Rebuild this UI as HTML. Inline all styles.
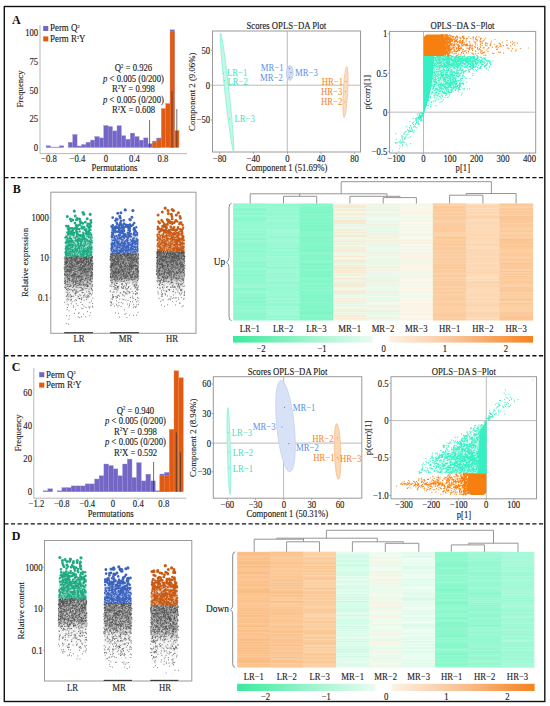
<!DOCTYPE html>
<html><head><meta charset="utf-8"><style>html,body{margin:0;padding:0;background:#fff;width:550px;height:706px;overflow:hidden}svg{display:block}text{font-family:"Liberation Serif",serif;stroke-width:0.12px}</style></head>
<body><svg width="550" height="706" viewBox="0 0 550 706" font-family="Liberation Serif, serif"><rect x="0" y="0" width="550" height="706" fill="#fff"/>
<rect x="46.1" y="145.8" width="4.4" height="1.8" fill="#7466c4" stroke="#9a90dc" stroke-width="0.35" />
<rect x="50.5" y="147" width="4.4" height="0.5" fill="#7466c4" stroke="#9a90dc" stroke-width="0.35" />
<rect x="55" y="147" width="4.4" height="0.5" fill="#7466c4" stroke="#9a90dc" stroke-width="0.35" />
<rect x="59.4" y="145.8" width="4.4" height="1.8" fill="#7466c4" stroke="#9a90dc" stroke-width="0.35" />
<rect x="68.2" y="142.3" width="4.4" height="5.2" fill="#7466c4" stroke="#9a90dc" stroke-width="0.35" />
<rect x="72.7" y="134.5" width="4.4" height="13" fill="#7466c4" stroke="#9a90dc" stroke-width="0.35" />
<rect x="77.1" y="146" width="4.4" height="1.5" fill="#7466c4" stroke="#9a90dc" stroke-width="0.35" />
<rect x="81.5" y="144.5" width="4.4" height="3" fill="#7466c4" stroke="#9a90dc" stroke-width="0.35" />
<rect x="86" y="142.3" width="4.4" height="5.2" fill="#7466c4" stroke="#9a90dc" stroke-width="0.35" />
<rect x="90.4" y="140.1" width="4.4" height="7.4" fill="#7466c4" stroke="#9a90dc" stroke-width="0.35" />
<rect x="94.8" y="136.5" width="4.4" height="11" fill="#7466c4" stroke="#9a90dc" stroke-width="0.35" />
<rect x="99.3" y="137.9" width="4.4" height="9.6" fill="#7466c4" stroke="#9a90dc" stroke-width="0.35" />
<rect x="103.7" y="125.5" width="4.4" height="22" fill="#7466c4" stroke="#9a90dc" stroke-width="0.35" />
<rect x="108.1" y="126.5" width="4.4" height="21" fill="#7466c4" stroke="#9a90dc" stroke-width="0.35" />
<rect x="112.5" y="130.9" width="4.4" height="16.6" fill="#7466c4" stroke="#9a90dc" stroke-width="0.35" />
<rect x="117" y="125.7" width="4.4" height="21.8" fill="#7466c4" stroke="#9a90dc" stroke-width="0.35" />
<rect x="121.4" y="135.7" width="4.4" height="11.8" fill="#7466c4" stroke="#9a90dc" stroke-width="0.35" />
<rect x="125.8" y="139.2" width="4.4" height="8.3" fill="#7466c4" stroke="#9a90dc" stroke-width="0.35" />
<rect x="130.3" y="133.1" width="4.4" height="14.4" fill="#7466c4" stroke="#9a90dc" stroke-width="0.35" />
<rect x="134.7" y="136.5" width="4.4" height="11" fill="#7466c4" stroke="#9a90dc" stroke-width="0.35" />
<rect x="139.1" y="140.1" width="4.4" height="7.4" fill="#7466c4" stroke="#9a90dc" stroke-width="0.35" />
<rect x="143.6" y="137.9" width="4.4" height="9.6" fill="#7466c4" stroke="#9a90dc" stroke-width="0.35" />
<rect x="148" y="143.8" width="4.4" height="3.7" fill="#7466c4" stroke="#9a90dc" stroke-width="0.35" />
<rect x="152.4" y="141.1" width="4.4" height="6.4" fill="#7466c4" stroke="#9a90dc" stroke-width="0.35" />
<rect x="156.8" y="138" width="4.4" height="9.5" fill="#7466c4" stroke="#9a90dc" stroke-width="0.35" />
<rect x="170.1" y="29.8" width="4.4" height="117.7" fill="#7466c4" stroke="#9a90dc" stroke-width="0.35" />
<rect x="152.4" y="142.8" width="4.4" height="4.7" fill="#e05a12" stroke="#f08a50" stroke-width="0.35" />
<rect x="156.8" y="139.5" width="4.4" height="8" fill="#e05a12" stroke="#f08a50" stroke-width="0.35" />
<rect x="161.3" y="108.5" width="4.4" height="39" fill="#e05a12" stroke="#f08a50" stroke-width="0.35" />
<rect x="165.7" y="103.5" width="4.4" height="44" fill="#e05a12" stroke="#f08a50" stroke-width="0.35" />
<rect x="170.1" y="31.5" width="4.4" height="116" fill="#e05a12" stroke="#f08a50" stroke-width="0.35" />
<rect x="174.6" y="130.5" width="4.4" height="17" fill="#e05a12" stroke="#f08a50" stroke-width="0.35" />
<line x1="149.6" y1="120" x2="149.6" y2="147.5" stroke="#333" stroke-width="0.7" />
<line x1="172" y1="91" x2="172" y2="147.5" stroke="#333" stroke-width="0.7" />
<line x1="176.8" y1="109" x2="176.8" y2="147.5" stroke="#333" stroke-width="0.7" />
<line x1="40" y1="25" x2="40" y2="153.6" stroke="#b0b0b0" stroke-width="0.9" />
<line x1="40" y1="153.6" x2="187" y2="153.6" stroke="#b0b0b0" stroke-width="0.9" />
<text font-size="8.7" text-anchor="end" fill="#222" stroke="#222" transform="translate(38.2,150.9) scale(1,1.1)" >0</text>
<text font-size="8.7" text-anchor="end" fill="#222" stroke="#222" transform="translate(38.2,122.4) scale(1,1.1)" >25</text>
<text font-size="8.7" text-anchor="end" fill="#222" stroke="#222" transform="translate(38.2,93.9) scale(1,1.1)" >50</text>
<text font-size="8.7" text-anchor="end" fill="#222" stroke="#222" transform="translate(38.2,65.1) scale(1,1.1)" >75</text>
<text font-size="8.7" text-anchor="end" fill="#222" stroke="#222" transform="translate(38.2,36.4) scale(1,1.1)" >100</text>
<line x1="49" y1="153.6" x2="49" y2="155.2" stroke="#aaa" stroke-width="0.8" />
<text font-size="8.7" text-anchor="middle" fill="#222" stroke="#222" transform="translate(49,162.4) scale(1,1.1)" >−0.8</text>
<line x1="77.5" y1="153.6" x2="77.5" y2="155.2" stroke="#aaa" stroke-width="0.8" />
<text font-size="8.7" text-anchor="middle" fill="#222" stroke="#222" transform="translate(77.5,162.4) scale(1,1.1)" >−0.4</text>
<line x1="106" y1="153.6" x2="106" y2="155.2" stroke="#aaa" stroke-width="0.8" />
<text font-size="8.7" text-anchor="middle" fill="#222" stroke="#222" transform="translate(106,162.4) scale(1,1.1)" >0</text>
<line x1="134.5" y1="153.6" x2="134.5" y2="155.2" stroke="#aaa" stroke-width="0.8" />
<text font-size="8.7" text-anchor="middle" fill="#222" stroke="#222" transform="translate(134.5,162.4) scale(1,1.1)" >0.4</text>
<line x1="163" y1="153.6" x2="163" y2="155.2" stroke="#aaa" stroke-width="0.8" />
<text font-size="8.7" text-anchor="middle" fill="#222" stroke="#222" transform="translate(163,162.4) scale(1,1.1)" >0.8</text>
<text font-size="8.7" text-anchor="middle" fill="#222" stroke="#222" transform="translate(114.5,170.9) scale(1,1.1)" >Permutations</text>
<text x="0" y="0" font-size="8.8" text-anchor="middle" fill="#222" stroke="#222" transform="translate(23.3,89) rotate(-90)">Frequency</text>
<rect x="43.2" y="26" width="5.1" height="5" fill="#7466c4" stroke="none" stroke-width="1" />
<rect x="43.2" y="36.4" width="5.1" height="5" fill="#e05a12" stroke="none" stroke-width="1" />
<text font-size="8.9" text-anchor="start" fill="#222" stroke="#222" transform="translate(50,31.3) scale(1,1.1)" >Perm Q<tspan font-size="4.4" dy="-3.0">2</tspan></text>
<text font-size="8.9" text-anchor="start" fill="#222" stroke="#222" transform="translate(50,42) scale(1,1.1)" >Perm R<tspan font-size="4.4" dy="-3.0">2</tspan><tspan dy="3.0">Y</tspan></text>
<text font-size="8.7" text-anchor="middle" fill="#222" stroke="#222" transform="translate(133.5,71.2) scale(1,1.1)" >Q<tspan font-size="4.6" dy="-3.0">2</tspan><tspan dy="3.0"> = 0.926</tspan></text>
<text font-size="8.7" text-anchor="middle" fill="#222" stroke="#222" transform="translate(133.5,81.8) scale(1,1.1)" ><tspan font-style="italic">p</tspan> &lt; 0.005 (0/200)</text>
<text font-size="8.7" text-anchor="middle" fill="#222" stroke="#222" transform="translate(133.5,92.3) scale(1,1.1)" >R<tspan font-size="4.6" dy="-3.0">2</tspan><tspan dy="3.0">Y = 0.998</tspan></text>
<text font-size="8.7" text-anchor="middle" fill="#222" stroke="#222" transform="translate(133.5,102.9) scale(1,1.1)" ><tspan font-style="italic">p</tspan> &lt; 0.005 (0/200)</text>
<text font-size="8.7" text-anchor="middle" fill="#222" stroke="#222" transform="translate(133.5,113.4) scale(1,1.1)" >R<tspan font-size="4.6" dy="-3.0">2</tspan><tspan dy="3.0">X = 0.608</tspan></text>
<rect x="43.2" y="490.8" width="4.7" height="1" fill="#7466c4" stroke="#9a90dc" stroke-width="0.35" />
<rect x="47.9" y="488.8" width="4.7" height="3" fill="#7466c4" stroke="#9a90dc" stroke-width="0.35" />
<rect x="57.2" y="490.8" width="4.7" height="1" fill="#7466c4" stroke="#9a90dc" stroke-width="0.35" />
<rect x="61.9" y="487.6" width="4.7" height="4.2" fill="#7466c4" stroke="#9a90dc" stroke-width="0.35" />
<rect x="66.6" y="487.6" width="4.7" height="4.2" fill="#7466c4" stroke="#9a90dc" stroke-width="0.35" />
<rect x="71.2" y="485.9" width="4.7" height="5.9" fill="#7466c4" stroke="#9a90dc" stroke-width="0.35" />
<rect x="75.9" y="485.9" width="4.7" height="5.9" fill="#7466c4" stroke="#9a90dc" stroke-width="0.35" />
<rect x="80.6" y="485.9" width="4.7" height="5.9" fill="#7466c4" stroke="#9a90dc" stroke-width="0.35" />
<rect x="85.2" y="483.9" width="4.7" height="7.9" fill="#7466c4" stroke="#9a90dc" stroke-width="0.35" />
<rect x="89.9" y="483.9" width="4.7" height="7.9" fill="#7466c4" stroke="#9a90dc" stroke-width="0.35" />
<rect x="94.6" y="479" width="4.7" height="12.8" fill="#7466c4" stroke="#9a90dc" stroke-width="0.35" />
<rect x="99.2" y="475.8" width="4.7" height="16" fill="#7466c4" stroke="#9a90dc" stroke-width="0.35" />
<rect x="103.9" y="464" width="4.7" height="27.8" fill="#7466c4" stroke="#9a90dc" stroke-width="0.35" />
<rect x="108.6" y="465.6" width="4.7" height="26.2" fill="#7466c4" stroke="#9a90dc" stroke-width="0.35" />
<rect x="113.2" y="468.9" width="4.7" height="22.9" fill="#7466c4" stroke="#9a90dc" stroke-width="0.35" />
<rect x="117.9" y="475.8" width="4.7" height="16" fill="#7466c4" stroke="#9a90dc" stroke-width="0.35" />
<rect x="122.6" y="464" width="4.7" height="27.8" fill="#7466c4" stroke="#9a90dc" stroke-width="0.35" />
<rect x="127.3" y="459.1" width="4.7" height="32.7" fill="#7466c4" stroke="#9a90dc" stroke-width="0.35" />
<rect x="131.9" y="477.5" width="4.7" height="14.3" fill="#7466c4" stroke="#9a90dc" stroke-width="0.35" />
<rect x="136.6" y="462.7" width="4.7" height="29.1" fill="#7466c4" stroke="#9a90dc" stroke-width="0.35" />
<rect x="141.3" y="480.9" width="4.7" height="10.9" fill="#7466c4" stroke="#9a90dc" stroke-width="0.35" />
<rect x="145.9" y="474.2" width="4.7" height="17.6" fill="#7466c4" stroke="#9a90dc" stroke-width="0.35" />
<rect x="150.6" y="480.9" width="4.7" height="10.9" fill="#7466c4" stroke="#9a90dc" stroke-width="0.35" />
<rect x="155.3" y="490.8" width="4.7" height="1" fill="#7466c4" stroke="#9a90dc" stroke-width="0.35" />
<rect x="159.9" y="474" width="4.7" height="17.8" fill="#7466c4" stroke="#9a90dc" stroke-width="0.35" />
<rect x="164.6" y="472.4" width="4.7" height="19.4" fill="#7466c4" stroke="#9a90dc" stroke-width="0.35" />
<rect x="159.9" y="475.5" width="4.7" height="16.3" fill="#e05a12" stroke="#f08a50" stroke-width="0.35" />
<rect x="164.6" y="475.5" width="4.7" height="16.3" fill="#e05a12" stroke="#f08a50" stroke-width="0.35" />
<rect x="169.3" y="429.3" width="4.7" height="62.5" fill="#e05a12" stroke="#f08a50" stroke-width="0.35" />
<rect x="174" y="370.8" width="4.7" height="121" fill="#e05a12" stroke="#f08a50" stroke-width="0.35" />
<rect x="178.6" y="377.8" width="4.7" height="114" fill="#e05a12" stroke="#f08a50" stroke-width="0.35" />
<line x1="153.6" y1="462" x2="153.6" y2="491.8" stroke="#333" stroke-width="0.7" />
<line x1="176.4" y1="432.4" x2="176.4" y2="491.8" stroke="#333" stroke-width="0.7" />
<line x1="180.4" y1="452" x2="180.4" y2="491.8" stroke="#333" stroke-width="0.7" />
<line x1="33.8" y1="368" x2="33.8" y2="498.2" stroke="#b0b0b0" stroke-width="0.9" />
<line x1="33.8" y1="498.2" x2="186.3" y2="498.2" stroke="#b0b0b0" stroke-width="0.9" />
<text font-size="8.7" text-anchor="end" fill="#222" stroke="#222" transform="translate(32,495.2) scale(1,1.1)" >0</text>
<text font-size="8.7" text-anchor="end" fill="#222" stroke="#222" transform="translate(32,462.1) scale(1,1.1)" >20</text>
<text font-size="8.7" text-anchor="end" fill="#222" stroke="#222" transform="translate(32,429.3) scale(1,1.1)" >40</text>
<text font-size="8.7" text-anchor="end" fill="#222" stroke="#222" transform="translate(32,395.7) scale(1,1.1)" >60</text>
<line x1="36.4" y1="498.2" x2="36.4" y2="499.8" stroke="#aaa" stroke-width="0.8" />
<text font-size="8.7" text-anchor="middle" fill="#222" stroke="#222" transform="translate(36.4,507) scale(1,1.1)" >−1.2</text>
<line x1="61.8" y1="498.2" x2="61.8" y2="499.8" stroke="#aaa" stroke-width="0.8" />
<text font-size="8.7" text-anchor="middle" fill="#222" stroke="#222" transform="translate(61.8,507) scale(1,1.1)" >−0.8</text>
<line x1="87.3" y1="498.2" x2="87.3" y2="499.8" stroke="#aaa" stroke-width="0.8" />
<text font-size="8.7" text-anchor="middle" fill="#222" stroke="#222" transform="translate(87.3,507) scale(1,1.1)" >−0.4</text>
<line x1="112.8" y1="498.2" x2="112.8" y2="499.8" stroke="#aaa" stroke-width="0.8" />
<text font-size="8.7" text-anchor="middle" fill="#222" stroke="#222" transform="translate(112.8,507) scale(1,1.1)" >0</text>
<line x1="138.3" y1="498.2" x2="138.3" y2="499.8" stroke="#aaa" stroke-width="0.8" />
<text font-size="8.7" text-anchor="middle" fill="#222" stroke="#222" transform="translate(138.3,507) scale(1,1.1)" >0.4</text>
<line x1="163.8" y1="498.2" x2="163.8" y2="499.8" stroke="#aaa" stroke-width="0.8" />
<text font-size="8.7" text-anchor="middle" fill="#222" stroke="#222" transform="translate(163.8,507) scale(1,1.1)" >0.8</text>
<text font-size="8.7" text-anchor="middle" fill="#222" stroke="#222" transform="translate(110.7,516.6) scale(1,1.1)" >Permutations</text>
<text x="0" y="0" font-size="8.8" text-anchor="middle" fill="#222" stroke="#222" transform="translate(21.1,433) rotate(-90)">Frequency</text>
<rect x="39.2" y="372.2" width="5.1" height="5" fill="#7466c4" stroke="none" stroke-width="1" />
<rect x="39.2" y="382.6" width="5.1" height="5" fill="#e05a12" stroke="none" stroke-width="1" />
<text font-size="8.9" text-anchor="start" fill="#222" stroke="#222" transform="translate(46,377.5) scale(1,1.1)" >Perm Q<tspan font-size="4.4" dy="-3.0">2</tspan></text>
<text font-size="8.9" text-anchor="start" fill="#222" stroke="#222" transform="translate(46,388.2) scale(1,1.1)" >Perm R<tspan font-size="4.4" dy="-3.0">2</tspan><tspan dy="3.0">Y</tspan></text>
<text font-size="8.7" text-anchor="middle" fill="#222" stroke="#222" transform="translate(135.5,413.6) scale(1,1.1)" >Q<tspan font-size="4.6" dy="-3.0">2</tspan><tspan dy="3.0"> = 0.940</tspan></text>
<text font-size="8.7" text-anchor="middle" fill="#222" stroke="#222" transform="translate(135.5,424.1) scale(1,1.1)" ><tspan font-style="italic">p</tspan> &lt; 0.005 (0/200)</text>
<text font-size="8.7" text-anchor="middle" fill="#222" stroke="#222" transform="translate(135.5,434.7) scale(1,1.1)" >R<tspan font-size="4.6" dy="-3.0">2</tspan><tspan dy="3.0">Y = 0.998</tspan></text>
<text font-size="8.7" text-anchor="middle" fill="#222" stroke="#222" transform="translate(135.5,445.2) scale(1,1.1)" ><tspan font-style="italic">p</tspan> &lt; 0.005 (0/200)</text>
<text font-size="8.7" text-anchor="middle" fill="#222" stroke="#222" transform="translate(135.5,455.8) scale(1,1.1)" >R<tspan font-size="4.6" dy="-3.0">2</tspan><tspan dy="3.0">X = 0.592</tspan></text>
<rect x="212.5" y="31" width="148" height="121" fill="none" stroke="#999" stroke-width="1" />
<line x1="287.3" y1="31" x2="287.3" y2="152" stroke="#aaa" stroke-width="0.8" />
<line x1="212.5" y1="85.2" x2="360.5" y2="85.2" stroke="#aaa" stroke-width="0.8" />
<line x1="210.7" y1="50.2" x2="212.5" y2="50.2" stroke="#999" stroke-width="0.8" />
<text font-size="8.7" text-anchor="end" fill="#222" stroke="#222" transform="translate(210.2,53.6) scale(1,1.1)" >50</text>
<line x1="210.7" y1="85.2" x2="212.5" y2="85.2" stroke="#999" stroke-width="0.8" />
<text font-size="8.7" text-anchor="end" fill="#222" stroke="#222" transform="translate(210.2,88.6) scale(1,1.1)" >0</text>
<line x1="210.7" y1="120" x2="212.5" y2="120" stroke="#999" stroke-width="0.8" />
<text font-size="8.7" text-anchor="end" fill="#222" stroke="#222" transform="translate(210.2,123.4) scale(1,1.1)" >−50</text>
<line x1="219.6" y1="152" x2="219.6" y2="153.8" stroke="#999" stroke-width="0.8" />
<text font-size="8.7" text-anchor="middle" fill="#222" stroke="#222" transform="translate(219.6,161.8) scale(1,1.1)" >−80</text>
<line x1="253.3" y1="152" x2="253.3" y2="153.8" stroke="#999" stroke-width="0.8" />
<text font-size="8.7" text-anchor="middle" fill="#222" stroke="#222" transform="translate(253.3,161.8) scale(1,1.1)" >−40</text>
<line x1="287.5" y1="152" x2="287.5" y2="153.8" stroke="#999" stroke-width="0.8" />
<text font-size="8.7" text-anchor="middle" fill="#222" stroke="#222" transform="translate(287.5,161.8) scale(1,1.1)" >0</text>
<line x1="321" y1="152" x2="321" y2="153.8" stroke="#999" stroke-width="0.8" />
<text font-size="8.7" text-anchor="middle" fill="#222" stroke="#222" transform="translate(321,161.8) scale(1,1.1)" >40</text>
<line x1="354.5" y1="152" x2="354.5" y2="153.8" stroke="#999" stroke-width="0.8" />
<text font-size="8.7" text-anchor="middle" fill="#222" stroke="#222" transform="translate(354.5,161.8) scale(1,1.1)" >80</text>
<text font-size="8.7" text-anchor="middle" fill="#222" stroke="#222" transform="translate(286.3,28.8) scale(1,1.1)" >Scores OPLS−DA Plot</text>
<text font-size="8.7" text-anchor="middle" fill="#222" stroke="#222" transform="translate(286.5,171) scale(1,1.1)" >Component 1 (51.69%)</text>
<text x="0" y="0" font-size="8.8" text-anchor="middle" fill="#222" stroke="#222" transform="translate(194.9,91.7) rotate(-90)">Component 2 (9.06%)</text>
<ellipse cx="0" cy="0" rx="59.4" ry="2.1" fill="#c2f8e8" fill-opacity="1.0" stroke="#80eed2" stroke-width="0.7" transform="translate(227.00,92.00) rotate(83.71)"/>
<ellipse cx="0" cy="0" rx="7.4" ry="3.4" fill="#d0dcf5" fill-opacity="1.0" stroke="#b8caee" stroke-width="0.7" transform="translate(289.80,73.00) rotate(90.00)"/>
<ellipse cx="0" cy="0" rx="25.6" ry="2.2" fill="#fcdcbe" fill-opacity="1.0" stroke="#f6bd90" stroke-width="0.7" transform="translate(345.45,92.05) rotate(93.02)"/>
<path d="M223.5 73.5h0" stroke="#3fe3b8" stroke-width="1.2" stroke-linecap="round" fill="none" opacity="1.0"/>
<path d="M224.5 80.5h0" stroke="#3fe3b8" stroke-width="1.2" stroke-linecap="round" fill="none" opacity="1.0"/>
<path d="M229.5 119.0h0" stroke="#3fe3b8" stroke-width="1.2" stroke-linecap="round" fill="none" opacity="1.0"/>
<path d="M289.5 68.5h0" stroke="#4a78d8" stroke-width="1.2" stroke-linecap="round" fill="none" opacity="1.0"/>
<path d="M289.5 77.5h0" stroke="#4a78d8" stroke-width="1.2" stroke-linecap="round" fill="none" opacity="1.0"/>
<path d="M291.0 72.5h0" stroke="#4a78d8" stroke-width="1.2" stroke-linecap="round" fill="none" opacity="1.0"/>
<path d="M346.0 81.5h0" stroke="#f5841f" stroke-width="1.2" stroke-linecap="round" fill="none" opacity="1.0"/>
<path d="M345.5 91.5h0" stroke="#f5841f" stroke-width="1.2" stroke-linecap="round" fill="none" opacity="1.0"/>
<path d="M345.0 102.0h0" stroke="#f5841f" stroke-width="1.2" stroke-linecap="round" fill="none" opacity="1.0"/>
<text font-size="8.7" text-anchor="start" fill="#3fe3b8"  transform="translate(227,76.4) scale(1,1.1)" >LR−1</text>
<text font-size="8.7" text-anchor="start" fill="#3fe3b8"  transform="translate(227.5,84.7) scale(1,1.1)" >LR−2</text>
<text font-size="8.7" text-anchor="start" fill="#3fe3b8"  transform="translate(234.4,122.2) scale(1,1.1)" >LR−3</text>
<text font-size="8.7" text-anchor="end" fill="#5b8fe8"  transform="translate(283.5,71.1) scale(1,1.1)" >MR−1</text>
<text font-size="8.7" text-anchor="end" fill="#5b8fe8"  transform="translate(282.8,81.1) scale(1,1.1)" >MR−2</text>
<text font-size="8.7" text-anchor="start" fill="#5b8fe8"  transform="translate(295,75.7) scale(1,1.1)" >MR−3</text>
<text font-size="8.7" text-anchor="end" fill="#f5841f"  transform="translate(343,84.7) scale(1,1.1)" >HR−1</text>
<text font-size="8.7" text-anchor="end" fill="#f5841f"  transform="translate(342.3,94.9) scale(1,1.1)" >HR−3</text>
<text font-size="8.7" text-anchor="end" fill="#f5841f"  transform="translate(342.3,105.2) scale(1,1.1)" >HR−2</text>
<rect x="213.3" y="376.7" width="148.5" height="121.5" fill="none" stroke="#999" stroke-width="1" />
<line x1="283.6" y1="376.7" x2="283.6" y2="498.2" stroke="#aaa" stroke-width="0.8" />
<line x1="213.3" y1="443.1" x2="361.8" y2="443.1" stroke="#aaa" stroke-width="0.8" />
<line x1="211.5" y1="384" x2="213.3" y2="384" stroke="#999" stroke-width="0.8" />
<text font-size="8.7" text-anchor="end" fill="#222" stroke="#222" transform="translate(211,387.4) scale(1,1.1)" >60</text>
<line x1="211.5" y1="413.5" x2="213.3" y2="413.5" stroke="#999" stroke-width="0.8" />
<text font-size="8.7" text-anchor="end" fill="#222" stroke="#222" transform="translate(211,416.9) scale(1,1.1)" >30</text>
<line x1="211.5" y1="443.1" x2="213.3" y2="443.1" stroke="#999" stroke-width="0.8" />
<text font-size="8.7" text-anchor="end" fill="#222" stroke="#222" transform="translate(211,446.5) scale(1,1.1)" >0</text>
<line x1="211.5" y1="471.8" x2="213.3" y2="471.8" stroke="#999" stroke-width="0.8" />
<text font-size="8.7" text-anchor="end" fill="#222" stroke="#222" transform="translate(211,475.2) scale(1,1.1)" >−30</text>
<line x1="227.3" y1="498.2" x2="227.3" y2="500" stroke="#999" stroke-width="0.8" />
<text font-size="8.7" text-anchor="middle" fill="#222" stroke="#222" transform="translate(227.3,508) scale(1,1.1)" >−60</text>
<line x1="255.5" y1="498.2" x2="255.5" y2="500" stroke="#999" stroke-width="0.8" />
<text font-size="8.7" text-anchor="middle" fill="#222" stroke="#222" transform="translate(255.5,508) scale(1,1.1)" >−30</text>
<line x1="283.8" y1="498.2" x2="283.8" y2="500" stroke="#999" stroke-width="0.8" />
<text font-size="8.7" text-anchor="middle" fill="#222" stroke="#222" transform="translate(283.8,508) scale(1,1.1)" >0</text>
<line x1="311.8" y1="498.2" x2="311.8" y2="500" stroke="#999" stroke-width="0.8" />
<text font-size="8.7" text-anchor="middle" fill="#222" stroke="#222" transform="translate(311.8,508) scale(1,1.1)" >30</text>
<line x1="340" y1="498.2" x2="340" y2="500" stroke="#999" stroke-width="0.8" />
<text font-size="8.7" text-anchor="middle" fill="#222" stroke="#222" transform="translate(340,508) scale(1,1.1)" >60</text>
<text font-size="8.7" text-anchor="middle" fill="#222" stroke="#222" transform="translate(287.5,374.9) scale(1,1.1)" >Scores OPLS−DA Plot</text>
<text font-size="8.7" text-anchor="middle" fill="#222" stroke="#222" transform="translate(287.3,516.8) scale(1,1.1)" >Component 1 (50.31%)</text>
<text x="0" y="0" font-size="8.8" text-anchor="middle" fill="#222" stroke="#222" transform="translate(195.6,437.9) rotate(-90)">Component 2 (8.94%)</text>
<ellipse cx="0" cy="0" rx="43.5" ry="1.5" fill="#c2f8e8" fill-opacity="1.0" stroke="#80eed2" stroke-width="0.7" transform="translate(228.90,451.05) rotate(88.55)"/>
<ellipse cx="0" cy="0" rx="45.9" ry="8.8" fill="#d8e2f7" fill-opacity="1.0" stroke="#c0d0f0" stroke-width="0.7" transform="translate(285.50,426.10) rotate(84.38)"/>
<ellipse cx="0" cy="0" rx="28" ry="3.2" fill="#fcd7b6" fill-opacity="1.0" stroke="#f5b888" stroke-width="0.7" transform="translate(337.60,451.55) rotate(88.16)"/>
<path d="M228.3 432.5h0" stroke="#3fe3b8" stroke-width="1.2" stroke-linecap="round" fill="none" opacity="1.0"/>
<path d="M228.8 452.0h0" stroke="#3fe3b8" stroke-width="1.2" stroke-linecap="round" fill="none" opacity="1.0"/>
<path d="M229.2 468.0h0" stroke="#3fe3b8" stroke-width="1.2" stroke-linecap="round" fill="none" opacity="1.0"/>
<path d="M284.5 407.3h0" stroke="#4a78d8" stroke-width="1.2" stroke-linecap="round" fill="none" opacity="1.0"/>
<path d="M282.0 427.0h0" stroke="#4a78d8" stroke-width="1.2" stroke-linecap="round" fill="none" opacity="1.0"/>
<path d="M288.7 443.5h0" stroke="#4a78d8" stroke-width="1.2" stroke-linecap="round" fill="none" opacity="1.0"/>
<path d="M337.5 438.0h0" stroke="#f5841f" stroke-width="1.2" stroke-linecap="round" fill="none" opacity="1.0"/>
<path d="M337.5 457.3h0" stroke="#f5841f" stroke-width="1.2" stroke-linecap="round" fill="none" opacity="1.0"/>
<path d="M338.5 459.0h0" stroke="#f5841f" stroke-width="1.2" stroke-linecap="round" fill="none" opacity="1.0"/>
<text font-size="8.7" text-anchor="start" fill="#3fe3b8"  transform="translate(231.8,436.1) scale(1,1.1)" >LR−3</text>
<text font-size="8.7" text-anchor="start" fill="#3fe3b8"  transform="translate(232.7,455.6) scale(1,1.1)" >LR−2</text>
<text font-size="8.7" text-anchor="start" fill="#3fe3b8"  transform="translate(232.7,471.6) scale(1,1.1)" >LR−1</text>
<text font-size="8.7" text-anchor="start" fill="#5b8fe8"  transform="translate(292.7,410.7) scale(1,1.1)" >MR−1</text>
<text font-size="8.7" text-anchor="end" fill="#5b8fe8"  transform="translate(275.5,430.3) scale(1,1.1)" >MR−3</text>
<text font-size="8.7" text-anchor="start" fill="#5b8fe8"  transform="translate(296,451.2) scale(1,1.1)" >MR−2</text>
<text font-size="8.7" text-anchor="end" fill="#f5841f"  transform="translate(333.6,441.6) scale(1,1.1)" >HR−2</text>
<text font-size="8.7" text-anchor="end" fill="#f5841f"  transform="translate(334.5,460.7) scale(1,1.1)" >HR−1</text>
<text font-size="8.7" text-anchor="start" fill="#f5841f"  transform="translate(340,462.4) scale(1,1.1)" >HR−3</text>
<rect x="389.6" y="31.4" width="146.1" height="121.6" fill="none" stroke="#999" stroke-width="1" />
<line x1="423.5" y1="31.4" x2="423.5" y2="153" stroke="#aaa" stroke-width="0.8" />
<line x1="389.6" y1="112.2" x2="535.7" y2="112.2" stroke="#aaa" stroke-width="0.8" />
<line x1="387.8" y1="33.8" x2="389.6" y2="33.8" stroke="#999" stroke-width="0.8" />
<text font-size="8.7" text-anchor="end" fill="#222" stroke="#222" transform="translate(387.3,37.2) scale(1,1.1)" >1</text>
<line x1="387.8" y1="73.1" x2="389.6" y2="73.1" stroke="#999" stroke-width="0.8" />
<text font-size="8.7" text-anchor="end" fill="#222" stroke="#222" transform="translate(387.3,76.5) scale(1,1.1)" >0.5</text>
<line x1="387.8" y1="112.3" x2="389.6" y2="112.3" stroke="#999" stroke-width="0.8" />
<text font-size="8.7" text-anchor="end" fill="#222" stroke="#222" transform="translate(387.3,115.7) scale(1,1.1)" >0</text>
<line x1="387.8" y1="151.4" x2="389.6" y2="151.4" stroke="#999" stroke-width="0.8" />
<text font-size="8.7" text-anchor="end" fill="#222" stroke="#222" transform="translate(387.3,154.8) scale(1,1.1)" >−0.5</text>
<line x1="396.2" y1="153" x2="396.2" y2="154.8" stroke="#999" stroke-width="0.8" />
<text font-size="8.7" text-anchor="middle" fill="#222" stroke="#222" transform="translate(396.2,162.4) scale(1,1.1)" >−100</text>
<line x1="423.3" y1="153" x2="423.3" y2="154.8" stroke="#999" stroke-width="0.8" />
<text font-size="8.7" text-anchor="middle" fill="#222" stroke="#222" transform="translate(423.3,162.4) scale(1,1.1)" >0</text>
<line x1="450" y1="153" x2="450" y2="154.8" stroke="#999" stroke-width="0.8" />
<text font-size="8.7" text-anchor="middle" fill="#222" stroke="#222" transform="translate(450,162.4) scale(1,1.1)" >100</text>
<line x1="476.5" y1="153" x2="476.5" y2="154.8" stroke="#999" stroke-width="0.8" />
<text font-size="8.7" text-anchor="middle" fill="#222" stroke="#222" transform="translate(476.5,162.4) scale(1,1.1)" >200</text>
<line x1="503" y1="153" x2="503" y2="154.8" stroke="#999" stroke-width="0.8" />
<text font-size="8.7" text-anchor="middle" fill="#222" stroke="#222" transform="translate(503,162.4) scale(1,1.1)" >300</text>
<line x1="529.5" y1="153" x2="529.5" y2="154.8" stroke="#999" stroke-width="0.8" />
<text font-size="8.7" text-anchor="middle" fill="#222" stroke="#222" transform="translate(529.5,162.4) scale(1,1.1)" >400</text>
<text font-size="8.7" text-anchor="middle" fill="#222" stroke="#222" transform="translate(462.5,28.8) scale(1,1.1)" >OPLS−DA S−Plot</text>
<text font-size="8.7" text-anchor="middle" fill="#222" stroke="#222" transform="translate(462.8,170.9) scale(1,1.1)" >p[1]</text>
<text x="0" y="0" font-size="8.8" text-anchor="middle" fill="#222" stroke="#222" transform="translate(370.2,92.2) rotate(-90)">p(corr)[1]</text>
<rect x="391" y="376.7" width="145.5" height="122.1" fill="none" stroke="#999" stroke-width="1" />
<line x1="486.3" y1="376.7" x2="486.3" y2="498.8" stroke="#aaa" stroke-width="0.8" />
<line x1="391" y1="420.6" x2="536.5" y2="420.6" stroke="#aaa" stroke-width="0.8" />
<line x1="389.2" y1="383.4" x2="391" y2="383.4" stroke="#999" stroke-width="0.8" />
<text font-size="8.7" text-anchor="end" fill="#222" stroke="#222" transform="translate(388.7,386.8) scale(1,1.1)" >0.5</text>
<line x1="389.2" y1="420.5" x2="391" y2="420.5" stroke="#999" stroke-width="0.8" />
<text font-size="8.7" text-anchor="end" fill="#222" stroke="#222" transform="translate(388.7,423.9) scale(1,1.1)" >0</text>
<line x1="389.2" y1="457.8" x2="391" y2="457.8" stroke="#999" stroke-width="0.8" />
<text font-size="8.7" text-anchor="end" fill="#222" stroke="#222" transform="translate(388.7,461.2) scale(1,1.1)" >−0.5</text>
<line x1="389.2" y1="495.5" x2="391" y2="495.5" stroke="#999" stroke-width="0.8" />
<text font-size="8.7" text-anchor="end" fill="#222" stroke="#222" transform="translate(388.7,498.9) scale(1,1.1)" >−1.0</text>
<line x1="404" y1="498.8" x2="404" y2="500.6" stroke="#999" stroke-width="0.8" />
<text font-size="8.7" text-anchor="middle" fill="#222" stroke="#222" transform="translate(404,508.2) scale(1,1.1)" >−300</text>
<line x1="431.2" y1="498.8" x2="431.2" y2="500.6" stroke="#999" stroke-width="0.8" />
<text font-size="8.7" text-anchor="middle" fill="#222" stroke="#222" transform="translate(431.2,508.2) scale(1,1.1)" >−200</text>
<line x1="458.7" y1="498.8" x2="458.7" y2="500.6" stroke="#999" stroke-width="0.8" />
<text font-size="8.7" text-anchor="middle" fill="#222" stroke="#222" transform="translate(458.7,508.2) scale(1,1.1)" >−100</text>
<line x1="486.2" y1="498.8" x2="486.2" y2="500.6" stroke="#999" stroke-width="0.8" />
<text font-size="8.7" text-anchor="middle" fill="#222" stroke="#222" transform="translate(486.2,508.2) scale(1,1.1)" >0</text>
<line x1="513.7" y1="498.8" x2="513.7" y2="500.6" stroke="#999" stroke-width="0.8" />
<text font-size="8.7" text-anchor="middle" fill="#222" stroke="#222" transform="translate(513.7,508.2) scale(1,1.1)" >100</text>
<text font-size="8.7" text-anchor="middle" fill="#222" stroke="#222" transform="translate(463.8,374.8) scale(1,1.1)" >OPLS−DA S−Plot</text>
<text font-size="8.7" text-anchor="middle" fill="#222" stroke="#222" transform="translate(464,517.7) scale(1,1.1)" >p[1]</text>
<text x="0" y="0" font-size="8.8" text-anchor="middle" fill="#222" stroke="#222" transform="translate(370.5,437.8) rotate(-90)">p(corr)[1]</text>
<path d="M433.0 55.9L470.0 55.9L478.0 62.0L462.0 68.0L455.0 76.0L458.0 88.0L447.0 92.0L434.0 100.0L430.0 80.0Z" fill="#34f0c2" fill-opacity="0.22"/>
<path d="M456.1 73.0h0M441.4 81.0h0M434.8 90.4h0M459.3 83.9h0M437.6 76.7h0M481.2 64.6h0M475.1 61.1h0M448.7 89.6h0M450.6 74.1h0M470.6 64.4h0M440.3 78.6h0M449.8 79.0h0M425.4 76.9h0M439.4 67.1h0M451.3 67.3h0M436.4 59.4h0M426.9 57.6h0M441.2 69.9h0M463.0 58.1h0M435.2 94.1h0M437.0 88.2h0M482.9 58.8h0M445.7 62.2h0M465.9 61.3h0M485.6 65.0h0M430.7 77.3h0M449.8 76.8h0M438.6 69.8h0M455.4 60.5h0M463.8 72.8h0M476.6 63.3h0M432.8 60.5h0M466.7 66.4h0M473.0 61.4h0M451.1 92.0h0M449.9 79.5h0M487.5 62.8h0M438.8 99.2h0M456.5 57.7h0M440.8 78.1h0M432.4 57.8h0M442.1 85.6h0M484.2 66.0h0M434.5 84.9h0M451.8 87.3h0M473.1 57.8h0M452.8 66.2h0M448.1 81.1h0M458.0 67.0h0M443.7 73.1h0M472.9 66.9h0M457.6 63.9h0M468.0 63.5h0M425.5 66.2h0M456.6 56.7h0M485.1 62.3h0M429.1 63.3h0M471.3 67.9h0M472.4 63.2h0M431.8 85.0h0M454.8 72.1h0M429.0 68.3h0M435.7 59.5h0M445.9 58.2h0M434.3 60.5h0M457.7 65.2h0M430.7 69.9h0M428.6 65.5h0M454.0 63.8h0M458.9 65.2h0M443.4 58.8h0M464.4 71.7h0M430.8 61.1h0M456.4 81.1h0M453.7 63.8h0M439.6 69.1h0M436.6 61.9h0M467.8 57.8h0M434.4 95.7h0M447.0 74.4h0M426.1 86.9h0M437.7 74.7h0M437.9 95.8h0M430.2 73.8h0M438.9 57.3h0M467.6 61.6h0M446.8 60.8h0M466.5 61.6h0M428.3 63.2h0M455.1 65.9h0M458.6 61.3h0M489.4 62.9h0M461.1 59.1h0M469.5 59.1h0M450.0 75.6h0M441.6 91.0h0M443.8 63.0h0M433.5 56.6h0M453.0 80.1h0M470.3 61.2h0M424.7 65.0h0M445.8 62.0h0M450.7 84.7h0M456.2 82.1h0M465.6 60.1h0M446.5 88.0h0M429.4 62.6h0M454.8 64.2h0M424.6 66.8h0M469.1 72.2h0M465.2 58.9h0M459.0 60.8h0M457.0 62.9h0M441.8 87.2h0M487.9 60.7h0M430.6 96.9h0M474.5 58.3h0M458.3 58.7h0M466.4 58.5h0M447.8 60.1h0M452.3 76.5h0M443.2 69.5h0M448.6 87.1h0M437.6 59.3h0M446.0 93.0h0M446.0 83.4h0M462.7 56.9h0M438.9 77.6h0M448.3 61.8h0M475.4 63.4h0M444.6 78.2h0M436.8 61.0h0M447.1 74.3h0M457.8 76.7h0M438.8 84.5h0M454.3 75.8h0M453.3 67.0h0M433.8 87.1h0M436.8 61.6h0M455.7 56.6h0M479.0 59.8h0M439.9 61.7h0M450.8 80.7h0M473.9 61.8h0M436.9 56.1h0M469.5 59.7h0M460.8 60.4h0M428.1 66.6h0M452.4 74.0h0M480.3 57.1h0M481.3 63.8h0M442.4 76.9h0M473.9 56.2h0M434.9 68.1h0M446.6 59.3h0M454.8 72.1h0M446.7 77.1h0M441.3 70.4h0M451.2 57.0h0M426.2 66.8h0M455.7 65.6h0M459.6 85.1h0M454.0 58.1h0M444.1 86.2h0M437.3 95.6h0M455.8 83.9h0M455.2 78.7h0M444.2 70.8h0M477.9 62.3h0M460.2 73.5h0M449.6 84.2h0M453.5 81.3h0M452.1 89.5h0M439.9 57.7h0M424.6 84.0h0M447.8 60.8h0M447.4 66.9h0M445.0 77.5h0M443.0 85.3h0M461.0 58.7h0M452.1 74.7h0M439.7 74.6h0M487.2 63.1h0M435.9 83.8h0M434.9 77.3h0M440.2 65.9h0M432.2 59.6h0M428.9 63.4h0M445.4 84.6h0M462.4 76.2h0M425.0 59.8h0M431.7 92.3h0M431.6 61.9h0M431.1 82.9h0M428.3 62.7h0M438.7 57.3h0M454.5 61.7h0M445.7 88.3h0M479.2 63.9h0M448.8 61.3h0M442.8 66.3h0M463.4 71.7h0M448.1 69.9h0M451.7 89.4h0M431.0 85.8h0M436.9 98.9h0M428.7 60.6h0M466.1 70.7h0M460.7 61.0h0M430.3 83.7h0M453.1 91.7h0M439.2 61.8h0M439.0 84.0h0M441.9 60.3h0M444.5 92.6h0M466.4 59.6h0M444.2 63.2h0M475.5 66.9h0M455.9 81.9h0M482.0 64.5h0M450.8 72.0h0M450.1 81.1h0M439.0 71.0h0M441.7 84.9h0M468.2 63.7h0M471.8 58.0h0M456.9 71.1h0M441.1 59.5h0M448.3 83.5h0M453.3 84.5h0M489.3 66.1h0M425.1 62.3h0M461.1 70.5h0M438.4 60.1h0M457.8 61.9h0M453.0 78.5h0M430.2 58.7h0M436.5 59.3h0M451.2 69.8h0M427.2 58.4h0M457.8 68.4h0M454.7 86.8h0M446.5 60.7h0M465.2 64.4h0M441.3 66.6h0M447.4 88.9h0M459.7 59.9h0M472.6 60.2h0M475.1 60.5h0M452.9 74.9h0M438.5 80.2h0M430.5 59.0h0M444.8 67.1h0M463.0 69.2h0M445.7 74.7h0M457.2 59.1h0M430.6 57.2h0M477.7 56.1h0M451.9 71.0h0M440.2 61.7h0M451.2 81.0h0M431.4 85.8h0M465.7 59.0h0M451.4 59.9h0M462.5 58.7h0M466.0 67.1h0M484.6 58.8h0M461.6 58.8h0M451.3 64.0h0M427.3 60.8h0M448.7 69.3h0M424.2 56.8h0M444.3 78.5h0M470.7 61.5h0M456.7 67.2h0M460.0 59.7h0M424.3 82.8h0M460.4 60.9h0M464.2 76.7h0M445.0 56.5h0M464.1 59.9h0M440.4 77.8h0M473.9 65.6h0M453.3 77.9h0M454.4 82.4h0M435.2 80.4h0M473.5 58.2h0M447.5 62.2h0M445.2 57.0h0M427.4 61.4h0M461.2 73.2h0M459.0 65.5h0M426.9 58.0h0M424.8 60.6h0M454.1 60.7h0M481.0 68.5h0M440.6 63.6h0M458.6 91.3h0M437.0 62.5h0M449.6 63.7h0M435.2 92.8h0M462.6 56.5h0M448.6 65.9h0M428.6 56.6h0M453.2 80.7h0M436.1 82.6h0M425.9 56.2h0M444.6 79.7h0M443.6 92.7h0M465.8 63.3h0M430.4 78.1h0M438.8 61.1h0M445.2 65.3h0M480.6 67.5h0M436.3 61.4h0M425.5 58.1h0M449.7 85.0h0M430.3 56.0h0M484.7 67.2h0M428.3 61.1h0M435.4 58.5h0M467.3 56.9h0M438.5 63.6h0M444.6 64.3h0M477.1 63.0h0M461.1 61.9h0M435.2 74.4h0M459.0 65.0h0M432.4 74.4h0M450.3 78.5h0M442.7 96.8h0M446.1 79.6h0M439.5 60.3h0M432.4 70.1h0M465.6 64.7h0M454.6 77.9h0M435.4 67.0h0M462.0 71.8h0M490.4 64.5h0M452.7 63.2h0M443.3 79.0h0M476.9 60.5h0M459.6 89.1h0M429.9 59.9h0M432.5 72.6h0M445.4 81.6h0M446.9 83.3h0M424.2 59.1h0M456.8 66.5h0M453.1 60.5h0M448.5 67.9h0M448.3 76.2h0M456.5 62.2h0M461.8 61.3h0M441.4 64.7h0M436.4 64.4h0M456.3 84.3h0M453.2 83.0h0M450.7 64.1h0M490.4 64.1h0M426.9 92.1h0M461.9 62.6h0M448.7 92.8h0M428.9 66.1h0M426.3 81.8h0M465.6 59.6h0M442.8 89.3h0M441.6 70.5h0M470.3 59.9h0M427.5 59.5h0M425.4 56.4h0M451.7 56.1h0M442.1 76.0h0M466.3 61.6h0M445.3 73.8h0M437.2 71.5h0M436.7 71.9h0M434.4 75.3h0M470.4 64.5h0M437.6 76.4h0M473.9 64.5h0M448.8 62.1h0M437.7 63.3h0M454.4 63.8h0M466.9 67.1h0M424.6 102.7h0M486.2 67.9h0M434.8 83.9h0M446.0 93.3h0M444.3 81.1h0M442.2 58.6h0M474.6 62.0h0M428.4 56.9h0M452.6 84.1h0M441.2 58.9h0M425.7 63.6h0M455.4 84.7h0M434.9 100.9h0M469.8 71.1h0M428.6 71.0h0M457.0 76.8h0M443.2 89.1h0M463.1 70.5h0M438.0 62.2h0M444.7 85.6h0M428.6 57.1h0M464.5 63.9h0M439.2 80.7h0M424.6 109.3h0M429.1 67.5h0M431.1 102.5h0M454.1 59.6h0M452.0 56.1h0M456.5 80.5h0M484.8 63.2h0M443.3 59.4h0M458.4 72.7h0M440.0 71.3h0M435.0 82.2h0M439.6 60.8h0M480.2 62.2h0M439.4 87.6h0M453.6 88.3h0M453.0 76.5h0M428.4 99.9h0M423.9 62.4h0M436.3 59.3h0M432.5 63.5h0M481.4 60.2h0M444.0 71.4h0M441.4 62.6h0M450.3 58.4h0M425.0 57.9h0M460.6 89.5h0M440.9 66.0h0M457.0 69.3h0M425.7 60.4h0M432.4 92.5h0M445.2 72.1h0M468.5 67.0h0M461.4 78.3h0M443.2 63.5h0M446.2 66.3h0M427.2 59.8h0M438.4 56.2h0M453.5 71.9h0M445.5 75.8h0M461.1 59.6h0M468.5 60.4h0M443.7 85.8h0M473.1 65.7h0M443.9 56.6h0M425.1 56.8h0M457.1 86.0h0M467.6 61.0h0M431.7 101.9h0M442.9 59.1h0M440.9 71.3h0M427.2 65.5h0M451.8 63.0h0M429.6 72.6h0M427.5 82.0h0M449.5 78.7h0M453.8 87.8h0M440.0 74.5h0M428.4 59.2h0M441.2 76.0h0M451.6 74.0h0M425.6 61.0h0M433.5 86.8h0M426.2 103.0h0M445.0 87.7h0M433.4 72.8h0M451.1 65.9h0M441.3 74.4h0M468.9 61.1h0M486.6 60.4h0M442.3 56.4h0M449.4 72.8h0M454.4 75.1h0M455.2 73.6h0M440.4 97.1h0M447.3 65.4h0M489.9 63.3h0M477.3 62.4h0M475.9 59.3h0M463.3 73.2h0M443.6 74.7h0M443.9 77.9h0M452.8 59.3h0M457.5 59.8h0M433.0 58.3h0M446.5 87.2h0M430.8 63.4h0M479.2 61.7h0M424.8 91.2h0M437.9 74.6h0M460.1 83.2h0M431.8 56.5h0M435.9 58.5h0M426.7 74.5h0M438.5 93.9h0M425.2 66.0h0M447.6 58.2h0M468.1 60.6h0M453.2 61.1h0M435.5 60.5h0M451.5 70.5h0M440.3 67.6h0M449.6 59.4h0M428.7 100.8h0M435.3 88.7h0M444.2 56.3h0M464.9 67.3h0M428.2 73.9h0M476.8 60.0h0M465.2 58.7h0M468.6 62.6h0M446.3 59.4h0M442.3 65.9h0M428.4 56.0h0M477.2 56.2h0M446.8 70.1h0M452.7 83.8h0M440.0 74.6h0M461.0 59.6h0M452.2 56.3h0M433.0 78.6h0M440.3 63.8h0M466.3 59.8h0M470.1 56.5h0M440.6 84.9h0M438.0 64.0h0M475.5 62.4h0M433.7 81.2h0M470.7 61.5h0M447.9 85.4h0M424.0 93.3h0M470.0 57.4h0M438.4 84.1h0M445.5 73.8h0M426.4 98.2h0M446.5 83.3h0M480.4 60.7h0M428.8 57.6h0M447.2 58.8h0M437.8 56.7h0M456.1 66.5h0M443.0 72.1h0M478.4 65.3h0M443.2 65.2h0M464.7 63.8h0M443.8 81.5h0M457.6 73.2h0M431.8 64.7h0M468.3 64.6h0M455.4 90.6h0M440.3 78.6h0M449.6 84.2h0M448.2 56.4h0M450.1 83.0h0M473.5 57.3h0M448.1 56.9h0M475.6 63.1h0M454.5 64.2h0M449.0 78.6h0M456.1 81.2h0M456.5 59.3h0M466.5 58.1h0M429.8 64.6h0M431.4 57.4h0M460.9 58.0h0M438.3 80.3h0M425.5 71.2h0M469.4 60.5h0M450.3 84.9h0M428.9 60.4h0M424.2 66.3h0M451.6 91.5h0M445.4 64.9h0M474.5 56.7h0M461.1 59.1h0M433.3 62.5h0M440.9 84.0h0M432.3 62.0h0M445.2 82.7h0M436.6 61.0h0M472.2 62.6h0M439.7 57.8h0M472.7 56.6h0M453.6 77.8h0M485.5 59.7h0M456.2 78.7h0M470.4 56.4h0M447.0 70.3h0M451.4 75.0h0M432.7 58.8h0M433.4 68.0h0M472.7 67.6h0M475.9 62.0h0M440.6 56.9h0M441.5 63.0h0M447.9 82.5h0M444.2 77.8h0M426.3 104.4h0M479.0 61.5h0M459.4 69.7h0M459.0 85.0h0M438.4 71.3h0M463.4 75.2h0M477.8 63.7h0M430.2 95.8h0M429.4 62.6h0M462.7 60.4h0M457.7 57.4h0M436.0 71.2h0M451.4 71.4h0M429.2 67.8h0M424.0 103.0h0M489.2 67.3h0M480.8 67.6h0M450.8 69.8h0M440.3 83.8h0M465.2 58.2h0M446.8 57.7h0M435.4 73.1h0M425.7 62.9h0M471.0 57.0h0M453.6 68.2h0M449.1 66.1h0M462.7 63.5h0M433.9 81.3h0M448.8 84.4h0M467.8 68.2h0M450.3 92.7h0M446.8 91.1h0M472.8 67.2h0M454.4 82.4h0M459.7 87.3h0M450.6 87.3h0M466.6 60.1h0M460.3 58.3h0M437.5 89.2h0M458.7 80.6h0M443.6 61.2h0M464.8 67.3h0M428.1 96.1h0M450.3 67.7h0M474.1 61.6h0M434.0 63.2h0M443.5 83.4h0M475.9 61.8h0M454.5 87.0h0M469.5 66.9h0M459.6 86.5h0M431.8 98.0h0M453.0 65.3h0M477.9 67.6h0M452.4 79.2h0M424.7 63.7h0M490.5 62.3h0M426.9 105.9h0M464.8 64.2h0M441.0 65.2h0M443.7 75.9h0M441.1 61.5h0M451.3 58.5h0M425.0 58.2h0M427.0 66.1h0M444.4 65.5h0M446.5 83.1h0M424.8 104.5h0M435.3 58.4h0M458.7 61.5h0M470.2 58.9h0M462.3 66.6h0M470.0 60.6h0M484.7 58.2h0M463.8 60.5h0M445.6 59.3h0M436.1 92.1h0M451.8 87.8h0M459.0 57.3h0M470.5 63.1h0M478.1 57.7h0M431.8 61.1h0M443.3 68.6h0M434.4 57.6h0M427.1 57.1h0M446.5 62.2h0M468.6 61.0h0M435.4 77.8h0M430.6 62.7h0M431.6 57.9h0M450.6 74.9h0M452.9 88.0h0M428.6 59.5h0M423.9 61.4h0M438.3 59.7h0M426.1 64.4h0M462.5 69.5h0M472.6 68.6h0M441.0 72.3h0M448.7 75.0h0M448.7 65.5h0M428.1 58.9h0M456.1 81.6h0M425.9 101.5h0M470.7 63.9h0M444.8 84.8h0M477.3 67.2h0M424.6 99.3h0M443.5 59.6h0M431.4 59.0h0M455.8 89.4h0M470.9 69.2h0M470.9 60.4h0M440.0 58.6h0M459.7 86.9h0M442.5 95.8h0M435.8 63.9h0M435.6 63.1h0M454.5 61.0h0M463.5 83.5h0M462.7 59.1h0M440.0 61.1h0M450.5 78.6h0M429.9 60.0h0M428.2 61.9h0M459.1 59.6h0M459.7 56.5h0M458.6 76.7h0M440.3 62.8h0M462.6 82.8h0M438.8 59.3h0M439.7 62.8h0M442.7 92.7h0M468.3 62.4h0M446.5 57.6h0M443.2 86.3h0M448.3 59.3h0M455.3 60.4h0M433.1 84.6h0M473.0 66.5h0M450.3 77.4h0M445.4 58.2h0M462.7 65.1h0M451.1 56.7h0M447.5 61.0h0M455.3 76.1h0M428.6 77.0h0M445.4 88.8h0M472.2 66.1h0M437.6 63.1h0M451.4 83.0h0M436.3 88.6h0M456.6 57.1h0M448.2 62.9h0M443.0 63.3h0M449.9 82.6h0M477.8 60.3h0M432.1 82.1h0M425.9 61.7h0M473.1 56.4h0M455.9 73.4h0M470.1 69.1h0M472.2 68.2h0M450.2 74.7h0M459.1 61.5h0M447.3 80.0h0M431.4 72.2h0M446.3 83.7h0M447.0 81.8h0M443.8 73.0h0M437.0 88.7h0M443.1 61.5h0M460.8 79.2h0M452.7 84.3h0M447.8 56.3h0M454.6 74.9h0M450.6 64.7h0M425.7 65.4h0M429.2 63.9h0M444.1 70.2h0M449.2 68.6h0M444.1 66.7h0M441.9 59.4h0M476.4 58.9h0M432.4 63.0h0M451.1 60.5h0M450.8 79.0h0M479.9 67.9h0M470.1 63.3h0M446.0 82.8h0M452.8 62.0h0M452.4 56.4h0M474.0 56.2h0M447.1 92.5h0M442.9 65.8h0M428.8 57.4h0M452.8 78.9h0M484.5 61.0h0M450.4 62.1h0M437.2 69.5h0M443.4 86.3h0M473.7 67.2h0M458.7 63.3h0M454.6 59.9h0M425.0 80.0h0M450.5 77.8h0M447.5 64.0h0M441.6 66.7h0M443.6 58.2h0M426.0 61.7h0M447.8 80.7h0M461.0 61.5h0M490.0 60.5h0M424.1 59.7h0M438.5 60.1h0M447.5 56.6h0M448.7 63.8h0M446.3 68.4h0M471.2 58.2h0M444.6 63.8h0M448.1 59.2h0M434.7 57.8h0M447.1 67.0h0M429.7 63.2h0M459.1 75.2h0M445.7 92.9h0M451.3 71.2h0M471.1 63.6h0M443.3 75.8h0M443.3 79.3h0M442.0 72.4h0M450.1 81.7h0M434.3 60.6h0M469.4 60.6h0M449.4 62.3h0M477.4 58.3h0M425.8 88.3h0M444.1 87.7h0M481.9 59.6h0M445.6 58.3h0M462.1 60.3h0M425.0 63.6h0M455.7 59.8h0M426.1 57.7h0M458.0 80.7h0M461.8 80.3h0M460.1 75.9h0M456.8 70.5h0M428.7 62.1h0M428.6 69.6h0M477.4 62.6h0M430.3 104.5h0M445.9 95.4h0M464.1 60.8h0M448.3 56.6h0M425.0 68.2h0M455.5 79.2h0M424.6 104.2h0M449.1 59.3h0M443.7 69.4h0M449.8 61.5h0M436.7 82.4h0M454.4 71.7h0M466.9 62.1h0M433.5 81.6h0M433.0 65.3h0M452.0 59.3h0M488.1 60.0h0M451.1 85.6h0M451.8 57.7h0M429.5 62.6h0M467.9 61.9h0M458.1 66.2h0M441.9 63.0h0M462.9 59.3h0M459.7 85.3h0M485.0 59.4h0M451.6 59.3h0M458.8 89.6h0M438.7 75.2h0M472.3 56.8h0M454.3 59.3h0M444.2 93.6h0M478.5 68.9h0M469.5 59.7h0M436.5 64.7h0M438.0 63.8h0M449.6 92.0h0M431.8 86.0h0M448.8 83.7h0M482.8 61.0h0M424.7 63.1h0M454.9 63.0h0M468.9 63.6h0M448.1 82.4h0M450.6 58.8h0M428.9 97.5h0M443.2 67.4h0M445.3 83.9h0M450.9 83.9h0M473.0 69.6h0M426.9 92.1h0M449.5 57.9h0M436.7 75.9h0M454.9 68.4h0M436.1 60.9h0M473.4 61.8h0M476.7 64.4h0M445.2 93.5h0M473.8 67.0h0M424.6 61.1h0M434.6 75.0h0M452.1 66.0h0M453.4 56.8h0M448.8 60.8h0M430.7 63.7h0M424.6 104.1h0M472.0 61.6h0M439.1 59.9h0M478.6 61.2h0M450.4 77.4h0M456.7 84.1h0M430.5 70.1h0M468.6 56.4h0M447.1 82.5h0M471.0 65.3h0M445.3 80.3h0M463.4 84.3h0M440.3 62.2h0M453.9 65.6h0M463.5 63.8h0M439.3 82.2h0M446.2 82.9h0M463.9 80.8h0M453.2 85.7h0M439.6 68.2h0M445.9 70.7h0M448.6 58.0h0M426.1 61.9h0M447.9 86.0h0M450.2 81.9h0M437.9 90.0h0M463.3 72.8h0M428.0 108.0h0M462.4 83.4h0M469.1 69.7h0M426.9 60.8h0M463.6 84.7h0M439.4 89.1h0M460.0 74.9h0M431.6 62.5h0M441.2 65.1h0M461.2 63.8h0M430.7 58.6h0M429.2 101.0h0M449.8 92.9h0M454.9 58.3h0M440.6 57.6h0M432.1 58.5h0M456.9 66.1h0M443.9 59.7h0M460.0 64.9h0M486.4 65.4h0M447.4 62.8h0M464.3 63.6h0M431.1 56.7h0M459.2 57.9h0M452.8 60.4h0M444.9 67.4h0M468.7 58.6h0M467.0 58.7h0M432.8 88.6h0M467.6 65.5h0M473.8 60.7h0M487.1 60.9h0M473.1 56.7h0M441.2 66.1h0M467.0 60.5h0M452.6 83.9h0M468.9 60.6h0M448.6 56.9h0M436.1 75.2h0M445.1 87.7h0M433.3 58.5h0M428.2 60.4h0M432.0 59.9h0M481.3 66.3h0M446.5 90.3h0M449.7 58.6h0M449.0 85.9h0M426.3 102.5h0M427.0 58.0h0M456.1 61.7h0M438.0 67.4h0M447.7 78.5h0M435.0 81.3h0M457.8 61.9h0M477.5 60.4h0M463.5 63.5h0M447.1 74.4h0M452.7 81.8h0M429.7 62.3h0M429.4 78.2h0M460.7 56.1h0M452.1 56.6h0M463.0 88.7h0M439.2 58.2h0M432.0 63.3h0M455.8 57.1h0M432.1 64.0h0M448.4 57.5h0M455.0 90.0h0M458.1 60.1h0M437.8 62.4h0M450.9 58.4h0M438.3 67.5h0M450.7 90.1h0M427.6 57.2h0M467.7 59.3h0M451.0 85.8h0M478.0 69.3h0M447.5 64.8h0M433.5 65.7h0M435.2 73.8h0M479.8 68.5h0M458.3 58.2h0M436.9 60.5h0M441.6 72.8h0M460.5 63.2h0M462.0 80.1h0M449.7 66.3h0M454.7 60.3h0M440.1 60.9h0M457.7 70.3h0M441.3 82.8h0M456.4 63.3h0M458.6 87.7h0M455.9 64.0h0M457.0 76.8h0M471.1 62.4h0M455.5 58.6h0M435.6 60.2h0M458.6 59.7h0M435.2 79.7h0M458.8 66.8h0M470.5 67.2h0M477.3 56.9h0M448.7 80.6h0M445.3 56.6h0M446.6 74.3h0M429.0 64.6h0M447.6 87.6h0M429.4 59.4h0M469.5 60.0h0M433.7 71.1h0M434.6 79.9h0M451.9 56.2h0M450.0 85.8h0M461.0 68.7h0M444.7 69.7h0M439.7 63.4h0M436.7 92.3h0M439.3 84.4h0M431.4 60.6h0M448.5 70.5h0M445.0 63.0h0M448.3 56.1h0M485.1 65.6h0M448.7 65.1h0M482.0 59.2h0M464.7 66.9h0M431.8 58.1h0M440.2 56.4h0M437.7 66.6h0M456.3 87.7h0M482.5 62.1h0M457.0 75.4h0M463.1 62.5h0M452.2 69.8h0M442.4 60.9h0M455.7 73.1h0M428.5 65.7h0M440.8 88.4h0M468.6 58.0h0M439.1 87.0h0M440.7 91.0h0M455.3 60.6h0M442.5 91.4h0M436.3 83.5h0M427.3 56.6h0M441.7 59.7h0M466.4 62.0h0M471.9 58.5h0M438.8 86.7h0M428.4 93.5h0M430.3 79.2h0M441.6 95.2h0M429.8 83.9h0M454.0 62.2h0M449.1 78.1h0M441.7 64.9h0M465.8 60.9h0M467.8 62.7h0M446.1 89.6h0M454.0 88.0h0M425.3 62.0h0M448.4 69.8h0M446.6 68.0h0M436.0 81.2h0M454.5 58.9h0M426.2 65.1h0M460.0 75.6h0M464.5 59.1h0M475.3 66.6h0M440.8 88.3h0M476.1 63.7h0M455.0 61.1h0M436.8 56.9h0M437.1 85.5h0M438.6 73.1h0M433.1 67.1h0M429.8 72.7h0M465.6 61.7h0M470.5 66.7h0M437.7 57.9h0M430.1 98.0h0M481.8 61.2h0M448.3 91.8h0M445.7 64.5h0M456.3 64.7h0M439.4 58.0h0M456.6 64.6h0M457.8 85.4h0M473.4 63.7h0M436.4 57.2h0M487.0 61.2h0M433.6 79.2h0M448.2 87.9h0M450.6 86.8h0M439.5 79.0h0M446.0 58.4h0M441.2 87.2h0M432.6 78.3h0M481.4 63.9h0M472.3 65.6h0M451.1 72.8h0M434.5 82.1h0M471.9 61.8h0M457.5 86.3h0M434.6 64.6h0M487.6 64.0h0M461.4 65.3h0M465.0 71.5h0M466.3 62.5h0M444.1 92.0h0M462.6 57.6h0M458.0 90.0h0M444.3 64.8h0M450.3 79.6h0M465.3 70.7h0M439.7 57.1h0M458.0 55.9h0M431.6 61.8h0M433.3 89.6h0M445.6 95.8h0M475.4 62.1h0M437.1 72.8h0M452.0 60.5h0M447.5 72.5h0M465.5 63.4h0M446.2 94.3h0M448.2 90.3h0M433.1 72.9h0M462.5 78.3h0M483.4 58.1h0M476.8 59.9h0M452.7 77.4h0M449.3 76.5h0M447.9 83.5h0M433.6 60.3h0M424.2 86.6h0M444.5 78.4h0M452.3 76.2h0M441.0 77.9h0M440.1 87.8h0M474.0 57.3h0M456.1 86.2h0M448.1 64.5h0M478.1 56.5h0M431.9 73.7h0M447.7 59.2h0M449.6 60.7h0M480.6 61.5h0M431.6 78.5h0M464.0 66.6h0M449.1 58.1h0M486.8 61.0h0M449.3 85.9h0M429.0 75.4h0M441.7 85.4h0M428.1 58.2h0M457.8 82.0h0M454.4 67.5h0M441.2 98.4h0M432.7 91.9h0M455.9 83.2h0M461.2 55.9h0M467.3 61.2h0M446.7 63.5h0M462.5 75.0h0M440.3 91.4h0M436.0 100.3h0M481.9 62.1h0M473.5 57.1h0M444.5 60.4h0M438.6 85.7h0M458.7 57.4h0M440.8 76.9h0M455.1 80.0h0M457.4 85.6h0M462.4 65.6h0M425.8 80.7h0M449.6 66.5h0M449.8 83.6h0M433.8 81.0h0M431.7 63.9h0M444.6 65.8h0M432.0 63.9h0M452.7 82.3h0M431.5 94.2h0M448.8 65.9h0M459.1 73.7h0M488.6 61.2h0M446.7 63.0h0M438.0 59.3h0M433.3 76.6h0M453.9 62.5h0M454.8 68.3h0M446.7 66.4h0M470.8 58.6h0M435.1 57.0h0M476.5 58.6h0M425.4 99.2h0M445.2 58.7h0M450.1 81.8h0M441.6 89.0h0M452.6 89.7h0M466.9 58.3h0M439.8 64.1h0M425.9 85.8h0M480.8 62.5h0M467.8 61.7h0M459.8 80.5h0M445.1 67.4h0M439.0 59.1h0M451.5 64.7h0M469.7 66.2h0M427.5 79.1h0M444.6 64.4h0M426.7 57.2h0M447.6 74.5h0M434.5 72.5h0M445.2 65.5h0M436.8 92.0h0M459.1 70.2h0M484.1 60.9h0M477.8 58.7h0M449.5 64.4h0M482.9 64.6h0M439.0 66.2h0M452.2 72.6h0M451.9 63.2h0M462.1 70.5h0M456.7 74.1h0M442.6 58.2h0M440.4 86.2h0M446.1 84.6h0M455.2 62.4h0M476.0 63.4h0M477.3 57.7h0M462.7 65.1h0M439.5 59.7h0M423.9 69.8h0M434.5 63.4h0M458.6 75.1h0M443.8 64.7h0M441.0 75.4h0M439.5 91.3h0M455.1 77.3h0M482.7 64.3h0M439.5 63.1h0M460.5 81.0h0M437.8 76.2h0M448.3 61.7h0M431.2 58.1h0M475.2 69.3h0M475.2 63.6h0M438.4 60.3h0M438.2 78.4h0M453.8 65.0h0M443.9 92.3h0M472.1 62.3h0M456.2 63.3h0M443.8 84.1h0M450.4 87.7h0M424.6 83.7h0M436.0 59.6h0M464.5 56.6h0M433.1 58.7h0M466.0 63.2h0M446.7 81.9h0M448.2 80.7h0M434.0 77.5h0M431.9 74.7h0M436.6 66.3h0M436.8 61.3h0M465.0 57.1h0M451.3 59.8h0M440.8 90.1h0M486.6 64.2h0M426.1 61.5h0M426.4 60.2h0M458.8 88.5h0M471.9 58.0h0M479.3 59.8h0M429.2 60.9h0M454.1 86.6h0M457.1 65.1h0M423.7 67.2h0M460.0 58.9h0M424.5 66.5h0M451.8 57.6h0M450.1 76.5h0M442.4 70.7h0M455.9 80.9h0M475.9 63.0h0M444.8 86.3h0M449.4 56.2h0M458.2 59.5h0M453.3 63.7h0M458.5 64.0h0M433.0 62.7h0M432.2 75.0h0M443.7 85.8h0M455.6 80.2h0M459.1 85.7h0M460.3 61.2h0M424.3 62.7h0M461.6 70.3h0M437.3 63.4h0M468.0 58.1h0M460.6 86.1h0M441.2 57.4h0M473.4 65.3h0M454.9 57.2h0M485.3 66.3h0M434.1 57.3h0M463.0 56.6h0M442.4 74.4h0M453.4 78.9h0M459.7 64.3h0M439.0 89.8h0M457.8 58.6h0M454.2 66.3h0M450.8 83.0h0M450.7 80.3h0M438.7 90.8h0M464.4 63.9h0M437.7 56.6h0M440.4 73.5h0M447.4 61.6h0M446.9 72.8h0M432.6 61.5h0M461.2 59.5h0M476.3 66.1h0M446.6 65.6h0M475.2 59.9h0M481.4 57.4h0M459.0 84.5h0M449.0 57.3h0M447.5 75.6h0M445.6 78.9h0M469.2 63.8h0M469.9 63.6h0M433.8 59.1h0M444.6 59.1h0M434.6 66.1h0M435.3 84.3h0M456.3 84.1h0M439.1 65.4h0M435.8 89.6h0M461.4 83.3h0M425.1 61.8h0M456.2 75.9h0M445.2 59.9h0M436.7 72.2h0M458.0 60.1h0M444.9 77.7h0M451.8 89.5h0M440.9 67.5h0M451.5 84.0h0M425.9 61.4h0M480.8 60.3h0M428.1 63.4h0M433.2 56.9h0M426.7 105.4h0M449.5 62.9h0M446.0 66.2h0M438.0 65.3h0M444.7 75.0h0M460.4 62.1h0M457.4 67.9h0M455.6 86.2h0M431.9 58.4h0M432.8 65.4h0M447.7 71.0h0M430.7 77.4h0M468.4 60.4h0M479.1 62.0h0M442.5 84.4h0M428.9 60.0h0M428.9 89.4h0M449.9 65.7h0M452.7 76.3h0M424.0 67.2h0M440.1 79.1h0M424.7 72.8h0M447.2 65.4h0M449.5 58.2h0M431.0 57.2h0M452.1 90.1h0M469.9 61.2h0M438.3 73.1h0M450.5 64.3h0M445.6 86.6h0M445.7 62.3h0M443.6 61.6h0M451.9 64.8h0M476.0 59.1h0M453.5 82.3h0M451.4 82.3h0M446.7 77.4h0M458.1 61.1h0M447.0 63.7h0M440.3 61.0h0M457.4 86.4h0M429.0 102.8h0M424.1 64.4h0M435.3 57.3h0M433.0 68.7h0M447.8 63.8h0M447.6 84.9h0M439.6 96.6h0M428.0 57.5h0M459.3 63.5h0M463.6 59.2h0M443.8 60.1h0M437.8 63.3h0M442.0 60.8h0M425.0 62.1h0M433.3 86.2h0M462.7 69.6h0M435.3 65.5h0M449.3 92.1h0M428.6 56.2h0M456.9 83.4h0M472.1 57.7h0M457.9 88.1h0M442.5 58.8h0M449.9 71.1h0M472.5 65.0h0M468.9 71.6h0M428.9 68.1h0M434.8 80.0h0M445.4 59.0h0M456.4 60.0h0M443.7 59.1h0M432.3 56.9h0M434.5 71.9h0M434.5 86.1h0M473.4 61.6h0M425.1 104.9h0M480.6 62.8h0M467.1 60.8h0M448.4 91.3h0M448.2 56.1h0M451.2 90.3h0M463.2 59.8h0M446.1 77.1h0M437.2 89.3h0M444.2 79.7h0M467.8 64.0h0M458.9 87.9h0M461.6 58.2h0M468.1 62.8h0M474.3 60.2h0M450.1 74.2h0M454.5 83.9h0M455.0 81.2h0M443.5 78.0h0M435.3 76.1h0M447.7 67.6h0M428.9 56.2h0M452.0 65.1h0M426.2 67.8h0M459.4 61.7h0M444.3 91.0h0M473.1 64.7h0M472.0 56.9h0M439.8 93.5h0M468.1 60.9h0M459.6 63.9h0M434.3 69.7h0M434.6 73.0h0M448.7 61.3h0M427.7 80.8h0M460.4 79.2h0M453.0 79.8h0M444.4 79.2h0M433.2 101.3h0M439.4 56.9h0M424.6 59.6h0M468.7 61.3h0M473.9 58.2h0M451.3 58.4h0M474.2 64.9h0M446.9 56.5h0M458.8 65.3h0M461.0 61.0h0M431.4 71.4h0M464.0 56.2h0M461.1 83.4h0M465.8 66.5h0M464.0 58.9h0M447.3 64.7h0M428.9 71.4h0M451.8 92.2h0M481.3 57.7h0M457.1 72.0h0M455.3 61.2h0M452.9 64.1h0M460.4 69.7h0M463.0 61.8h0M432.6 85.9h0M441.3 83.7h0M457.0 72.6h0M460.5 67.2h0M461.6 61.7h0M453.2 61.2h0M426.4 59.5h0M436.4 66.7h0M457.1 61.1h0M474.3 67.5h0M451.9 61.0h0M448.5 59.1h0M443.0 77.9h0M442.7 75.7h0M472.7 58.0h0M489.7 61.4h0M425.5 59.2h0M472.6 64.1h0M446.5 72.2h0M443.1 58.5h0M474.1 66.2h0M443.5 57.6h0M460.2 64.1h0M447.8 77.6h0M434.5 65.2h0M437.7 63.7h0M463.3 72.8h0M473.7 64.1h0M473.0 64.0h0M436.1 94.8h0M492.8 61.1h0M461.3 61.3h0M472.4 59.8h0M457.4 74.5h0M452.1 83.1h0M446.9 77.1h0M474.1 58.7h0M460.5 56.4h0M464.0 59.1h0M453.5 87.4h0M448.6 66.1h0M476.9 58.6h0M427.5 75.9h0M457.7 68.0h0M448.3 58.1h0M453.9 61.6h0M443.9 70.1h0M437.1 89.8h0M453.5 75.4h0M461.8 72.3h0M454.5 81.4h0M432.9 59.5h0M429.5 70.3h0M441.6 74.2h0M462.5 61.9h0M455.0 57.8h0M432.4 68.0h0M476.2 58.8h0M439.9 59.8h0M459.9 82.4h0M467.4 57.2h0M484.3 63.5h0M452.4 64.9h0M480.5 66.7h0M474.9 57.5h0M451.8 65.6h0M440.4 79.1h0M462.3 63.4h0M429.2 63.9h0M466.9 65.2h0M458.4 57.4h0M448.8 70.2h0M469.3 69.7h0M436.2 79.4h0M424.7 68.8h0M470.8 66.7h0M474.6 58.8h0M468.3 70.1h0M441.7 75.2h0M431.8 60.0h0M437.9 78.5h0M442.1 88.3h0M437.3 68.8h0M429.5 61.4h0M443.5 89.0h0M454.2 72.4h0M446.4 63.1h0M451.9 75.6h0M446.6 75.9h0M475.7 65.0h0M447.2 93.1h0M446.1 60.1h0M444.0 60.8h0M433.1 75.5h0M442.6 63.0h0M465.3 61.1h0M456.8 71.7h0M453.6 80.0h0M452.5 72.2h0M433.4 88.2h0M450.1 67.3h0M472.1 62.0h0M427.7 60.8h0M465.1 60.3h0M483.3 62.2h0M440.8 57.5h0M455.4 87.2h0M427.5 94.6h0M459.5 76.0h0M434.3 97.7h0M458.5 56.2h0M426.3 60.6h0M444.2 91.7h0M428.9 64.6h0M438.1 84.4h0M471.6 57.3h0M430.4 66.4h0M448.7 76.5h0M427.0 80.0h0M424.8 103.8h0M429.4 60.3h0M454.5 83.8h0M424.8 60.8h0M460.6 84.7h0M424.7 80.9h0M454.5 57.4h0M433.9 57.7h0M468.3 62.5h0M445.0 60.3h0M447.0 93.8h0M448.6 64.6h0M442.8 76.6h0M443.6 80.3h0M436.9 83.4h0M429.5 59.9h0M466.9 66.9h0M445.6 66.4h0M460.2 67.7h0M479.8 68.4h0M433.6 61.9h0M460.4 79.5h0M435.1 78.9h0M436.6 69.3h0M460.9 64.1h0M428.5 105.7h0M449.8 86.7h0M433.8 61.0h0M437.3 57.0h0M456.2 88.5h0M456.8 75.7h0M437.5 58.1h0M466.9 60.0h0M435.0 79.4h0M464.7 88.3h0M467.6 88.8h0M445.0 97.6h0M488.2 69.9h0M448.2 96.8h0M469.6 88.9h0M461.5 94.8h0M464.1 89.7h0M486.4 68.7h0M472.3 75.4h0M442.1 101.7h0M466.7 82.1h0M476.5 70.4h0M485.4 57.8h0M469.9 78.4h0M473.1 73.4h0M462.2 92.9h0M435.8 105.7h0M449.6 94.9h0M466.9 78.5h0M443.2 99.6h0M447.8 97.4h0M430.6 106.7h0M465.4 78.2h0M440.0 102.4h0M474.1 70.9h0" stroke="#34f0c2" stroke-width="1.2" stroke-linecap="round" fill="none" opacity="1.0"/>
<path d="M423.7 55.9 L433.8 55.9 L433 75 L430.2 93.6 L427 104 L424.5 112.2 L423.7 112.2 Z" fill="#34f0c2"/>
<path d="M472.9 48.6h0M447.7 49.2h0M506.6 44.8h0M446.0 43.8h0M444.0 49.4h0M491.3 41.1h0M488.0 51.4h0M462.5 40.5h0M480.5 44.4h0M453.8 51.3h0M473.4 36.9h0M470.4 47.6h0M446.9 51.1h0M479.6 48.7h0M475.3 42.8h0M443.2 52.6h0M445.5 54.8h0M446.7 47.2h0M456.8 39.2h0M459.2 48.9h0M460.1 41.8h0M449.6 45.1h0M512.5 44.2h0M447.8 43.6h0M444.1 43.8h0M475.5 38.7h0M486.3 50.1h0M475.4 47.4h0M444.6 46.3h0M445.1 37.5h0M457.6 42.7h0M497.4 49.2h0M446.4 36.8h0M471.8 48.4h0M460.8 54.6h0M447.8 42.9h0M461.1 42.0h0M452.5 36.4h0M449.9 48.6h0M450.3 49.3h0M458.2 49.5h0M453.7 54.0h0M442.2 48.4h0M445.1 42.2h0M476.0 37.6h0M468.9 48.4h0M482.7 53.2h0M466.9 48.1h0M466.4 52.5h0M455.2 51.6h0M445.5 38.8h0M462.8 51.6h0M478.3 49.8h0M456.2 49.2h0M445.6 39.6h0M465.5 51.1h0M456.5 48.5h0M473.2 37.6h0M458.7 46.9h0M445.6 43.4h0M451.9 48.9h0M506.7 45.2h0M442.5 52.6h0M446.0 45.3h0M460.9 47.3h0M510.7 42.1h0M463.6 53.6h0M490.7 44.0h0M480.0 41.5h0M501.1 46.0h0M461.8 48.5h0M483.4 52.5h0M482.8 41.2h0M480.5 39.5h0M449.1 48.4h0M507.2 45.4h0M442.3 54.8h0M480.0 49.4h0M459.8 37.2h0M457.7 50.4h0M450.9 50.9h0M469.4 42.0h0M503.7 52.9h0M485.9 45.3h0M456.4 40.5h0M449.3 37.6h0M443.7 51.9h0M448.5 54.9h0M446.0 53.0h0M443.0 36.7h0M455.8 44.1h0M451.0 45.1h0M458.8 49.9h0M485.7 55.1h0M514.9 42.7h0M446.3 35.5h0M476.9 55.5h0M472.6 45.2h0M446.9 41.1h0M443.7 45.0h0M491.2 43.0h0M451.2 40.3h0M469.1 49.7h0M445.9 41.3h0M452.3 40.3h0M454.0 47.3h0M473.8 41.1h0M458.8 45.3h0M445.4 52.4h0M448.4 47.6h0M457.4 44.7h0M453.6 44.6h0M452.6 47.9h0M460.1 48.4h0M461.5 44.1h0M448.0 35.5h0M510.7 45.9h0M446.5 50.2h0M469.7 49.5h0M463.8 38.8h0M443.3 44.3h0M460.7 48.7h0M445.4 47.7h0M443.8 47.3h0M444.0 55.7h0M454.5 42.8h0M449.0 36.0h0M500.4 52.2h0M445.5 35.9h0M453.7 39.1h0M495.8 46.9h0M482.1 45.6h0M446.4 37.4h0M450.8 44.4h0M444.4 51.1h0M458.7 46.8h0M449.9 49.0h0M457.3 39.5h0M466.1 44.3h0M481.5 38.5h0M451.2 41.3h0M503.3 45.5h0M443.5 42.3h0M456.1 37.3h0M445.9 44.2h0M447.7 41.5h0M483.8 40.5h0M445.4 42.9h0M456.8 44.1h0M455.2 41.8h0M449.1 41.1h0M492.6 53.2h0M477.6 45.0h0M451.4 35.9h0M461.5 52.4h0M477.8 48.9h0M454.4 44.4h0M457.1 55.2h0M466.6 38.1h0M469.6 48.6h0M494.9 39.6h0M453.5 36.8h0M457.6 51.1h0M490.7 44.5h0M444.3 44.1h0M450.6 55.5h0M443.4 40.4h0M482.3 43.4h0M449.8 48.7h0M448.3 46.2h0M456.3 55.8h0M457.6 37.3h0M447.6 40.1h0M449.5 52.4h0M442.7 49.1h0M515.9 51.0h0M464.6 51.0h0M445.2 35.9h0M445.3 42.7h0M499.2 52.7h0M454.4 45.0h0M443.9 45.2h0M486.4 43.0h0M480.0 40.5h0M454.8 53.3h0M463.3 49.4h0M453.4 47.0h0M507.8 47.9h0M453.0 39.6h0M446.3 50.3h0M472.3 47.2h0M444.4 42.2h0M448.9 51.8h0M485.8 55.3h0M445.3 35.0h0M476.0 43.1h0M442.0 44.5h0M481.6 51.0h0M446.9 42.5h0M457.5 37.1h0M466.4 39.9h0M442.7 37.5h0M454.8 50.6h0M456.5 51.2h0M443.5 50.7h0M443.2 42.7h0M449.3 50.1h0M456.3 51.8h0M472.1 53.2h0M462.7 42.3h0M451.5 38.6h0M484.7 52.0h0M497.1 45.6h0M474.7 46.6h0M482.2 42.8h0M442.4 50.4h0M467.0 44.3h0M480.6 52.8h0M444.2 41.6h0M445.2 51.1h0M502.3 42.1h0M455.7 37.2h0M471.8 48.9h0M485.8 38.0h0M444.4 41.1h0M492.4 47.3h0M442.7 34.8h0M442.6 34.6h0M459.6 50.6h0M444.6 42.0h0M446.2 45.4h0M454.8 50.9h0M453.4 47.9h0M450.9 39.3h0M442.8 43.1h0M467.1 45.4h0M497.0 46.0h0M485.6 42.9h0M450.3 44.7h0M448.7 41.7h0M475.6 44.9h0M487.4 43.8h0M465.5 45.7h0M450.8 50.6h0M442.7 40.6h0M449.2 46.9h0M463.3 53.1h0M487.8 48.8h0M444.0 44.8h0M470.2 43.9h0M442.1 49.4h0M442.4 43.8h0M450.4 42.4h0M451.2 49.7h0M443.1 51.9h0M480.7 41.5h0M449.0 53.7h0M445.9 40.2h0M444.7 47.7h0M476.9 36.5h0M473.6 54.3h0M462.9 37.4h0M451.2 49.5h0M458.2 46.7h0M447.7 42.9h0M468.6 51.4h0M443.3 49.6h0M508.7 48.5h0M446.8 42.0h0M457.9 37.9h0M457.1 48.3h0M457.3 42.5h0M488.6 47.8h0M442.4 55.4h0M462.3 42.9h0M475.3 42.6h0M450.2 42.3h0M449.0 53.6h0M496.9 46.2h0M454.8 40.1h0M443.6 45.1h0M449.4 41.0h0M450.8 36.1h0M453.8 36.4h0M457.8 45.3h0M444.1 45.9h0M475.5 50.8h0M447.4 52.0h0M493.8 53.6h0M496.7 47.0h0M452.1 48.8h0M447.4 41.2h0M449.6 50.4h0M445.7 41.1h0M450.4 38.3h0M444.5 48.3h0M467.4 44.5h0M442.3 46.2h0M445.7 47.1h0M463.0 40.4h0M462.3 36.3h0M498.7 52.0h0M444.6 39.4h0M454.1 45.1h0M456.1 53.4h0M444.8 52.4h0M472.1 53.8h0M503.5 45.5h0M468.1 45.5h0M451.2 44.6h0M458.6 48.4h0M454.7 41.6h0M489.0 47.8h0M448.3 45.7h0M478.2 53.4h0M475.7 51.2h0M446.6 53.7h0M464.8 44.4h0M475.7 53.9h0M442.0 36.9h0M500.9 45.8h0M449.6 48.8h0M455.6 37.4h0M484.0 55.3h0M463.1 41.1h0M450.8 41.5h0M514.9 45.2h0M447.4 48.8h0M469.4 46.8h0M445.7 48.9h0M462.5 45.7h0M473.0 37.5h0M446.0 39.8h0M448.2 45.5h0M445.4 40.7h0M467.4 38.4h0M460.7 38.6h0M477.1 41.0h0M481.0 42.9h0M469.5 47.1h0M457.9 41.6h0M466.4 45.6h0M453.1 40.0h0M458.6 45.3h0M451.2 47.8h0M475.0 41.9h0M452.2 53.1h0M469.4 41.7h0M442.9 42.9h0M511.3 50.9h0M490.3 45.2h0M494.2 44.6h0M449.3 41.7h0M443.5 35.3h0M450.4 40.8h0M460.9 38.2h0M473.2 37.0h0M480.6 50.9h0M513.4 43.1h0M464.4 43.0h0M447.3 45.8h0M452.9 37.4h0M466.9 43.0h0M469.7 42.0h0M448.1 37.6h0M463.4 38.1h0M443.1 44.0h0M483.6 47.7h0M462.4 42.6h0M458.8 44.7h0M490.2 45.7h0M454.8 39.1h0M458.2 47.7h0M520.7 48.3h0M499.3 43.7h0M446.5 52.0h0M451.8 45.1h0M464.0 42.3h0M479.1 36.9h0M450.0 35.2h0M459.1 42.0h0M466.0 50.5h0M456.8 40.6h0M449.5 40.1h0M482.1 53.3h0M449.0 43.1h0M447.5 53.9h0M516.1 49.9h0M444.3 40.7h0M446.6 36.3h0M451.9 39.5h0M451.1 49.8h0M462.6 49.9h0M450.9 52.7h0M462.7 42.1h0M470.9 38.3h0M446.6 36.8h0M469.7 45.3h0M451.2 44.0h0M445.0 42.2h0M461.5 45.0h0M473.3 38.9h0M512.4 41.3h0M462.1 43.7h0M477.4 48.0h0M484.0 52.8h0M466.2 41.5h0M450.1 39.5h0M463.1 36.0h0M443.7 47.9h0M500.0 46.4h0M463.6 39.0h0M459.4 46.4h0M445.0 39.8h0M484.3 39.1h0M517.3 43.2h0M446.6 38.8h0M455.4 38.2h0M444.3 39.7h0M449.2 55.3h0M449.7 41.7h0M467.6 48.0h0M459.9 46.1h0M447.7 52.9h0M442.8 39.5h0M454.8 40.8h0M448.7 48.6h0M457.4 36.3h0M477.7 39.8h0M448.3 50.6h0M463.3 44.1h0M443.5 53.5h0M460.4 40.5h0M460.8 43.1h0M448.5 46.1h0M450.6 50.7h0M463.0 45.8h0M447.3 39.0h0M470.7 45.4h0M445.6 46.9h0M496.7 49.4h0M450.2 44.3h0M464.7 38.3h0M460.3 38.6h0M449.9 38.4h0M480.9 41.6h0M449.8 48.8h0M444.9 43.9h0M447.6 37.3h0M455.8 40.2h0M452.8 43.4h0M459.4 40.9h0M483.1 48.0h0M447.2 41.6h0M448.7 46.0h0M451.9 44.2h0M442.4 46.6h0M454.3 45.5h0M445.6 41.9h0M461.3 47.0h0M450.7 37.1h0M480.5 47.5h0M456.0 41.2h0M448.8 41.9h0M454.5 50.5h0M456.9 35.9h0M481.7 53.2h0M485.4 44.8h0M445.0 46.6h0M442.5 51.3h0M443.4 38.6h0M447.9 48.9h0M470.8 46.0h0M445.2 41.5h0M454.4 49.0h0M480.2 49.4h0M469.0 36.9h0M442.9 46.6h0M468.3 53.0h0M456.6 41.5h0M448.4 39.4h0M477.7 47.7h0M475.9 39.2h0M487.0 45.8h0M448.9 54.0h0M463.8 45.0h0M484.2 47.8h0M445.7 55.3h0M471.9 46.1h0M445.8 35.4h0M464.8 44.6h0M466.2 53.0h0M445.1 43.6h0M476.6 39.9h0M444.2 43.0h0M485.9 43.3h0M456.7 47.6h0M444.3 36.8h0M455.1 46.7h0M452.2 46.0h0M452.2 41.3h0M445.1 54.5h0M448.9 53.9h0M444.5 52.2h0M472.0 53.0h0M447.0 41.0h0M449.7 43.7h0M442.8 54.8h0M446.0 52.7h0M444.7 43.3h0M464.4 55.1h0M482.2 50.8h0M452.4 40.4h0M456.2 36.5h0M453.0 45.6h0M451.3 49.6h0M472.5 50.4h0M459.0 48.5h0M512.5 48.6h0M498.3 47.7h0M462.3 36.8h0M448.4 38.5h0M459.1 48.9h0M461.1 47.6h0M451.8 48.9h0M499.2 43.2h0M447.5 47.8h0M452.9 39.0h0M450.6 40.3h0M445.2 50.7h0M445.8 53.2h0M473.7 54.2h0M500.5 44.2h0M444.5 41.1h0M458.7 54.2h0M447.0 46.7h0M459.7 42.9h0M454.2 41.8h0M444.6 54.6h0M443.1 52.0h0M449.3 44.9h0M464.0 36.8h0M462.9 37.0h0M469.6 47.6h0M461.6 53.1h0M459.0 48.3h0M507.0 40.6h0M464.0 51.3h0M443.1 53.8h0M480.2 46.2h0M462.1 41.7h0M490.7 44.5h0M450.8 43.5h0M454.1 49.7h0M473.5 54.1h0M452.6 51.8h0M448.2 44.8h0M442.5 43.6h0M480.4 38.3h0M458.0 51.0h0M446.9 53.7h0M441.5 49.9h0M444.4 48.2h0M449.2 51.3h0M448.3 38.0h0M448.2 55.3h0M449.4 51.6h0M448.4 46.6h0M449.4 50.4h0M441.0 42.3h0M441.1 54.2h0M440.0 45.2h0M447.1 43.4h0M449.2 41.8h0M443.8 39.6h0M448.6 47.8h0M447.4 47.3h0M444.2 34.7h0M447.6 55.0h0M442.1 48.3h0M446.3 35.5h0M445.5 48.8h0M448.2 45.9h0M440.0 45.7h0M449.5 45.9h0M446.5 34.8h0M448.3 42.3h0M440.9 53.1h0M443.1 53.4h0M443.3 38.8h0M449.7 34.9h0M444.6 48.0h0M449.4 46.4h0M444.6 40.0h0M442.9 40.4h0M444.8 36.1h0M448.2 53.8h0M443.9 48.6h0M449.7 51.5h0M444.9 36.2h0M444.0 40.0h0M440.8 36.9h0M445.1 49.9h0M440.4 40.0h0M440.8 49.5h0M446.8 38.7h0M447.1 44.6h0M448.7 53.0h0M448.5 50.0h0M450.0 47.7h0M446.8 35.8h0M445.1 50.3h0M448.4 37.3h0M449.6 40.8h0M441.8 34.9h0M443.1 52.4h0M445.1 35.2h0M444.1 44.9h0M447.7 48.3h0M442.3 49.3h0M445.8 36.1h0M446.9 48.5h0M448.6 47.8h0M447.9 41.9h0M446.9 34.9h0M447.1 34.6h0M445.7 46.0h0M441.0 43.5h0M442.3 51.2h0M444.1 45.5h0M441.1 48.4h0M442.6 52.9h0M448.3 36.1h0M442.2 36.8h0M448.9 48.9h0M440.2 47.2h0M447.5 34.9h0M442.1 39.0h0M441.4 36.7h0M446.2 37.5h0M446.9 44.1h0M441.4 44.9h0M449.0 53.7h0M449.8 46.8h0M441.4 38.0h0M447.9 46.7h0M449.2 53.4h0M446.8 52.5h0M445.1 54.2h0M444.9 47.3h0M449.9 51.7h0M445.8 37.9h0M441.4 53.5h0M440.1 47.9h0M446.6 41.9h0M442.2 47.2h0M449.7 45.4h0M446.3 43.6h0M442.4 47.9h0M447.3 46.0h0M448.7 55.7h0M441.3 40.3h0M447.0 46.5h0M440.8 42.4h0M443.5 55.0h0M441.2 53.5h0M449.4 41.8h0M445.5 46.8h0M449.4 40.2h0M445.3 44.2h0M449.0 55.0h0M441.8 47.5h0M445.7 37.5h0M444.9 37.9h0M442.7 44.0h0M441.0 40.4h0M443.5 35.2h0M449.1 55.1h0M446.8 51.0h0M441.8 45.0h0M440.5 39.5h0M440.8 51.7h0M448.8 37.9h0M441.0 37.2h0M449.3 40.2h0M444.2 53.4h0M440.1 47.1h0M445.2 38.1h0M446.2 52.9h0M441.5 37.7h0M445.7 50.1h0M448.1 55.2h0M448.5 45.5h0M445.0 46.4h0M444.0 51.9h0M441.2 50.5h0M441.4 40.3h0M444.9 54.2h0M449.5 52.0h0M445.4 48.9h0M441.7 48.0h0M448.8 48.0h0M444.9 42.1h0M444.3 43.0h0M445.7 54.5h0M443.9 45.9h0M447.4 38.9h0M446.1 46.3h0M447.9 49.7h0M440.2 40.7h0M440.2 49.6h0M446.7 47.4h0M448.4 53.7h0M443.3 52.7h0M445.2 54.4h0M440.6 37.5h0M446.7 38.0h0M446.7 37.3h0M448.6 46.0h0M440.3 41.0h0M444.9 49.8h0M442.9 49.5h0M446.7 53.4h0M444.0 37.1h0M442.2 52.0h0M444.9 46.7h0M443.2 52.2h0M440.5 55.8h0M447.5 39.3h0M447.0 39.6h0M442.8 47.1h0M445.5 51.6h0M446.6 34.5h0M441.7 34.8h0M447.2 48.2h0M449.5 46.2h0M446.2 49.3h0M442.2 43.6h0M446.9 43.5h0M445.4 34.8h0M443.8 43.2h0M447.5 50.9h0M448.5 49.6h0M444.7 48.9h0M445.0 44.0h0M443.6 53.0h0M442.5 36.2h0M440.3 40.5h0M440.5 50.5h0M441.6 40.3h0M447.0 53.1h0M447.6 48.1h0M447.2 41.4h0M449.6 43.6h0M446.7 45.3h0M444.2 39.0h0M449.7 48.4h0M447.9 46.5h0M443.4 46.2h0M446.2 42.1h0M440.4 53.1h0M443.2 54.5h0M448.7 54.2h0M440.6 47.0h0M447.7 37.2h0M446.3 53.0h0M448.0 55.8h0M448.5 37.8h0M445.6 43.5h0M446.9 50.8h0M447.3 55.9h0M445.5 52.8h0M446.4 48.7h0M441.2 50.1h0M448.0 40.7h0M446.3 47.0h0M440.8 42.3h0M447.4 37.7h0M444.7 48.5h0M446.5 39.5h0M444.1 49.7h0M446.1 51.1h0M446.3 50.6h0M443.3 49.1h0M447.6 43.7h0M441.3 51.8h0M446.5 46.6h0M442.4 48.5h0M442.1 53.1h0M441.0 53.5h0M440.1 53.1h0M442.0 36.6h0M441.9 50.9h0M447.6 36.8h0M444.0 39.5h0M447.4 47.7h0M449.2 49.3h0M445.8 54.8h0M442.2 36.5h0M443.6 48.9h0M442.4 52.6h0M442.9 37.3h0M448.8 39.2h0M441.6 49.9h0M447.7 45.8h0M443.6 55.5h0M440.4 48.1h0M442.1 43.4h0M443.7 42.1h0M442.6 50.1h0M445.8 53.3h0M447.5 44.3h0M445.7 52.1h0M441.3 34.6h0M445.1 44.4h0M445.8 46.1h0M442.2 54.1h0M449.5 39.8h0M443.8 54.3h0M445.8 47.0h0" stroke="#f77f0f" stroke-width="1.2" stroke-linecap="round" fill="none" opacity="1.0"/>
<path d="M423.7 55.9 L423.7 39 Q423.7 34.5 428 34.5 L440.5 34.5 Q444 35 444.5 38 L445 47 L443.4 55.9 Z" fill="#f77f0f"/>
<path d="M528.5 48.0h0" stroke="#f0c080" stroke-width="1.4" stroke-linecap="round" fill="none" opacity="1.0"/>
<path d="M403.4 141.9h0M409.1 137.5h0M420.9 115.3h0M416.5 120.2h0M422.9 114.6h0M417.0 119.9h0M413.7 132.7h0M418.6 118.3h0M416.3 120.2h0M416.3 127.8h0M396.3 139.1h0M408.6 131.9h0M415.6 124.5h0M422.6 120.0h0M417.2 115.0h0M419.3 116.9h0M420.5 117.3h0M399.5 148.5h0M421.3 120.9h0M412.4 123.4h0M404.2 132.6h0M420.5 115.5h0M402.5 139.3h0M411.8 129.2h0M401.8 142.0h0M402.2 153.7h0M407.8 134.1h0M409.4 131.1h0M419.3 113.7h0M404.8 137.9h0M415.8 123.6h0M421.5 119.2h0M418.8 124.5h0M410.7 136.8h0M404.7 138.5h0M423.7 114.8h0M419.2 119.6h0M421.8 116.6h0M422.7 115.7h0M405.5 131.7h0M420.6 120.7h0M411.4 127.5h0M402.6 144.9h0M402.6 141.8h0M409.6 129.0h0M417.0 119.8h0M418.7 117.4h0M404.8 142.2h0M418.1 123.5h0M412.4 130.7h0M418.4 121.7h0M404.4 133.8h0M407.6 129.7h0M413.2 118.4h0M422.7 113.4h0M399.1 141.8h0M400.1 142.1h0M397.2 142.3h0M422.3 112.9h0M402.8 137.0h0M395.3 142.3h0M403.0 139.9h0M418.8 123.4h0M418.5 117.1h0M404.8 139.2h0M415.3 118.8h0M422.1 113.9h0M406.2 144.2h0M419.6 119.6h0M415.9 120.2h0M409.5 121.8h0M412.8 131.4h0M411.3 128.2h0M420.6 115.8h0M415.1 127.0h0M417.3 122.2h0M405.1 139.2h0M421.6 115.6h0M410.7 131.3h0M416.9 122.3h0M409.9 130.3h0M410.3 125.6h0M410.8 143.7h0M421.1 116.0h0M400.0 141.9h0M419.1 117.6h0M420.2 116.6h0M419.3 119.1h0M418.7 116.8h0M408.3 130.5h0M420.7 115.2h0M414.2 126.2h0M418.9 118.9h0M408.3 130.5h0M414.2 130.3h0M418.4 121.5h0M411.3 131.6h0M401.8 138.2h0M420.4 117.3h0M419.5 124.8h0M416.6 118.7h0M410.1 131.2h0M419.7 115.9h0M414.1 121.5h0M419.0 120.0h0M417.1 117.6h0M416.1 120.5h0M406.3 126.7h0M417.9 113.9h0M422.2 113.5h0M409.3 127.4h0M395.4 143.0h0M419.6 117.4h0M419.2 115.3h0M406.6 134.8h0M420.2 118.7h0M412.1 129.3h0M419.5 114.8h0M389.8 147.4h0M404.8 139.1h0M416.9 121.5h0M403.9 134.1h0M413.5 127.0h0M402.9 145.6h0M400.3 140.1h0M401.0 143.2h0M421.1 116.7h0M395.4 157.4h0M406.2 131.5h0M415.1 126.7h0M396.1 143.2h0M421.3 120.5h0M420.9 112.7h0M417.2 117.6h0M422.2 112.7h0M410.9 125.9h0M422.6 114.0h0M398.7 151.5h0M422.6 113.6h0M405.8 136.1h0M421.5 115.9h0M421.3 113.4h0M395.7 133.6h0M392.5 150.8h0M413.1 122.6h0M407.1 145.8h0M405.9 137.5h0M402.8 135.9h0M401.3 136.1h0M415.5 118.8h0M423.2 113.6h0M401.2 142.3h0M413.5 124.4h0M400.0 146.0h0M416.4 122.7h0M417.9 118.1h0" stroke="#34f0c2" stroke-width="1.2" stroke-linecap="round" fill="none" opacity="1.0"/>
<path d="M423.9 112.2 L419 118 L421 120 L424 114 Z" fill="#34f0c2" fill-opacity="0.8"/>
<path d="M486.0 426.0L474.0 434.0L462.0 443.0L452.0 452.0L440.0 460.0L434.0 468.0L436.0 473.2L486.0 473.2Z" fill="#34f0c2" fill-opacity="0.2"/>
<path d="M481.7 462.2h0M448.6 456.4h0M470.0 452.5h0M474.3 430.0h0M457.9 465.0h0M454.1 464.9h0M476.8 461.7h0M457.8 464.5h0M480.4 472.3h0M441.1 455.8h0M458.2 450.1h0M450.4 464.4h0M473.9 452.4h0M472.9 453.1h0M466.8 436.0h0M429.8 467.9h0M461.5 460.6h0M470.5 457.1h0M457.4 444.1h0M442.5 456.7h0M475.8 441.2h0M454.0 446.1h0M482.5 464.8h0M479.5 450.7h0M474.3 445.4h0M479.9 440.1h0M466.9 445.4h0M470.1 445.7h0M460.7 470.0h0M460.4 467.0h0M477.9 428.0h0M482.5 460.1h0M484.1 469.6h0M484.9 469.1h0M440.7 472.5h0M454.9 470.2h0M452.5 458.5h0M448.4 472.7h0M464.4 438.2h0M458.2 447.9h0M428.1 471.1h0M459.5 470.3h0M475.6 469.7h0M474.5 469.5h0M484.0 435.9h0M483.5 454.1h0M463.0 465.4h0M480.6 453.0h0M452.6 468.6h0M477.0 446.0h0M484.5 460.4h0M448.6 467.6h0M460.6 468.6h0M450.5 461.6h0M486.1 435.3h0M450.3 469.0h0M467.5 455.9h0M447.7 472.7h0M483.0 449.9h0M434.8 461.5h0M473.6 471.5h0M483.9 469.4h0M462.1 469.4h0M474.5 453.0h0M481.3 457.6h0M479.8 456.2h0M448.8 453.4h0M485.4 457.4h0M484.0 451.5h0M467.2 471.0h0M454.1 455.9h0M471.3 446.6h0M480.8 450.5h0M477.4 455.9h0M483.0 457.0h0M467.1 440.9h0M452.1 452.9h0M447.0 457.6h0M475.7 469.6h0M439.9 461.7h0M479.4 472.9h0M480.7 453.5h0M477.4 452.8h0M464.3 449.2h0M458.8 449.2h0M464.6 450.5h0M471.5 459.7h0M464.0 459.7h0M480.3 468.6h0M451.7 464.6h0M471.6 471.0h0M477.0 438.8h0M460.5 443.7h0M467.7 462.3h0M448.0 470.1h0M473.0 471.5h0M436.9 470.6h0M450.4 469.2h0M460.8 453.3h0M472.2 438.9h0M465.5 464.5h0M469.1 450.9h0M485.6 446.7h0M459.1 446.3h0M471.2 438.2h0M485.9 450.5h0M479.0 451.0h0M470.2 438.8h0M478.1 455.5h0M479.8 455.5h0M463.3 449.1h0M479.8 436.4h0M473.9 446.6h0M464.2 464.6h0M472.4 470.3h0M461.9 467.8h0M485.1 470.0h0M474.3 459.1h0M481.7 463.7h0M475.2 440.4h0M466.5 456.1h0M472.5 465.5h0M456.3 458.6h0M454.6 464.0h0M471.8 456.8h0M480.5 447.9h0M482.7 438.5h0M483.9 438.3h0M462.2 448.3h0M477.1 462.6h0M479.8 430.0h0M477.2 439.1h0M463.9 468.4h0M478.2 463.4h0M485.1 460.9h0M485.7 471.1h0M466.7 468.3h0M468.0 456.6h0M471.7 447.2h0M467.0 465.1h0M462.3 453.7h0M480.6 443.0h0M468.3 458.7h0M483.5 459.4h0M447.4 454.2h0M469.1 468.7h0M468.7 451.6h0M481.6 460.8h0M467.9 433.6h0M473.0 439.9h0M481.9 432.0h0M481.0 443.2h0M475.5 459.2h0M447.2 470.1h0M451.1 456.9h0M450.9 450.8h0M454.2 459.3h0M443.5 466.3h0M465.9 473.0h0M468.5 464.3h0M477.4 446.9h0M459.2 458.6h0M482.1 460.6h0M485.3 433.8h0M476.7 468.6h0M463.0 457.8h0M483.6 471.3h0M473.6 447.3h0M467.8 449.8h0M473.6 469.1h0M481.4 441.1h0M468.0 470.2h0M460.6 444.1h0M465.3 464.8h0M481.6 444.7h0M469.8 451.2h0M482.6 459.4h0M478.5 457.5h0M457.8 469.5h0M440.4 455.6h0M434.2 464.1h0M456.2 460.9h0M486.5 430.2h0M474.1 468.7h0M456.7 456.5h0M457.4 458.0h0M481.6 440.1h0M462.2 460.3h0M483.8 428.4h0M461.9 450.1h0M472.5 445.3h0M474.5 433.3h0M453.4 450.0h0M482.7 435.9h0M471.2 431.8h0M472.0 445.4h0M457.0 462.3h0M484.2 449.8h0M471.2 459.6h0M467.3 448.5h0M482.0 463.5h0M479.3 434.3h0M471.8 469.4h0M462.8 449.1h0M444.8 453.2h0M457.6 471.0h0M454.8 453.8h0M477.1 465.3h0M471.1 463.5h0M447.3 463.4h0M471.0 445.9h0M481.7 453.3h0M447.3 460.5h0M481.9 469.2h0M486.1 450.5h0M468.5 457.7h0M480.4 464.3h0M430.3 465.3h0M465.3 449.0h0M479.4 448.1h0M485.3 450.2h0M482.5 447.8h0M486.0 461.8h0M485.8 443.0h0M449.1 466.6h0M481.2 455.9h0M467.7 459.4h0M469.7 443.3h0M464.3 438.1h0M479.2 456.2h0M461.8 441.0h0M451.2 461.1h0M467.2 464.0h0M485.8 457.4h0M480.0 454.5h0M456.6 461.6h0M479.2 450.7h0M451.7 459.0h0M467.8 458.9h0M482.1 467.5h0M471.2 450.2h0M445.1 457.5h0M484.4 425.9h0M466.9 454.6h0M462.6 461.9h0M478.7 469.3h0M461.7 461.2h0M485.2 421.4h0M468.1 467.3h0M443.8 459.8h0M473.1 444.9h0M476.8 472.8h0M441.0 467.4h0M441.2 454.4h0M476.7 462.4h0M479.8 466.9h0M478.2 457.9h0M460.0 460.1h0M466.7 436.8h0M477.9 440.3h0M431.7 468.2h0M478.3 436.8h0M480.2 435.7h0M431.4 468.7h0M467.4 466.1h0M473.8 444.5h0M452.2 454.6h0M443.3 468.3h0M475.2 434.6h0M473.3 447.1h0M457.3 470.5h0M454.3 448.2h0M476.6 465.9h0M460.2 462.0h0M452.3 467.7h0M469.0 446.7h0M452.4 462.6h0M464.5 469.3h0M465.6 438.9h0M481.5 448.1h0M483.9 460.1h0M480.8 463.9h0M471.8 443.7h0M446.4 471.1h0M483.0 447.2h0M462.0 455.7h0M473.6 450.3h0M478.5 456.5h0M469.6 459.1h0M472.2 470.5h0M481.7 452.1h0M478.2 458.0h0M451.6 472.1h0M438.9 457.3h0M450.1 467.2h0M470.7 465.8h0M473.0 462.7h0M472.9 468.5h0M479.9 457.5h0M480.7 459.8h0M465.3 458.1h0M472.5 437.1h0M473.8 471.7h0M472.6 454.7h0M463.3 464.0h0M434.9 461.3h0M462.0 467.5h0M477.9 454.1h0M458.0 464.0h0M430.6 464.4h0M470.5 432.6h0M462.7 451.6h0M472.9 458.7h0M456.3 461.7h0M480.7 438.6h0M482.9 462.5h0M483.5 447.7h0M461.0 450.9h0M485.7 439.2h0M462.9 460.8h0M456.6 451.0h0M470.5 459.5h0M469.2 462.0h0M476.5 469.9h0M482.6 438.5h0M460.5 445.0h0M444.6 452.3h0M478.2 432.8h0M480.3 431.8h0M474.0 456.8h0M471.3 471.2h0M474.1 444.0h0M445.2 454.0h0M443.4 454.5h0M468.5 447.1h0M468.1 465.7h0M469.2 464.1h0M466.4 455.6h0M461.6 464.1h0M460.3 472.9h0M481.0 441.9h0M486.3 447.8h0M460.4 455.9h0M460.6 463.4h0M485.0 445.0h0M468.6 467.8h0M459.4 470.3h0M468.3 471.6h0M462.1 454.1h0M469.8 454.7h0M441.5 454.6h0M449.6 458.2h0M446.6 471.2h0M442.0 472.9h0M457.1 458.2h0M472.9 458.9h0M472.2 468.4h0M439.2 472.1h0M474.5 457.2h0M471.4 464.9h0M475.7 446.9h0M437.9 464.8h0M480.4 465.1h0M482.1 460.7h0M485.9 460.6h0M483.4 429.4h0M484.8 428.0h0M458.7 467.9h0M478.2 431.8h0M452.3 456.6h0M456.8 465.4h0M477.8 444.1h0M451.2 460.1h0M462.1 460.7h0M486.1 421.0h0M443.4 468.7h0M481.4 464.7h0M455.3 470.3h0M464.3 450.9h0M469.7 453.0h0M483.9 456.4h0M475.1 433.8h0M455.7 463.1h0M484.0 454.1h0M442.1 463.1h0M471.9 438.0h0M477.8 448.9h0M479.5 443.3h0M438.1 463.6h0M468.7 448.6h0M474.6 464.3h0M477.4 439.1h0M473.0 461.3h0M446.0 452.1h0M473.2 432.1h0M438.9 465.9h0M483.5 450.7h0M457.9 466.4h0M454.4 457.0h0M486.3 435.2h0M477.2 468.5h0M462.3 460.5h0M428.2 471.3h0M440.9 471.1h0M453.5 452.3h0M448.9 456.7h0M483.4 461.8h0M455.6 464.8h0M483.0 464.3h0M467.7 464.8h0M467.3 441.9h0M479.5 435.3h0M457.8 459.1h0M475.8 471.4h0M485.7 441.2h0M485.0 450.9h0M455.9 459.6h0M450.4 468.1h0M470.0 466.5h0M476.6 456.8h0M471.8 462.1h0M463.1 471.2h0M471.4 452.6h0M453.0 459.2h0M456.7 472.1h0M486.0 428.1h0M468.8 465.7h0M482.7 455.8h0M479.8 447.4h0M478.5 456.2h0M480.4 430.7h0M465.8 457.7h0M471.7 468.8h0M460.1 464.7h0M467.4 458.4h0M481.9 453.8h0M465.4 444.3h0M477.7 449.4h0M461.1 456.9h0M458.3 458.6h0M472.9 444.2h0M457.0 462.5h0M465.5 461.1h0M457.1 463.6h0M433.0 463.1h0M476.2 442.7h0M473.1 441.5h0M477.4 439.5h0M454.0 453.7h0M479.2 458.0h0M465.2 467.6h0M485.3 451.8h0M462.4 468.8h0M483.0 451.0h0M474.8 462.1h0M458.0 442.2h0M466.0 445.5h0M462.0 468.8h0M478.2 457.2h0M439.3 460.5h0M470.3 457.8h0M443.2 466.8h0M469.3 449.4h0M454.1 467.9h0M476.9 452.6h0M480.6 437.1h0M469.0 470.6h0M475.2 431.4h0M474.1 461.4h0M467.9 447.8h0M483.4 444.9h0M427.8 470.5h0M481.7 425.5h0M475.0 434.7h0M476.5 438.7h0M460.0 449.6h0M484.6 466.7h0M465.2 454.5h0M462.6 450.0h0M447.5 456.5h0M483.8 454.2h0M471.7 460.7h0M469.8 472.0h0M443.2 464.7h0M456.0 469.0h0M458.3 460.9h0M478.1 428.3h0M462.2 451.6h0M465.2 459.5h0M445.5 455.2h0M459.8 461.4h0M467.1 444.7h0M450.0 465.7h0M440.9 459.3h0M474.9 441.1h0M457.2 449.4h0M482.1 453.1h0M431.0 465.2h0M455.2 457.2h0M485.7 445.4h0M461.6 440.1h0M475.2 460.3h0M438.0 457.5h0M481.6 438.9h0M458.9 456.0h0M473.3 452.0h0M465.1 436.8h0M474.4 471.0h0M469.6 467.3h0M463.2 470.8h0M470.0 433.4h0M442.6 463.6h0M467.6 451.3h0M448.7 467.3h0M468.4 462.4h0M432.7 468.9h0M480.8 468.3h0M467.6 457.0h0M477.2 430.7h0M467.0 463.4h0M477.2 457.5h0M446.0 472.1h0M471.4 437.4h0M477.1 434.2h0M486.4 423.7h0M486.4 466.4h0M479.4 473.0h0M474.7 448.8h0M470.3 466.4h0M470.4 460.5h0M477.1 465.1h0M458.9 454.4h0M449.7 467.3h0M480.0 458.1h0M486.4 466.2h0M479.8 455.6h0M484.7 463.5h0M472.2 460.7h0M477.6 466.2h0M461.7 448.2h0M466.2 447.0h0M465.3 466.5h0M485.5 465.8h0M464.3 444.4h0M435.6 468.5h0M478.8 465.3h0M460.0 447.7h0M456.7 466.6h0M456.3 465.6h0M445.3 454.5h0M475.2 455.1h0M453.3 467.9h0M462.2 444.2h0M483.9 439.3h0M467.9 444.2h0M484.6 432.7h0M442.3 466.7h0M461.3 446.2h0M482.3 431.0h0M461.8 453.9h0M429.4 472.1h0M454.6 455.2h0M456.1 462.9h0M472.7 457.4h0M473.1 456.9h0M482.2 469.8h0M482.4 451.7h0M469.7 443.3h0M485.0 447.8h0M465.1 454.2h0M469.4 458.8h0M478.4 434.1h0M455.2 454.3h0M470.7 453.7h0M475.1 430.6h0M477.5 456.8h0M461.5 460.6h0M459.1 472.8h0M476.1 469.6h0M484.8 462.5h0M459.7 456.3h0M484.9 457.7h0M443.4 454.8h0M478.8 452.8h0M484.8 446.4h0M480.7 434.2h0M471.0 458.0h0M456.0 445.7h0M453.4 452.8h0M447.6 466.9h0M468.1 435.3h0M473.8 442.5h0M467.3 469.3h0M463.9 442.7h0M467.9 434.5h0M447.8 463.0h0M477.7 456.1h0M483.4 467.3h0M469.9 437.3h0M464.2 446.4h0M473.1 430.3h0M453.5 449.8h0M466.5 435.7h0M461.5 443.4h0M478.4 472.1h0M457.6 457.9h0M457.4 463.3h0M456.4 457.6h0M455.6 470.1h0M462.7 465.7h0M440.5 471.7h0M452.7 458.8h0M461.8 458.1h0M475.6 458.1h0M478.4 427.0h0M434.3 466.6h0M468.9 466.2h0M480.2 457.8h0M446.2 452.7h0M459.9 468.9h0M478.7 429.8h0M440.3 464.9h0M472.4 472.9h0M470.6 458.3h0M481.0 460.2h0M475.2 442.2h0M478.1 453.1h0M482.5 444.9h0M468.7 453.0h0M485.6 440.8h0M478.3 469.6h0M476.3 463.2h0M465.4 470.2h0M454.2 455.4h0M473.2 466.8h0M462.5 469.7h0M483.1 444.5h0M473.7 468.0h0M478.6 471.0h0M467.7 446.8h0M473.6 467.8h0M469.4 452.9h0M434.3 471.5h0M482.9 451.3h0M468.2 457.0h0M475.9 464.6h0M450.9 471.9h0M453.0 451.1h0M479.9 446.7h0M485.4 431.3h0M461.3 469.6h0M462.9 437.8h0M476.5 451.0h0M459.9 472.6h0M472.4 464.3h0M478.4 463.0h0M463.0 458.8h0M436.0 460.5h0M486.2 455.1h0M467.2 470.8h0M482.0 450.6h0M444.4 459.0h0M464.0 456.7h0M461.2 468.7h0M478.7 472.1h0M484.6 454.6h0M477.2 466.8h0M466.8 440.7h0M462.1 456.4h0M475.7 435.3h0M467.5 457.9h0M467.5 439.9h0M479.6 469.0h0M462.3 470.5h0M482.8 472.1h0M474.1 455.3h0M450.7 462.5h0M460.1 440.9h0M460.8 457.4h0M470.1 469.2h0M475.5 464.6h0M464.9 438.3h0M469.1 448.7h0M479.9 440.3h0M436.5 466.7h0M462.5 440.5h0M464.9 468.3h0M480.3 433.4h0M453.7 446.3h0M463.6 455.8h0M437.7 471.8h0M476.9 441.2h0M459.5 455.4h0M477.4 462.9h0M485.4 428.0h0M447.5 456.5h0M448.6 459.5h0M476.7 466.1h0M472.0 459.0h0M442.2 455.9h0M470.7 449.5h0M481.8 438.0h0M463.3 465.5h0M472.5 442.0h0M462.1 455.5h0M440.1 457.3h0M453.6 456.6h0M482.2 446.5h0M472.4 438.2h0M473.1 455.7h0M470.1 445.4h0M473.4 445.3h0M471.0 449.7h0M436.6 460.6h0M462.1 438.5h0M453.4 448.1h0M479.1 446.6h0M447.2 469.4h0M454.4 457.2h0M483.0 439.3h0M477.9 429.8h0M483.9 454.7h0M452.3 464.4h0M474.7 457.0h0M469.9 446.3h0M469.7 456.4h0M465.7 452.7h0M469.8 452.3h0M464.2 457.5h0M477.0 468.7h0M459.2 443.1h0M464.5 470.2h0M447.7 450.9h0M468.0 450.8h0M465.9 460.0h0M485.3 461.1h0M473.3 458.3h0M447.5 453.6h0M473.6 470.9h0M482.9 440.5h0M471.8 460.0h0M466.1 463.0h0M472.8 440.0h0M471.9 454.0h0M483.6 443.0h0M479.8 471.3h0M456.2 458.2h0M484.2 459.3h0M486.2 456.3h0M462.2 455.8h0M480.2 429.6h0M456.4 448.9h0M425.9 470.9h0M484.7 426.1h0M473.3 464.2h0M458.3 458.0h0M448.5 454.3h0M452.0 449.1h0M479.9 463.2h0M454.0 452.3h0M464.4 460.0h0M470.2 471.4h0M459.6 459.3h0M460.5 464.2h0M479.5 431.3h0M427.7 468.3h0M457.3 461.6h0M485.2 444.5h0M480.7 432.1h0M480.5 429.4h0M483.5 468.2h0M471.7 453.0h0M483.9 458.8h0M462.0 458.6h0M483.5 456.7h0M450.1 471.3h0M460.5 460.1h0M467.5 454.4h0M470.0 435.8h0M463.4 457.7h0M479.5 442.2h0M467.6 473.0h0M459.3 461.3h0M454.2 464.7h0M455.9 449.9h0M461.7 466.0h0M452.3 457.5h0M448.9 470.3h0M470.7 446.9h0M471.5 473.0h0M479.9 449.6h0M461.0 472.2h0M474.9 460.4h0M459.9 466.1h0M464.9 459.6h0M473.5 460.7h0M464.7 457.0h0M485.2 427.9h0M481.1 465.7h0M486.1 431.6h0M455.5 461.3h0M474.3 438.9h0M439.1 458.4h0M446.9 457.1h0M461.7 461.8h0M452.2 453.0h0M444.6 456.6h0M474.1 466.2h0M473.0 459.7h0M469.1 444.3h0M447.9 457.7h0M485.9 447.0h0M442.6 454.9h0M480.2 444.0h0M460.3 447.2h0M474.2 435.6h0M458.9 467.1h0M464.5 456.2h0M478.4 455.6h0M442.7 456.3h0M453.5 464.7h0M464.4 444.2h0M483.7 427.9h0M442.9 469.5h0M460.4 456.6h0M447.1 468.9h0M471.8 464.3h0M483.2 437.7h0M472.4 452.5h0M456.1 449.6h0M479.2 443.8h0M454.6 466.7h0M467.2 454.4h0M481.6 443.4h0M452.5 458.6h0M481.6 455.4h0M474.7 458.3h0M475.7 466.3h0M486.3 459.4h0M480.2 425.9h0M478.5 430.1h0M484.3 429.5h0M448.3 465.8h0M453.0 470.3h0M461.0 466.8h0M471.9 451.5h0M482.6 466.5h0M480.7 449.3h0M465.3 439.0h0M470.4 444.4h0M485.0 434.6h0M464.8 437.3h0M486.0 439.9h0M477.5 464.4h0M484.1 426.4h0M485.5 433.4h0M463.9 463.4h0M483.3 469.8h0M466.4 463.9h0M478.7 472.7h0M460.0 467.6h0M452.3 472.5h0M439.0 465.0h0M476.9 434.8h0M477.9 439.3h0M484.9 436.5h0M478.0 468.3h0M475.2 464.2h0M480.0 441.7h0M483.7 434.1h0M472.5 458.8h0M446.6 471.8h0M485.9 461.2h0M457.7 469.7h0M446.4 468.6h0M469.5 444.5h0M474.7 445.7h0M471.4 439.7h0M446.1 471.4h0M457.3 457.4h0M481.2 431.7h0M480.6 454.1h0M469.8 464.5h0M463.9 463.4h0M485.5 470.2h0M443.2 465.1h0M436.6 463.2h0M481.9 470.2h0M451.2 453.2h0M459.4 451.9h0M441.9 471.2h0M468.0 448.1h0M465.6 455.4h0M486.1 425.6h0M481.4 442.6h0M438.8 471.9h0M485.4 451.8h0M455.8 450.7h0M461.7 460.8h0M467.0 456.9h0M464.4 441.1h0M470.9 457.7h0M468.4 446.7h0M467.9 466.3h0M454.0 467.1h0M450.0 465.3h0M470.4 470.1h0M473.6 443.9h0M435.6 459.3h0M477.4 454.2h0M463.9 449.7h0M481.9 451.2h0M463.1 459.6h0M478.1 440.9h0M471.7 450.9h0M479.8 444.0h0M469.0 460.9h0M481.9 456.2h0M478.7 450.2h0M454.8 472.5h0M485.7 428.0h0M479.9 463.4h0M479.8 448.3h0M483.5 464.5h0M476.5 458.6h0M449.8 465.6h0M478.2 460.4h0M468.4 470.7h0M470.2 457.3h0M457.8 459.3h0M472.2 453.2h0M479.7 463.7h0M443.9 465.1h0M484.3 434.8h0M446.8 457.0h0M461.6 454.7h0M484.4 452.2h0M460.7 442.8h0M460.5 468.8h0M485.3 463.5h0M467.5 444.9h0M484.3 455.8h0M474.9 471.2h0M475.0 446.1h0M460.4 467.6h0M482.3 472.0h0M439.5 455.5h0M476.2 469.3h0M459.2 446.7h0M450.2 472.4h0M482.1 467.1h0M467.0 471.0h0M462.7 461.9h0M454.8 469.9h0M470.4 456.5h0M479.0 453.9h0M474.7 460.8h0M477.3 428.4h0M474.5 459.0h0M461.2 467.7h0M471.5 442.7h0M462.3 439.0h0M454.2 471.4h0M461.0 470.7h0M451.9 449.5h0M485.7 428.5h0M449.7 467.4h0M441.3 469.7h0M473.9 452.7h0M467.6 457.2h0M465.1 457.9h0M486.1 470.8h0M478.2 437.8h0M462.0 450.4h0M473.9 463.4h0M471.9 467.3h0M477.6 470.7h0M466.3 455.2h0M483.2 425.8h0M460.1 441.4h0M467.0 451.3h0M485.3 433.1h0M486.4 453.8h0M445.2 458.2h0M484.5 459.4h0M461.6 460.3h0M470.0 446.8h0M485.0 457.7h0M455.9 461.8h0M451.0 458.1h0M484.0 441.1h0M469.0 458.4h0M458.7 464.2h0M443.9 466.4h0M462.8 469.6h0M464.4 449.6h0M465.0 466.4h0M478.7 470.6h0M441.0 468.0h0M443.9 465.2h0M446.5 471.1h0M469.1 458.1h0M444.2 461.7h0M467.8 446.6h0M483.4 464.5h0M471.8 442.0h0M463.8 464.2h0M469.9 462.3h0M476.3 461.1h0M484.4 452.3h0M476.1 434.2h0M480.5 468.3h0M472.2 465.3h0M486.3 470.7h0M480.3 454.7h0M468.7 452.4h0M457.2 456.9h0M468.5 449.7h0M469.0 453.8h0M476.9 460.8h0M461.3 472.1h0M485.5 456.0h0M471.0 456.9h0M467.7 462.9h0M479.6 432.5h0M454.5 445.7h0M453.1 452.1h0M474.2 460.7h0M448.3 469.6h0M481.3 447.3h0M480.1 438.1h0M485.5 430.9h0M440.6 467.8h0M446.9 463.2h0M482.0 464.8h0M462.7 459.3h0M484.4 423.0h0M473.9 469.2h0M475.8 441.0h0M467.1 472.5h0M451.4 467.2h0M463.0 467.4h0M461.3 445.5h0M456.9 467.9h0M476.5 453.3h0M470.4 464.5h0M483.6 441.5h0M479.6 449.5h0M460.2 460.3h0M438.8 471.8h0M463.1 446.5h0M463.2 464.5h0M465.8 438.9h0M430.6 465.7h0M470.1 464.4h0M455.1 464.8h0M472.6 454.3h0M480.3 473.1h0M436.4 465.8h0M485.9 450.2h0M467.5 466.1h0M453.2 472.9h0M476.2 468.9h0M474.4 461.2h0M462.8 441.3h0M466.0 456.8h0M467.8 452.7h0M447.3 458.8h0M461.0 462.2h0M460.3 452.5h0M484.5 430.3h0M466.7 438.4h0M474.8 450.2h0M476.8 463.3h0M480.9 458.8h0M448.2 453.6h0M486.1 436.6h0M444.8 465.4h0M483.6 462.8h0M457.1 467.2h0M469.8 466.0h0M476.2 431.8h0M485.5 429.6h0M477.9 438.4h0M471.8 448.1h0M434.8 463.8h0M447.8 456.0h0M465.6 448.7h0M458.0 462.0h0M437.6 458.7h0M484.7 460.0h0M445.3 463.9h0M456.8 472.7h0M466.2 467.3h0M442.6 457.3h0M451.2 454.5h0M464.1 441.4h0M459.6 457.9h0M453.3 457.2h0M480.9 427.8h0M464.4 460.7h0M455.9 448.2h0M447.2 467.2h0M469.2 463.2h0M464.4 449.2h0M462.1 458.0h0M480.9 461.8h0M476.9 428.5h0M452.8 458.5h0M483.8 470.0h0M459.2 448.3h0M486.3 427.5h0M475.4 442.7h0M444.7 452.9h0M480.2 459.9h0M477.5 457.0h0M480.3 449.7h0M480.9 445.0h0M480.0 463.3h0M431.9 468.1h0M485.5 426.5h0M485.0 458.5h0M482.8 437.4h0M465.0 464.5h0M446.7 454.8h0M467.9 455.8h0M471.2 466.5h0M485.9 441.9h0M444.0 459.7h0M466.6 462.5h0M485.2 468.6h0M469.4 436.4h0M471.1 456.1h0M454.2 447.4h0M484.9 439.7h0M464.0 466.5h0M445.5 457.1h0M481.3 472.4h0M482.9 471.0h0M474.6 452.9h0M441.5 455.0h0M480.3 471.5h0M461.0 458.0h0M481.1 465.5h0M483.8 428.5h0M468.7 452.2h0M445.5 465.4h0M450.2 462.9h0M486.1 442.4h0M464.6 441.2h0M464.4 458.7h0M485.1 465.0h0M482.2 459.0h0M456.4 466.3h0M486.2 466.2h0M464.0 454.1h0M485.1 430.3h0M466.1 461.0h0M484.1 441.7h0M451.4 459.1h0M458.2 466.6h0M465.2 459.6h0M479.4 442.7h0M484.0 472.1h0M466.5 466.3h0M451.3 456.9h0M460.4 463.5h0M445.6 463.7h0M429.9 465.6h0M437.5 463.9h0M475.2 431.5h0M465.0 435.9h0M462.7 460.1h0M447.9 470.1h0M486.1 434.6h0M471.3 472.9h0M455.6 465.7h0M466.1 457.0h0M477.8 460.3h0M485.2 443.5h0M460.9 472.4h0M449.7 455.8h0M454.3 458.6h0M452.8 458.1h0M461.9 446.9h0M469.1 460.1h0M482.7 453.0h0M479.6 436.4h0M481.8 440.8h0M463.2 459.2h0M470.9 453.6h0M465.7 452.8h0M459.7 465.9h0M472.8 456.3h0M453.7 451.0h0M481.6 429.9h0M465.9 466.0h0M465.8 454.8h0M458.3 455.9h0M464.0 445.0h0M464.7 440.1h0M471.5 441.5h0M459.3 458.1h0M465.3 454.3h0M476.8 452.0h0M477.9 467.2h0M449.6 472.6h0M442.7 463.9h0M456.5 461.5h0M466.1 462.5h0M475.2 463.7h0M461.5 451.8h0M458.2 456.5h0M463.2 456.2h0M442.1 465.6h0M476.3 467.8h0M481.4 443.8h0M476.0 447.9h0M466.4 447.8h0M471.4 465.3h0M466.1 464.7h0M460.9 458.5h0M476.1 460.4h0M459.6 448.3h0M481.6 431.4h0M474.7 442.0h0M443.8 459.6h0M453.9 471.7h0M485.8 457.9h0M464.5 445.4h0M461.7 450.1h0M459.3 444.2h0M461.6 464.6h0M469.3 459.7h0M465.7 435.6h0M472.4 463.7h0M450.8 465.0h0M480.6 450.8h0M483.8 466.6h0M463.2 463.6h0M481.2 425.1h0M483.6 469.1h0M477.7 437.4h0M456.5 458.8h0M440.9 468.3h0M467.2 457.0h0M459.3 447.6h0M458.5 464.9h0M453.6 456.3h0M477.9 463.2h0M481.0 446.7h0M453.1 464.9h0M457.6 446.9h0M480.9 439.4h0M476.6 437.3h0M461.1 468.1h0M469.7 453.9h0M467.7 447.6h0M465.8 456.7h0M483.7 432.3h0M482.7 434.3h0M467.2 446.3h0M466.5 460.4h0M472.3 459.6h0M477.9 428.4h0M474.4 439.9h0M479.5 456.2h0M460.3 447.4h0M475.2 457.9h0M455.9 453.6h0M469.8 439.0h0M459.7 465.6h0M442.6 463.3h0M455.9 447.5h0M467.2 455.7h0M484.0 451.0h0M454.0 463.4h0M455.9 470.9h0M469.4 460.4h0M461.6 449.9h0M479.3 446.1h0M455.5 454.7h0M478.2 461.5h0M456.1 458.6h0M472.9 440.6h0M474.7 435.8h0M438.7 467.4h0M484.8 424.5h0M449.7 461.9h0M486.0 461.1h0M436.0 459.5h0M476.8 472.6h0M474.9 457.8h0M470.0 451.1h0M485.5 468.8h0M443.7 454.4h0M455.2 463.6h0M456.4 466.3h0M471.5 455.4h0M446.4 457.8h0M482.8 426.8h0M456.7 470.3h0M453.4 470.9h0M483.7 458.3h0M483.7 452.0h0M471.1 434.8h0M468.9 469.6h0M446.0 467.7h0M453.1 469.7h0M465.7 465.1h0M477.8 453.0h0M480.1 426.3h0M475.5 462.0h0M452.4 462.6h0M463.8 443.9h0M465.9 450.8h0M465.6 453.6h0M465.2 465.1h0M462.0 445.1h0M460.4 447.2h0M463.0 468.6h0M473.7 434.6h0M447.0 456.7h0M455.1 455.2h0M486.1 456.3h0M453.3 464.6h0M483.2 472.3h0M454.8 462.0h0M457.1 454.9h0M466.0 451.7h0M464.4 469.6h0M481.5 427.2h0M451.2 465.5h0M480.7 445.8h0M484.0 459.5h0M459.8 459.2h0M465.5 464.9h0M460.7 459.0h0M478.2 428.9h0M473.4 458.7h0M454.4 459.1h0M482.3 427.5h0M470.1 461.6h0M484.1 459.7h0M438.3 466.7h0M464.3 468.1h0M483.5 430.4h0M445.3 473.0h0M434.1 462.5h0M462.0 438.3h0M475.1 455.1h0M485.4 440.2h0M485.0 444.2h0M482.0 429.2h0M456.8 472.9h0M475.7 445.3h0M440.0 457.6h0M484.4 465.8h0M478.3 453.8h0M441.2 460.6h0M446.8 463.8h0M478.5 451.1h0M483.2 445.2h0M461.2 442.1h0M471.0 451.7h0M486.0 460.4h0M460.7 453.9h0M470.2 445.8h0M476.2 430.5h0M467.5 437.1h0M472.8 453.2h0M445.0 456.9h0M428.3 472.7h0M462.9 461.0h0M459.8 467.6h0M477.5 460.5h0M482.7 429.0h0M437.7 460.7h0M449.1 456.2h0M472.5 455.5h0M465.2 450.0h0M469.7 465.9h0M485.0 445.8h0M478.9 433.7h0M472.2 442.3h0M470.1 469.1h0M474.0 445.0h0M472.2 462.2h0M469.6 449.5h0M468.4 457.2h0M474.9 459.7h0M470.1 470.9h0M460.4 442.7h0M456.2 461.1h0M463.0 460.9h0M482.7 460.9h0M457.6 464.4h0M461.1 461.1h0M467.4 450.7h0M467.5 435.1h0M486.4 438.2h0M466.7 441.5h0M458.3 455.4h0M463.5 449.0h0M484.7 462.0h0M456.4 465.6h0M478.5 433.3h0M436.7 458.4h0M479.1 445.1h0M466.0 460.3h0M465.3 461.8h0M464.4 461.4h0M457.4 454.6h0M467.9 462.3h0M486.2 422.2h0M484.6 447.2h0M475.5 458.2h0M476.7 461.6h0M455.0 451.9h0M485.0 464.8h0M473.7 444.6h0M475.2 434.6h0M484.7 440.0h0M481.8 438.9h0M426.4 472.0h0M468.2 461.7h0M471.9 456.1h0M485.9 466.7h0M449.2 451.4h0M464.8 445.0h0M456.1 466.6h0M481.3 461.6h0M443.4 461.4h0M474.1 473.2h0M472.7 455.4h0M477.9 471.6h0M464.9 464.8h0M449.9 453.6h0M472.3 437.7h0M458.7 442.7h0M465.5 459.3h0M454.1 459.1h0M461.9 449.1h0M478.2 460.0h0M471.1 465.7h0M473.6 466.1h0M464.3 469.7h0M479.5 435.1h0M484.1 431.5h0M463.2 448.1h0M467.8 467.0h0M447.9 460.3h0M472.7 472.9h0M486.3 450.6h0M477.0 460.0h0M468.3 466.8h0M451.7 449.6h0M484.7 436.4h0M485.9 442.0h0M486.4 470.1h0M469.0 452.2h0M481.3 435.2h0M469.7 446.6h0M452.9 458.1h0M463.3 461.7h0M481.7 446.4h0M481.8 436.4h0M484.5 456.4h0M471.6 459.4h0M486.4 472.4h0M460.9 467.5h0M459.6 463.6h0M470.0 469.8h0M472.9 459.1h0M474.1 458.7h0M471.8 467.3h0M457.7 471.3h0M467.8 462.8h0M483.4 429.7h0M454.1 462.5h0M439.8 469.3h0M464.7 470.9h0M444.6 464.9h0M482.8 434.8h0M484.4 467.3h0M476.7 465.1h0M430.3 468.2h0M466.4 472.5h0M476.0 455.3h0M460.5 443.2h0M458.2 453.3h0M451.1 455.0h0M474.2 466.2h0M446.8 471.6h0M477.8 426.9h0M483.5 471.8h0M471.1 456.7h0M473.4 469.5h0M471.9 463.9h0M486.2 427.4h0M464.4 451.3h0M455.4 456.0h0M455.7 468.9h0M438.7 456.3h0M470.7 444.3h0M459.5 466.0h0M483.3 447.0h0M467.6 455.9h0M454.9 449.3h0M457.0 446.6h0M473.2 461.4h0M451.1 460.8h0M471.0 457.5h0M430.5 472.2h0M466.4 445.4h0M463.7 468.1h0M427.2 470.1h0M469.0 449.9h0M461.3 439.7h0M476.1 462.7h0M451.9 471.7h0M457.8 443.7h0M482.0 453.3h0M436.2 467.4h0M445.5 463.1h0M460.4 454.7h0M449.7 459.5h0M485.7 439.5h0M477.8 454.6h0M435.8 463.7h0M458.2 447.4h0M483.6 431.0h0M435.6 463.5h0M449.5 459.6h0M464.1 445.2h0M483.4 442.4h0M479.1 455.7h0M454.7 448.9h0M473.5 453.0h0M446.2 457.1h0M478.6 460.6h0M473.2 451.8h0M458.2 452.2h0M472.7 447.9h0M455.4 452.9h0M485.3 465.8h0M452.1 449.5h0M463.9 445.9h0M464.8 465.5h0M469.9 445.3h0M455.6 459.0h0M456.2 461.8h0M475.7 447.7h0M439.2 456.7h0M484.1 465.0h0M450.4 456.6h0M453.4 464.7h0M477.6 461.3h0M480.7 438.6h0M481.2 471.7h0M476.1 454.0h0M472.3 461.5h0M444.9 468.6h0M463.9 443.8h0M437.5 472.0h0M470.6 458.5h0M462.5 466.2h0M476.8 461.7h0M453.5 471.2h0M432.9 462.6h0M477.6 457.5h0M483.8 437.4h0M465.4 436.6h0M473.4 440.1h0M458.0 461.0h0M457.1 458.9h0M477.6 472.9h0M462.2 457.9h0M467.8 447.4h0M482.6 472.4h0M474.7 449.7h0M470.2 470.1h0M473.3 429.7h0M481.0 428.9h0M441.9 457.5h0M438.4 459.1h0M466.9 465.9h0M458.3 468.4h0M454.6 463.2h0M473.3 467.8h0M473.6 459.3h0M484.3 433.9h0M465.3 440.6h0M440.7 460.5h0M453.5 447.6h0M480.1 431.9h0M461.8 471.7h0M485.7 465.4h0M470.8 455.9h0M462.5 466.0h0M434.6 470.5h0M461.4 444.7h0M474.9 441.1h0M483.9 427.2h0M483.6 435.2h0M460.3 464.8h0M464.8 465.4h0M485.4 472.3h0M463.8 472.8h0M482.0 424.7h0M436.6 458.7h0M481.6 429.3h0M458.1 469.4h0M483.0 430.9h0M481.8 424.6h0M483.8 462.0h0M441.6 457.5h0M486.2 463.1h0M445.7 457.9h0M471.2 454.4h0M481.7 456.6h0M484.4 442.5h0M435.9 461.7h0M464.3 464.3h0M474.6 463.9h0M438.3 464.2h0M464.1 471.0h0M445.8 463.2h0M479.3 456.8h0M462.0 438.7h0M480.8 446.6h0M473.7 459.1h0M450.4 455.6h0M480.5 443.5h0M480.7 449.3h0M455.9 455.1h0M483.6 469.3h0M452.4 470.9h0M469.4 459.8h0M486.3 441.3h0M466.7 457.6h0M477.8 461.1h0M476.7 462.3h0M474.5 462.9h0M468.6 453.6h0M477.4 451.4h0M459.2 465.1h0M481.8 464.0h0M472.9 457.6h0M469.1 467.0h0M453.3 449.8h0M460.9 470.6h0M433.5 466.4h0M449.0 455.7h0M482.5 460.4h0M476.2 458.1h0M458.0 460.4h0M462.7 453.1h0M461.0 460.9h0M462.4 455.9h0M467.1 454.3h0M444.9 472.5h0M456.0 466.4h0M448.7 467.6h0M462.7 453.2h0M465.7 466.2h0M466.8 460.5h0M466.6 444.2h0M472.2 469.3h0M453.8 450.1h0M460.4 459.7h0M462.9 470.9h0M434.1 470.8h0M469.2 444.2h0M460.3 453.4h0M469.7 443.4h0M455.8 453.2h0M467.9 457.3h0M441.2 456.6h0M454.7 466.2h0M454.6 455.6h0M470.2 461.1h0M485.1 465.1h0M459.0 463.9h0M439.7 472.6h0M484.3 433.4h0M469.2 456.8h0M477.7 461.3h0M437.5 472.0h0M480.2 440.5h0M457.4 448.3h0M455.0 459.9h0M468.1 455.9h0M472.1 457.8h0M482.5 469.4h0M472.7 469.9h0M475.1 431.5h0M471.2 457.8h0M456.6 449.0h0M449.2 468.7h0M420.7 472.5h0M442.6 452.0h0M436.6 457.0h0M443.7 446.6h0M424.7 470.3h0M432.2 458.5h0M473.6 428.7h0M436.8 453.0h0M478.8 424.9h0M432.5 453.1h0M422.5 468.7h0M424.3 464.8h0M433.7 460.0h0M430.4 458.5h0M454.7 442.2h0M445.5 451.2h0M448.7 445.6h0M448.5 446.5h0M443.4 446.5h0M433.8 458.1h0M419.2 471.4h0M429.0 464.1h0M432.8 460.7h0M453.4 440.7h0M422.8 467.6h0M435.7 453.3h0M467.2 431.8h0M439.6 454.2h0M420.1 473.0h0M431.8 456.5h0M437.5 453.1h0M430.3 461.2h0M428.2 463.2h0M443.4 447.6h0M419.5 472.6h0M432.8 460.3h0M447.1 449.4h0M441.0 450.4h0M457.8 436.9h0M444.5 447.0h0M455.4 441.2h0M448.5 446.7h0M445.0 445.7h0M455.3 437.7h0M426.0 458.5h0M423.0 470.8h0M435.5 457.7h0M431.9 457.5h0M425.9 464.0h0M475.6 425.4h0M461.6 433.9h0M471.0 428.1h0M426.1 461.7h0M450.9 443.0h0M422.2 468.9h0M448.6 443.7h0M444.0 445.3h0M429.0 460.1h0M446.8 443.0h0M432.2 455.2h0M422.8 465.8h0M419.1 473.2h0M423.4 463.1h0M446.0 450.0h0M446.9 447.2h0M446.2 448.3h0M470.9 427.9h0M471.4 428.2h0M442.9 452.4h0M421.1 469.9h0M456.6 442.5h0M443.0 445.1h0M470.7 428.7h0M429.1 462.5h0M484.1 422.1h0M451.7 447.8h0M421.8 470.0h0M457.4 441.3h0M422.2 464.3h0M443.5 451.7h0M425.5 467.3h0M447.0 445.5h0M449.8 443.2h0M432.7 457.1h0M451.3 439.9h0M474.7 425.8h0M449.8 443.0h0M467.0 432.3h0M422.3 469.5h0M437.2 454.9h0M467.9 433.2h0M464.0 435.8h0M474.7 427.6h0M426.7 462.6h0M421.6 472.4h0M464.8 435.8h0M449.9 441.9h0M463.3 435.4h0M440.9 450.7h0M469.9 431.2h0" stroke="#34f0c2" stroke-width="1.2" stroke-linecap="round" fill="none" opacity="1.0"/>
<path d="M486.3 473.2 L478.2 473.2 L478.5 450 L479.5 435 L482 428 L486 420.6 L486.3 420.6 Z" fill="#34f0c2"/>
<path d="M465.1 493.6h0M449.3 487.5h0M446.9 488.5h0M461.0 480.7h0M447.5 479.3h0M459.9 485.3h0M447.8 482.9h0M423.8 479.8h0M466.2 484.3h0M422.0 486.2h0M463.8 482.7h0M464.3 484.3h0M463.2 480.5h0M452.9 479.9h0M433.9 482.0h0M451.4 490.6h0M468.4 484.8h0M463.4 477.9h0M462.0 480.2h0M464.1 480.5h0M464.9 481.8h0M460.0 489.4h0M440.8 494.0h0M421.4 482.4h0M417.9 489.9h0M447.8 485.3h0M446.2 479.1h0M448.9 490.6h0M448.3 484.6h0M448.3 478.7h0M422.7 486.8h0M448.7 475.3h0M464.1 490.8h0M428.6 479.4h0M453.8 491.8h0M467.1 482.1h0M448.6 479.9h0M459.0 486.5h0M465.7 482.9h0M454.1 487.2h0M451.9 479.7h0M447.2 487.8h0M418.1 487.8h0M455.0 486.0h0M457.9 478.9h0M454.0 476.7h0M457.2 492.1h0M451.1 493.2h0M424.6 490.0h0M429.8 483.9h0M467.0 481.0h0M464.8 490.5h0M451.5 483.4h0M457.1 476.3h0M457.6 486.3h0M456.7 485.9h0M454.0 479.7h0M458.4 476.1h0M467.7 487.1h0M437.5 482.7h0M443.4 484.7h0M415.9 486.7h0M430.6 488.4h0M453.5 487.3h0M447.7 476.2h0M466.5 490.0h0M446.0 493.2h0M457.1 480.8h0M455.2 481.3h0M452.7 485.0h0M452.6 479.9h0M427.0 488.9h0M413.6 486.1h0M443.4 491.4h0M421.5 478.3h0M464.6 486.9h0M443.2 492.0h0M463.4 473.4h0M455.9 483.3h0M468.3 485.5h0M448.4 486.3h0M458.3 484.2h0M454.3 489.5h0M442.6 480.4h0M422.2 486.7h0M455.4 485.6h0M466.5 490.7h0M461.1 492.6h0M440.5 487.8h0M461.4 476.7h0M461.1 494.1h0M447.7 480.5h0M438.2 485.4h0M463.4 487.2h0M422.3 486.7h0M453.8 481.5h0M461.5 483.2h0M453.1 482.3h0M466.9 493.5h0M466.2 486.9h0M464.2 474.2h0M458.7 485.2h0M460.0 494.0h0M428.2 487.3h0M466.3 479.3h0M468.4 479.7h0M458.0 485.4h0M440.1 477.0h0M442.3 485.3h0M462.3 485.4h0M456.7 475.2h0M432.2 487.1h0M410.3 484.0h0M460.8 480.3h0M440.5 483.4h0M464.6 482.9h0M453.4 482.9h0M461.5 491.8h0M433.3 482.8h0M448.2 486.9h0M447.3 486.8h0M455.1 476.9h0M464.5 485.5h0M463.0 477.8h0M413.5 481.3h0M434.0 481.1h0M445.4 492.1h0M456.5 474.0h0M445.1 487.7h0M449.9 473.8h0M442.3 485.1h0M461.9 478.0h0M436.5 488.6h0M459.9 479.2h0M459.1 488.9h0M462.6 478.6h0M432.4 479.8h0M436.7 479.8h0M454.3 494.0h0M449.2 477.1h0M455.9 491.9h0M445.9 483.4h0M465.4 493.1h0M444.9 486.5h0M439.7 483.7h0M462.5 486.4h0M429.8 485.9h0M402.9 482.1h0M440.5 488.0h0M416.5 481.4h0M460.5 488.7h0M456.4 494.2h0M442.5 484.6h0M455.9 482.8h0M465.4 483.8h0M461.6 491.4h0M420.8 487.1h0M466.0 493.9h0M456.1 486.5h0M426.6 490.8h0M459.9 486.2h0M418.8 480.7h0M415.4 482.9h0M440.3 488.2h0M467.8 484.5h0M463.6 478.7h0M404.7 481.5h0M465.2 488.0h0M450.4 494.3h0M459.5 488.7h0M457.5 487.6h0M459.9 489.2h0M455.7 486.5h0M456.0 479.1h0M465.2 482.0h0M444.3 488.6h0M458.4 486.2h0M433.3 480.4h0M455.6 487.5h0M463.8 485.4h0M466.7 488.7h0M444.9 488.0h0M447.9 481.3h0M452.9 479.4h0M424.7 487.9h0M442.7 491.5h0M456.6 489.1h0M425.1 480.8h0M451.0 486.1h0M440.8 482.2h0M442.7 484.6h0M435.4 483.3h0M450.3 487.1h0M459.8 492.1h0M466.8 473.4h0M449.1 479.7h0M452.5 483.8h0M461.2 481.2h0M460.7 480.5h0M410.8 487.9h0M460.4 489.0h0M421.9 479.6h0M466.7 481.8h0M462.3 486.3h0M461.9 487.9h0M451.8 477.5h0M459.2 486.6h0M453.0 479.8h0M418.6 487.1h0M448.1 482.4h0M468.0 491.9h0M447.2 491.1h0M454.6 484.3h0M461.1 477.6h0M435.3 481.1h0M438.6 480.8h0M461.8 491.2h0M456.9 481.6h0M434.9 481.9h0M467.1 488.2h0M450.5 484.9h0M453.4 479.6h0M437.1 481.2h0M451.9 488.4h0M460.8 483.2h0M468.2 484.1h0M462.3 481.6h0M436.7 484.8h0M456.2 488.6h0M438.4 485.0h0M431.1 486.6h0M459.5 494.1h0M456.0 486.0h0M449.8 487.0h0M459.0 488.2h0M460.4 489.2h0M460.3 481.1h0M463.0 487.0h0M449.6 476.6h0M429.8 489.8h0M456.9 487.6h0M447.7 485.9h0M419.4 486.2h0M464.5 474.9h0M437.0 477.4h0M431.9 483.3h0M465.4 477.3h0M452.3 478.2h0M460.9 478.7h0M465.8 491.3h0M446.5 483.3h0M466.5 488.6h0M421.2 485.3h0M464.8 491.2h0M461.1 473.9h0M461.0 475.7h0M444.4 490.7h0M438.7 489.7h0M424.0 488.5h0M467.2 480.3h0M458.9 480.4h0M455.4 474.2h0M408.8 480.5h0M441.7 484.9h0M451.2 477.2h0M464.2 475.3h0M447.5 478.1h0M430.4 486.3h0M455.7 482.2h0M428.6 485.6h0M436.0 492.1h0M426.0 483.0h0M461.0 474.9h0M459.5 490.4h0M466.9 486.8h0M460.0 490.0h0M439.9 478.9h0M462.1 481.5h0M421.4 481.3h0M414.7 485.5h0M437.9 480.2h0M417.4 488.9h0M467.6 491.8h0M450.2 492.5h0M426.4 484.6h0M431.9 492.3h0M434.0 485.9h0M456.7 474.9h0M441.1 483.9h0M418.9 478.7h0M434.1 478.6h0M464.6 480.6h0M438.6 477.4h0M444.7 486.0h0M451.6 482.2h0M433.0 476.7h0M433.0 476.1h0M407.4 488.4h0M418.5 483.8h0M424.3 481.2h0M443.0 494.0h0M462.0 482.4h0M468.3 488.2h0M427.9 489.6h0M458.5 482.4h0M464.2 483.5h0M446.7 481.1h0M438.1 482.7h0M455.1 481.9h0M417.5 482.9h0M461.9 479.0h0M444.9 478.9h0M468.4 482.5h0M465.6 494.3h0M427.5 479.4h0M431.4 481.0h0M461.3 483.5h0M424.4 481.2h0M446.8 490.2h0M468.2 484.3h0M461.8 483.5h0M449.8 480.0h0M455.9 487.4h0M437.0 482.0h0M444.2 485.7h0M460.2 476.0h0M456.1 481.8h0M468.1 480.3h0M464.0 487.0h0M443.8 478.8h0M459.6 478.6h0M454.1 487.7h0M455.8 488.4h0M450.0 474.8h0M449.1 477.7h0M440.8 483.9h0M437.9 485.6h0M458.7 481.6h0M460.3 489.0h0M457.8 475.0h0M445.1 486.1h0M429.9 488.4h0M449.3 480.5h0M453.7 480.4h0M427.5 486.1h0M449.2 481.5h0M430.6 478.0h0M449.6 485.1h0M467.9 490.9h0M439.5 484.4h0M439.1 483.1h0M424.1 483.4h0M456.1 481.7h0M462.2 494.1h0M466.3 494.6h0M439.0 487.3h0M464.8 484.1h0M464.1 481.0h0M459.4 481.9h0M467.7 482.1h0M409.3 481.9h0M444.1 490.8h0M448.2 489.9h0M442.9 483.4h0M452.2 478.1h0M453.4 484.6h0M436.2 482.3h0M466.1 475.9h0M451.7 492.5h0M466.1 483.2h0M446.1 477.4h0M466.1 476.1h0M448.8 486.3h0M446.5 482.6h0M451.2 473.3h0M455.4 492.8h0M463.2 484.7h0M448.2 475.2h0M462.6 485.9h0M449.7 483.3h0M463.4 484.6h0M439.1 482.0h0M460.5 485.2h0M408.2 487.5h0M455.9 483.7h0M455.5 486.0h0M441.6 485.9h0M412.0 483.7h0M435.7 486.5h0M419.0 479.2h0M457.6 481.7h0M464.5 492.5h0M460.7 490.1h0M417.6 485.5h0M423.3 486.4h0M467.8 483.5h0M441.4 488.7h0M458.3 486.9h0M459.2 486.6h0M450.7 478.5h0M452.5 492.0h0M465.1 488.1h0M461.8 477.1h0M457.6 479.3h0M449.6 482.3h0M421.4 478.1h0M433.3 489.7h0M462.0 483.4h0M458.2 481.8h0M424.4 479.6h0M438.4 478.6h0M456.7 475.2h0M458.9 485.2h0M465.6 480.9h0M414.6 481.9h0M459.7 485.1h0M423.2 482.5h0M421.7 485.4h0M464.1 476.0h0M447.7 482.6h0M448.2 490.8h0M457.5 486.7h0M402.2 484.6h0M449.7 485.4h0M464.7 479.6h0M467.5 474.0h0M446.5 489.7h0M462.5 487.9h0M460.1 486.2h0M467.6 490.6h0M468.1 479.0h0M439.8 484.1h0M460.5 480.5h0M451.5 484.9h0M437.1 479.3h0M462.7 477.8h0M434.9 489.6h0M450.0 488.0h0M450.1 477.7h0M454.0 486.3h0M445.0 477.7h0M455.5 480.6h0M456.6 475.7h0M464.2 494.3h0M450.6 485.1h0M461.2 492.6h0M453.6 491.4h0M454.7 481.6h0M444.6 484.8h0M461.2 485.2h0M466.0 491.2h0M455.1 490.3h0M460.0 492.4h0M429.9 482.1h0M459.6 491.3h0M454.8 487.8h0M455.5 480.3h0M460.4 481.6h0M444.3 486.7h0M461.4 482.9h0M467.4 481.8h0M467.4 486.7h0M409.7 485.8h0M443.4 488.5h0M449.5 487.5h0M463.8 480.5h0M438.1 476.0h0M460.2 481.9h0M457.1 477.9h0M449.7 484.5h0M448.4 487.7h0M459.3 473.4h0M462.1 476.9h0M446.4 480.6h0M396.7 486.1h0M466.7 485.9h0M462.7 480.8h0M404.2 483.7h0M456.5 485.3h0M442.3 482.8h0M439.2 485.0h0M434.9 483.2h0M406.3 484.9h0M418.7 483.9h0M427.3 484.5h0M408.5 483.7h0M405.1 483.7h0M426.8 484.1h0M418.7 484.9h0M437.6 486.1h0M431.2 485.0h0M426.5 483.5h0M427.5 484.5h0M436.0 483.6h0M400.8 483.9h0M424.4 484.0h0M415.6 484.1h0M438.3 483.3h0M425.6 484.5h0M406.0 483.6h0M407.7 482.7h0M439.4 484.0h0M434.1 483.7h0M424.6 483.9h0M414.5 485.3h0M412.9 483.5h0M417.6 485.1h0M415.4 484.9h0M403.0 483.8h0M426.3 484.7h0M429.7 484.2h0M404.6 484.2h0M424.5 484.0h0M431.4 483.7h0M401.5 483.6h0M411.3 484.5h0M430.7 483.7h0M427.2 482.3h0M407.3 484.6h0M433.5 484.2h0M426.2 484.6h0M438.7 484.0h0M408.0 484.2h0M432.2 483.8h0M435.3 484.8h0M430.5 484.2h0M418.3 483.7h0M438.3 482.6h0M427.9 484.5h0M422.4 484.4h0M418.4 484.7h0M409.6 483.5h0M432.0 483.2h0M414.8 484.6h0M432.5 482.9h0M429.0 484.4h0M422.4 481.2h0M425.6 483.7h0M434.9 483.9h0M416.7 484.5h0M467.5 488.3h0M466.3 486.2h0M467.6 493.3h0M465.2 477.2h0M463.5 475.1h0M468.9 475.0h0M465.5 485.1h0M467.6 474.1h0M466.0 474.0h0M464.1 479.8h0M463.1 479.7h0M467.7 487.3h0M468.9 492.0h0M467.9 484.0h0M467.1 490.4h0M465.1 485.1h0M466.4 477.8h0M466.5 476.4h0M467.1 485.9h0M466.6 485.8h0M464.5 480.6h0M463.4 491.6h0M466.1 476.1h0M464.3 491.4h0M464.7 479.0h0M463.8 490.6h0M464.5 478.3h0M466.9 484.0h0M467.8 486.1h0M465.6 494.4h0M464.8 476.4h0M463.4 494.8h0M464.9 484.2h0M465.9 493.9h0M465.4 490.1h0M468.1 473.8h0M465.4 480.8h0M465.8 494.7h0M467.6 478.8h0M463.3 487.8h0M467.7 483.3h0M467.5 475.2h0M464.1 477.7h0M465.2 493.5h0M467.4 485.2h0M468.8 485.0h0M464.5 485.7h0M466.4 482.9h0M463.2 474.7h0M467.4 480.6h0M467.9 478.4h0M465.5 477.4h0M466.3 491.8h0M468.6 493.4h0M466.6 490.1h0M464.1 484.8h0M464.2 479.6h0M464.2 486.5h0M465.7 479.0h0M466.1 482.1h0M463.0 474.1h0M466.3 483.6h0M467.3 481.1h0M463.7 492.4h0M464.4 474.3h0M465.3 475.1h0M468.6 482.5h0M468.6 486.2h0M467.6 489.4h0M467.5 487.8h0M463.7 486.8h0M464.3 474.0h0M463.8 489.5h0M464.8 490.4h0M464.1 488.2h0M464.6 473.2h0M463.7 475.2h0M463.1 480.0h0M467.4 475.2h0M464.8 493.5h0M468.2 481.9h0M464.2 489.5h0M464.1 492.6h0M463.2 494.4h0M464.7 489.6h0M467.6 474.2h0M463.2 478.0h0M463.3 485.3h0M466.8 474.3h0M466.8 475.2h0M463.7 479.4h0M465.8 486.0h0M465.5 481.7h0M465.1 482.8h0M466.7 479.5h0M463.9 489.2h0M467.7 474.3h0M465.3 473.3h0M463.4 493.5h0M467.5 492.8h0M467.5 481.8h0M463.0 485.7h0M466.6 478.5h0M465.5 491.4h0M468.9 484.7h0M466.6 487.2h0M468.8 475.3h0M466.0 486.3h0M465.1 478.6h0M465.4 489.0h0M463.3 473.3h0M466.6 485.8h0M464.6 489.1h0M464.6 486.0h0M464.5 488.4h0M464.5 492.8h0M463.1 476.3h0M466.5 487.0h0M465.5 488.7h0M467.8 488.3h0M463.4 478.4h0M466.1 494.4h0M465.9 494.1h0M468.7 477.8h0M467.6 479.1h0M468.2 492.4h0M465.9 492.4h0M464.2 485.9h0M465.9 479.5h0M465.4 481.5h0M466.4 475.9h0M468.6 478.7h0M465.7 494.9h0M467.1 488.8h0M463.2 490.7h0M465.3 491.4h0M465.3 476.1h0M464.6 489.3h0M464.8 476.8h0M468.0 485.0h0M465.2 478.6h0M465.1 484.6h0M465.4 474.1h0M468.3 484.1h0M466.0 477.6h0M467.2 475.5h0M465.4 486.4h0M464.2 482.0h0M464.1 487.8h0M468.3 474.7h0" stroke="#f77f0f" stroke-width="1.2" stroke-linecap="round" fill="none" opacity="1.0"/>
<path d="M486.3 473.2 L486.3 491 Q486.3 495 482 495 L471 495 Q468.4 494 468 490 L467.8 480 L468.4 473.2 Z" fill="#f77f0f"/>
<path d="M489.8 412.4h0M488.6 419.8h0M507.1 402.8h0M505.2 402.4h0M496.1 413.7h0M510.5 405.1h0M489.0 415.5h0M496.2 413.5h0M492.8 412.8h0M496.1 408.1h0M499.2 405.9h0M493.2 417.1h0M491.0 414.3h0M498.9 404.4h0M489.3 416.6h0M490.7 416.5h0M514.6 401.5h0M492.3 415.0h0M498.8 402.9h0M489.8 417.5h0M494.1 409.6h0M492.7 416.2h0M488.3 417.8h0M489.2 415.8h0M494.7 414.7h0M498.2 414.8h0M498.5 410.2h0M503.9 411.0h0M489.6 410.3h0M495.5 404.3h0M494.3 410.4h0M504.6 404.8h0M510.4 397.0h0M489.7 418.3h0M491.7 416.4h0M503.9 407.7h0M508.4 403.6h0M490.5 413.3h0M506.2 404.4h0M487.3 418.7h0M486.0 417.9h0M504.8 413.8h0M498.5 412.0h0M492.1 417.3h0M489.9 419.2h0M506.1 397.7h0M488.9 416.7h0M488.8 417.9h0M495.0 414.3h0M500.9 410.9h0M505.3 394.9h0M495.7 411.0h0M509.5 406.7h0M489.9 418.8h0M488.6 419.0h0M518.0 399.6h0M511.5 399.2h0M504.5 399.7h0M489.2 417.7h0M499.7 405.2h0M507.8 398.5h0M505.4 406.5h0M496.8 403.3h0M500.3 400.4h0M502.7 406.1h0M491.1 413.8h0M499.7 400.5h0M505.5 389.9h0M497.9 406.5h0M490.8 414.0h0M511.8 398.7h0M504.1 393.1h0M508.2 406.9h0M490.0 417.4h0M508.7 394.5h0M491.5 414.2h0M489.5 413.3h0M509.5 400.4h0M491.4 416.7h0M503.1 406.7h0M497.2 407.2h0M493.4 411.5h0M488.1 418.4h0M514.7 400.0h0M533.0 380.0h0" stroke="#34f0c2" stroke-width="1.2" stroke-linecap="round" fill="none" opacity="1.0"/>
<rect x="50.8" y="192.2" width="145.2" height="141.1" fill="none" stroke="#999" stroke-width="1" />
<line x1="49.2" y1="217.8" x2="50.8" y2="217.8" stroke="#999" stroke-width="0.8" />
<text font-size="8.7" text-anchor="end" fill="#222" stroke="#222" transform="translate(48.8,221.2) scale(1,1.1)" >1000</text>
<line x1="49.2" y1="257.5" x2="50.8" y2="257.5" stroke="#999" stroke-width="0.8" />
<text font-size="8.7" text-anchor="end" fill="#222" stroke="#222" transform="translate(48.8,260.9) scale(1,1.1)" >10</text>
<line x1="49.2" y1="298" x2="50.8" y2="298" stroke="#999" stroke-width="0.8" />
<text font-size="8.7" text-anchor="end" fill="#222" stroke="#222" transform="translate(48.8,301.4) scale(1,1.1)" >0.1</text>
<text x="0" y="0" font-size="8.8" text-anchor="middle" fill="#222" stroke="#222" transform="translate(28.4,262.5) rotate(-90)">Relative expression</text>
<defs><linearGradient id="vg1" x1="0" x2="0" y1="0" y2="1"><stop offset="0.000" stop-color="#1eaa82" stop-opacity="0.00"/><stop offset="0.466" stop-color="#1eaa82" stop-opacity="0.00"/><stop offset="0.548" stop-color="#1eaa82" stop-opacity="0.25"/><stop offset="1.000" stop-color="#1eaa82" stop-opacity="0.55"/></linearGradient></defs>
<rect x="64.8" y="211" width="27.6" height="45.6" fill="url(#vg1)"/>
<defs><linearGradient id="vg2" x1="0" x2="0" y1="0" y2="1"><stop offset="0.000" stop-color="#505050" stop-opacity="0.68"/><stop offset="0.345" stop-color="#555555" stop-opacity="0.55"/><stop offset="0.655" stop-color="#707070" stop-opacity="0.10"/><stop offset="1.000" stop-color="#808080" stop-opacity="0.00"/></linearGradient></defs>
<rect x="64.6" y="256.6" width="28" height="53.4" fill="url(#vg2)"/>
<path d="M66.3 226.1h0M83.2 228.3h0M89.6 227.5h0M68.0 228.9h0M89.3 228.8h0M86.3 229.3h0M73.9 228.7h0M84.3 227.0h0M88.0 226.6h0M68.7 228.8h0M79.2 229.0h0M75.9 228.2h0M76.1 225.3h0M87.3 225.5h0M75.6 227.6h0M69.4 228.6h0M68.3 226.1h0M67.0 226.3h0M81.7 226.6h0M72.1 228.2h0M77.1 226.9h0M90.7 226.4h0M90.4 229.7h0M70.6 228.5h0M77.1 229.2h0M89.8 226.3h0M81.7 228.3h0M77.9 225.5h0M70.4 228.4h0" stroke="#1eaa82" stroke-width="2.6" stroke-linecap="round" fill="none" opacity="1.0"/>
<path d="M70.0 253.7h0M78.0 256.1h0M67.6 255.1h0M82.1 253.9h0M66.0 253.0h0M90.8 253.0h0M70.1 255.3h0M67.1 254.2h0M79.1 253.5h0M74.4 254.4h0M88.1 256.2h0M70.5 253.4h0M81.4 254.1h0M81.9 256.0h0M73.3 255.1h0M72.8 254.9h0M83.9 253.1h0M87.4 254.5h0M81.8 253.9h0M74.7 255.2h0M88.8 256.4h0M90.8 252.7h0M73.2 254.8h0M67.1 253.3h0M66.7 256.1h0M84.8 255.5h0M73.8 252.3h0M69.4 254.0h0M88.3 252.8h0M87.4 253.7h0M87.3 254.0h0M77.4 253.8h0M88.7 255.0h0M74.4 256.3h0M78.4 252.7h0M74.9 254.7h0M74.8 254.7h0M84.5 252.4h0M70.2 255.4h0M86.5 253.9h0M86.5 256.2h0M76.8 252.7h0M76.6 256.0h0M70.8 255.3h0M90.9 255.2h0M84.6 255.6h0M66.1 252.5h0M77.9 255.0h0M84.7 254.7h0M82.1 256.3h0M81.0 253.3h0M66.9 255.2h0M85.0 256.4h0M66.2 253.9h0M83.3 255.1h0M83.4 254.2h0M84.2 256.5h0M81.5 256.5h0M65.2 252.8h0M82.0 255.3h0M72.3 255.5h0M91.3 255.6h0M87.1 256.6h0M72.3 254.0h0M81.3 254.0h0M90.6 254.4h0M88.7 254.7h0M66.2 253.6h0M82.1 254.5h0M73.7 256.3h0M88.8 254.2h0M91.6 252.7h0M77.9 254.8h0M73.7 254.6h0M88.0 255.7h0M76.7 254.9h0M74.9 253.7h0M82.5 254.3h0M76.5 256.3h0M65.8 254.4h0M85.3 256.2h0M67.7 252.6h0M76.8 256.3h0M65.7 254.0h0M84.9 254.4h0M71.0 253.4h0M81.1 252.5h0M74.6 256.1h0M86.7 256.6h0M78.0 255.0h0M67.0 253.7h0M84.4 256.4h0M91.3 254.3h0M85.0 254.9h0M83.5 253.6h0M89.5 254.7h0M84.0 252.4h0M87.0 255.6h0M76.0 255.8h0M87.0 253.2h0M83.5 253.5h0M80.7 254.2h0M82.7 255.2h0M82.0 254.3h0M75.6 255.9h0M89.7 254.8h0M73.3 256.3h0M74.4 255.4h0M67.9 252.9h0M90.2 255.2h0M68.5 253.5h0M85.4 254.5h0M75.1 253.3h0M67.3 255.2h0M72.3 255.3h0M72.5 255.8h0M78.9 256.2h0M69.7 252.8h0M91.0 252.4h0M80.3 254.9h0M74.8 255.0h0M75.0 255.4h0M90.9 252.6h0M65.6 254.9h0M83.1 253.0h0M89.4 254.1h0M72.5 254.6h0M68.5 255.6h0M90.7 253.6h0" stroke="#1eaa82" stroke-width="1.6" stroke-linecap="round" fill="none" opacity="1.0"/>
<path d="M67.4 249.3h0M76.4 251.6h0M81.4 250.2h0M85.0 248.5h0M76.8 250.3h0M90.7 247.7h0M74.5 249.6h0M80.7 251.3h0M83.5 249.1h0M78.2 249.4h0M89.3 249.5h0M74.9 249.0h0M73.2 251.2h0M77.7 252.1h0M74.2 251.4h0M78.5 252.1h0M91.8 246.9h0M66.8 246.9h0M82.1 252.1h0M73.2 251.3h0M82.5 251.4h0M88.8 250.0h0M91.6 251.7h0M87.1 251.9h0M83.7 246.9h0M71.3 251.6h0M85.4 250.5h0M86.4 249.5h0M79.2 252.3h0M65.8 252.0h0M80.2 247.7h0M78.7 247.8h0M88.6 246.4h0M84.0 246.1h0M80.6 252.0h0M82.6 250.8h0M87.4 247.2h0M72.6 251.8h0M68.5 250.4h0M90.4 249.7h0M83.4 247.5h0M80.5 248.5h0M88.0 251.9h0M72.5 250.4h0M89.6 250.5h0M72.4 251.5h0M79.7 246.2h0M70.5 247.3h0M81.8 247.5h0M77.1 248.8h0M84.5 250.7h0M84.6 251.5h0M68.3 250.2h0M66.1 246.9h0M87.5 249.2h0M65.5 248.4h0M66.2 251.5h0M73.0 246.0h0M86.0 251.7h0M68.7 251.4h0M80.2 250.2h0M70.1 249.0h0M84.4 249.4h0M81.2 251.1h0M66.1 247.2h0M81.2 247.7h0M68.6 248.6h0M81.5 250.9h0M75.9 251.6h0M81.6 247.1h0M79.3 252.1h0M75.2 249.6h0M78.0 251.5h0M80.4 251.9h0M89.6 249.8h0M76.2 248.4h0M80.4 251.0h0M87.8 250.9h0M82.8 251.1h0M73.9 250.0h0M84.6 251.1h0M81.4 246.1h0M76.5 251.4h0M84.3 248.3h0M79.4 248.1h0M84.6 248.1h0M84.8 248.2h0M88.6 251.2h0M66.7 250.3h0M72.5 247.3h0M75.6 251.5h0M91.7 247.7h0M78.9 250.4h0M67.5 246.2h0M66.5 247.4h0M75.5 247.0h0M74.2 251.9h0M76.0 251.2h0M80.8 250.9h0M91.4 251.6h0M91.0 250.5h0M77.6 250.9h0M78.4 246.7h0M89.4 252.3h0M76.5 250.6h0M76.0 247.1h0M83.7 250.5h0M73.7 249.4h0M67.0 249.2h0M72.1 247.2h0M72.6 249.6h0M71.4 251.8h0M70.4 247.1h0M67.6 252.3h0M67.4 247.7h0M83.6 249.5h0M72.9 246.0h0M91.2 246.3h0M85.9 252.0h0M89.7 250.0h0M91.5 248.6h0M79.9 248.8h0M90.1 247.5h0M83.9 246.8h0M75.9 249.4h0M79.1 246.8h0M66.8 249.4h0M89.3 246.9h0M77.4 248.7h0M75.1 249.6h0M76.1 246.2h0M81.9 250.6h0M80.8 246.0h0M66.1 249.9h0M89.9 246.1h0M88.4 248.8h0M82.0 250.6h0M67.9 246.9h0M69.9 251.3h0M91.3 249.0h0M79.5 249.9h0M85.9 251.9h0M77.8 248.2h0M86.6 251.8h0M87.5 249.8h0M84.9 250.0h0M68.0 249.6h0M70.9 249.3h0M83.7 249.1h0M81.5 248.2h0M84.7 249.1h0M75.4 251.3h0M88.9 248.6h0M70.6 248.9h0M84.0 252.2h0M67.8 247.7h0M89.6 249.8h0M81.6 250.6h0M87.6 248.8h0M85.2 251.7h0M84.2 250.7h0M91.5 249.4h0M75.4 250.0h0M86.6 250.3h0M90.8 249.7h0M65.3 252.1h0" stroke="#1eaa82" stroke-width="1.8" stroke-linecap="round" fill="none" opacity="1.0"/>
<path d="M76.5 219.8h0M87.2 218.8h0M77.2 218.6h0M72.7 220.1h0M71.4 220.0h0M79.5 219.1h0M70.4 218.9h0M75.2 216.1h0M67.3 216.6h0" stroke="#1eaa82" stroke-width="3.0" stroke-linecap="round" fill="none" opacity="1.0"/>
<path d="M70.5 244.9h0M80.9 244.7h0M68.0 245.2h0M90.3 241.4h0M82.3 245.6h0M91.4 243.4h0M70.4 245.7h0M80.8 243.8h0M88.6 244.0h0M89.5 244.4h0M89.9 242.0h0M73.0 242.1h0M71.5 240.6h0M90.5 240.2h0M85.5 241.2h0M84.3 240.3h0M85.0 241.4h0M84.1 245.7h0M80.6 241.0h0M81.7 244.1h0M70.4 240.9h0M73.4 242.4h0M75.4 240.7h0M77.0 240.3h0M88.9 241.3h0M85.5 242.3h0M81.4 243.2h0M77.6 244.4h0M90.4 244.8h0M69.8 240.3h0M69.8 240.9h0M77.7 245.8h0M75.6 245.1h0M66.8 241.7h0M84.8 243.2h0M67.1 245.8h0M78.4 241.3h0M78.0 245.1h0M73.2 244.2h0M74.3 243.2h0M66.7 241.6h0M89.2 240.9h0M84.0 243.5h0M85.6 244.8h0M86.0 243.7h0M68.6 240.5h0M65.6 242.4h0M78.6 244.4h0M88.8 243.9h0M73.8 245.2h0M69.3 244.0h0M69.0 245.2h0M91.0 242.5h0M87.9 243.5h0M67.8 245.8h0M90.9 243.2h0M81.4 242.9h0M71.6 245.1h0M71.1 242.8h0M78.7 240.3h0M67.9 240.2h0M68.0 242.4h0M85.2 242.8h0M65.9 243.2h0M89.3 241.0h0M81.0 242.3h0M82.4 241.0h0M71.2 241.2h0M69.2 242.0h0M79.5 244.8h0M86.6 243.9h0M68.0 242.0h0M87.7 241.2h0M72.5 240.8h0M78.8 244.3h0M66.4 242.1h0M91.6 240.6h0M77.8 240.3h0M77.4 242.0h0M79.2 240.4h0M80.7 245.0h0M76.6 242.1h0M67.3 240.7h0M73.5 242.7h0M68.5 242.9h0M92.0 242.4h0M78.5 243.5h0" stroke="#1eaa82" stroke-width="2.0" stroke-linecap="round" fill="none" opacity="1.0"/>
<path d="M91.7 237.7h0M91.6 237.4h0M83.5 237.6h0M83.3 238.8h0M82.4 236.8h0M82.2 235.0h0M82.3 239.2h0M83.1 238.3h0M80.9 235.1h0M80.8 239.5h0M91.0 236.2h0M68.5 239.7h0M66.5 236.7h0M77.5 239.8h0M90.5 237.5h0M78.0 237.0h0M83.2 236.4h0M68.2 239.3h0M75.8 238.1h0M81.3 235.6h0M69.9 239.5h0M73.6 235.5h0M90.7 237.6h0M76.7 237.1h0M83.9 240.0h0M87.2 240.0h0M67.2 239.7h0M91.5 235.1h0M74.4 237.6h0M79.4 235.0h0M82.5 237.5h0M65.3 237.6h0M68.8 239.3h0M85.7 238.8h0M76.5 239.6h0M69.9 237.0h0M66.5 237.0h0M90.6 238.3h0M68.0 234.9h0M77.4 238.6h0M76.2 239.1h0M71.2 238.8h0M70.2 238.6h0M76.5 240.1h0M84.4 238.2h0M76.8 236.2h0M67.1 237.5h0M88.9 237.3h0M80.3 236.3h0M83.5 235.1h0M88.8 236.3h0M87.3 236.5h0M71.4 239.0h0M79.4 238.7h0M73.5 235.5h0M69.9 240.1h0M76.5 237.2h0M84.1 236.1h0M80.4 239.7h0" stroke="#1eaa82" stroke-width="2.2" stroke-linecap="round" fill="none" opacity="1.0"/>
<path d="M85.3 222.2h0M75.0 223.1h0M81.3 222.7h0M90.8 220.4h0M71.1 221.0h0M80.2 221.2h0M91.0 222.4h0M80.1 221.7h0M79.7 224.7h0M82.7 223.4h0M87.9 223.8h0M90.2 224.1h0" stroke="#1eaa82" stroke-width="2.8" stroke-linecap="round" fill="none" opacity="1.0"/>
<path d="M72.9 229.9h0M68.4 233.1h0M71.8 232.5h0M83.2 232.8h0M72.5 234.2h0M76.4 232.3h0M79.7 231.4h0M88.0 232.4h0M70.6 234.6h0M73.6 233.9h0M89.0 231.4h0M73.0 232.2h0M90.4 233.2h0M67.3 232.6h0M76.0 230.8h0M78.2 234.5h0M88.9 234.3h0M86.5 234.3h0M89.2 231.0h0M86.5 234.3h0M68.3 231.9h0M70.4 232.6h0M87.2 232.2h0M84.7 229.8h0M86.1 231.3h0M87.1 234.3h0M77.0 234.4h0M72.6 234.1h0M72.4 234.2h0M71.2 231.2h0M68.8 230.4h0M74.2 233.0h0M76.9 231.6h0M68.2 234.2h0M69.5 231.6h0M69.0 233.6h0M85.6 233.4h0M70.2 232.9h0M69.2 232.3h0M67.4 232.4h0M89.6 234.1h0M72.3 233.4h0M77.2 232.2h0M88.1 231.4h0" stroke="#1eaa82" stroke-width="2.4" stroke-linecap="round" fill="none" opacity="1.0"/>
<path d="M83.8 214.2h0M83.9 214.1h0M74.3 211.1h0M83.0 212.5h0M90.2 214.3h0" stroke="#1eaa82" stroke-width="3.2" stroke-linecap="round" fill="none" opacity="1.0"/>
<path d="M85.3 256.3h0M88.8 244.0h0M82.6 247.4h0M81.6 252.8h0M73.7 254.7h0M87.8 246.3h0M73.2 248.8h0M91.6 250.8h0M92.0 244.2h0M90.0 253.3h0M84.1 243.0h0M82.3 243.6h0M86.2 244.0h0M81.8 246.7h0M90.8 236.3h0M83.7 240.5h0M81.1 251.0h0M76.9 253.5h0M73.1 253.9h0M84.5 247.7h0M73.0 238.7h0M80.4 249.1h0M70.0 239.7h0M88.6 254.2h0M75.9 252.0h0M85.0 256.0h0M79.7 244.7h0M76.6 247.9h0M78.1 237.1h0M86.5 243.5h0M78.8 254.5h0M85.1 255.2h0M68.1 252.0h0M76.6 242.5h0M77.3 246.9h0M77.4 252.5h0M85.5 256.5h0M87.7 237.1h0M74.6 237.0h0M78.5 251.0h0M68.0 236.1h0M85.7 249.5h0M91.7 237.2h0M90.5 246.2h0M78.7 256.2h0M90.1 240.4h0M67.9 250.3h0M89.7 238.5h0M76.4 238.1h0M76.8 244.8h0M76.6 238.6h0M77.0 254.9h0M74.2 250.0h0M80.5 247.8h0M68.1 239.7h0M83.9 248.1h0M91.7 243.7h0M78.8 249.8h0M81.0 250.1h0M71.6 256.2h0M89.7 250.0h0M77.6 238.0h0M78.3 249.9h0M87.2 242.9h0M74.9 245.1h0M75.2 242.1h0M71.1 254.0h0M88.8 244.8h0M79.6 253.3h0M73.2 243.6h0" stroke="#ffffff" stroke-width="0.9" stroke-linecap="round" fill="none" opacity="0.7"/>
<path d="M87.6 269.0h0M87.1 286.7h0M72.8 267.0h0M85.6 269.5h0M80.3 287.5h0M74.3 313.4h0M74.2 290.0h0M74.0 266.7h0M79.9 258.6h0M79.2 276.6h0M78.6 278.3h0M69.5 262.1h0M66.8 258.6h0M74.9 256.8h0M78.7 267.9h0M71.2 296.2h0M85.7 264.6h0M85.3 268.6h0M89.8 294.2h0M85.8 271.5h0M67.0 271.0h0M84.0 257.6h0M77.3 263.1h0M73.8 268.9h0M83.3 260.9h0M84.0 270.4h0M66.6 289.5h0M88.1 296.6h0M75.5 258.1h0M86.0 269.3h0M87.4 268.4h0M80.9 260.1h0M76.2 279.3h0M69.1 310.9h0M91.6 266.0h0M70.8 258.5h0M72.7 278.0h0M80.8 279.9h0M71.6 256.7h0M73.2 290.0h0M67.3 295.7h0M71.5 299.4h0M91.7 257.9h0M91.5 260.2h0M77.2 271.4h0M77.9 262.8h0M72.2 296.4h0M81.8 258.6h0M81.9 267.7h0M72.2 267.7h0M85.4 264.3h0M82.1 267.6h0M77.8 261.8h0M71.0 275.2h0M80.3 268.4h0M85.8 268.7h0M79.5 298.3h0M80.2 269.3h0M85.8 261.8h0M67.8 294.3h0M89.5 308.2h0M64.9 261.1h0M89.1 283.9h0M87.8 282.6h0M83.3 282.1h0M92.5 256.9h0M72.4 264.6h0M67.7 266.4h0M90.5 260.8h0M88.7 261.2h0M67.1 309.5h0M76.9 277.2h0M67.0 269.8h0M88.7 295.6h0M87.0 268.9h0M71.2 267.9h0M70.3 299.8h0M64.2 258.0h0M84.4 284.9h0M86.2 272.4h0M75.6 261.1h0M68.9 260.7h0M82.7 273.7h0M81.7 273.2h0M68.9 296.9h0M69.7 276.5h0M80.1 266.9h0M81.6 268.1h0M80.0 261.3h0M89.5 263.1h0M70.9 280.4h0M67.7 269.7h0M71.3 258.7h0M69.8 273.0h0M80.8 264.8h0M81.7 268.7h0M91.6 294.8h0M79.0 284.2h0M72.5 269.6h0M85.3 264.7h0M70.1 257.1h0M77.9 305.4h0M67.4 271.3h0M78.3 285.6h0M86.3 257.5h0M92.1 290.7h0M72.3 268.5h0M73.6 282.5h0M92.8 267.4h0M77.9 262.1h0M69.2 258.8h0M87.2 280.8h0M68.9 278.4h0M64.8 282.8h0M83.8 285.5h0M78.7 296.3h0M76.5 278.2h0M69.8 258.5h0M92.0 265.2h0M76.6 264.8h0M87.9 275.1h0M85.9 278.5h0M79.8 294.7h0M87.7 259.8h0M75.0 268.7h0M64.5 274.6h0M71.5 264.3h0M91.3 257.1h0M80.6 269.7h0M85.7 264.3h0M91.5 275.6h0M71.3 285.8h0M65.2 259.7h0M82.1 262.6h0M81.5 299.7h0M89.4 265.1h0M80.8 268.0h0M69.4 286.6h0M87.8 275.6h0M75.3 265.6h0M68.3 270.1h0M73.6 281.7h0M70.8 270.6h0M85.9 256.7h0M85.3 288.7h0M75.6 276.6h0M76.9 262.2h0M69.8 286.2h0M76.2 256.7h0M68.0 286.2h0M90.4 283.9h0M70.2 261.1h0M79.2 284.8h0M91.5 276.3h0M73.1 281.1h0M88.6 265.7h0M80.9 274.0h0M67.8 298.4h0M78.1 296.2h0M77.5 262.7h0M82.6 292.8h0M89.0 269.5h0M70.6 285.4h0M83.0 266.2h0M92.6 257.0h0M88.8 293.2h0M80.5 268.1h0M76.2 282.9h0M83.7 289.8h0M78.2 317.1h0M85.7 272.0h0M69.6 315.8h0M89.8 277.1h0M76.7 259.0h0M67.4 307.5h0M76.1 291.0h0M70.3 286.5h0M90.1 281.1h0M69.7 282.9h0M80.5 265.2h0M71.3 269.9h0M69.1 278.6h0M76.6 287.0h0M88.2 260.8h0M81.8 278.3h0M82.0 262.8h0M92.4 303.5h0M66.2 292.1h0M83.7 284.6h0M67.1 304.2h0M73.7 260.1h0M80.5 280.8h0M86.2 262.9h0M84.5 259.8h0M64.5 278.1h0M78.6 313.3h0M83.9 270.5h0M75.9 299.5h0M73.8 285.6h0M81.8 297.6h0M82.3 273.6h0M91.6 258.7h0M73.2 276.4h0M65.4 263.3h0M89.8 258.6h0M76.7 263.8h0M66.3 296.2h0M75.9 283.5h0M72.3 283.9h0M87.4 285.3h0M85.9 263.8h0M67.7 259.2h0M69.2 279.1h0M83.1 275.8h0M67.9 284.5h0M87.1 271.5h0M75.3 258.9h0M85.7 284.4h0M67.4 261.0h0M79.6 264.0h0M88.0 279.6h0M87.6 311.7h0M91.0 278.3h0M75.0 275.2h0M72.4 274.8h0M91.9 266.7h0M80.9 280.0h0M89.1 264.0h0M75.5 274.2h0M72.8 265.0h0M67.2 261.6h0M79.2 270.0h0M71.1 268.2h0M90.2 272.2h0M92.0 275.2h0M85.1 265.8h0M87.7 262.3h0M80.9 273.6h0M69.3 266.1h0M69.5 262.2h0M81.7 261.8h0M86.3 296.0h0M85.7 278.9h0M75.1 282.0h0M85.0 280.5h0M88.4 258.8h0M75.7 295.2h0M90.8 263.6h0M69.8 289.5h0M89.1 260.3h0M67.5 281.5h0M89.9 270.5h0M65.4 288.0h0M64.3 283.6h0M92.5 269.7h0M71.4 263.1h0M82.0 262.0h0M71.5 296.3h0M77.9 276.5h0M68.4 270.0h0M79.5 278.0h0M77.7 263.3h0M73.6 267.3h0M85.5 257.8h0M82.3 304.5h0M68.4 305.0h0M71.8 272.0h0M90.7 280.2h0M65.5 282.7h0M80.2 276.5h0M87.5 286.3h0M88.7 261.6h0M67.3 259.6h0M77.9 258.0h0M76.5 274.0h0M73.1 268.0h0M78.0 298.0h0M71.2 275.5h0M68.4 288.3h0M70.9 300.4h0M91.3 289.3h0M86.0 270.7h0M78.2 275.6h0M87.7 257.6h0M65.1 263.1h0M86.7 299.5h0M82.3 266.1h0M77.0 266.7h0M87.7 296.9h0M79.1 258.6h0M90.6 261.1h0M92.7 306.2h0M92.6 256.7h0M90.4 267.0h0M67.9 284.7h0M73.3 286.7h0M65.3 280.5h0M69.4 271.1h0M76.1 264.7h0M71.7 269.3h0M79.8 290.8h0M64.8 279.1h0M92.7 273.1h0M81.2 285.5h0M88.1 267.8h0M75.0 274.4h0M82.8 265.9h0M75.0 259.5h0M66.9 271.2h0M71.9 262.3h0M75.8 282.8h0M65.1 267.1h0M86.9 261.6h0M85.4 266.3h0M81.0 264.7h0M76.8 280.8h0M75.8 274.4h0M82.5 262.3h0M91.2 273.3h0M67.8 283.0h0M90.0 261.0h0M91.5 272.2h0M91.5 272.0h0M71.5 260.4h0M74.3 276.7h0M89.6 291.7h0M69.6 266.6h0M84.9 257.9h0M83.5 295.6h0M74.3 277.1h0M82.4 271.1h0M73.4 285.7h0M88.6 275.1h0M66.1 257.5h0M84.3 280.3h0M91.0 260.9h0M77.7 265.3h0M67.3 276.3h0M77.5 283.4h0M77.2 281.1h0M80.9 258.4h0M84.8 259.1h0M90.8 276.2h0M68.6 324.1h0M75.5 260.9h0M85.8 259.3h0M91.8 281.5h0M85.0 264.2h0M90.7 312.8h0M82.3 269.4h0M64.8 258.9h0M67.8 261.9h0M67.1 281.9h0M80.5 265.2h0M83.8 262.4h0M65.4 283.7h0M88.1 260.0h0M84.3 272.5h0M80.9 302.3h0M84.4 270.9h0M64.2 268.2h0M64.3 266.7h0M67.5 279.4h0M92.6 265.2h0M86.7 297.7h0M80.9 280.2h0M86.7 291.8h0M67.4 277.1h0M67.7 286.1h0M64.5 287.3h0M88.2 271.2h0M78.6 263.8h0M81.8 308.3h0M72.4 275.7h0M87.5 295.0h0M71.5 270.3h0M72.4 290.8h0M78.1 276.1h0M73.6 307.2h0M67.2 277.4h0M77.2 262.5h0M83.4 261.9h0M86.3 262.7h0M90.7 258.4h0M91.6 301.0h0M91.8 275.1h0M83.9 258.5h0M72.9 259.7h0M76.2 303.7h0M79.2 282.9h0M83.8 263.2h0M78.5 263.5h0M66.8 271.5h0M83.6 314.2h0M73.7 278.9h0M68.1 278.8h0M89.8 302.6h0M71.1 264.1h0M69.0 263.7h0M77.3 285.3h0M83.3 257.1h0M74.4 274.7h0M78.7 277.4h0M78.5 256.6h0M85.1 261.0h0M72.7 287.4h0M88.5 264.1h0M76.3 259.8h0M73.1 274.7h0M92.5 268.6h0M75.8 293.4h0M83.2 279.6h0M82.6 288.5h0M66.2 284.4h0M79.8 267.3h0M71.6 276.8h0M74.5 265.5h0M85.5 265.4h0M74.2 264.9h0M70.4 267.5h0M86.8 258.6h0M71.2 259.5h0M89.0 272.3h0M73.5 258.2h0M77.0 277.1h0M92.5 276.6h0M68.2 271.4h0M66.5 263.2h0M74.6 273.6h0M89.5 269.7h0M90.7 259.1h0M80.7 258.3h0M80.0 280.6h0M73.7 274.1h0M84.0 300.1h0M77.3 287.8h0M68.0 266.4h0M70.3 264.0h0M80.5 290.4h0M91.3 288.4h0M82.0 281.4h0M82.0 269.9h0M73.9 275.6h0M69.3 278.7h0M87.1 261.1h0M81.2 267.3h0M86.3 257.8h0M73.1 266.7h0M84.7 295.2h0M74.6 278.7h0M70.2 271.8h0M78.1 261.2h0M85.0 261.5h0M65.7 282.0h0M90.0 306.8h0M65.7 271.7h0M71.3 289.7h0M75.2 274.2h0M73.4 283.9h0M65.7 259.5h0M85.8 278.8h0M80.3 265.1h0M83.2 285.0h0M83.3 260.7h0M83.7 284.2h0M66.1 261.5h0M74.9 257.4h0M87.1 277.9h0M80.3 267.2h0M70.3 272.7h0M65.6 259.9h0M71.5 270.7h0M78.1 281.5h0M87.9 269.7h0M74.7 289.2h0M91.0 263.5h0M82.0 292.3h0M91.6 288.7h0M69.3 267.7h0M81.4 279.5h0M81.8 270.7h0M81.5 270.2h0M85.5 269.2h0M84.6 266.9h0M67.1 301.0h0M76.6 279.5h0M79.3 276.1h0M84.0 288.0h0M77.8 268.3h0M79.0 270.6h0M92.6 272.5h0M73.5 277.0h0M77.4 281.4h0M80.9 282.4h0M76.4 300.6h0M81.1 298.8h0M84.6 266.6h0M82.1 276.2h0M75.5 292.9h0M83.0 271.0h0M84.6 269.3h0M70.4 260.7h0M80.0 272.0h0M73.8 274.7h0M92.9 263.8h0M77.5 260.4h0M87.9 278.8h0M66.0 268.4h0M91.6 274.2h0M75.5 269.8h0M85.0 272.0h0M90.1 259.6h0M76.0 292.8h0M91.8 281.7h0M86.8 259.0h0M79.2 298.8h0M92.7 274.2h0M86.4 283.1h0M87.4 285.2h0M72.3 262.2h0M82.1 262.2h0M81.3 269.2h0M78.7 262.4h0M68.7 266.6h0M88.8 258.1h0M75.9 271.5h0M74.2 275.3h0M75.7 274.6h0M86.0 274.1h0M76.8 282.0h0M75.9 286.9h0M68.4 290.1h0M67.4 290.7h0M92.1 285.2h0M72.8 282.0h0M69.7 263.8h0M69.5 271.1h0M67.8 266.0h0M64.2 267.7h0M91.2 275.8h0M83.2 272.1h0M64.7 269.6h0M64.5 262.9h0M70.3 262.9h0M75.3 260.7h0M92.1 260.7h0M71.7 258.1h0M90.4 259.6h0M77.5 256.7h0M69.3 271.3h0M87.1 273.6h0M80.3 259.6h0M80.9 295.6h0M88.8 261.1h0M67.8 292.6h0M92.7 307.2h0M82.5 289.1h0M79.3 267.7h0M79.6 284.3h0M64.7 273.3h0M92.5 293.2h0M73.4 305.8h0M74.9 271.4h0M85.0 269.3h0M75.7 260.8h0M80.4 283.7h0M79.1 263.3h0M71.9 262.8h0M75.6 281.1h0M73.1 279.8h0M85.1 297.0h0M79.2 287.3h0M80.8 277.9h0M67.4 288.9h0M89.3 262.5h0M81.5 276.9h0M80.1 281.2h0M81.1 287.7h0M66.8 263.0h0M92.3 284.8h0M86.8 285.9h0M82.5 279.5h0M65.1 269.0h0M80.1 262.0h0M87.5 286.6h0M89.3 269.4h0M82.6 279.2h0M85.5 278.4h0M83.6 265.4h0M90.3 257.0h0M71.8 265.1h0M83.1 266.7h0M78.3 276.6h0M65.2 285.8h0M86.5 259.2h0M65.5 275.6h0M79.6 298.5h0M83.6 260.2h0M78.4 266.7h0M66.7 315.6h0M83.0 308.7h0M93.0 263.9h0M88.3 286.3h0M66.9 265.3h0M80.7 269.3h0M70.6 263.9h0M71.3 257.7h0M77.0 276.7h0M81.3 275.9h0M79.8 271.1h0M80.2 276.6h0M64.5 273.7h0M91.6 259.1h0M81.1 269.6h0M78.3 269.9h0M88.7 291.2h0M66.3 323.6h0M81.6 260.1h0M84.8 264.6h0M72.1 275.8h0M71.2 275.8h0M78.7 261.4h0M64.3 264.5h0M87.2 265.2h0M65.1 287.6h0M71.9 265.5h0M90.0 283.8h0M69.3 280.9h0M72.7 277.8h0M87.1 261.5h0M82.9 261.4h0M87.6 281.5h0M87.7 265.7h0M66.6 275.2h0M67.6 266.4h0M85.8 316.9h0M73.5 266.7h0M76.9 257.6h0M79.7 280.2h0M90.5 262.1h0M74.1 270.5h0M72.0 257.7h0M79.6 267.8h0M83.1 282.5h0M83.0 273.7h0M79.4 282.6h0M76.4 257.8h0M89.7 261.9h0M90.4 266.6h0M81.4 261.8h0M69.5 279.2h0M88.8 271.4h0M81.8 290.0h0M64.8 271.6h0M91.6 264.6h0M90.2 293.5h0M90.1 260.4h0M74.3 264.0h0M73.3 281.6h0M66.8 263.0h0M92.1 261.6h0M76.5 267.0h0M74.9 281.0h0M88.5 264.1h0M81.5 258.6h0M80.5 257.0h0M75.2 284.6h0M64.6 275.2h0M67.6 294.3h0M81.5 264.1h0M90.2 279.2h0M69.0 270.9h0M76.3 257.8h0M85.4 285.8h0M88.0 297.6h0M88.4 277.5h0M75.8 284.6h0M66.1 258.4h0M65.6 282.7h0M68.2 296.1h0M74.7 273.0h0M85.7 269.8h0M80.5 260.8h0M75.9 273.5h0M70.1 275.0h0M70.7 266.2h0M92.9 298.1h0M72.0 267.2h0M82.1 266.9h0M85.6 261.5h0M88.0 282.7h0M89.4 280.1h0M70.6 266.9h0M68.3 275.3h0M80.9 267.8h0M90.5 266.6h0M74.3 263.7h0M66.2 266.9h0M71.5 257.4h0M67.4 269.3h0M89.9 279.8h0M88.8 306.9h0M90.2 275.7h0M81.3 262.1h0M74.8 284.6h0M84.9 259.3h0M68.5 266.7h0M92.8 266.6h0M84.3 286.2h0M73.8 286.4h0M66.5 259.1h0M67.8 276.9h0M87.0 276.8h0M64.3 281.5h0M68.3 278.6h0M84.2 269.1h0M81.5 288.0h0M65.7 275.0h0M82.1 272.1h0M81.5 270.4h0M72.4 280.1h0M81.5 273.3h0M88.5 268.5h0M79.0 273.3h0M81.0 258.8h0M73.7 296.2h0M92.3 286.4h0M73.7 265.4h0M91.2 268.6h0M71.5 281.6h0M90.9 268.8h0M76.0 290.0h0M70.3 294.5h0M67.9 280.9h0M72.2 259.9h0M79.3 275.8h0M73.1 272.6h0M75.9 278.1h0M84.7 271.8h0M91.8 268.7h0M92.4 270.2h0M84.4 275.0h0M92.3 278.8h0M82.9 283.6h0M66.0 288.2h0M92.7 269.9h0M91.7 271.4h0M83.7 266.5h0M76.3 271.0h0M74.8 261.3h0M81.2 267.6h0M72.1 301.7h0M85.9 278.1h0M87.9 285.4h0M69.5 257.2h0M83.8 269.1h0M64.7 302.3h0M69.7 274.7h0M77.9 272.5h0M92.6 290.0h0M87.3 271.5h0M67.6 259.7h0M70.8 297.7h0M83.2 260.0h0M71.9 265.5h0M73.9 279.2h0M65.8 266.8h0M81.9 290.4h0M69.5 280.5h0M81.3 258.6h0M79.8 317.6h0M84.0 266.8h0M77.8 272.3h0M70.0 289.7h0M81.6 284.5h0M90.7 278.2h0M76.7 265.0h0M68.9 264.2h0M71.1 267.5h0M79.3 261.1h0M77.1 261.9h0M85.7 264.1h0M68.5 264.1h0M73.6 263.8h0M84.0 260.6h0M72.8 290.5h0M74.8 300.9h0M90.3 293.4h0M64.4 262.1h0M92.6 265.4h0M77.3 270.8h0M64.9 256.8h0M76.4 291.2h0M66.0 273.0h0M87.0 286.1h0M81.6 316.7h0M83.1 292.5h0M78.1 292.2h0M77.1 265.8h0M64.7 262.7h0M89.1 289.2h0M69.5 271.5h0M81.8 268.3h0M82.1 263.5h0M69.8 267.6h0M64.4 266.9h0M86.4 262.5h0M88.1 258.7h0M85.8 263.9h0M73.2 292.0h0M82.8 289.8h0M66.9 270.8h0M85.7 279.0h0M90.6 258.2h0M72.8 280.0h0M85.8 257.0h0M65.3 264.4h0M80.3 266.1h0M82.0 268.9h0M86.3 259.4h0M75.7 283.0h0M82.8 266.0h0M75.6 281.6h0M84.7 294.1h0M80.4 274.0h0M77.1 273.9h0M79.5 280.3h0M70.4 269.5h0M75.0 268.8h0M83.5 297.0h0M76.2 268.6h0M67.5 274.6h0M90.8 279.6h0M74.8 260.9h0M72.0 257.4h0M92.9 263.0h0M81.0 280.1h0M86.0 307.5h0M82.7 269.3h0M92.3 278.2h0M71.8 263.1h0M91.0 261.8h0M75.7 293.8h0M73.4 272.5h0M78.5 262.7h0M89.9 315.4h0M89.0 262.5h0M92.1 269.8h0M90.1 276.1h0M75.6 309.7h0M76.9 285.8h0M71.5 296.3h0M84.5 257.8h0M73.0 266.6h0M77.2 281.0h0M74.4 258.8h0M86.7 261.6h0M66.3 263.7h0M68.7 299.7h0M80.8 270.9h0M86.1 266.3h0M65.7 262.4h0M76.0 259.7h0M81.9 277.9h0M73.8 264.5h0M85.5 274.1h0M89.4 268.2h0M70.1 284.5h0M86.7 284.4h0M69.0 278.6h0M75.4 267.0h0M81.2 298.9h0M74.8 280.7h0M70.1 295.8h0M69.6 269.4h0M67.7 265.6h0M75.2 291.0h0M65.2 280.5h0M79.8 261.7h0M67.2 269.4h0M79.8 284.6h0M66.5 296.3h0M66.6 263.0h0M67.0 299.4h0M91.1 260.6h0M66.4 261.5h0M67.8 274.4h0M80.6 265.4h0M82.9 277.7h0M70.6 271.0h0M89.3 262.5h0M89.2 296.3h0M92.8 274.8h0M66.1 257.3h0M81.1 267.3h0M77.0 292.6h0M88.8 264.0h0M80.3 258.6h0M71.0 261.2h0M77.4 264.1h0M66.9 286.8h0M84.3 270.8h0M80.2 285.0h0M90.5 257.6h0M75.8 265.5h0M77.6 258.4h0M84.5 262.8h0M82.9 262.8h0M69.8 292.4h0M65.5 259.1h0M80.1 265.4h0M74.4 259.0h0M83.0 268.6h0M77.9 291.3h0M78.4 283.5h0M75.4 266.5h0M87.7 268.9h0M79.5 270.1h0M91.0 287.0h0M86.4 275.0h0M67.5 262.5h0M90.2 268.3h0M72.3 275.8h0M70.0 265.4h0M84.0 306.1h0M68.9 319.2h0M65.8 274.1h0M66.7 262.4h0M86.5 276.2h0M67.3 258.7h0M75.1 284.7h0M92.3 258.0h0M88.4 261.5h0M64.8 281.3h0M74.8 293.7h0M86.9 288.6h0M72.4 270.6h0M76.3 262.8h0M80.6 281.6h0M91.0 264.1h0M71.2 303.8h0M71.3 270.6h0M78.6 266.2h0M79.1 312.8h0M87.2 272.4h0M84.7 260.0h0M64.6 270.1h0M72.0 280.2h0M80.8 257.6h0M68.8 294.1h0" stroke="#4a4a4a" stroke-width="1.0" stroke-linecap="round" fill="none" opacity="0.85"/>
<path d="M74.6 257.3h0M85.9 266.0h0M76.1 268.3h0M80.4 268.3h0M77.0 272.3h0M75.8 267.6h0M77.9 260.4h0M89.7 274.8h0M91.9 270.5h0M91.7 262.4h0M87.5 257.3h0M89.7 261.7h0M65.5 259.1h0M64.6 263.3h0M64.3 266.4h0M75.3 265.5h0M72.4 272.3h0M84.6 261.2h0M85.5 262.7h0M68.6 262.8h0M68.8 263.9h0M87.7 261.1h0M68.3 266.1h0M89.1 259.5h0M74.7 262.5h0M77.7 265.4h0M78.0 271.9h0M73.7 267.3h0M87.3 268.8h0M72.4 268.5h0M64.4 262.2h0M79.1 273.4h0M73.4 271.8h0M79.1 264.3h0M75.9 270.8h0M91.9 266.9h0M76.8 270.4h0M70.6 265.0h0M70.3 262.3h0M72.2 270.2h0M70.4 275.0h0M72.7 271.8h0M65.3 273.5h0M89.6 260.6h0M81.7 266.8h0M82.5 269.6h0M80.2 266.0h0M73.7 264.6h0M85.1 261.9h0M82.3 264.5h0M79.7 272.1h0M80.3 257.8h0M90.3 256.9h0M79.0 272.0h0M69.3 259.7h0M89.6 272.7h0M90.2 258.5h0M78.1 258.2h0M73.8 263.8h0M82.3 263.6h0M81.7 270.8h0M82.4 274.3h0M76.7 273.5h0M78.0 266.9h0M92.4 271.0h0M79.7 264.6h0M76.4 265.4h0M78.6 259.9h0M87.5 263.6h0M67.7 264.2h0" stroke="#ffffff" stroke-width="0.8" stroke-linecap="round" fill="none" opacity="0.6"/>
<line x1="64.2" y1="332.7" x2="93" y2="332.7" stroke="#333" stroke-width="1.1" />
<text font-size="8.7" text-anchor="middle" fill="#222" stroke="#222" transform="translate(79,342) scale(1,1.1)" >LR</text>
<defs><linearGradient id="vg3" x1="0" x2="0" y1="0" y2="1"><stop offset="0.000" stop-color="#3c64be" stop-opacity="0.00"/><stop offset="0.521" stop-color="#3c64be" stop-opacity="0.00"/><stop offset="0.613" stop-color="#3c64be" stop-opacity="0.25"/><stop offset="1.000" stop-color="#3c64be" stop-opacity="0.55"/></linearGradient></defs>
<rect x="110.7" y="208.3" width="27.6" height="45.2" fill="url(#vg3)"/>
<defs><linearGradient id="vg4" x1="0" x2="0" y1="0" y2="1"><stop offset="0.000" stop-color="#505050" stop-opacity="0.68"/><stop offset="0.416" stop-color="#555555" stop-opacity="0.55"/><stop offset="0.522" stop-color="#707070" stop-opacity="0.10"/><stop offset="1.000" stop-color="#808080" stop-opacity="0.00"/></linearGradient></defs>
<rect x="110.5" y="253.5" width="28" height="56.5" fill="url(#vg4)"/>
<path d="M130.0 235.6h0M127.7 234.6h0M112.3 232.7h0M127.4 237.0h0M129.5 232.2h0M128.8 237.0h0M119.0 232.1h0M114.4 236.9h0M135.5 234.7h0M128.5 233.2h0M123.6 236.3h0M131.0 236.6h0M127.6 232.6h0M125.9 235.9h0M113.3 233.1h0M118.1 232.0h0M129.0 233.7h0M133.6 234.6h0M118.9 234.8h0M114.2 237.1h0M115.4 232.4h0M118.9 235.4h0M134.0 233.0h0M137.3 233.1h0M129.1 235.8h0M128.9 232.7h0M125.9 235.9h0M128.5 234.3h0M122.8 233.0h0M111.9 232.4h0M134.7 235.0h0M116.3 236.0h0M120.1 234.1h0M125.2 234.1h0M112.0 234.6h0M125.2 235.3h0M125.5 237.0h0M131.2 233.8h0M113.7 235.5h0M122.0 236.5h0M137.2 234.8h0M120.6 233.1h0M123.4 235.2h0M111.6 236.6h0M136.3 232.2h0M116.7 236.1h0M124.4 233.7h0M112.0 236.2h0M129.5 233.8h0M135.3 235.5h0M125.5 234.7h0M129.5 236.2h0M112.8 233.8h0M120.0 235.6h0M113.4 236.8h0M121.6 232.8h0M112.7 234.8h0" stroke="#3c64be" stroke-width="2.2" stroke-linecap="round" fill="none" opacity="1.0"/>
<path d="M130.7 252.4h0M113.3 250.5h0M127.2 252.7h0M132.8 252.4h0M136.7 249.7h0M125.2 249.6h0M116.3 249.4h0M122.7 250.5h0M132.4 250.4h0M111.6 253.5h0M131.7 252.8h0M126.6 249.9h0M131.0 252.7h0M124.1 250.9h0M114.8 250.5h0M113.7 253.1h0M117.7 249.8h0M135.3 252.0h0M134.3 252.3h0M114.8 251.6h0M120.1 252.0h0M135.5 249.8h0M123.1 250.8h0M127.5 249.6h0M132.6 253.2h0M137.8 249.8h0M120.3 251.3h0M115.0 252.2h0M123.5 253.3h0M120.5 249.9h0M112.6 252.1h0M120.1 250.2h0M124.8 253.3h0M132.2 250.4h0M120.3 252.2h0M127.6 250.7h0M131.4 252.4h0M112.1 253.2h0M133.9 251.7h0M128.5 251.0h0M111.5 252.4h0M120.7 250.3h0M125.8 250.8h0M115.7 251.4h0M121.1 250.0h0M132.8 250.9h0M128.5 253.5h0M131.1 250.4h0M117.4 253.4h0M114.8 253.5h0M112.5 252.6h0M119.9 251.2h0M136.5 253.4h0M125.9 251.8h0M131.7 250.8h0M127.0 249.4h0M120.7 250.3h0M137.1 250.2h0M114.6 251.9h0M118.6 253.1h0M119.0 252.1h0M112.2 251.2h0M128.0 252.3h0M127.3 249.9h0M113.5 251.0h0M121.2 252.8h0M129.2 252.8h0M134.0 252.0h0M115.5 249.6h0M129.6 253.4h0M119.6 251.0h0M131.0 251.5h0M133.7 251.3h0M116.7 250.9h0M114.6 252.3h0M117.8 252.0h0M133.0 252.7h0M124.1 253.1h0M135.3 250.2h0M127.8 251.3h0M134.3 249.7h0M132.8 253.1h0M120.7 249.7h0M112.6 250.7h0M119.3 250.1h0M119.6 252.6h0M114.5 252.7h0M114.3 253.5h0M121.1 252.5h0M128.7 251.1h0M118.8 250.7h0M125.4 249.5h0M121.3 249.4h0M128.6 253.2h0M135.0 252.1h0M132.0 249.8h0M120.9 250.8h0M127.5 249.9h0M129.5 249.9h0M122.2 251.7h0M115.0 252.6h0M119.9 252.4h0M129.4 249.9h0M122.1 250.5h0M126.7 250.6h0M134.8 252.1h0M125.7 250.1h0M112.2 252.3h0M135.9 251.2h0M120.4 252.6h0M115.4 253.5h0M115.3 253.0h0M113.5 250.3h0M135.0 252.2h0M127.4 253.2h0M123.8 251.9h0M127.0 249.3h0M116.5 252.9h0M116.2 251.3h0M117.5 249.9h0M111.2 250.2h0M130.3 249.5h0M137.8 251.2h0M124.0 250.5h0M133.1 252.8h0M132.3 252.2h0M125.9 251.2h0M114.8 252.8h0M121.4 252.1h0M130.5 250.2h0M134.6 252.9h0M122.1 251.5h0M119.4 250.7h0M131.3 251.0h0M133.9 251.2h0M125.3 251.6h0M130.8 249.8h0M125.0 251.4h0M133.0 249.7h0M119.5 252.3h0M135.1 250.8h0" stroke="#3c64be" stroke-width="1.6" stroke-linecap="round" fill="none" opacity="1.0"/>
<path d="M120.0 249.0h0M122.4 244.8h0M111.9 244.2h0M129.3 245.1h0M130.8 244.5h0M120.1 244.6h0M124.9 244.3h0M135.3 246.6h0M115.5 243.7h0M132.7 244.7h0M132.8 248.6h0M112.5 246.7h0M132.3 244.6h0M118.5 246.6h0M125.9 246.7h0M117.7 248.1h0M134.6 243.9h0M134.6 246.6h0M114.7 243.3h0M112.6 243.3h0M118.8 247.6h0M112.5 246.1h0M117.2 248.0h0M134.9 247.6h0M112.1 243.2h0M126.2 243.4h0M112.0 246.2h0M121.8 246.2h0M128.3 248.2h0M135.9 243.3h0M122.5 244.1h0M131.6 246.2h0M127.1 243.9h0M132.3 246.0h0M116.9 247.6h0M121.9 248.4h0M112.7 248.0h0M120.3 245.4h0M111.6 249.1h0M117.6 246.7h0M121.0 243.8h0M124.6 244.8h0M111.3 248.1h0M113.9 244.7h0M111.8 246.4h0M134.5 243.4h0M119.8 248.5h0M119.9 243.3h0M119.5 246.8h0M126.6 243.3h0M124.7 247.7h0M111.3 248.2h0M118.5 247.5h0M125.1 247.7h0M122.9 247.3h0M123.7 247.5h0M131.4 243.7h0M123.5 245.7h0M124.5 245.6h0M128.0 243.7h0M112.4 246.5h0M127.9 247.5h0M125.7 247.7h0M133.2 248.8h0M128.7 243.1h0M113.8 244.7h0M118.5 246.1h0M127.3 247.9h0M113.8 243.8h0M129.2 243.7h0M114.0 246.4h0M113.4 245.0h0M135.0 244.4h0M122.2 243.8h0M136.2 247.1h0M119.2 246.1h0M122.2 244.0h0M112.7 247.4h0M125.2 248.3h0M112.9 244.2h0M111.1 248.5h0M122.1 243.4h0M115.8 246.9h0M131.1 246.7h0M124.6 243.7h0M122.1 248.7h0M131.9 245.9h0M124.1 248.3h0M123.6 248.1h0M124.5 248.3h0M123.0 248.6h0M134.3 243.2h0M116.3 248.8h0M123.4 243.4h0M122.2 245.1h0M136.2 248.8h0M137.6 248.5h0M119.8 246.1h0M127.3 245.6h0M124.0 245.4h0M128.0 243.0h0M122.6 247.2h0M128.3 249.2h0M111.4 244.7h0M122.7 248.1h0M128.3 247.2h0M129.1 248.0h0M113.1 247.3h0M132.8 246.4h0M132.9 243.2h0M124.3 246.6h0M125.7 246.9h0M128.2 248.6h0M134.7 243.4h0M121.9 248.1h0M136.5 246.9h0M118.7 246.1h0M118.4 243.8h0M122.5 248.7h0M123.4 247.6h0M131.5 247.9h0M136.5 249.1h0M111.8 247.3h0M130.8 249.1h0M130.9 245.6h0M122.0 248.2h0M117.6 244.7h0M137.6 246.3h0M117.1 248.8h0M120.1 247.9h0M128.3 246.3h0M130.0 249.0h0M127.6 248.7h0M127.0 248.9h0M135.6 248.2h0M123.8 243.9h0M127.5 246.2h0M115.7 245.7h0M130.5 245.2h0M126.2 247.0h0M137.3 243.5h0M117.4 246.8h0M112.6 242.9h0M137.5 244.5h0M118.1 243.4h0M134.1 247.0h0M128.6 247.6h0M128.4 244.2h0M132.2 249.0h0M137.5 242.9h0M126.7 246.7h0M119.3 244.1h0M127.1 245.7h0M116.1 244.1h0M135.2 247.9h0M130.9 245.6h0M137.2 247.3h0M123.7 249.0h0M131.2 248.1h0M113.7 249.1h0M114.7 246.2h0M132.1 248.8h0M111.5 243.3h0M113.4 249.2h0M121.6 243.7h0M117.1 243.9h0M112.0 245.8h0M117.6 248.5h0M113.6 245.0h0M128.6 245.1h0M123.7 248.8h0" stroke="#3c64be" stroke-width="1.8" stroke-linecap="round" fill="none" opacity="1.0"/>
<path d="M129.0 229.6h0M120.5 227.9h0M112.6 228.1h0M113.1 229.9h0M118.4 228.1h0M134.5 231.8h0M133.8 229.8h0M128.3 228.0h0M115.7 228.6h0M120.3 230.6h0M116.1 227.9h0M124.2 230.7h0M113.5 230.3h0M112.3 227.3h0M113.8 228.2h0M136.3 227.3h0M113.6 231.3h0M133.6 229.1h0M118.4 231.3h0M134.0 228.8h0M119.8 228.6h0M117.1 231.6h0M121.8 231.3h0M113.7 229.0h0M129.8 230.4h0M135.7 231.1h0M121.2 231.0h0M118.7 230.5h0M119.1 227.2h0M120.7 230.9h0M134.1 227.9h0M112.5 229.7h0M134.3 230.1h0M128.4 230.1h0M123.6 228.8h0M129.9 231.1h0M115.3 231.0h0M121.6 227.6h0M122.6 231.8h0M122.1 230.1h0M116.6 227.8h0M129.6 227.3h0M116.5 227.9h0M114.5 227.1h0M134.9 229.5h0M123.9 228.2h0M114.9 230.0h0M114.2 230.7h0M127.4 227.0h0M129.8 228.8h0M124.3 227.5h0" stroke="#3c64be" stroke-width="2.4" stroke-linecap="round" fill="none" opacity="1.0"/>
<path d="M117.8 242.1h0M118.7 240.6h0M116.0 241.9h0M119.3 237.2h0M134.9 242.8h0M126.8 239.6h0M137.6 242.2h0M124.5 238.2h0M119.1 241.9h0M127.3 241.6h0M116.9 240.6h0M113.0 240.1h0M124.4 242.8h0M131.7 242.1h0M117.8 242.7h0M133.8 237.7h0M133.5 238.3h0M124.6 237.5h0M118.3 240.8h0M129.0 241.6h0M137.1 240.6h0M121.3 237.8h0M118.5 237.2h0M124.5 241.8h0M133.5 241.8h0M120.9 238.1h0M134.6 240.6h0M115.9 240.0h0M128.2 242.2h0M125.2 241.6h0M127.9 240.3h0M114.9 240.9h0M125.4 242.3h0M132.9 240.3h0M128.0 238.1h0M114.9 242.1h0M127.0 240.7h0M133.4 242.5h0M112.1 237.4h0M114.6 238.3h0M135.9 241.6h0M121.5 242.4h0M137.2 241.4h0M119.1 238.5h0M118.9 240.2h0M119.3 242.7h0M114.2 242.4h0M122.1 242.1h0M129.7 242.6h0M136.6 238.8h0M113.5 240.2h0M122.9 239.9h0M133.9 238.1h0M118.5 238.3h0M117.2 239.4h0M136.8 242.2h0M126.2 240.1h0M132.2 240.5h0M116.9 239.2h0M116.8 242.3h0M131.8 240.9h0M130.5 239.4h0M131.9 242.4h0M119.6 237.9h0M113.1 240.5h0M137.8 240.1h0M112.3 239.9h0M120.6 238.6h0M133.0 238.9h0M115.3 239.1h0M117.4 238.3h0M115.2 242.8h0M116.2 241.0h0M121.4 239.6h0M123.4 237.5h0M127.5 242.2h0M124.4 237.9h0" stroke="#3c64be" stroke-width="2.0" stroke-linecap="round" fill="none" opacity="1.0"/>
<path d="M120.9 221.1h0M117.3 219.5h0M115.4 220.6h0M130.4 220.1h0M129.7 219.5h0M120.3 218.2h0M123.7 220.3h0M112.7 217.6h0M116.4 219.0h0" stroke="#3c64be" stroke-width="2.8" stroke-linecap="round" fill="none" opacity="1.0"/>
<path d="M117.7 213.3h0M120.9 212.8h0M131.9 217.3h0M119.8 216.3h0" stroke="#3c64be" stroke-width="3.0" stroke-linecap="round" fill="none" opacity="1.0"/>
<path d="M129.9 224.5h0M112.8 225.2h0M111.6 226.4h0M130.3 226.5h0M126.2 225.1h0M115.7 226.8h0M120.1 224.4h0M125.7 226.5h0M116.8 226.7h0M127.0 225.1h0M119.1 225.6h0M129.3 226.5h0M115.7 226.6h0M123.1 226.7h0M134.2 223.0h0M129.2 225.1h0M120.4 223.1h0M124.3 223.8h0M121.0 224.2h0M121.4 224.3h0M116.7 222.8h0M123.0 225.8h0M121.6 225.6h0M133.0 224.8h0M124.2 223.5h0M131.6 225.8h0M128.6 226.7h0M117.3 224.0h0" stroke="#3c64be" stroke-width="2.6" stroke-linecap="round" fill="none" opacity="1.0"/>
<path d="M125.2 209.9h0M132.9 210.6h0" stroke="#3c64be" stroke-width="3.2" stroke-linecap="round" fill="none" opacity="1.0"/>
<path d="M126.1 242.4h0M114.0 252.4h0M129.4 238.3h0M121.1 253.4h0M129.6 241.1h0M115.8 243.4h0M112.7 250.4h0M131.0 250.9h0M113.6 248.3h0M117.9 240.0h0M111.1 240.8h0M118.9 246.2h0M133.9 244.2h0M129.3 241.5h0M130.0 245.9h0M111.5 252.8h0M133.3 237.2h0M127.1 244.2h0M134.2 252.6h0M115.9 249.4h0M125.5 239.4h0M135.7 250.5h0M133.3 250.2h0M118.3 240.2h0M129.9 243.2h0M136.4 253.2h0M124.3 251.8h0M129.6 252.5h0M119.7 242.3h0M113.5 246.0h0M137.1 242.6h0M120.1 249.1h0M127.1 249.0h0M130.5 238.7h0M111.6 252.8h0M125.5 238.5h0M120.2 242.5h0M126.5 243.3h0M118.8 248.6h0M125.5 237.9h0M131.4 239.1h0M136.2 246.8h0M118.2 237.3h0M124.6 251.1h0M122.0 244.6h0M129.3 239.9h0M129.5 248.3h0M113.8 241.7h0M128.4 241.0h0M128.2 252.1h0M134.7 248.5h0M116.6 238.9h0M128.4 241.6h0M116.7 244.8h0M137.4 238.5h0M115.7 247.0h0M119.7 240.2h0M115.4 252.3h0M132.5 251.1h0M131.4 242.7h0M118.6 251.6h0M112.7 239.4h0M124.8 248.2h0M136.4 248.4h0M121.7 247.0h0M118.0 249.2h0M115.5 241.7h0M113.3 236.4h0M131.8 252.7h0M119.2 249.1h0" stroke="#ffffff" stroke-width="0.9" stroke-linecap="round" fill="none" opacity="0.7"/>
<path d="M120.0 271.8h0M120.3 267.6h0M125.5 270.0h0M121.2 274.8h0M114.5 266.4h0M131.0 254.7h0M135.9 254.4h0M115.7 277.1h0M117.0 281.8h0M134.6 286.2h0M132.0 256.4h0M116.2 278.6h0M116.1 263.3h0M123.9 270.2h0M111.6 258.8h0M115.5 281.9h0M117.5 258.9h0M114.0 275.8h0M127.7 255.4h0M131.0 279.4h0M127.4 276.3h0M125.6 283.2h0M119.4 255.6h0M128.5 261.8h0M120.4 263.6h0M127.4 267.8h0M120.3 255.2h0M113.7 255.0h0M114.7 288.0h0M136.5 274.2h0M121.4 259.5h0M110.6 273.5h0M111.7 255.7h0M122.5 274.6h0M138.2 289.8h0M110.8 259.5h0M119.2 272.6h0M110.9 263.3h0M133.7 260.0h0M135.4 276.3h0M135.7 268.6h0M120.8 277.2h0M137.4 293.2h0M112.0 270.8h0M112.8 264.6h0M135.2 253.7h0M125.2 276.3h0M111.2 265.1h0M122.1 255.1h0M116.1 280.4h0M131.4 268.7h0M128.1 272.3h0M117.2 270.0h0M114.5 306.2h0M110.9 301.9h0M127.6 264.9h0M134.3 259.3h0M129.0 273.0h0M133.8 265.5h0M126.0 313.4h0M119.3 261.0h0M129.4 305.6h0M129.1 292.9h0M113.9 263.7h0M132.3 274.8h0M114.5 258.0h0M133.0 271.6h0M113.7 260.9h0M114.2 279.1h0M126.4 283.3h0M131.2 260.4h0M121.6 279.5h0M127.9 260.5h0M124.0 260.0h0M133.6 260.2h0M137.4 297.6h0M135.5 307.3h0M132.3 296.2h0M127.8 282.9h0M110.2 257.3h0M137.7 268.4h0M115.0 262.0h0M121.9 258.6h0M117.3 290.2h0M124.5 264.9h0M119.8 254.5h0M133.8 254.0h0M136.0 285.7h0M136.4 261.3h0M119.5 267.9h0M118.6 313.5h0M117.0 269.4h0M128.6 287.1h0M111.2 305.1h0M112.4 263.7h0M111.8 286.5h0M125.8 255.3h0M131.6 258.4h0M116.8 268.4h0M132.2 280.1h0M117.6 272.0h0M118.8 272.8h0M115.3 281.0h0M132.9 277.0h0M112.8 295.0h0M119.5 264.9h0M128.6 272.5h0M136.7 301.9h0M124.4 255.7h0M113.0 254.8h0M122.6 263.2h0M124.8 281.5h0M120.3 254.9h0M128.2 254.7h0M110.7 276.2h0M135.6 291.4h0M138.9 265.1h0M117.9 307.1h0M138.8 255.6h0M115.0 261.1h0M123.5 263.4h0M128.0 278.5h0M120.4 270.2h0M113.6 297.6h0M122.1 256.6h0M137.3 267.1h0M121.4 256.0h0M125.5 266.1h0M119.6 279.6h0M120.5 265.9h0M120.2 292.7h0M121.6 278.0h0M124.2 257.0h0M118.7 270.8h0M116.8 292.1h0M132.9 271.7h0M129.8 275.1h0M131.3 264.3h0M129.0 286.6h0M135.0 258.1h0M110.5 270.1h0M122.2 256.9h0M134.3 257.9h0M138.2 267.0h0M115.9 288.1h0M125.6 268.5h0M136.8 262.1h0M132.4 262.6h0M132.0 261.0h0M135.4 287.6h0M119.1 269.7h0M114.4 272.5h0M128.9 266.8h0M137.6 290.0h0M130.5 264.3h0M117.1 267.4h0M122.6 285.1h0M134.5 254.0h0M137.8 263.1h0M133.7 304.3h0M124.2 272.0h0M135.8 261.7h0M130.4 297.5h0M131.4 265.8h0M123.1 271.5h0M126.0 257.3h0M119.7 253.5h0M120.3 255.4h0M117.2 281.5h0M115.0 253.9h0M114.5 283.1h0M114.4 273.1h0M135.3 273.7h0M137.0 274.1h0M111.9 261.1h0M117.2 261.5h0M119.0 255.6h0M111.3 256.5h0M132.6 264.9h0M128.6 287.4h0M125.3 256.2h0M116.7 261.1h0M125.0 262.9h0M118.7 280.3h0M123.9 286.3h0M120.9 293.2h0M116.6 300.9h0M113.0 283.1h0M113.0 292.3h0M113.9 274.6h0M113.9 262.6h0M114.4 280.1h0M114.7 258.5h0M131.9 263.2h0M124.1 275.8h0M118.6 262.5h0M121.3 281.0h0M129.7 273.3h0M115.1 268.9h0M112.3 270.3h0M119.7 256.2h0M124.4 269.6h0M122.7 266.9h0M125.2 269.4h0M111.7 266.8h0M110.4 259.7h0M123.2 281.6h0M111.8 282.6h0M123.5 288.4h0M137.7 269.4h0M121.1 266.3h0M125.7 287.6h0M133.2 279.8h0M119.0 253.7h0M131.7 263.2h0M129.4 257.1h0M111.8 278.3h0M123.1 274.7h0M112.8 275.5h0M137.5 275.2h0M121.2 258.7h0M130.6 255.7h0M133.7 282.0h0M128.5 276.9h0M115.6 264.9h0M112.5 296.9h0M117.7 297.1h0M121.9 266.7h0M110.5 277.7h0M116.7 274.7h0M136.4 276.1h0M123.9 259.3h0M120.7 255.6h0M118.8 255.8h0M126.4 273.9h0M113.3 271.7h0M115.5 264.6h0M113.6 272.1h0M126.6 276.4h0M122.3 254.2h0M125.6 266.0h0M137.4 280.3h0M112.1 261.1h0M134.0 278.9h0M117.5 278.6h0M118.7 270.1h0M118.6 271.5h0M117.7 263.9h0M132.4 256.9h0M116.1 261.8h0M114.2 267.2h0M116.1 269.3h0M116.4 259.4h0M136.3 254.1h0M113.9 277.0h0M116.4 254.4h0M132.2 291.6h0M116.9 305.3h0M126.2 264.1h0M121.3 302.5h0M136.1 255.4h0M133.3 263.3h0M121.5 255.0h0M136.1 306.6h0M115.2 296.6h0M123.7 276.5h0M121.7 283.7h0M112.2 254.0h0M128.8 254.2h0M137.5 270.2h0M114.6 272.5h0M138.3 261.3h0M135.0 265.7h0M136.2 265.5h0M114.2 255.6h0M132.0 274.2h0M112.6 277.3h0M113.4 267.1h0M116.6 304.2h0M111.0 270.5h0M112.0 271.3h0M123.6 292.4h0M110.1 259.6h0M121.0 274.0h0M124.3 259.4h0M132.2 277.8h0M123.0 269.6h0M115.9 257.4h0M130.4 301.7h0M133.5 293.6h0M117.0 277.1h0M126.4 266.9h0M130.6 277.5h0M123.0 262.4h0M135.9 276.9h0M115.2 271.3h0M120.1 255.2h0M116.9 262.7h0M131.4 271.1h0M117.5 283.5h0M115.0 272.4h0M111.6 265.3h0M125.7 278.4h0M123.0 295.6h0M120.4 267.8h0M138.0 301.0h0M127.4 304.1h0M124.5 254.8h0M137.3 276.6h0M118.0 273.2h0M138.3 271.3h0M112.9 258.8h0M127.0 279.0h0M124.7 292.0h0M110.7 265.3h0M126.6 285.9h0M138.4 258.3h0M118.6 261.5h0M128.3 261.2h0M123.9 264.4h0M120.7 274.0h0M133.0 276.7h0M117.1 273.7h0M136.8 261.3h0M116.3 272.7h0M110.1 267.2h0M113.9 259.4h0M120.3 267.5h0M130.6 254.0h0M115.1 262.4h0M121.9 281.5h0M124.1 273.6h0M127.6 259.0h0M127.7 269.6h0M126.3 293.4h0M128.8 269.1h0M124.6 268.9h0M138.7 271.7h0M136.8 282.0h0M125.6 277.6h0M123.3 272.0h0M116.7 270.1h0M128.7 254.8h0M121.7 287.7h0M116.7 296.7h0M115.8 269.8h0M123.6 274.4h0M135.2 269.2h0M132.5 267.5h0M132.1 277.0h0M122.8 255.4h0M112.7 274.2h0M134.7 274.8h0M120.4 277.7h0M125.5 276.2h0M112.5 276.0h0M118.6 256.1h0M129.8 269.6h0M113.9 264.8h0M119.3 266.2h0M113.8 279.4h0M126.9 254.5h0M114.5 259.4h0M127.5 270.7h0M123.1 287.6h0M133.3 272.9h0M134.7 279.7h0M114.0 291.8h0M112.3 259.5h0M134.2 260.7h0M123.7 262.6h0M115.3 275.7h0M110.4 275.1h0M119.2 272.8h0M116.8 273.2h0M118.9 259.3h0M130.0 266.3h0M116.4 255.3h0M118.2 288.9h0M132.1 254.5h0M138.6 258.3h0M125.3 276.5h0M136.8 304.9h0M126.3 255.5h0M113.6 296.5h0M118.9 302.6h0M118.2 286.6h0M129.2 279.9h0M135.7 278.1h0M125.1 256.5h0M133.1 262.8h0M126.6 280.5h0M130.1 258.8h0M131.7 259.6h0M110.7 267.6h0M134.0 258.5h0M130.3 275.4h0M116.5 289.2h0M135.2 264.7h0M120.1 258.2h0M128.9 307.1h0M112.2 274.1h0M113.0 304.1h0M128.1 300.5h0M136.8 259.8h0M113.8 276.9h0M121.5 269.0h0M129.7 304.1h0M120.1 256.1h0M113.6 274.0h0M112.5 265.1h0M129.7 258.6h0M138.2 263.4h0M113.6 273.5h0M134.9 261.2h0M127.4 265.6h0M114.4 261.2h0M113.5 254.9h0M115.6 285.4h0M124.2 278.4h0M110.4 260.2h0M115.6 256.5h0M115.8 261.2h0M117.7 257.5h0M113.0 272.2h0M126.2 256.8h0M124.0 276.4h0M131.5 263.9h0M116.5 262.0h0M133.1 259.9h0M111.8 257.2h0M111.1 258.1h0M110.2 291.7h0M117.2 277.0h0M138.8 276.3h0M123.3 258.8h0M129.1 260.6h0M112.4 265.0h0M110.2 256.6h0M121.3 272.6h0M115.5 287.7h0M116.7 277.2h0M130.9 263.5h0M118.5 254.5h0M127.5 269.8h0M123.7 291.4h0M126.5 264.4h0M112.3 263.9h0M127.5 258.9h0M112.9 263.6h0M112.1 260.1h0M128.5 273.5h0M132.6 274.2h0M128.7 266.3h0M135.6 299.7h0M118.9 286.1h0M129.9 262.0h0M129.4 270.2h0M137.1 269.1h0M114.1 255.6h0M121.5 276.7h0M110.1 259.2h0M112.4 270.7h0M122.2 258.0h0M127.8 276.6h0M126.8 258.1h0M112.9 282.0h0M128.2 255.7h0M134.9 264.8h0M137.2 259.3h0M112.9 276.2h0M126.6 271.8h0M130.6 257.9h0M128.3 272.9h0M135.8 266.2h0M113.7 260.0h0M132.0 279.6h0M127.2 262.8h0M118.7 276.2h0M134.2 277.4h0M120.9 280.2h0M133.3 307.9h0M117.9 259.0h0M132.8 267.8h0M126.5 277.4h0M112.6 280.1h0M116.9 257.0h0M130.9 265.6h0M111.0 257.9h0M111.5 277.4h0M133.3 268.4h0M113.9 286.7h0M126.7 289.0h0M124.8 254.4h0M137.2 259.7h0M118.3 295.2h0M138.5 254.2h0M111.2 253.7h0M134.3 275.2h0M110.7 305.4h0M113.0 270.8h0M119.5 261.0h0M115.1 272.0h0M124.5 309.9h0M121.4 286.8h0M128.9 291.4h0M124.7 256.1h0M136.5 315.1h0M121.0 278.5h0M137.5 274.4h0M119.8 299.1h0M137.0 289.3h0M115.7 256.5h0M136.5 270.6h0M116.3 283.5h0M110.1 286.1h0M127.7 253.6h0M119.3 254.9h0M136.7 292.8h0M110.8 276.6h0M121.8 284.5h0M130.9 263.5h0M135.7 259.6h0M118.3 263.9h0M132.6 258.9h0M129.3 272.5h0M136.7 269.3h0M115.5 312.9h0M132.7 259.8h0M134.3 266.0h0M125.6 268.4h0M119.5 278.4h0M123.1 271.0h0M117.2 255.9h0M129.4 265.1h0M118.1 287.7h0M130.3 257.7h0M129.4 268.7h0M126.3 271.8h0M116.8 272.5h0M117.8 287.8h0M114.9 285.4h0M130.8 275.3h0M115.3 263.3h0M119.6 317.0h0M135.0 265.9h0M111.9 282.9h0M118.2 271.2h0M116.4 259.0h0M119.3 271.3h0M122.2 269.8h0M112.0 255.9h0M123.6 273.6h0M116.9 271.4h0M125.4 258.1h0M112.6 254.2h0M122.3 270.7h0M115.6 275.4h0M135.1 288.0h0M136.3 266.2h0M132.8 266.1h0M135.5 256.2h0M118.8 260.8h0M112.0 276.7h0M125.4 271.6h0M136.7 277.1h0M129.6 264.4h0M129.9 292.8h0M132.7 282.8h0M111.7 281.8h0M117.8 270.2h0M115.8 289.4h0M110.3 277.1h0M125.6 260.8h0M130.1 253.7h0M114.4 277.7h0M113.9 286.5h0M120.0 277.7h0M129.1 279.1h0M123.1 262.8h0M127.0 272.8h0M123.8 266.7h0M120.8 259.0h0M124.1 278.0h0M135.2 256.8h0M135.0 281.5h0M111.9 284.4h0M116.1 255.2h0M132.0 275.4h0M136.7 265.7h0M136.6 268.9h0M111.5 302.6h0M117.5 262.3h0M126.0 263.1h0M114.8 271.4h0M130.9 266.3h0M135.7 269.0h0M131.9 257.8h0M123.6 254.2h0M136.8 284.9h0M110.6 254.7h0M119.1 279.3h0M138.0 312.3h0M133.2 259.7h0M131.2 269.7h0M122.8 254.6h0M114.3 265.3h0M113.1 270.9h0M111.1 298.8h0M133.1 254.7h0M131.3 276.2h0M118.0 256.6h0M126.2 266.8h0M131.5 267.2h0M123.1 275.7h0M130.0 263.4h0M120.6 264.2h0M135.8 270.7h0M130.1 261.5h0M121.6 268.0h0M132.2 255.2h0M112.7 274.4h0M117.0 287.0h0M130.7 288.9h0M138.0 270.1h0M129.6 258.6h0M133.6 255.8h0M122.6 278.5h0M138.0 287.1h0M115.7 264.1h0M133.7 267.2h0M111.6 254.1h0M110.4 256.7h0M133.7 271.7h0M127.2 290.1h0M129.0 257.7h0M133.2 263.3h0M124.9 275.3h0M134.3 275.1h0M135.4 254.5h0M137.0 287.5h0M132.0 276.1h0M122.2 271.2h0M113.5 260.2h0M111.6 264.6h0M112.1 263.6h0M110.2 267.1h0M132.5 298.1h0M136.5 260.9h0M118.9 259.2h0M138.0 277.9h0M125.0 285.7h0M126.1 278.3h0M115.6 279.9h0M118.1 264.0h0M125.7 293.9h0M118.7 269.2h0M136.9 283.1h0M138.2 257.2h0M113.1 255.2h0M131.0 267.5h0M130.3 269.8h0M137.3 270.9h0M110.7 256.1h0M132.1 256.3h0M121.3 265.2h0M123.5 261.8h0M134.0 286.1h0M114.1 289.2h0M115.3 271.5h0M114.5 274.5h0M111.6 256.5h0M137.2 280.6h0M126.9 317.5h0M131.1 266.6h0M111.1 258.8h0M111.1 256.4h0M114.8 274.9h0M110.4 274.7h0M124.9 314.3h0M130.9 278.2h0M137.0 285.1h0M117.3 260.8h0M127.1 291.7h0M117.5 279.7h0M113.4 262.3h0M130.8 277.2h0M110.1 285.2h0M136.9 258.8h0M131.9 279.1h0M119.1 275.4h0M126.5 274.6h0M110.5 291.0h0M138.0 271.4h0M118.0 295.4h0M130.9 266.2h0M123.6 281.2h0M117.4 287.2h0M128.1 255.1h0M117.5 268.8h0M119.5 296.1h0M129.7 271.9h0M128.0 258.0h0M124.6 280.2h0M134.4 284.6h0M122.9 303.7h0M122.5 271.3h0M137.4 288.3h0M113.2 272.6h0M131.5 255.7h0M129.9 265.0h0M121.5 273.6h0M129.1 272.7h0M111.3 263.9h0M134.1 306.6h0M112.4 294.9h0M112.6 297.7h0M114.2 279.2h0M129.7 265.9h0M111.0 267.6h0M136.7 268.7h0M112.0 264.8h0M126.9 276.3h0M120.1 271.4h0M133.8 273.1h0M120.3 257.4h0M125.3 271.2h0M137.6 268.8h0M110.8 254.2h0M113.5 275.7h0M110.6 280.6h0M114.1 260.1h0M127.7 270.0h0M128.2 263.5h0M116.6 264.9h0M127.1 275.1h0M119.3 268.7h0M112.9 263.6h0M112.1 269.1h0M111.9 265.5h0M132.4 301.7h0M113.6 274.4h0M138.1 253.9h0M115.2 278.9h0M124.3 266.5h0M136.4 269.8h0M130.0 274.5h0M112.0 266.5h0M115.2 276.9h0M133.3 265.7h0M131.4 257.3h0M134.5 258.8h0M138.8 270.7h0M116.5 264.2h0M115.5 261.8h0M129.1 274.1h0M122.5 288.3h0M119.1 305.5h0M128.9 260.5h0M116.4 268.7h0M118.6 273.4h0M123.0 254.1h0M132.9 266.4h0M117.5 260.0h0M114.5 260.7h0M118.2 261.8h0M114.0 260.1h0M118.1 258.6h0M119.7 260.3h0M116.1 260.2h0M128.2 262.5h0M115.4 258.1h0M136.9 293.9h0M128.1 280.5h0M111.6 268.9h0M130.3 276.2h0M115.2 270.2h0M138.2 267.1h0M131.7 257.1h0M129.1 279.1h0M116.4 275.5h0M119.1 254.4h0M133.2 274.2h0M129.7 256.4h0M123.3 268.5h0M128.0 268.0h0M122.8 294.5h0M124.0 273.6h0M138.7 286.1h0M133.7 273.1h0M117.9 273.8h0M125.7 274.3h0M135.6 276.7h0M111.4 272.8h0M128.9 258.0h0M127.8 288.6h0M117.2 274.1h0M121.2 270.5h0M136.4 289.3h0M113.2 263.9h0M138.4 275.2h0M137.2 277.7h0M129.2 282.9h0M125.7 264.1h0M120.9 266.4h0M132.6 269.4h0M138.5 273.1h0M116.1 285.5h0M121.4 265.6h0M118.3 257.6h0M124.5 296.0h0M122.8 261.7h0M124.4 254.1h0M127.3 255.0h0M117.5 297.2h0M123.7 287.0h0M127.3 255.9h0M135.8 276.2h0M126.1 266.1h0M115.2 275.6h0M112.7 257.7h0M123.8 299.7h0M120.8 262.8h0M116.3 298.1h0M124.8 264.0h0M135.8 268.4h0M119.3 262.1h0M111.3 267.7h0M119.0 275.9h0M134.3 285.5h0M114.1 268.8h0M131.9 261.8h0M130.9 271.5h0M129.6 261.1h0M121.8 279.4h0M120.9 275.2h0M119.5 272.3h0M129.1 268.8h0M121.1 306.5h0M110.9 269.8h0M137.7 262.6h0M138.4 272.4h0M115.8 272.5h0M130.0 266.4h0M111.8 280.2h0M125.1 253.8h0M130.3 267.4h0M125.7 292.7h0M127.7 271.0h0M122.5 263.1h0M133.5 265.7h0M117.4 277.7h0M125.8 288.8h0M122.4 283.6h0M138.2 268.5h0M115.3 273.5h0M118.5 273.0h0M111.3 266.5h0M129.5 257.6h0M118.6 253.5h0M116.9 279.6h0M115.4 257.7h0M115.0 261.9h0M133.2 258.2h0M113.6 265.7h0M110.5 280.0h0M131.9 265.4h0M130.5 261.5h0M133.4 315.6h0M122.1 279.3h0M117.7 255.0h0M114.7 263.8h0M127.2 294.1h0M120.4 264.4h0M125.8 265.9h0M111.9 266.2h0M117.6 286.6h0M127.3 253.7h0M131.2 268.5h0M122.9 270.5h0M121.6 265.7h0M135.3 257.8h0M129.3 292.1h0M110.3 276.9h0M125.9 299.9h0M117.4 270.0h0M120.0 256.2h0M123.6 261.2h0M122.8 273.6h0M117.6 253.5h0M135.8 286.8h0M117.5 259.8h0M138.5 304.3h0M119.5 267.0h0M138.5 254.5h0M123.0 272.0h0M134.7 277.2h0M114.3 284.4h0M112.9 269.8h0M133.7 298.2h0M127.5 255.9h0M135.3 283.1h0M115.3 267.1h0M137.1 269.9h0M112.6 259.2h0M137.8 276.4h0M118.7 266.1h0M112.4 299.2h0M127.1 275.4h0M111.3 303.0h0M121.3 267.4h0M132.1 257.2h0M129.1 258.8h0M136.2 255.0h0M128.1 254.4h0M116.3 283.3h0M136.0 284.6h0M135.7 293.7h0M121.5 269.4h0M129.7 315.0h0M136.6 272.1h0M136.9 258.9h0M135.8 299.6h0M131.5 277.5h0M133.0 284.1h0M113.2 255.6h0M132.6 254.8h0M134.9 279.1h0M138.8 298.4h0M135.5 294.4h0M121.2 261.1h0M126.9 272.5h0M137.8 272.2h0M110.1 266.0h0M119.2 253.9h0M131.8 262.9h0M122.9 299.3h0M138.5 279.0h0M126.0 269.5h0M124.8 277.6h0M133.6 271.5h0M134.0 271.0h0M126.5 284.5h0M133.0 269.2h0M110.3 301.9h0M119.9 281.9h0M114.0 268.3h0M116.1 269.0h0M118.0 264.7h0M138.8 258.8h0" stroke="#4a4a4a" stroke-width="1.0" stroke-linecap="round" fill="none" opacity="0.85"/>
<path d="M133.9 263.5h0M111.1 256.2h0M117.2 269.3h0M136.7 275.9h0M135.1 267.7h0M115.3 262.3h0M119.0 276.5h0M132.2 256.3h0M116.5 260.5h0M115.8 260.3h0M134.0 270.2h0M113.0 269.9h0M125.8 269.8h0M119.2 256.0h0M127.8 270.6h0M126.6 264.5h0M111.3 259.3h0M124.7 257.5h0M119.7 260.9h0M119.3 262.9h0M119.2 254.4h0M117.0 274.2h0M127.8 262.1h0M136.4 267.6h0M133.4 269.0h0M113.1 274.4h0M124.4 263.0h0M133.6 275.8h0M132.9 270.0h0M134.3 267.7h0M117.4 270.4h0M138.6 268.3h0M111.8 275.9h0M137.5 254.1h0M122.4 265.0h0M129.2 276.8h0M134.1 253.6h0M118.8 255.0h0M136.8 270.4h0M114.8 257.4h0M132.4 270.7h0M136.5 264.4h0M119.2 268.1h0M131.6 273.8h0M135.0 255.3h0M126.6 261.7h0M114.3 275.6h0M113.6 258.2h0M114.5 267.0h0M127.8 264.2h0M131.6 263.8h0M111.9 270.7h0M123.9 257.9h0M126.7 271.8h0M113.7 254.7h0M134.4 269.9h0M113.6 269.2h0M137.6 254.9h0M138.0 261.0h0M122.4 273.5h0M127.3 263.3h0M118.4 267.4h0M132.7 271.7h0M129.1 261.4h0M129.1 261.5h0M121.7 274.0h0M135.0 274.8h0M122.4 255.5h0M133.7 276.2h0M124.1 256.5h0" stroke="#ffffff" stroke-width="0.8" stroke-linecap="round" fill="none" opacity="0.6"/>
<line x1="110.1" y1="332.7" x2="138.9" y2="332.7" stroke="#333" stroke-width="1.1" />
<text font-size="8.7" text-anchor="middle" fill="#222" stroke="#222" transform="translate(125.5,342) scale(1,1.1)" >MR</text>
<defs><linearGradient id="vg5" x1="0" x2="0" y1="0" y2="1"><stop offset="0.000" stop-color="#c85a14" stop-opacity="0.00"/><stop offset="0.513" stop-color="#c85a14" stop-opacity="0.00"/><stop offset="0.604" stop-color="#c85a14" stop-opacity="0.25"/><stop offset="1.000" stop-color="#c85a14" stop-opacity="0.55"/></linearGradient></defs>
<rect x="156.9" y="207.3" width="27.5" height="44.2" fill="url(#vg5)"/>
<defs><linearGradient id="vg6" x1="0" x2="0" y1="0" y2="1"><stop offset="0.000" stop-color="#505050" stop-opacity="0.68"/><stop offset="0.427" stop-color="#555555" stop-opacity="0.55"/><stop offset="0.666" stop-color="#707070" stop-opacity="0.10"/><stop offset="1.000" stop-color="#808080" stop-opacity="0.00"/></linearGradient></defs>
<rect x="156.7" y="251.5" width="27.9" height="50.3" fill="url(#vg6)"/>
<path d="M179.2 249.1h0M167.4 251.1h0M182.5 250.5h0M160.4 249.9h0M181.2 251.3h0M180.1 248.3h0M169.5 247.5h0M166.0 250.6h0M162.4 250.2h0M171.3 248.1h0M181.8 249.8h0M176.3 250.9h0M162.1 247.8h0M177.4 249.6h0M162.8 248.5h0M177.7 249.1h0M174.7 249.7h0M170.4 249.7h0M181.8 248.0h0M164.8 250.1h0M161.9 250.7h0M175.9 247.8h0M179.4 250.2h0M162.7 248.4h0M163.9 247.6h0M159.3 249.4h0M162.4 249.7h0M173.8 248.6h0M167.7 249.8h0M174.7 250.3h0M175.6 248.7h0M174.7 248.4h0M162.4 247.9h0M179.3 250.1h0M166.9 250.6h0M158.3 250.6h0M159.5 250.1h0M176.4 248.2h0M176.5 249.6h0M176.3 250.4h0M157.6 249.7h0M184.0 249.9h0M162.3 249.1h0M179.3 248.0h0M179.2 250.8h0M169.5 251.0h0M170.5 250.5h0M162.8 247.6h0M183.4 248.8h0M173.3 250.3h0M170.8 249.7h0M182.8 248.1h0M180.2 250.3h0M179.5 248.0h0M166.9 250.6h0M180.7 249.6h0M172.9 249.5h0M166.0 248.7h0M176.8 251.3h0M167.2 247.6h0M174.9 251.0h0M173.6 248.0h0M158.8 250.8h0M160.0 251.3h0M168.8 249.1h0M173.8 250.7h0M158.9 249.7h0M181.0 249.6h0M165.2 251.2h0M179.7 249.3h0M174.4 250.7h0M178.4 248.7h0M159.0 249.7h0M173.2 248.2h0M159.9 250.9h0M177.9 247.4h0M177.3 249.0h0M171.0 251.3h0M158.0 249.9h0M173.0 248.1h0M172.9 250.5h0M158.8 251.1h0M182.3 248.9h0M175.8 247.6h0M163.5 251.5h0M164.6 251.2h0M164.7 248.4h0M160.0 251.0h0M178.6 250.1h0M175.6 250.7h0M172.6 250.9h0M177.5 249.3h0M182.9 251.0h0M161.5 250.2h0M176.1 247.9h0M175.0 251.0h0M179.5 248.0h0M183.9 249.8h0M183.7 250.3h0M160.6 247.5h0M160.6 248.4h0M171.0 247.4h0M162.3 249.3h0M161.5 247.8h0M178.9 250.3h0M177.9 250.8h0M172.5 248.2h0M163.0 249.9h0M177.5 248.3h0M160.7 247.8h0M158.6 249.5h0M181.7 248.7h0M171.1 249.1h0M176.3 249.1h0M183.4 248.6h0M163.0 249.7h0M162.7 251.0h0" stroke="#c85a14" stroke-width="1.6" stroke-linecap="round" fill="none" opacity="1.0"/>
<path d="M170.6 242.6h0M166.1 243.3h0M182.1 241.9h0M180.4 246.8h0M170.5 246.8h0M171.5 243.0h0M181.7 246.9h0M174.9 242.8h0M177.6 241.4h0M182.0 242.7h0M160.3 246.6h0M165.6 242.3h0M180.4 242.8h0M183.5 246.5h0M166.5 244.4h0M166.1 246.7h0M160.2 243.0h0M164.1 242.0h0M167.4 242.7h0M168.6 247.1h0M173.4 246.9h0M158.6 243.5h0M175.6 246.0h0M170.3 246.6h0M169.2 246.6h0M181.1 246.3h0M184.0 243.7h0M167.7 246.0h0M166.4 241.7h0M168.5 243.5h0M165.1 241.1h0M179.8 246.1h0M183.8 243.2h0M166.2 242.1h0M177.4 247.0h0M160.7 242.6h0M173.1 241.3h0M160.3 243.4h0M167.3 243.3h0M174.3 244.1h0M158.2 244.2h0M167.9 241.3h0M177.8 244.6h0M177.4 241.5h0M173.9 245.8h0M165.1 245.6h0M162.4 242.7h0M171.5 242.0h0M163.3 242.5h0M164.8 242.4h0M173.8 241.5h0M159.5 244.8h0M179.7 244.3h0M168.5 244.8h0M176.1 245.3h0M168.0 242.6h0M170.3 242.2h0M179.5 244.7h0M164.5 244.9h0M159.4 242.9h0M176.8 242.9h0M181.9 242.0h0M173.6 241.1h0M168.5 245.1h0M175.1 245.3h0M174.4 243.6h0M164.0 245.8h0M171.3 241.1h0M166.9 245.0h0M160.1 241.6h0M172.5 243.3h0M161.5 243.1h0M163.3 247.2h0M173.7 243.5h0M177.3 243.1h0M180.7 243.6h0M159.4 246.7h0M180.7 244.4h0M158.7 244.5h0M168.6 242.8h0M168.0 245.4h0M160.1 246.5h0M177.2 243.7h0M182.7 241.4h0M173.7 242.4h0M170.3 247.0h0M164.5 243.9h0M168.5 244.3h0M183.1 246.9h0M157.3 245.7h0M159.9 246.1h0M174.2 242.9h0M182.1 242.7h0M165.4 245.3h0M161.9 244.2h0M163.7 246.9h0M174.6 245.0h0M179.8 241.7h0M167.7 241.7h0M176.1 244.2h0M174.6 247.0h0M173.9 244.9h0M168.9 243.7h0M158.8 243.5h0M165.6 243.9h0M160.1 242.5h0M181.9 243.2h0M182.4 242.9h0M173.4 241.4h0M176.1 246.9h0M182.6 246.3h0M168.7 246.9h0M182.7 244.1h0M176.3 244.4h0M164.2 242.5h0M161.1 244.1h0M180.3 245.1h0M166.9 246.9h0M183.9 247.3h0M171.4 247.2h0M183.1 246.2h0M173.9 242.3h0M171.0 242.4h0M170.7 244.8h0M175.1 244.5h0M176.3 246.1h0M157.8 243.7h0M180.2 245.0h0M171.3 242.3h0M179.3 241.4h0M159.2 241.2h0M169.5 246.0h0M164.7 244.8h0M175.3 247.1h0M173.2 244.2h0M162.3 245.2h0M171.5 241.8h0M180.5 246.0h0M174.6 246.2h0M161.0 246.9h0M166.4 245.2h0M173.3 244.5h0M165.6 241.2h0M183.6 245.9h0M164.9 243.3h0M167.0 242.2h0M159.8 247.1h0M176.7 245.7h0M166.6 246.3h0M181.1 244.0h0M162.0 245.1h0M169.6 243.7h0M181.8 242.3h0M166.1 243.5h0M157.8 246.5h0M182.7 241.1h0M162.2 241.4h0M180.4 242.3h0M170.7 245.3h0M170.6 244.7h0M169.1 246.1h0M165.5 244.2h0M171.4 243.5h0M177.9 247.0h0M168.3 246.6h0M179.4 242.2h0M176.2 242.0h0" stroke="#c85a14" stroke-width="1.8" stroke-linecap="round" fill="none" opacity="1.0"/>
<path d="M184.0 240.2h0M168.0 238.3h0M163.2 236.7h0M158.2 237.8h0M178.9 238.6h0M171.4 238.1h0M175.1 240.5h0M158.8 239.0h0M183.0 236.1h0M176.2 240.5h0M183.0 237.2h0M157.5 239.6h0M174.3 239.2h0M169.7 235.9h0M158.5 238.3h0M177.9 236.4h0M168.5 238.6h0M178.3 235.6h0M166.3 236.0h0M157.4 240.5h0M183.2 237.9h0M175.7 240.4h0M173.2 235.6h0M177.3 240.4h0M179.3 238.9h0M177.5 235.7h0M178.9 240.6h0M174.8 240.7h0M162.9 240.9h0M158.5 239.6h0M175.9 239.2h0M178.4 239.2h0M172.3 240.9h0M174.3 238.6h0M174.9 238.9h0M182.9 240.0h0M167.2 237.2h0M182.8 239.6h0M168.1 236.3h0M173.6 240.4h0M173.9 238.7h0M178.4 240.6h0M172.4 240.7h0M166.8 236.2h0M162.5 238.9h0M165.3 238.4h0M173.2 238.4h0M173.7 240.4h0M165.1 237.5h0M160.3 239.3h0M176.1 240.4h0M181.0 239.5h0M162.8 236.3h0M183.0 238.2h0M175.7 238.8h0M173.0 237.2h0M173.9 240.7h0M162.2 237.4h0M159.9 238.3h0M176.2 237.1h0M168.1 240.5h0M176.6 240.6h0M167.2 240.4h0M180.0 238.7h0M162.9 240.5h0M164.9 236.8h0M177.4 236.9h0M169.2 235.6h0M180.2 238.8h0M175.3 240.7h0M170.4 239.3h0M174.8 237.9h0M178.9 240.8h0M179.7 238.5h0M164.0 239.9h0M176.1 239.8h0M179.2 239.5h0M174.8 239.5h0M173.8 236.9h0M174.4 239.3h0M177.9 240.5h0M164.0 236.4h0M160.2 235.8h0M167.2 239.3h0M173.0 236.9h0M172.7 240.7h0M157.4 236.3h0M183.6 236.7h0M178.0 239.0h0M173.6 240.3h0M182.3 240.8h0M162.0 237.5h0M182.7 236.9h0M159.0 239.5h0M158.2 238.5h0M181.8 238.4h0M171.1 236.5h0M166.3 237.9h0M160.8 240.2h0M182.8 240.2h0M178.7 238.6h0M172.4 238.0h0M162.5 237.5h0M159.6 236.9h0M172.3 240.1h0M177.6 237.2h0M162.0 239.6h0M179.7 241.0h0" stroke="#c85a14" stroke-width="2.0" stroke-linecap="round" fill="none" opacity="1.0"/>
<path d="M163.6 230.0h0M180.2 229.2h0M173.7 228.3h0M176.2 229.7h0M165.5 226.3h0M169.0 229.9h0M165.3 230.3h0M170.8 229.4h0M158.8 228.2h0M162.6 226.0h0M178.1 228.6h0M166.7 227.2h0M160.3 229.5h0M166.1 228.4h0M174.2 227.3h0M173.3 228.1h0M172.5 230.1h0M172.1 229.4h0M161.7 228.7h0M166.6 228.5h0M177.9 228.5h0M166.1 225.8h0M166.1 228.0h0M171.5 229.4h0M157.9 228.5h0M183.2 227.6h0M173.6 229.4h0M157.9 226.8h0M170.5 226.4h0M163.7 227.0h0M174.2 230.0h0M181.8 230.0h0M157.7 229.2h0M177.1 229.7h0M182.6 229.1h0M181.8 229.8h0M163.5 230.2h0M160.8 230.2h0M178.0 227.2h0M162.4 226.2h0M171.1 226.9h0" stroke="#c85a14" stroke-width="2.4" stroke-linecap="round" fill="none" opacity="1.0"/>
<path d="M180.0 222.8h0M165.1 224.8h0M168.6 222.2h0M167.6 224.4h0M167.4 224.1h0M158.5 221.6h0M170.4 223.0h0M162.7 221.7h0M179.3 224.0h0M181.2 222.6h0M159.2 222.8h0M182.6 225.1h0M164.1 225.0h0M171.0 222.0h0M174.7 222.1h0M159.7 223.1h0M164.5 224.6h0M164.2 223.7h0M177.3 221.5h0M181.0 223.4h0M174.0 223.0h0M172.1 223.8h0M168.7 221.5h0M172.2 222.5h0" stroke="#c85a14" stroke-width="2.6" stroke-linecap="round" fill="none" opacity="1.0"/>
<path d="M169.6 234.4h0M166.5 233.0h0M160.3 231.1h0M172.7 234.2h0M166.1 232.7h0M159.0 232.1h0M180.6 230.5h0M162.1 235.0h0M163.4 230.6h0M181.9 230.9h0M157.5 234.6h0M182.3 233.5h0M168.8 232.5h0M175.7 231.4h0M173.5 233.2h0M162.5 235.0h0M179.2 234.0h0M169.1 231.7h0M178.4 234.7h0M161.3 230.7h0M174.2 232.9h0M164.7 231.6h0M169.8 231.8h0M166.0 230.5h0M158.9 234.5h0M166.8 233.9h0M163.2 234.3h0M181.9 234.1h0M164.4 230.8h0M162.3 235.0h0M181.3 234.0h0M173.7 234.9h0M173.1 233.8h0M181.7 235.4h0M178.6 235.0h0M167.3 235.4h0M177.2 235.4h0M174.2 234.8h0M178.6 232.4h0M169.9 231.3h0M175.6 234.1h0M165.4 232.1h0M167.7 231.2h0M165.9 235.5h0M181.4 230.8h0M180.5 231.4h0M176.8 233.1h0M171.2 232.8h0M163.4 230.8h0M164.5 230.8h0M175.5 234.5h0M166.4 235.5h0M171.1 232.5h0M159.6 232.1h0M165.5 232.2h0M170.7 232.6h0M171.0 235.5h0M168.7 233.2h0M182.2 232.2h0M181.1 231.1h0M164.1 232.4h0M175.4 234.5h0" stroke="#c85a14" stroke-width="2.2" stroke-linecap="round" fill="none" opacity="1.0"/>
<path d="M180.4 218.0h0M169.3 220.7h0M167.5 220.6h0M167.9 219.8h0M180.4 218.4h0M167.2 219.7h0M175.9 220.5h0M171.9 216.4h0M172.2 218.9h0M179.9 216.5h0M161.6 220.3h0" stroke="#c85a14" stroke-width="2.8" stroke-linecap="round" fill="none" opacity="1.0"/>
<path d="M168.0 210.5h0M173.4 210.6h0M172.2 209.5h0M165.2 208.2h0" stroke="#c85a14" stroke-width="3.2" stroke-linecap="round" fill="none" opacity="1.0"/>
<path d="M168.3 213.5h0M176.3 215.1h0M162.3 212.1h0M158.1 215.1h0M178.4 212.7h0M171.3 214.2h0" stroke="#c85a14" stroke-width="3.0" stroke-linecap="round" fill="none" opacity="1.0"/>
<path d="M170.5 236.1h0M176.8 237.9h0M174.4 243.5h0M161.5 245.9h0M161.5 237.9h0M180.2 236.8h0M173.4 246.4h0M165.9 234.1h0M162.0 238.7h0M172.0 247.4h0M167.2 245.5h0M168.8 242.9h0M159.3 243.8h0M162.1 234.6h0M165.6 236.8h0M181.6 241.6h0M167.6 243.4h0M157.3 245.7h0M158.6 235.4h0M168.7 246.5h0M169.0 235.9h0M167.1 241.4h0M165.7 249.9h0M162.0 247.1h0M176.1 246.2h0M168.6 240.8h0M165.1 238.3h0M171.4 242.3h0M158.5 248.9h0M166.7 247.2h0M168.4 237.0h0M172.8 242.0h0M160.1 240.3h0M173.9 240.7h0M160.2 241.6h0M175.4 250.0h0M173.8 243.6h0M167.4 234.4h0M169.8 244.0h0M179.9 246.9h0M159.5 237.0h0M178.9 242.6h0M182.3 241.0h0M171.8 247.9h0M158.8 248.5h0M163.7 241.0h0M165.7 248.6h0M176.8 234.7h0M171.1 250.0h0M165.5 250.4h0M183.6 245.4h0M175.4 238.6h0M178.3 246.3h0M166.2 242.5h0M160.2 242.3h0M162.1 239.4h0M174.0 238.0h0M162.9 247.9h0M167.5 237.0h0M162.1 244.3h0M174.4 246.8h0M184.0 249.5h0M174.1 235.7h0M167.4 247.3h0M173.5 242.1h0M158.6 239.8h0M183.6 241.9h0M179.7 246.3h0M167.7 242.4h0M157.6 241.5h0" stroke="#ffffff" stroke-width="0.9" stroke-linecap="round" fill="none" opacity="0.7"/>
<path d="M184.4 293.8h0M162.6 266.0h0M162.2 294.6h0M182.3 267.1h0M162.6 263.6h0M180.8 273.1h0M167.4 266.6h0M157.5 262.8h0M160.0 275.0h0M164.1 287.1h0M173.5 263.7h0M157.0 274.1h0M164.3 277.0h0M156.3 266.0h0M172.2 298.5h0M174.6 256.4h0M159.7 281.0h0M159.2 255.2h0M176.5 252.9h0M182.7 270.2h0M156.9 273.4h0M163.8 251.5h0M175.4 292.8h0M180.7 264.2h0M171.4 251.8h0M183.6 282.4h0M159.7 264.5h0M162.6 282.7h0M164.5 260.7h0M180.1 272.4h0M175.2 273.7h0M160.5 267.6h0M168.7 253.4h0M177.1 258.0h0M159.7 274.7h0M184.6 257.8h0M179.2 258.6h0M160.3 268.4h0M160.9 267.2h0M174.5 253.4h0M170.0 251.5h0M171.2 274.2h0M176.1 283.3h0M167.6 296.0h0M184.7 261.3h0M168.3 257.9h0M170.3 266.1h0M158.4 253.4h0M165.2 258.0h0M162.4 265.8h0M180.6 278.2h0M160.1 288.1h0M159.3 260.8h0M160.5 270.7h0M159.9 275.3h0M171.7 269.5h0M170.3 254.5h0M175.5 259.8h0M175.2 298.0h0M156.7 257.5h0M160.7 301.6h0M177.3 263.9h0M159.5 270.9h0M157.8 277.9h0M179.5 253.8h0M167.5 264.8h0M176.0 265.3h0M157.8 271.9h0M184.7 256.1h0M164.1 266.1h0M164.5 274.1h0M176.9 278.7h0M173.2 252.3h0M167.7 277.1h0M180.8 295.0h0M168.7 261.5h0M167.4 261.9h0M183.5 252.7h0M175.5 260.3h0M173.1 253.9h0M159.1 284.5h0M172.5 282.7h0M161.1 264.3h0M177.5 286.2h0M163.1 278.2h0M181.7 264.7h0M159.2 253.5h0M177.0 279.4h0M182.4 264.4h0M163.4 277.3h0M179.3 276.3h0M165.0 265.5h0M177.7 265.0h0M166.5 291.2h0M184.5 259.2h0M172.6 262.3h0M172.0 277.3h0M168.3 265.2h0M158.6 277.9h0M170.7 262.7h0M157.6 267.7h0M179.4 270.2h0M182.5 253.1h0M166.5 256.7h0M182.3 258.0h0M157.0 257.6h0M180.3 262.9h0M177.4 268.9h0M165.8 269.3h0M172.7 291.7h0M168.3 289.5h0M181.9 289.9h0M173.0 265.1h0M159.1 272.9h0M166.0 278.6h0M160.2 264.3h0M162.2 277.4h0M175.2 278.0h0M184.3 292.4h0M175.5 256.3h0M157.2 261.5h0M167.7 266.3h0M175.7 263.7h0M184.0 260.0h0M181.1 268.0h0M172.0 264.5h0M170.0 253.5h0M183.6 259.6h0M166.7 254.8h0M169.3 262.0h0M156.9 270.6h0M162.5 293.7h0M168.4 257.5h0M157.7 260.1h0M183.4 268.0h0M162.7 259.7h0M172.6 254.5h0M178.8 286.1h0M159.2 274.1h0M183.3 272.4h0M179.6 269.2h0M164.4 281.4h0M164.0 272.1h0M173.2 284.6h0M173.2 267.5h0M163.3 265.9h0M157.1 255.0h0M181.0 264.9h0M163.5 273.3h0M163.6 281.7h0M157.9 292.0h0M177.3 255.6h0M181.5 290.5h0M162.0 273.3h0M160.5 263.9h0M170.1 298.2h0M179.6 263.8h0M172.6 258.5h0M157.2 264.3h0M183.1 264.2h0M162.0 259.1h0M184.0 277.1h0M178.8 255.1h0M160.0 283.4h0M162.5 254.0h0M160.8 258.4h0M156.6 263.4h0M172.8 256.8h0M175.4 260.3h0M171.3 267.3h0M170.5 270.7h0M166.8 273.1h0M159.9 253.1h0M170.4 254.3h0M184.9 268.2h0M167.4 252.9h0M173.7 291.5h0M163.8 253.1h0M162.2 252.4h0M183.3 266.8h0M166.4 254.8h0M177.9 269.2h0M171.0 287.2h0M164.0 257.2h0M169.9 275.1h0M163.9 285.3h0M157.5 257.5h0M159.7 273.6h0M164.2 272.5h0M159.8 262.0h0M178.2 271.1h0M176.1 275.0h0M182.1 285.9h0M161.9 255.9h0M162.5 255.8h0M171.7 280.6h0M166.8 254.0h0M167.2 276.8h0M159.4 255.1h0M158.1 252.0h0M179.8 280.4h0M181.8 279.7h0M160.3 281.0h0M159.9 283.1h0M159.0 264.5h0M164.4 259.7h0M171.0 261.2h0M182.1 263.0h0M157.8 252.4h0M164.8 271.3h0M178.7 272.4h0M181.7 272.2h0M172.0 279.6h0M171.7 279.5h0M164.2 267.9h0M158.1 262.9h0M171.3 264.8h0M181.3 253.1h0M174.2 261.1h0M180.7 284.9h0M173.1 261.6h0M165.8 259.5h0M168.2 276.8h0M169.5 274.3h0M159.3 269.4h0M177.5 264.7h0M167.8 253.6h0M169.6 272.5h0M167.9 276.0h0M158.8 275.9h0M158.9 270.3h0M180.5 272.4h0M169.2 299.1h0M181.0 258.5h0M161.5 257.6h0M171.4 278.0h0M175.4 257.1h0M181.9 292.2h0M170.7 287.1h0M168.9 270.8h0M159.3 264.1h0M171.3 276.1h0M157.6 252.9h0M166.4 278.4h0M177.8 256.2h0M159.8 268.8h0M179.4 287.6h0M183.1 279.0h0M158.1 268.8h0M157.5 257.7h0M172.1 259.6h0M160.2 256.2h0M178.8 299.7h0M165.5 262.3h0M159.1 271.1h0M174.9 259.0h0M161.4 292.7h0M173.2 262.0h0M170.4 299.7h0M172.3 257.4h0M184.7 286.0h0M158.4 268.8h0M178.3 275.3h0M161.1 258.6h0M179.1 270.0h0M165.6 252.2h0M173.9 254.3h0M182.2 266.6h0M171.5 282.6h0M175.8 254.7h0M157.2 259.7h0M158.7 270.7h0M164.2 276.0h0M162.4 267.3h0M174.3 258.4h0M166.0 291.0h0M183.7 252.0h0M170.7 271.7h0M163.9 257.5h0M181.8 276.0h0M164.6 272.5h0M174.2 286.7h0M181.8 257.3h0M177.3 273.0h0M161.9 284.5h0M175.0 253.4h0M179.0 271.1h0M162.1 268.2h0M171.6 262.2h0M167.7 253.0h0M159.4 268.1h0M173.3 278.4h0M172.7 261.5h0M177.9 272.8h0M174.0 275.7h0M178.2 277.0h0M176.4 271.9h0M175.4 266.8h0M177.1 267.2h0M169.7 256.3h0M173.5 254.9h0M166.8 278.6h0M179.1 258.3h0M173.5 276.9h0M166.4 263.2h0M182.6 283.6h0M184.7 291.4h0M180.4 290.6h0M169.6 275.3h0M162.4 287.0h0M181.7 255.0h0M158.6 254.7h0M183.1 280.5h0M183.4 279.0h0M172.9 257.4h0M159.9 251.9h0M162.9 264.4h0M176.3 264.9h0M163.0 289.0h0M179.6 263.3h0M163.6 252.5h0M163.6 255.9h0M177.0 256.5h0M182.3 256.1h0M180.1 262.1h0M163.6 278.1h0M182.0 253.4h0M172.3 264.7h0M183.2 305.6h0M184.3 275.6h0M162.2 256.2h0M164.7 266.4h0M166.0 267.8h0M175.4 268.9h0M181.1 252.8h0M182.3 264.3h0M165.3 265.5h0M170.8 257.8h0M166.2 280.2h0M171.4 266.0h0M162.3 267.5h0M159.6 269.0h0M178.4 272.4h0M172.2 260.8h0M166.8 281.4h0M159.9 260.2h0M159.1 259.7h0M185.0 256.4h0M179.3 278.3h0M163.4 266.1h0M181.6 258.4h0M171.3 255.9h0M168.6 281.4h0M177.1 255.2h0M181.6 253.1h0M175.0 280.1h0M176.2 256.4h0M176.5 258.6h0M178.3 258.9h0M176.4 255.8h0M172.0 257.5h0M178.0 282.9h0M159.1 298.3h0M170.0 276.7h0M183.3 272.5h0M171.3 264.3h0M167.1 257.3h0M176.4 283.9h0M175.3 287.7h0M160.6 282.0h0M181.9 283.9h0M173.6 259.1h0M170.6 280.0h0M162.3 267.7h0M167.1 251.6h0M176.4 263.9h0M167.0 287.1h0M162.5 256.5h0M163.7 261.5h0M170.5 254.4h0M167.9 273.2h0M184.2 264.1h0M157.2 281.6h0M178.1 252.5h0M172.9 282.6h0M171.4 272.3h0M169.9 278.2h0M178.4 255.8h0M165.6 294.9h0M164.5 252.1h0M172.4 265.8h0M183.2 270.7h0M162.4 271.0h0M170.8 259.5h0M179.6 269.7h0M171.5 282.5h0M173.4 287.2h0M170.2 255.6h0M183.5 269.3h0M171.2 282.7h0M175.5 260.3h0M177.9 292.0h0M158.0 264.8h0M156.4 271.4h0M162.8 257.6h0M181.6 252.2h0M176.9 273.4h0M167.0 262.1h0M183.1 265.2h0M170.7 255.7h0M157.8 263.6h0M179.1 257.4h0M166.1 258.9h0M159.8 285.4h0M183.4 269.4h0M169.5 255.3h0M161.6 263.7h0M166.2 262.0h0M159.8 259.3h0M168.5 259.7h0M167.7 286.7h0M166.0 266.9h0M183.8 272.5h0M176.3 261.3h0M164.0 274.3h0M160.0 266.9h0M162.7 260.9h0M159.7 266.8h0M164.4 274.0h0M166.6 254.3h0M178.3 285.2h0M171.1 277.6h0M160.7 256.2h0M176.3 253.6h0M159.5 257.0h0M165.2 255.1h0M167.5 276.8h0M177.6 286.9h0M181.0 262.7h0M176.3 271.9h0M181.8 289.3h0M182.4 269.9h0M184.5 273.7h0M184.0 253.0h0M167.7 304.8h0M159.4 281.1h0M180.6 284.0h0M174.8 274.4h0M167.3 268.4h0M162.7 256.7h0M179.6 269.4h0M172.3 286.9h0M176.5 268.9h0M158.2 260.4h0M166.9 257.5h0M163.8 275.6h0M160.6 253.2h0M162.3 276.7h0M164.5 306.3h0M163.4 260.6h0M175.4 304.9h0M169.1 271.2h0M157.8 276.9h0M158.5 271.7h0M168.0 252.1h0M168.9 254.5h0M163.8 269.1h0M182.3 271.6h0M163.8 260.1h0M183.6 266.2h0M157.4 255.4h0M171.7 260.5h0M173.3 270.0h0M159.6 261.6h0M158.2 263.9h0M167.3 256.1h0M165.7 257.6h0M173.3 256.8h0M178.9 270.4h0M160.0 256.0h0M173.3 260.7h0M179.9 252.8h0M178.7 278.6h0M165.2 281.2h0M183.0 257.3h0M179.9 270.5h0M173.3 266.3h0M157.4 253.8h0M163.7 256.8h0M162.3 261.2h0M182.2 265.8h0M172.3 252.6h0M173.8 262.9h0M160.4 259.4h0M177.9 290.1h0M172.7 269.5h0M162.1 276.2h0M180.5 265.7h0M168.8 257.9h0M180.8 252.7h0M162.6 256.7h0M171.2 275.9h0M161.6 279.2h0M170.1 262.9h0M165.0 256.4h0M156.5 257.4h0M159.7 258.9h0M172.5 259.4h0M173.0 271.5h0M165.2 277.3h0M164.9 269.6h0M172.2 268.2h0M180.0 257.2h0M179.5 260.3h0M174.9 269.8h0M162.8 260.2h0M174.0 258.5h0M158.2 293.7h0M183.8 251.6h0M157.9 253.6h0M172.1 271.5h0M183.2 286.4h0M183.4 255.7h0M164.7 261.4h0M174.3 255.8h0M159.8 251.7h0M157.1 260.4h0M157.8 251.8h0M162.0 259.4h0M178.0 283.8h0M177.2 259.8h0M170.7 253.9h0M164.3 257.3h0M161.1 252.4h0M173.7 289.6h0M162.5 255.0h0M158.6 272.2h0M171.4 255.1h0M182.3 251.6h0M169.6 258.4h0M179.3 293.9h0M164.5 257.4h0M174.5 260.6h0M176.5 257.8h0M173.9 272.3h0M164.3 258.1h0M171.1 296.6h0M158.8 263.5h0M162.2 267.4h0M162.3 263.3h0M170.1 261.1h0M182.9 279.3h0M158.7 263.6h0M176.2 262.5h0M176.0 258.9h0M163.6 255.6h0M174.3 275.7h0M162.8 260.2h0M158.2 251.5h0M174.5 287.1h0M163.9 252.8h0M181.9 263.9h0M171.5 255.9h0M167.7 266.6h0M181.5 293.6h0M169.0 257.6h0M172.7 253.7h0M168.1 273.2h0M163.6 268.9h0M161.5 290.7h0M163.0 276.9h0M182.2 306.8h0M172.5 253.3h0M176.3 301.4h0M164.2 280.0h0M173.9 276.1h0M163.7 277.5h0M156.8 271.6h0M180.9 253.6h0M174.5 273.2h0M172.2 287.0h0M161.5 260.0h0M163.2 261.2h0M178.6 297.9h0M164.7 254.2h0M171.8 267.9h0M159.1 278.5h0M181.8 251.5h0M171.3 256.4h0M162.2 266.8h0M167.5 261.2h0M166.8 258.9h0M184.0 252.1h0M183.9 266.5h0M179.9 303.4h0M170.9 283.0h0M182.0 257.5h0M157.2 273.7h0M157.6 253.6h0M166.6 253.1h0M179.3 262.2h0M165.7 278.7h0M161.5 305.1h0M176.3 289.0h0M165.3 256.5h0M183.5 299.1h0M160.1 252.1h0M178.7 256.4h0M168.3 264.7h0M183.3 256.1h0M174.7 255.2h0M176.8 278.2h0M159.8 255.6h0M163.2 280.6h0M173.1 256.1h0M163.8 257.2h0M183.6 258.7h0M167.7 278.2h0M178.4 284.6h0M164.5 253.5h0M157.5 255.6h0M156.7 264.8h0M161.5 268.0h0M179.0 271.6h0M178.2 279.8h0M178.3 256.2h0M161.0 262.8h0M178.7 252.4h0M159.8 278.3h0M179.9 273.9h0M159.4 255.4h0M184.8 261.3h0M175.9 262.7h0M181.0 281.4h0M175.0 278.0h0M166.7 272.1h0M158.1 253.7h0M184.7 256.7h0M172.5 271.0h0M156.6 273.8h0M164.0 259.1h0M184.1 255.1h0M167.5 266.2h0M166.0 276.4h0M163.9 281.8h0M178.0 256.4h0M171.1 260.9h0M157.6 261.7h0M179.0 287.9h0M166.8 255.0h0M162.2 300.1h0M162.6 264.7h0M184.7 268.3h0M173.8 274.5h0M161.4 296.3h0M180.1 271.7h0M182.0 278.4h0M175.9 254.2h0M162.6 260.2h0M181.3 271.3h0M183.3 265.6h0M178.3 284.8h0M178.7 266.1h0M166.9 291.5h0M167.5 264.1h0M179.4 257.6h0M168.5 273.8h0M162.3 266.7h0M178.0 278.3h0M168.0 273.0h0M172.4 262.1h0M178.3 270.3h0M157.6 287.6h0M177.5 256.2h0M176.5 272.7h0M156.9 266.6h0M164.9 293.3h0M176.2 297.8h0M177.4 273.4h0M184.3 270.9h0M172.4 268.0h0M183.4 254.0h0M181.2 256.2h0M179.4 285.9h0M183.5 280.7h0M181.9 267.2h0M170.0 253.6h0M166.7 256.1h0M163.6 253.7h0M167.0 254.9h0M168.2 266.8h0M162.5 276.8h0M169.6 274.3h0M163.9 290.4h0M168.2 261.6h0M157.8 256.9h0M179.0 259.7h0M172.3 301.6h0M165.8 256.2h0M170.1 261.2h0M179.4 258.2h0M176.3 277.5h0M163.2 252.5h0M183.0 266.9h0M159.6 270.3h0M166.0 254.6h0M169.8 271.2h0M175.7 277.9h0M160.4 274.8h0M160.1 270.2h0M184.3 263.4h0M169.0 272.3h0M174.9 267.1h0M165.1 277.1h0M166.4 270.0h0M171.8 281.3h0M179.3 271.6h0M171.3 264.5h0M173.1 265.8h0M158.3 256.1h0M159.3 284.9h0M177.9 267.1h0M184.6 256.8h0M184.3 252.7h0M173.3 257.4h0M156.4 269.8h0M161.7 262.8h0M161.9 271.3h0M184.9 265.1h0M170.4 272.8h0M170.1 253.3h0M169.9 275.1h0M157.7 252.0h0M168.3 270.2h0M167.3 263.5h0M159.8 253.1h0M167.0 261.6h0M179.8 292.9h0M179.7 260.3h0M162.3 296.2h0M169.7 256.2h0M177.3 263.7h0M177.8 260.5h0M157.3 270.0h0M178.5 254.8h0M172.6 257.1h0M158.2 264.3h0M164.9 257.2h0M156.9 252.3h0M167.0 261.8h0M174.9 286.4h0M171.2 274.6h0M165.9 272.5h0M157.5 266.7h0M158.9 253.3h0M180.4 258.5h0M164.4 262.1h0M167.8 276.8h0M164.6 278.8h0M169.7 271.3h0M158.3 255.0h0M181.9 268.4h0M160.8 252.0h0M162.7 274.2h0M176.7 268.3h0M160.7 280.5h0M161.5 264.7h0M167.7 265.3h0M169.1 272.7h0M161.5 274.4h0M162.0 254.9h0M158.2 275.8h0M177.4 264.7h0M176.7 257.7h0M180.9 261.0h0M162.5 287.4h0M178.1 266.9h0M160.7 254.6h0M165.9 259.8h0M167.1 265.7h0M179.2 283.7h0M173.2 277.2h0M157.7 264.9h0M158.7 280.7h0M181.9 276.7h0M165.6 256.2h0M183.2 255.0h0M180.6 266.6h0M179.8 288.3h0M179.7 260.0h0M175.0 255.8h0M172.1 279.2h0M167.2 270.6h0M165.3 260.9h0M175.1 255.3h0M173.8 297.8h0M162.0 265.3h0M174.2 254.1h0M184.5 295.5h0M179.6 253.0h0M177.0 280.4h0M165.7 271.1h0M177.3 252.1h0M159.4 274.5h0M161.3 251.6h0M157.0 251.6h0M178.9 257.8h0M159.0 251.8h0M167.7 262.3h0M181.1 266.5h0M184.9 265.2h0M171.0 273.7h0M177.2 251.9h0M166.1 258.3h0M156.7 267.9h0M156.9 257.8h0M169.5 289.7h0M167.9 253.1h0M175.5 254.6h0M170.4 268.4h0M176.3 275.6h0M166.5 261.7h0M156.6 274.5h0M165.9 257.4h0M164.0 273.1h0M162.7 284.5h0M184.4 257.9h0M158.6 264.3h0M163.1 280.7h0M171.9 254.3h0M168.6 269.4h0M167.3 270.6h0M159.2 251.8h0M175.4 258.5h0M179.6 251.9h0M159.3 268.8h0M174.0 276.2h0M165.9 252.9h0M169.7 289.5h0M175.3 264.5h0M180.3 268.7h0M165.8 263.3h0M166.4 277.7h0M173.5 261.1h0M164.5 270.2h0M179.8 302.9h0M180.1 268.2h0M161.9 264.7h0M178.0 259.8h0M172.5 257.6h0M162.8 256.9h0M173.7 295.0h0M165.7 294.4h0M179.2 264.5h0M160.6 261.4h0M167.3 258.1h0M169.8 284.2h0M175.0 259.0h0M169.3 290.5h0M174.1 265.7h0M158.3 264.4h0M167.0 253.6h0M163.4 279.5h0M160.7 264.7h0M179.8 286.7h0M169.1 268.9h0M166.2 271.2h0M157.5 253.3h0M184.8 274.9h0M168.8 254.8h0M166.5 287.3h0M181.7 297.6h0M161.5 253.9h0M180.4 289.5h0M166.3 275.2h0M181.8 266.1h0M168.4 269.1h0M176.9 281.6h0M182.3 253.4h0M169.9 263.3h0M167.8 264.9h0M175.8 261.8h0M182.6 259.6h0M180.5 264.8h0M183.9 295.1h0M161.6 273.7h0M179.5 263.0h0M173.2 256.2h0M176.6 278.3h0M168.2 299.7h0M167.8 264.7h0M175.1 251.9h0M171.9 259.7h0M176.3 272.8h0M159.7 278.3h0M181.7 284.4h0M182.2 252.6h0M172.1 253.9h0M178.8 253.3h0M168.6 255.0h0M161.5 280.0h0M168.2 259.0h0M176.6 264.1h0M163.6 300.0h0M165.5 262.5h0M158.1 276.0h0M183.9 270.3h0M166.5 254.3h0M156.4 262.9h0M171.5 257.9h0M159.3 254.5h0M178.8 266.1h0M161.2 279.4h0M179.7 253.7h0M169.2 281.5h0M172.3 261.7h0M161.6 258.3h0M173.0 272.0h0M180.2 255.8h0M174.3 252.5h0M166.8 267.8h0M163.0 267.5h0M161.7 294.8h0M167.5 273.1h0M182.3 279.8h0M157.1 280.6h0M156.7 253.3h0M168.3 273.8h0M184.1 298.7h0M170.4 252.6h0M160.0 288.2h0M158.0 261.9h0M165.0 271.7h0M168.0 282.3h0M175.2 267.8h0M172.3 285.6h0M158.9 270.9h0M178.6 256.7h0M177.4 262.1h0M182.9 267.8h0M174.7 257.4h0M160.3 257.1h0M163.3 265.4h0M167.8 253.3h0M169.8 266.2h0M179.7 276.9h0M157.4 256.9h0M173.8 257.5h0M166.6 263.2h0M160.4 282.2h0" stroke="#4a4a4a" stroke-width="1.0" stroke-linecap="round" fill="none" opacity="0.85"/>
<path d="M180.0 257.6h0M169.2 254.7h0M171.7 265.9h0M156.6 265.1h0M159.3 256.0h0M178.6 271.7h0M158.6 253.9h0M182.8 260.4h0M164.3 258.0h0M180.7 251.8h0M184.3 264.3h0M174.2 251.5h0M175.2 270.4h0M166.8 258.3h0M179.5 265.2h0M179.6 260.8h0M171.8 255.4h0M163.1 272.3h0M183.4 271.3h0M178.9 262.6h0M182.3 257.5h0M167.7 270.1h0M183.1 257.5h0M178.0 266.5h0M175.5 259.3h0M157.1 263.9h0M179.3 270.5h0M167.9 260.7h0M182.3 268.0h0M160.7 262.3h0M177.3 269.9h0M161.8 269.1h0M176.2 269.1h0M179.7 272.7h0M184.8 264.4h0M164.6 251.7h0M181.4 270.6h0M159.0 269.5h0M165.1 253.0h0M172.5 262.8h0M184.8 269.5h0M175.5 265.0h0M168.3 259.0h0M172.4 269.3h0M157.6 271.0h0M159.1 267.1h0M167.5 255.1h0M166.6 267.0h0M184.3 264.3h0M176.4 253.6h0M183.3 267.0h0M162.7 255.5h0M162.8 252.1h0M165.7 262.9h0M162.8 254.4h0M181.8 268.4h0M183.4 263.5h0M166.1 271.0h0M169.7 267.3h0M164.4 261.3h0M166.3 271.6h0M158.4 264.3h0M167.3 263.1h0M160.7 270.2h0M160.1 272.1h0M161.1 268.1h0M166.5 252.2h0M158.5 267.1h0M177.1 269.4h0M165.5 254.3h0" stroke="#ffffff" stroke-width="0.8" stroke-linecap="round" fill="none" opacity="0.6"/>
<text font-size="8.7" text-anchor="middle" fill="#222" stroke="#222" transform="translate(172,342) scale(1,1.1)" >HR</text>
<rect x="44.5" y="540.5" width="147.3" height="140.5" fill="none" stroke="#999" stroke-width="1" />
<line x1="42.9" y1="567.2" x2="44.5" y2="567.2" stroke="#999" stroke-width="0.8" />
<text font-size="8.7" text-anchor="end" fill="#222" stroke="#222" transform="translate(42.5,570.6) scale(1,1.1)" >1000</text>
<line x1="42.9" y1="608.3" x2="44.5" y2="608.3" stroke="#999" stroke-width="0.8" />
<text font-size="8.7" text-anchor="end" fill="#222" stroke="#222" transform="translate(42.5,611.7) scale(1,1.1)" >10</text>
<line x1="42.9" y1="650.4" x2="44.5" y2="650.4" stroke="#999" stroke-width="0.8" />
<text font-size="8.7" text-anchor="end" fill="#222" stroke="#222" transform="translate(42.5,653.8) scale(1,1.1)" >0.1</text>
<text x="0" y="0" font-size="8.8" text-anchor="middle" fill="#222" stroke="#222" transform="translate(24.1,610.8) rotate(-90)">Relative content</text>
<defs><linearGradient id="vg7" x1="0" x2="0" y1="0" y2="1"><stop offset="0.000" stop-color="#1eaa82" stop-opacity="0.00"/><stop offset="0.530" stop-color="#1eaa82" stop-opacity="0.00"/><stop offset="0.623" stop-color="#1eaa82" stop-opacity="0.25"/><stop offset="1.000" stop-color="#1eaa82" stop-opacity="0.55"/></linearGradient></defs>
<rect x="58.8" y="554.2" width="27.6" height="44.6" fill="url(#vg7)"/>
<defs><linearGradient id="vg8" x1="0" x2="0" y1="0" y2="1"><stop offset="0.000" stop-color="#505050" stop-opacity="0.50"/><stop offset="0.366" stop-color="#555555" stop-opacity="0.38"/><stop offset="0.551" stop-color="#707070" stop-opacity="0.10"/><stop offset="1.000" stop-color="#808080" stop-opacity="0.00"/></linearGradient></defs>
<rect x="58.6" y="598.8" width="28" height="55.2" fill="url(#vg8)"/>
<path d="M74.8 575.2h0M76.6 577.0h0M80.9 573.0h0M62.2 575.0h0M65.1 573.0h0M64.6 574.3h0M68.8 575.6h0M81.2 576.6h0M84.0 576.8h0M66.8 574.4h0M65.4 576.1h0M67.9 576.0h0M63.5 572.7h0M72.9 574.2h0M62.8 576.8h0M85.6 575.8h0M64.1 573.8h0M65.0 573.2h0M74.1 573.4h0M72.7 573.3h0M61.8 576.9h0M75.6 576.5h0M72.6 575.9h0M69.3 576.8h0M80.3 574.9h0M71.0 576.2h0M72.9 573.7h0M68.5 572.8h0M67.2 575.5h0M61.4 575.0h0M60.6 575.4h0M65.0 575.3h0M80.8 573.1h0M67.5 574.4h0M63.7 575.4h0M75.9 576.4h0M64.4 576.6h0M75.8 574.4h0M82.7 574.0h0M66.6 575.0h0M80.2 576.7h0M70.6 573.2h0" stroke="#1eaa82" stroke-width="2.4" stroke-linecap="round" fill="none" opacity="1.0"/>
<path d="M78.2 578.4h0M85.7 580.1h0M69.7 581.6h0M63.3 582.1h0M85.8 581.3h0M69.4 580.6h0M60.0 578.1h0M78.9 579.5h0M74.9 581.5h0M67.5 579.7h0M73.0 579.5h0M82.3 578.1h0M67.8 582.6h0M80.0 581.0h0M83.9 582.0h0M84.8 579.3h0M59.7 578.4h0M65.8 581.0h0M79.6 582.4h0M72.6 581.2h0M68.6 580.1h0M69.1 577.8h0M76.4 580.6h0M78.6 578.2h0M62.4 577.7h0M60.7 581.8h0M63.7 582.2h0M77.8 579.7h0M65.8 579.1h0M79.6 581.4h0M81.2 577.9h0M70.5 581.8h0M84.0 582.5h0M84.9 579.6h0M65.4 578.7h0M78.2 578.8h0M84.0 579.2h0M62.8 581.8h0M65.9 579.9h0M63.2 580.9h0M66.1 581.6h0M69.7 579.9h0M67.7 577.7h0M84.4 580.7h0M81.7 579.0h0M79.6 580.6h0M76.7 581.9h0M74.8 578.6h0M59.8 581.6h0M66.5 581.2h0M63.8 579.7h0M70.8 582.6h0M79.7 579.4h0M68.3 577.8h0M81.8 577.8h0M77.0 580.0h0M64.9 582.7h0M84.5 578.3h0M73.6 582.0h0M84.3 582.4h0M70.6 582.0h0M62.1 581.4h0M62.6 580.2h0M75.0 577.8h0M66.2 580.5h0M82.9 577.6h0M81.9 579.6h0M74.7 582.6h0M65.0 579.5h0M66.1 578.5h0M79.9 579.6h0" stroke="#1eaa82" stroke-width="2.2" stroke-linecap="round" fill="none" opacity="1.0"/>
<path d="M61.5 584.3h0M75.6 586.6h0M77.9 584.7h0M67.7 586.0h0M75.4 587.2h0M74.4 586.2h0M82.1 583.6h0M78.5 583.7h0M60.6 583.1h0M69.2 582.9h0M77.3 585.1h0M70.9 585.6h0M67.5 585.0h0M63.0 583.2h0M67.6 582.8h0M78.7 584.1h0M62.5 586.4h0M77.6 588.0h0M84.4 585.8h0M63.9 586.1h0M66.1 585.8h0M77.2 584.6h0M72.9 585.9h0M84.5 586.9h0M70.4 585.7h0M80.8 585.9h0M67.9 586.8h0M63.6 585.0h0M69.4 587.8h0M64.4 586.0h0M77.7 586.2h0M71.5 584.1h0M81.2 586.2h0M62.7 586.1h0M85.7 585.3h0M65.3 588.1h0M62.8 583.7h0M68.3 585.2h0M71.4 588.1h0M71.8 583.7h0M64.1 587.4h0M65.2 585.0h0M71.4 586.0h0M60.7 584.8h0M72.6 583.5h0M75.3 585.3h0M73.3 587.9h0M65.5 583.0h0M82.2 586.3h0M84.2 586.0h0M68.5 585.0h0M80.9 588.1h0M69.2 587.4h0M68.4 587.0h0M71.0 584.9h0M70.4 582.9h0M78.4 586.2h0M79.1 587.5h0M71.0 585.9h0M71.1 583.1h0M78.2 583.2h0M72.1 587.9h0M63.7 584.3h0M76.7 583.2h0M70.8 586.2h0M76.6 587.3h0M81.0 584.2h0M74.1 583.3h0M68.7 584.8h0M67.0 588.1h0M75.9 584.2h0M70.7 587.5h0M85.6 585.3h0M75.6 588.2h0M66.5 586.5h0M66.5 587.0h0M63.7 584.5h0M79.0 583.2h0M74.1 586.1h0M73.1 587.0h0M75.2 583.3h0M75.2 586.4h0M79.9 582.9h0M73.0 586.2h0M83.3 583.3h0M83.0 586.0h0M80.8 587.5h0M68.7 584.8h0M61.7 587.7h0M69.5 587.1h0M67.5 587.4h0M79.6 584.6h0M76.0 586.1h0M66.9 583.3h0M84.2 587.2h0M63.9 585.3h0M63.1 585.3h0M71.4 585.0h0M64.8 587.8h0M69.9 584.0h0M82.5 585.2h0" stroke="#1eaa82" stroke-width="2.0" stroke-linecap="round" fill="none" opacity="1.0"/>
<path d="M59.2 589.9h0M67.6 592.4h0M63.6 593.5h0M85.4 590.7h0M75.1 591.5h0M62.3 589.4h0M65.3 592.4h0M70.1 592.0h0M77.6 591.1h0M61.9 589.8h0M77.0 592.6h0M81.0 593.0h0M83.5 594.1h0M80.5 591.5h0M78.8 588.7h0M77.0 591.2h0M65.6 592.0h0M83.6 589.6h0M66.7 591.5h0M81.8 594.3h0M59.3 591.2h0M75.4 594.4h0M80.2 593.2h0M80.4 590.6h0M66.1 590.9h0M75.3 592.3h0M63.7 593.7h0M64.1 588.4h0M79.9 592.0h0M81.3 593.8h0M70.3 591.9h0M62.7 589.1h0M60.6 588.9h0M81.9 591.4h0M74.7 591.9h0M61.0 593.4h0M64.3 588.7h0M82.7 590.4h0M69.0 588.7h0M74.2 588.3h0M60.6 592.5h0M82.6 589.6h0M63.7 592.2h0M73.3 591.7h0M75.7 592.4h0M75.8 591.2h0M70.8 591.8h0M67.1 592.2h0M72.9 594.2h0M60.9 592.8h0M85.1 590.9h0M79.1 591.0h0M82.6 589.3h0M78.1 591.3h0M80.7 591.2h0M75.1 591.6h0M59.5 589.6h0M78.0 591.6h0M60.3 589.4h0M72.4 593.7h0M83.1 589.1h0M79.6 590.5h0M74.8 592.3h0M68.3 590.4h0M72.3 592.9h0M76.2 590.8h0M59.8 591.8h0M79.2 592.6h0M62.1 588.5h0M78.4 591.5h0M84.3 589.4h0M67.1 588.9h0M66.8 589.8h0M62.4 592.5h0M64.2 590.2h0M75.4 592.4h0M82.3 591.9h0M84.1 590.0h0M62.0 593.4h0M85.9 592.5h0M66.5 589.6h0M73.8 592.3h0M79.3 592.9h0M64.7 592.7h0M81.1 592.2h0M70.1 588.9h0M77.7 591.9h0M78.8 591.4h0M78.8 593.9h0M64.3 592.8h0M63.8 590.8h0M64.6 590.8h0M80.0 590.1h0M80.6 591.9h0M65.8 593.1h0M82.7 592.5h0M63.2 589.8h0M83.7 593.4h0M65.0 592.4h0M70.0 591.3h0M71.0 593.2h0M74.0 590.2h0M69.5 594.6h0M72.1 591.8h0M85.6 590.9h0M66.1 593.9h0M69.0 589.8h0M82.3 594.2h0M74.7 590.3h0M65.7 590.6h0M71.6 588.4h0M81.7 594.0h0M79.7 593.7h0M65.6 589.6h0M65.7 593.9h0M78.1 589.0h0M84.1 593.2h0M78.6 594.1h0M67.9 594.0h0M69.7 594.6h0M78.9 589.1h0M77.5 593.1h0M77.7 590.4h0M73.6 594.1h0M65.6 590.6h0M63.7 591.0h0M65.3 591.1h0M79.8 590.2h0M70.9 593.7h0M60.4 593.8h0M80.2 593.0h0M80.5 593.5h0M75.1 590.8h0M83.2 592.9h0M70.7 594.4h0M82.9 592.1h0M84.2 591.8h0M61.4 592.2h0M81.6 591.4h0M76.2 588.6h0M59.2 591.7h0M79.1 589.5h0M59.6 594.3h0M63.7 589.2h0M67.3 591.3h0M62.1 590.6h0M80.0 592.4h0M81.6 592.4h0M79.5 592.8h0M65.2 591.0h0M60.0 591.3h0M67.5 589.8h0" stroke="#1eaa82" stroke-width="1.8" stroke-linecap="round" fill="none" opacity="1.0"/>
<path d="M70.4 598.6h0M73.3 598.3h0M77.8 596.0h0M70.6 596.8h0M73.3 598.5h0M85.3 597.6h0M78.7 598.2h0M65.0 596.2h0M68.4 594.8h0M61.5 597.9h0M69.4 596.9h0M62.5 598.2h0M85.8 596.6h0M59.1 595.0h0M72.1 597.4h0M69.4 596.4h0M76.5 597.2h0M85.1 597.8h0M83.8 596.7h0M59.3 595.2h0M74.3 594.6h0M67.2 597.3h0M83.0 598.3h0M84.0 594.6h0M69.9 596.3h0M72.8 598.3h0M81.8 594.9h0M71.2 598.5h0M73.6 597.4h0M61.8 595.6h0M74.7 598.3h0M75.9 598.2h0M74.0 598.6h0M69.2 596.5h0M73.9 596.4h0M69.8 598.2h0M72.8 597.6h0M62.5 595.7h0M84.3 595.5h0M82.1 594.9h0M71.5 596.6h0M79.5 597.8h0M73.4 597.3h0M82.7 598.7h0M73.0 598.7h0M80.6 598.6h0M83.8 598.1h0M66.1 597.7h0M77.7 597.1h0M77.9 594.7h0M77.1 595.8h0M65.3 598.7h0M71.7 598.3h0M73.4 598.5h0M61.1 595.3h0M61.8 595.8h0M79.2 594.9h0M60.8 596.6h0M77.6 596.7h0M67.9 598.6h0M76.9 596.0h0M77.3 595.2h0M64.3 595.0h0M79.9 597.6h0M76.7 594.7h0M79.9 598.7h0M65.6 597.9h0M72.1 598.2h0M81.0 597.9h0M84.2 597.9h0M81.0 596.0h0M82.8 595.0h0M76.3 596.3h0M68.6 595.9h0M64.5 595.4h0M60.2 597.2h0M83.2 595.7h0M60.3 597.4h0M65.9 597.2h0M81.5 597.1h0M71.8 595.2h0M76.2 596.5h0M82.8 597.4h0M81.3 597.7h0M70.9 595.0h0M67.4 595.7h0M68.0 598.5h0M78.4 595.5h0M64.5 596.2h0M74.1 597.5h0M60.7 596.3h0M75.1 594.8h0M73.6 597.9h0M63.2 596.7h0M61.3 596.8h0M59.2 596.4h0M73.9 597.9h0M77.7 597.5h0M82.8 598.2h0M76.8 597.0h0M66.7 597.2h0M59.0 597.5h0M59.6 597.1h0M85.6 597.2h0M81.5 598.5h0M75.4 598.2h0M59.1 595.9h0M70.5 597.5h0M83.7 596.9h0M83.3 598.0h0M60.5 596.5h0M67.0 596.2h0M78.4 596.4h0M66.2 596.7h0M69.8 597.0h0M84.8 596.4h0M68.6 594.8h0M79.2 595.4h0M60.3 596.2h0M67.8 597.2h0M83.4 595.9h0M78.2 597.7h0M61.8 596.9h0M75.3 598.8h0M71.2 596.9h0M85.7 598.5h0M84.2 598.6h0M85.7 598.1h0M76.6 594.8h0M68.6 595.4h0M83.6 596.5h0M70.6 598.0h0M64.7 595.5h0" stroke="#1eaa82" stroke-width="1.6" stroke-linecap="round" fill="none" opacity="1.0"/>
<path d="M81.0 569.2h0M74.2 568.5h0M78.1 572.1h0M66.1 572.0h0M66.4 571.6h0M61.0 569.3h0M77.9 569.1h0M82.8 571.9h0M74.8 568.5h0M70.7 571.2h0M66.5 568.6h0M61.2 572.4h0M77.7 571.3h0M85.1 572.3h0M80.4 568.0h0M74.9 570.6h0" stroke="#1eaa82" stroke-width="2.6" stroke-linecap="round" fill="none" opacity="1.0"/>
<path d="M59.9 557.5h0M81.0 557.8h0" stroke="#1eaa82" stroke-width="3.2" stroke-linecap="round" fill="none" opacity="1.0"/>
<path d="M80.3 566.2h0M67.8 566.6h0M62.5 563.2h0M80.8 566.1h0M66.8 565.0h0M72.1 565.3h0M80.0 564.1h0M71.2 567.2h0M73.7 566.8h0M64.0 566.8h0M63.2 565.2h0M76.1 567.6h0" stroke="#1eaa82" stroke-width="2.8" stroke-linecap="round" fill="none" opacity="1.0"/>
<path d="M70.6 559.3h0M65.1 559.4h0M66.9 561.4h0M62.4 560.5h0M70.3 558.9h0M69.6 561.3h0M73.3 562.8h0M77.1 562.6h0M80.4 562.1h0M77.3 560.4h0M73.5 561.5h0" stroke="#1eaa82" stroke-width="3.0" stroke-linecap="round" fill="none" opacity="1.0"/>
<path d="M64.1 592.0h0M70.6 597.7h0M61.0 583.3h0M85.0 594.8h0M79.5 592.8h0M74.0 585.0h0M79.9 594.2h0M76.7 594.8h0M62.4 596.2h0M62.4 586.3h0M65.8 592.6h0M70.9 587.5h0M66.5 589.3h0M64.9 592.2h0M64.2 594.7h0M79.7 591.0h0M61.9 595.1h0M65.9 585.7h0M61.0 596.6h0M76.8 596.9h0M77.9 582.2h0M85.9 583.5h0M82.1 583.6h0M76.9 584.2h0M84.1 598.2h0M82.6 587.6h0M76.5 592.8h0M79.3 593.6h0M63.6 596.7h0M65.2 596.3h0M84.4 585.1h0M60.6 586.7h0M64.3 586.1h0M65.3 594.7h0M60.8 597.6h0M60.2 583.3h0M72.9 597.8h0M84.5 593.6h0M83.7 590.7h0M70.3 593.7h0M64.2 598.4h0M62.0 594.0h0M78.7 589.7h0M76.1 591.0h0M76.2 589.2h0M69.2 590.4h0M82.0 587.2h0M65.8 588.3h0M70.6 598.8h0M69.2 588.2h0M59.3 588.1h0M77.4 598.1h0M81.0 597.1h0M60.4 590.3h0M66.9 593.2h0M76.0 595.5h0M70.6 587.2h0M61.6 593.4h0M79.7 594.1h0M65.2 591.9h0M70.0 586.9h0M71.5 594.4h0M82.2 584.1h0M80.4 587.9h0M77.0 587.9h0M76.2 591.1h0M65.3 590.3h0M63.7 583.6h0M75.4 589.6h0M62.0 591.2h0" stroke="#ffffff" stroke-width="0.9" stroke-linecap="round" fill="none" opacity="0.7"/>
<path d="M85.9 609.2h0M63.7 624.3h0M61.3 623.9h0M77.1 658.9h0M75.8 615.9h0M66.8 600.1h0M63.3 611.2h0M78.9 599.8h0M74.6 605.2h0M78.4 608.0h0M82.6 607.2h0M75.0 605.7h0M86.8 615.9h0M71.2 621.8h0M83.7 618.1h0M82.0 620.7h0M82.3 607.8h0M63.3 613.4h0M75.3 635.1h0M66.6 610.7h0M86.9 624.2h0M60.6 603.5h0M67.1 626.1h0M72.5 612.2h0M72.8 617.7h0M68.0 618.9h0M68.9 637.0h0M86.2 621.4h0M58.5 615.6h0M77.7 639.8h0M83.9 611.0h0M65.0 608.9h0M81.7 617.8h0M69.3 606.7h0M83.8 602.4h0M73.5 614.4h0M62.1 615.7h0M76.2 599.7h0M70.5 602.6h0M59.9 607.4h0M84.9 599.6h0M62.2 619.4h0M77.5 618.7h0M71.0 621.1h0M58.7 608.7h0M61.2 612.2h0M74.8 601.1h0M85.0 632.4h0M64.1 618.2h0M70.0 612.9h0M79.6 614.6h0M76.1 605.3h0M81.8 620.0h0M58.6 604.9h0M59.4 646.1h0M68.8 631.1h0M75.1 598.8h0M60.4 606.7h0M74.1 602.0h0M69.2 624.2h0M64.6 602.4h0M70.4 607.6h0M59.4 601.8h0M76.6 609.2h0M61.9 602.4h0M68.4 633.0h0M58.6 616.7h0M85.7 632.3h0M82.2 624.6h0M73.7 625.8h0M63.8 622.1h0M60.9 605.0h0M73.1 611.6h0M62.2 623.0h0M66.5 601.1h0M71.1 601.7h0M66.2 603.4h0M81.5 621.3h0M70.1 602.6h0M63.9 610.1h0M78.5 605.4h0M76.2 641.9h0M60.7 620.6h0M67.7 628.7h0M58.7 612.9h0M83.0 628.1h0M61.0 599.9h0M81.9 605.6h0M74.4 620.9h0M69.8 624.6h0M75.8 612.0h0M78.6 601.5h0M59.2 631.5h0M69.5 608.3h0M68.2 618.3h0M64.8 602.0h0M61.4 602.3h0M73.4 653.8h0M80.8 602.0h0M60.6 616.3h0M64.8 610.6h0M69.3 615.9h0M86.3 649.0h0M72.2 617.2h0M62.6 617.0h0M65.5 639.7h0M61.0 610.3h0M64.5 601.0h0M79.2 629.0h0M63.1 600.4h0M64.7 629.0h0M68.5 610.6h0M79.3 647.6h0M81.9 618.9h0M76.1 610.8h0M78.3 627.0h0M64.9 651.7h0M82.5 601.1h0M66.3 614.0h0M65.1 610.3h0M75.3 598.9h0M69.8 625.5h0M79.9 625.7h0M60.9 614.2h0M60.4 614.6h0M81.1 605.8h0M72.1 607.7h0M75.4 610.6h0M64.1 629.5h0M59.4 599.2h0M64.9 623.2h0M59.3 638.8h0M76.2 606.6h0M78.4 602.4h0M87.0 623.1h0M60.5 614.7h0M70.1 623.2h0M84.1 620.1h0M63.7 649.4h0M73.9 621.0h0M81.5 618.4h0M85.8 616.5h0M60.2 611.2h0M86.2 645.5h0M61.3 617.6h0M83.3 617.0h0M62.9 611.7h0M72.8 617.1h0M82.6 630.8h0M69.5 644.1h0M60.7 616.6h0M63.6 618.9h0M77.7 600.2h0M64.9 609.4h0M71.9 615.3h0M69.6 616.5h0M61.0 608.7h0M78.7 604.8h0M83.1 622.0h0M84.9 606.9h0M62.8 603.3h0M65.9 629.9h0M83.2 617.2h0M65.7 637.2h0M80.0 620.2h0M74.4 619.3h0M82.6 621.8h0M84.2 599.2h0M70.8 611.1h0M65.2 616.2h0M61.6 608.2h0M64.0 602.4h0M74.2 621.2h0M75.8 617.5h0M62.6 609.2h0M85.6 604.8h0M69.3 617.1h0M60.7 601.6h0M60.6 623.6h0M73.6 626.2h0M60.1 607.5h0M74.2 600.6h0M67.5 624.2h0M63.0 653.3h0M67.1 603.0h0M69.8 620.4h0M81.2 612.8h0M59.4 636.9h0M85.9 639.5h0M75.4 605.2h0M67.5 620.1h0M83.1 618.5h0M81.7 613.6h0M83.1 600.5h0M86.7 604.1h0M58.9 615.5h0M80.2 613.5h0M81.7 619.0h0M60.8 610.8h0M80.3 612.0h0M83.8 621.3h0M64.7 599.7h0M70.1 605.1h0M75.6 625.0h0M70.3 652.6h0M59.2 630.9h0M84.6 645.9h0M65.2 635.5h0M71.1 598.8h0M74.3 599.8h0M71.5 601.4h0M84.1 599.0h0M81.9 605.7h0M73.5 613.9h0M65.4 599.5h0M61.3 613.8h0M85.8 602.2h0M58.7 620.8h0M80.9 604.4h0M75.6 612.9h0M79.9 621.3h0M75.2 608.0h0M64.7 616.9h0M58.3 600.1h0M76.2 607.1h0M71.2 633.1h0M74.0 618.9h0M81.8 642.8h0M64.8 622.3h0M60.1 600.2h0M68.0 618.5h0M84.9 608.3h0M67.3 640.3h0M76.8 612.3h0M74.2 623.3h0M59.2 610.6h0M72.9 618.3h0M77.1 618.9h0M85.6 620.5h0M79.7 616.7h0M63.7 610.0h0M73.8 619.1h0M66.9 605.5h0M59.9 619.5h0M67.1 645.8h0M77.5 643.9h0M86.8 613.8h0M67.2 626.1h0M58.7 619.3h0M70.3 601.5h0M58.9 610.7h0M61.2 626.5h0M86.8 617.6h0M79.3 621.9h0M77.0 605.0h0M64.5 618.9h0M62.8 617.7h0M73.2 623.6h0M59.8 621.9h0M65.0 600.4h0M68.2 609.4h0M75.9 625.5h0M75.7 604.3h0M86.5 602.8h0M86.5 600.4h0M61.5 628.5h0M83.3 604.1h0M59.2 622.6h0M75.6 614.8h0M65.7 622.9h0M71.3 641.3h0M74.2 634.5h0M76.6 621.7h0M80.4 607.7h0M86.5 613.0h0M74.5 602.7h0M60.3 599.3h0M67.0 605.5h0M83.6 617.9h0M81.8 612.9h0M85.1 604.5h0M64.4 609.7h0M71.4 608.5h0M80.7 599.4h0M67.5 647.6h0M72.7 618.3h0M63.8 636.9h0M68.4 626.1h0M65.2 623.3h0M86.6 613.2h0M66.8 609.7h0M62.5 603.1h0M75.0 620.4h0M73.9 616.3h0M69.4 611.2h0M80.2 606.8h0M75.0 599.9h0M69.5 603.7h0M82.5 653.8h0M59.1 625.8h0M79.1 614.3h0M64.7 607.1h0M69.6 613.7h0M85.0 624.1h0M80.1 633.5h0M85.8 610.1h0M85.4 610.2h0M73.0 623.9h0M64.7 626.1h0M76.9 598.8h0M58.8 602.0h0M86.3 637.4h0M61.2 600.1h0M69.1 609.8h0M75.1 638.3h0M70.5 624.3h0M82.3 644.3h0M58.2 620.8h0M62.0 618.3h0M84.9 620.7h0M75.3 613.4h0M73.5 611.3h0M80.3 632.9h0M80.5 633.5h0M81.6 618.1h0M67.8 603.4h0M70.1 605.4h0M64.6 615.4h0M61.0 612.4h0M60.8 616.7h0M70.6 617.2h0M63.2 638.0h0M81.7 624.1h0M82.1 608.9h0M61.8 611.3h0M74.2 619.8h0M83.2 599.3h0M85.3 603.6h0M60.7 605.2h0M71.1 598.8h0M84.9 599.0h0M59.5 605.6h0M74.4 602.7h0M81.8 606.6h0M62.3 600.0h0M71.6 616.9h0M79.4 636.0h0M60.0 635.3h0M70.5 609.2h0M64.4 605.8h0M70.3 649.8h0M86.2 626.3h0M63.7 606.1h0M66.3 602.1h0M64.3 607.0h0M77.2 603.0h0M81.5 608.7h0M84.7 605.1h0M62.3 626.6h0M81.3 621.7h0M78.0 620.6h0M85.0 626.2h0M62.8 643.8h0M72.4 602.8h0M62.4 600.9h0M79.3 619.6h0M77.7 606.4h0M85.6 629.1h0M76.7 607.0h0M77.1 613.6h0M67.8 655.8h0M85.7 607.4h0M63.3 615.1h0M73.3 605.5h0M78.4 617.3h0M82.6 610.3h0M69.3 654.6h0M86.2 633.2h0M76.7 644.7h0M79.8 609.0h0M79.4 612.2h0M79.0 628.2h0M77.2 617.0h0M79.0 612.4h0M67.1 630.2h0M64.0 602.6h0M77.7 624.7h0M79.4 650.3h0M71.3 618.6h0M76.6 610.3h0M69.1 598.9h0M60.5 612.0h0M70.1 601.7h0M70.6 603.5h0M86.2 601.4h0M71.7 620.8h0M84.4 616.0h0M79.2 646.8h0M85.9 605.1h0M83.9 607.9h0M66.3 603.9h0M70.3 609.2h0M60.6 621.9h0M80.8 640.7h0M73.6 601.0h0M68.1 647.1h0M63.9 621.0h0M84.2 605.3h0M71.9 605.3h0M83.1 612.7h0M86.0 650.4h0M73.7 606.5h0M72.5 602.4h0M64.4 602.9h0M82.2 605.7h0M61.8 606.0h0M64.2 621.8h0M68.6 649.6h0M61.2 626.7h0M71.7 600.3h0M82.2 643.9h0M73.8 603.3h0M85.7 618.0h0M70.3 611.2h0M63.5 603.4h0M62.4 604.2h0M71.8 617.0h0M63.5 606.4h0M61.5 610.4h0M83.2 623.5h0M71.9 639.8h0M59.8 616.6h0M71.3 628.5h0M69.8 599.9h0M76.3 638.7h0M79.6 616.4h0M62.6 638.4h0M84.0 616.1h0M82.9 618.7h0M71.9 615.4h0M72.2 598.9h0M60.8 618.6h0M82.6 632.8h0M79.4 610.4h0M69.1 647.1h0M66.8 601.6h0M58.3 618.7h0M66.5 604.0h0M62.0 618.3h0M61.5 608.5h0M86.4 639.4h0M67.5 616.5h0M69.1 615.8h0M82.5 608.1h0M63.6 603.9h0M61.0 600.8h0M83.3 610.5h0M71.4 598.9h0M68.6 618.9h0M76.7 617.7h0M78.3 623.8h0M70.3 599.3h0M65.4 619.3h0M72.4 607.7h0M71.8 641.6h0M70.8 603.6h0M60.0 611.4h0M65.5 615.3h0M64.1 599.2h0M68.0 620.2h0M60.3 606.7h0M68.6 625.1h0M62.1 601.4h0M73.0 615.5h0M77.6 601.2h0M59.5 607.3h0M69.0 647.4h0M68.8 604.9h0M75.2 636.2h0M61.6 601.3h0M68.4 628.1h0M78.7 626.6h0M84.2 603.8h0M85.2 606.9h0M59.1 623.0h0M83.9 607.7h0M71.0 611.9h0M73.6 625.5h0M84.1 603.4h0M61.5 615.7h0M66.0 633.5h0M79.2 615.0h0M81.2 600.7h0M81.7 600.3h0M84.9 608.3h0M73.5 613.4h0M62.2 637.2h0M75.7 604.0h0M69.3 618.8h0M60.1 603.7h0M58.9 604.0h0M68.2 609.9h0M59.0 619.6h0M85.5 615.6h0M72.6 608.3h0M68.2 621.7h0M86.0 629.4h0M82.0 610.2h0M84.7 613.4h0M71.9 607.7h0M66.7 601.5h0M83.2 604.2h0M67.7 604.1h0M76.8 606.7h0M75.1 606.2h0M80.7 636.5h0M67.8 599.9h0M69.3 655.1h0M75.8 619.7h0M65.1 611.5h0M60.3 599.8h0M84.3 635.6h0M73.2 615.1h0M74.7 614.0h0M73.4 599.8h0M77.4 620.7h0M69.4 611.8h0M78.5 615.3h0M72.6 600.5h0M62.3 599.4h0M81.8 632.0h0M64.6 619.5h0M79.1 635.6h0M59.2 599.3h0M73.6 599.3h0M66.6 616.8h0M71.8 601.8h0M70.4 621.5h0M70.5 611.6h0M85.5 615.2h0M68.5 605.3h0M81.0 627.8h0M83.8 602.7h0M74.3 637.0h0M65.3 635.0h0M79.3 610.1h0M80.7 622.8h0M69.2 600.3h0M79.3 611.3h0M79.7 604.7h0M82.8 607.8h0M82.2 612.9h0M58.2 604.6h0M67.8 626.0h0M65.3 617.6h0M61.4 649.8h0M66.7 619.4h0M62.4 614.5h0M58.9 606.9h0M71.3 603.4h0M63.6 601.5h0M74.3 608.5h0M83.6 610.5h0M69.4 628.8h0M84.4 623.2h0M70.4 600.5h0M64.9 606.4h0M58.9 614.9h0M60.1 604.4h0M69.5 600.0h0M77.9 655.9h0M72.4 600.4h0M60.0 601.0h0M73.3 631.1h0M85.6 652.1h0M82.3 636.1h0M78.8 603.7h0M67.3 623.8h0M83.5 607.8h0M80.0 623.6h0M76.9 615.4h0M77.0 637.8h0M81.4 621.8h0M73.9 619.4h0M68.4 626.7h0M81.4 611.0h0M61.8 605.7h0M74.8 613.5h0M82.5 601.5h0M80.5 646.7h0M64.0 616.0h0M70.1 601.9h0M76.3 610.1h0M60.5 619.1h0M68.5 606.1h0M77.5 610.2h0M71.6 616.5h0M60.0 603.7h0M82.3 635.2h0M72.7 606.0h0M75.9 602.6h0M63.1 601.9h0M63.5 630.1h0M60.1 600.5h0M60.1 599.6h0M74.0 624.6h0M84.4 615.6h0M85.8 611.5h0M85.4 647.0h0M63.4 603.1h0M58.9 624.4h0M58.3 609.7h0M81.0 635.1h0M66.8 599.8h0M77.6 601.7h0M81.5 601.8h0M81.7 604.3h0M71.6 622.6h0M83.9 600.2h0M84.2 604.6h0M70.0 624.4h0M79.5 609.3h0M69.8 626.7h0M58.6 626.0h0M64.5 619.7h0M67.0 607.2h0M67.1 606.0h0M71.4 615.7h0M73.0 645.0h0M83.3 623.9h0M75.1 617.5h0M62.5 630.2h0M66.7 606.0h0M73.2 616.4h0M78.5 619.4h0M80.2 620.2h0M76.0 611.1h0M71.9 598.9h0M62.3 651.9h0M70.8 598.9h0M79.6 604.2h0M78.9 604.3h0M66.6 608.4h0M71.6 622.2h0M65.8 606.0h0M69.8 605.1h0M86.5 633.8h0M77.8 610.8h0M74.1 626.7h0M67.3 624.7h0M59.4 636.7h0M76.8 621.7h0M83.2 604.5h0M86.8 612.7h0M61.3 612.1h0M62.1 612.2h0M70.5 600.2h0M81.5 600.3h0M65.2 606.8h0M82.4 611.9h0M72.7 620.6h0M70.4 610.7h0M76.7 611.6h0M59.5 619.5h0M76.8 616.1h0M84.1 609.5h0M72.0 632.7h0M66.5 603.8h0M76.3 606.6h0M59.1 639.8h0M63.3 628.6h0M79.9 609.9h0M78.7 614.5h0M80.2 630.4h0M73.1 605.1h0M71.5 655.8h0M83.2 601.4h0M73.3 610.5h0M80.0 659.0h0M70.9 602.0h0M81.1 615.1h0M71.5 635.2h0M67.1 634.4h0M80.4 617.4h0M65.4 618.6h0M59.4 612.8h0M63.4 601.1h0M63.0 603.7h0M66.8 612.0h0M68.8 620.7h0M85.2 608.2h0M73.1 638.3h0M81.2 621.4h0M64.8 639.8h0M71.7 612.5h0M62.0 616.3h0M86.6 614.0h0M61.6 612.0h0M86.0 622.1h0M59.3 604.1h0M84.7 615.7h0M81.1 601.4h0M72.9 620.4h0M58.6 619.7h0M76.1 609.1h0M80.2 613.9h0M84.6 606.5h0M84.9 610.1h0M82.3 605.9h0M84.8 604.7h0M75.5 607.9h0M75.3 635.7h0M62.2 615.8h0M69.3 624.4h0M74.6 614.5h0M76.1 602.7h0M65.6 601.6h0M74.8 614.1h0M73.0 613.5h0M69.6 612.8h0M59.3 600.1h0M86.9 620.5h0M76.9 633.4h0M79.8 614.6h0M63.5 610.6h0M63.9 644.2h0M78.3 600.2h0M79.5 604.0h0M81.2 601.4h0M65.0 626.5h0M70.8 628.8h0M60.4 608.8h0M64.1 624.1h0M61.6 601.6h0M81.6 608.1h0M63.7 611.4h0M60.6 598.8h0M60.7 622.7h0M60.3 616.7h0M85.7 605.2h0M75.2 626.0h0M67.1 613.5h0M68.1 599.8h0M68.4 619.3h0M62.4 599.0h0M58.4 613.9h0M58.5 623.1h0M82.8 610.8h0M59.5 622.9h0M72.6 622.3h0M66.4 623.2h0M72.9 606.6h0M71.0 603.3h0M67.6 614.2h0M62.5 617.4h0M70.2 635.5h0M79.8 639.7h0M69.7 612.1h0M72.7 612.3h0M72.5 605.6h0M68.7 635.5h0M79.8 615.9h0M71.3 628.6h0M68.8 603.1h0M62.4 604.2h0M78.9 622.2h0M81.7 612.0h0M82.8 620.2h0M62.3 626.0h0M61.9 606.4h0M60.6 627.0h0M66.0 614.5h0M82.5 608.6h0M64.6 620.4h0M61.4 606.7h0M74.2 599.4h0M64.6 604.1h0M66.1 619.7h0M79.8 603.1h0M86.7 602.0h0M64.7 609.5h0M66.8 613.6h0M81.2 606.3h0M62.7 643.2h0M74.2 618.5h0M72.9 607.7h0M67.1 610.5h0M73.8 605.6h0M63.3 651.2h0M68.1 602.3h0M86.9 625.8h0M69.8 600.7h0M85.2 621.4h0M80.0 616.9h0M86.4 603.0h0M61.2 610.8h0M75.2 599.7h0M78.5 621.7h0M80.0 600.6h0M72.4 599.3h0M81.8 617.4h0M86.8 640.6h0M75.1 635.0h0M62.7 613.3h0M62.3 601.9h0M60.6 618.0h0M83.9 607.2h0M63.3 628.4h0M73.0 605.1h0M79.0 610.7h0M69.0 602.0h0M85.5 610.0h0M74.3 609.1h0M76.8 609.1h0M68.6 644.7h0M61.8 602.4h0M63.3 604.1h0M60.5 608.4h0M58.5 644.2h0M71.7 623.4h0M67.8 622.5h0M58.9 604.8h0M82.3 623.6h0M82.1 605.6h0M80.6 617.0h0M68.3 615.3h0M72.8 614.4h0M63.6 618.8h0M64.2 609.6h0M61.1 625.7h0M83.8 621.5h0M68.0 607.0h0M65.4 603.2h0M85.6 620.5h0M83.8 606.1h0M79.9 613.8h0M63.5 605.2h0M71.4 613.8h0M82.7 627.2h0M59.3 624.5h0M86.8 601.2h0M85.1 642.3h0M81.4 626.0h0M83.8 651.3h0M72.5 610.5h0M69.3 603.9h0M81.4 620.6h0M64.7 606.1h0M60.0 634.8h0M62.9 645.7h0M63.8 609.5h0M84.2 612.5h0M72.9 614.0h0M74.4 606.8h0M58.7 617.9h0M64.8 612.2h0M59.7 602.9h0M81.2 614.3h0M76.4 627.8h0M78.5 631.5h0M70.0 623.3h0M73.0 617.8h0M77.3 609.8h0M62.9 601.1h0M75.7 637.7h0M67.4 601.7h0M60.2 602.1h0M85.0 640.0h0M70.5 611.8h0M84.4 606.0h0M74.6 625.2h0M77.4 599.8h0M77.5 606.6h0M86.1 618.8h0M72.2 604.9h0M85.8 614.0h0M75.8 616.6h0M64.8 615.6h0M80.3 641.2h0M69.6 624.8h0M58.6 608.6h0M85.6 618.2h0M77.5 602.8h0M63.4 609.5h0M61.7 620.1h0M74.0 625.5h0M71.1 611.9h0M82.9 600.0h0M59.0 611.6h0M75.2 608.5h0M78.7 639.5h0M80.3 648.0h0M63.0 613.8h0M63.9 604.7h0M85.3 618.5h0M74.0 600.4h0M78.9 623.3h0M65.7 599.3h0M83.4 633.0h0M69.0 633.6h0M75.5 612.6h0M65.4 601.3h0M64.3 611.6h0M81.0 627.3h0M81.6 613.2h0M81.9 609.0h0M81.2 611.3h0M73.8 613.6h0M63.1 608.8h0M62.7 605.4h0M68.6 644.2h0M61.5 621.4h0M80.3 619.6h0M86.4 603.4h0M76.9 615.5h0M80.1 631.9h0M58.6 604.2h0M62.3 603.1h0M67.4 601.1h0M60.1 612.7h0M82.2 620.3h0M70.5 620.5h0M84.7 612.1h0M66.2 612.8h0M86.7 613.5h0M80.1 608.4h0M84.0 607.3h0M68.3 620.9h0M74.8 631.0h0M69.5 604.7h0M85.8 637.5h0M78.7 617.4h0M68.5 608.1h0M64.9 598.9h0M66.2 611.6h0M76.5 645.3h0M84.4 615.8h0M81.7 648.1h0M86.3 602.1h0M78.2 609.0h0M58.9 604.9h0M60.8 606.4h0M83.7 617.9h0M62.6 608.4h0M67.4 622.2h0M67.9 614.0h0M62.5 603.0h0M81.1 601.4h0M70.9 620.5h0M72.1 611.0h0" stroke="#4a4a4a" stroke-width="1.0" stroke-linecap="round" fill="none" opacity="0.85"/>
<path d="M64.1 606.5h0M68.5 613.6h0M84.8 604.9h0M66.0 613.0h0M75.0 603.2h0M64.1 616.2h0M68.7 602.6h0M71.2 610.8h0M81.4 613.1h0M62.6 609.1h0M68.9 611.5h0M79.1 606.9h0M85.1 610.7h0M65.6 616.8h0M83.7 606.4h0M80.0 612.8h0M83.5 616.8h0M63.5 610.5h0M67.3 606.7h0M76.6 608.2h0M80.0 605.2h0M82.1 602.0h0M81.9 613.6h0M80.7 615.2h0M85.5 611.9h0M80.7 616.2h0M81.1 612.8h0M85.3 610.7h0M81.5 603.3h0M71.4 603.7h0M70.4 614.0h0M86.0 612.5h0M72.1 612.5h0M60.1 613.4h0M84.8 610.4h0M76.5 610.4h0M85.0 616.5h0M81.3 614.3h0M73.0 606.8h0M75.7 599.1h0M75.3 607.0h0M75.3 601.8h0M82.0 601.2h0M68.7 606.9h0M75.9 602.0h0M73.9 599.0h0M83.9 617.5h0M74.3 611.5h0M73.5 614.1h0M69.1 602.0h0M61.0 610.1h0M59.4 610.3h0M69.5 611.5h0M86.5 618.4h0M61.6 604.0h0M68.6 616.8h0M73.1 614.0h0M71.9 610.3h0M70.7 605.7h0M64.9 608.4h0M75.1 603.6h0M69.7 613.6h0M71.4 616.5h0M81.1 616.4h0M64.9 613.2h0M84.6 601.7h0M61.5 599.3h0M60.9 610.6h0M74.0 611.7h0M64.0 616.1h0" stroke="#ffffff" stroke-width="0.8" stroke-linecap="round" fill="none" opacity="0.6"/>
<text font-size="8.7" text-anchor="middle" fill="#222" stroke="#222" transform="translate(72.5,690.8) scale(1,1.1)" >LR</text>
<defs><linearGradient id="vg9" x1="0" x2="0" y1="0" y2="1"><stop offset="0.000" stop-color="#3c64be" stop-opacity="0.00"/><stop offset="0.469" stop-color="#3c64be" stop-opacity="0.00"/><stop offset="0.551" stop-color="#3c64be" stop-opacity="0.25"/><stop offset="1.000" stop-color="#3c64be" stop-opacity="0.55"/></linearGradient></defs>
<rect x="104.3" y="564.5" width="27" height="39" fill="url(#vg9)"/>
<defs><linearGradient id="vg10" x1="0" x2="0" y1="0" y2="1"><stop offset="0.000" stop-color="#505050" stop-opacity="0.50"/><stop offset="0.312" stop-color="#555555" stop-opacity="0.38"/><stop offset="0.541" stop-color="#707070" stop-opacity="0.10"/><stop offset="1.000" stop-color="#808080" stop-opacity="0.00"/></linearGradient></defs>
<rect x="104.1" y="603.5" width="27.4" height="62.5" fill="url(#vg10)"/>
<path d="M120.9 582.1h0M109.6 584.1h0M118.4 581.4h0M123.5 583.2h0M113.6 581.9h0M128.1 580.9h0M128.1 583.5h0M108.0 583.2h0M124.4 583.1h0M113.2 584.2h0M119.5 583.4h0M109.9 582.3h0M127.4 584.2h0M120.3 583.1h0M129.7 584.8h0M106.8 581.2h0M113.8 581.8h0M116.1 584.6h0M118.4 583.3h0M110.9 584.1h0M106.4 581.0h0M120.4 581.2h0M124.8 583.0h0M113.5 583.9h0M111.8 581.8h0M122.1 583.6h0M123.5 581.8h0M115.4 581.3h0M117.7 582.2h0M106.9 582.3h0M105.0 582.1h0M128.6 583.5h0M111.3 582.2h0M108.9 583.6h0M117.0 584.7h0M110.1 582.4h0M127.4 581.7h0M123.4 582.0h0M121.7 581.2h0M112.5 583.2h0M126.7 580.7h0" stroke="#3c64be" stroke-width="2.4" stroke-linecap="round" fill="none" opacity="1.0"/>
<path d="M119.2 586.1h0M122.3 588.7h0M117.8 587.6h0M120.0 585.4h0M124.2 589.1h0M112.4 585.4h0M129.4 588.4h0M110.9 586.7h0M115.4 586.2h0M117.2 585.6h0M111.7 588.8h0M112.2 588.9h0M126.0 588.8h0M127.0 588.1h0M116.9 585.3h0M108.9 585.1h0M113.7 588.5h0M128.3 588.9h0M113.1 588.0h0M112.7 588.3h0M119.7 588.9h0M125.2 588.8h0M112.4 586.5h0M127.0 586.1h0M109.4 585.6h0M118.5 586.7h0M117.5 587.1h0M122.6 587.7h0M118.7 588.4h0M119.3 587.6h0M113.5 587.7h0M117.2 588.0h0M118.1 586.7h0M130.4 588.1h0M115.3 588.7h0M126.8 586.9h0M105.1 584.9h0M112.2 588.2h0M118.9 585.9h0M125.3 585.9h0M120.1 585.4h0M106.5 588.5h0M105.5 588.8h0M121.0 589.0h0M122.8 587.1h0M119.9 588.8h0M112.3 587.5h0M125.3 586.2h0M129.6 589.1h0M106.6 588.4h0M124.0 587.8h0M128.2 588.0h0M123.4 586.5h0M129.9 588.0h0M119.9 585.9h0M107.6 587.8h0M124.5 589.1h0M119.7 589.0h0M108.2 588.1h0M120.1 589.0h0M129.2 588.0h0M126.3 587.8h0M116.4 589.2h0M109.7 587.9h0M121.8 588.8h0M124.4 588.7h0M125.3 586.6h0M126.6 585.8h0M120.5 587.7h0M124.7 588.3h0M105.5 588.3h0M127.4 587.4h0" stroke="#3c64be" stroke-width="2.2" stroke-linecap="round" fill="none" opacity="1.0"/>
<path d="M110.9 595.6h0M117.0 596.4h0M119.1 597.4h0M106.5 599.5h0M104.8 599.3h0M106.2 595.3h0M110.2 598.5h0M106.1 595.0h0M116.1 597.4h0M120.2 598.9h0M125.5 597.5h0M124.8 597.6h0M118.6 598.9h0M110.1 595.4h0M129.9 597.2h0M116.6 597.3h0M119.2 599.0h0M118.1 599.7h0M116.1 597.0h0M106.0 596.7h0M122.1 594.9h0M129.4 595.3h0M128.5 594.6h0M110.0 599.4h0M123.5 597.3h0M125.6 596.3h0M112.2 598.8h0M110.5 595.3h0M104.9 598.1h0M119.6 597.7h0M118.4 597.5h0M123.4 596.1h0M107.3 596.6h0M129.1 599.1h0M105.4 598.8h0M105.6 598.7h0M115.2 599.2h0M125.6 595.5h0M125.3 599.6h0M127.1 599.7h0M123.9 598.2h0M106.1 597.2h0M119.8 598.3h0M109.1 597.2h0M118.1 595.9h0M111.8 597.5h0M112.2 596.8h0M116.2 594.7h0M113.9 595.9h0M107.7 598.5h0M108.3 598.5h0M118.4 598.3h0M125.2 597.7h0M105.7 597.7h0M108.3 596.2h0M126.8 597.8h0M126.5 597.8h0M114.1 598.6h0M119.0 598.3h0M125.5 599.1h0M117.7 597.6h0M108.6 598.3h0M106.6 598.9h0M118.3 596.6h0M108.5 595.2h0M123.8 595.3h0M112.2 597.5h0M114.0 595.9h0M112.5 595.2h0M116.8 595.7h0M115.6 598.6h0M105.4 597.0h0M129.8 598.2h0M117.9 597.0h0M125.9 597.9h0M107.0 596.1h0M127.5 596.1h0M109.0 598.4h0M124.0 599.5h0M122.8 597.4h0M113.8 594.5h0M106.9 599.4h0M123.7 599.2h0M129.9 595.6h0M123.7 598.6h0M115.1 597.9h0M130.0 599.3h0M121.1 598.8h0M124.8 595.2h0M122.6 599.0h0M112.9 599.5h0M117.8 598.0h0M113.3 598.3h0M125.3 596.8h0M105.7 596.8h0M129.9 595.8h0M121.1 594.9h0M109.8 599.7h0M120.5 594.4h0M127.7 596.8h0M108.4 598.3h0M110.9 595.5h0M120.1 594.3h0M124.3 596.3h0M113.2 595.2h0M127.2 598.1h0M123.0 599.2h0M109.1 597.5h0M130.3 598.8h0M107.4 599.8h0M111.8 596.5h0M125.2 596.1h0M111.5 599.4h0M129.5 595.7h0M113.3 597.0h0M111.5 598.2h0M111.6 599.2h0M129.3 596.8h0M126.2 598.8h0M108.0 597.6h0M127.8 599.2h0M117.9 596.9h0M110.9 598.3h0M117.7 597.5h0M125.8 598.8h0M111.1 597.8h0M118.1 594.4h0M107.7 595.1h0M112.7 595.5h0M130.0 599.3h0M130.2 598.8h0M107.5 594.9h0M125.3 597.5h0M124.8 598.1h0M130.9 598.7h0M108.1 595.0h0M117.8 594.8h0M123.4 596.4h0M111.2 598.9h0M106.6 596.2h0M120.6 598.4h0M110.1 595.6h0M117.4 598.6h0M118.9 595.6h0M106.8 595.6h0M129.0 598.4h0M108.6 596.2h0M116.5 597.5h0M118.5 594.5h0M126.0 596.5h0M124.3 597.5h0M119.4 597.5h0M117.3 595.2h0M109.0 599.5h0M123.3 596.3h0M112.8 599.5h0M110.2 594.4h0M105.0 598.0h0" stroke="#3c64be" stroke-width="1.8" stroke-linecap="round" fill="none" opacity="1.0"/>
<path d="M123.2 577.6h0M115.4 580.5h0M123.0 578.3h0M119.1 579.9h0M123.2 578.9h0M107.0 580.4h0M128.2 579.9h0M128.2 578.1h0M108.4 578.0h0M127.3 579.3h0M106.6 579.7h0M107.3 578.8h0M109.1 580.5h0M130.5 577.9h0M105.4 580.4h0M107.5 580.0h0M105.2 579.6h0M122.6 579.9h0M108.6 579.3h0M127.4 578.4h0M114.1 579.8h0M124.8 576.6h0M128.4 579.2h0M112.0 578.3h0M114.0 578.6h0M118.2 576.4h0M105.2 579.7h0M123.7 577.6h0M114.4 580.4h0" stroke="#3c64be" stroke-width="2.6" stroke-linecap="round" fill="none" opacity="1.0"/>
<path d="M118.2 600.2h0M105.1 602.6h0M117.2 601.1h0M125.1 601.6h0M107.1 600.3h0M110.9 602.6h0M109.0 601.4h0M124.5 603.2h0M129.3 601.5h0M123.7 601.6h0M130.0 600.5h0M108.7 603.5h0M114.1 600.4h0M109.3 602.0h0M120.4 601.7h0M111.5 602.0h0M124.8 603.1h0M106.8 603.3h0M114.2 602.9h0M107.5 600.8h0M113.7 602.3h0M108.2 602.6h0M125.2 601.8h0M119.6 601.3h0M120.1 602.1h0M121.6 600.3h0M123.9 600.0h0M111.4 602.9h0M116.0 600.1h0M123.7 600.9h0M116.2 602.4h0M118.3 602.5h0M108.8 601.3h0M113.7 602.3h0M128.9 602.1h0M109.4 601.0h0M112.2 601.8h0M118.7 602.6h0M108.5 600.3h0M130.7 600.3h0M104.5 602.0h0M117.9 601.1h0M107.7 603.3h0M123.4 603.5h0M130.4 603.2h0M117.1 602.5h0M125.7 601.2h0M108.8 600.1h0M111.9 601.7h0M129.8 602.6h0M124.0 601.8h0M125.2 602.6h0M108.3 599.9h0M121.7 599.9h0M122.1 600.1h0M121.0 602.6h0M112.8 602.3h0M119.9 602.6h0M122.2 602.3h0M130.7 601.3h0M130.9 603.1h0M124.5 600.6h0M125.7 601.3h0M126.0 602.9h0M120.3 601.9h0M125.8 602.4h0M126.7 600.0h0M127.0 601.1h0M120.0 600.6h0M116.9 603.0h0M128.2 603.2h0M117.5 603.2h0M105.4 600.4h0M106.5 603.5h0M120.2 602.4h0M115.2 603.1h0M117.4 601.6h0M112.7 603.0h0M130.7 603.0h0M111.6 603.3h0M122.6 600.2h0M127.0 602.7h0M128.8 599.9h0M105.1 600.0h0M109.1 601.7h0M119.6 600.7h0M128.9 600.1h0M122.9 600.3h0M112.0 600.2h0M128.6 600.8h0M112.0 600.8h0M129.8 602.3h0M124.8 602.6h0M106.7 601.9h0M119.5 603.2h0M107.5 600.9h0M106.4 599.9h0M115.2 602.7h0M130.3 602.7h0M109.5 602.3h0M129.9 600.4h0M111.0 603.3h0M118.7 603.1h0M108.5 600.0h0M113.7 602.5h0M124.8 601.2h0M129.0 600.2h0M108.2 601.1h0M116.7 600.0h0M121.2 603.1h0M122.1 602.6h0M128.1 601.0h0M119.6 602.2h0M120.4 602.0h0M113.1 600.4h0M119.5 601.2h0M123.1 602.8h0M105.4 600.4h0M106.7 599.9h0M112.5 601.0h0M130.9 601.1h0M126.9 600.9h0M107.1 601.0h0M116.2 600.4h0M111.7 603.4h0M120.8 601.9h0" stroke="#3c64be" stroke-width="1.6" stroke-linecap="round" fill="none" opacity="1.0"/>
<path d="M115.5 592.1h0M123.0 591.0h0M118.7 591.1h0M120.5 590.3h0M111.1 593.6h0M111.1 594.2h0M106.5 590.9h0M105.5 590.2h0M121.7 589.5h0M128.6 592.4h0M123.4 590.5h0M126.9 590.7h0M118.7 591.9h0M112.3 590.2h0M120.2 591.9h0M120.6 593.9h0M105.8 591.9h0M106.5 592.4h0M126.8 590.7h0M122.3 590.8h0M106.3 590.9h0M115.2 590.2h0M110.4 593.4h0M112.8 592.5h0M113.1 594.1h0M117.5 593.6h0M115.5 592.3h0M111.5 590.3h0M107.0 593.6h0M124.8 592.8h0M124.5 594.0h0M109.6 590.5h0M107.2 591.9h0M118.8 591.4h0M120.5 593.9h0M108.8 593.9h0M108.3 593.6h0M125.9 589.7h0M104.9 593.3h0M112.1 591.7h0M117.3 593.3h0M117.2 593.6h0M108.2 591.1h0M107.6 594.3h0M130.9 594.1h0M116.7 593.6h0M113.9 594.1h0M122.1 592.3h0M121.9 590.1h0M113.2 589.6h0M115.8 593.9h0M110.0 593.7h0M110.4 589.6h0M113.3 592.1h0M127.0 592.4h0M106.5 591.0h0M121.6 591.2h0M121.6 592.6h0M123.0 590.0h0M108.7 594.1h0M119.8 593.8h0M127.4 590.0h0M122.4 593.8h0M121.8 592.5h0M126.7 591.6h0M127.8 591.5h0M126.2 593.8h0M117.4 591.7h0M120.4 591.7h0M107.8 592.2h0M112.6 594.1h0M122.3 592.5h0M114.2 591.3h0M114.9 589.9h0M111.0 593.3h0M107.6 593.1h0M104.9 592.8h0M127.2 592.4h0M114.9 590.8h0M105.7 591.6h0M124.9 592.5h0M118.5 591.0h0M128.3 590.6h0M123.6 592.6h0M109.2 590.0h0M114.5 592.1h0M130.2 592.6h0M107.5 592.1h0M112.1 593.5h0M122.4 591.7h0M130.6 592.9h0" stroke="#3c64be" stroke-width="2.0" stroke-linecap="round" fill="none" opacity="1.0"/>
<path d="M125.8 568.8h0M122.1 571.2h0M113.2 569.2h0M105.9 569.6h0M110.9 568.9h0M114.2 569.0h0M121.8 569.5h0M121.2 571.0h0M120.0 569.1h0M120.2 569.8h0" stroke="#3c64be" stroke-width="3.0" stroke-linecap="round" fill="none" opacity="1.0"/>
<path d="M110.8 573.0h0M113.3 576.3h0M109.5 573.4h0M117.0 573.0h0M114.8 574.8h0M126.0 574.8h0M106.2 573.6h0M109.4 575.4h0M113.7 573.9h0M115.5 574.1h0" stroke="#3c64be" stroke-width="2.8" stroke-linecap="round" fill="none" opacity="1.0"/>
<path d="M127.9 567.9h0M118.8 566.8h0M113.6 567.9h0" stroke="#3c64be" stroke-width="3.2" stroke-linecap="round" fill="none" opacity="1.0"/>
<path d="M108.1 591.5h0M124.8 592.3h0M112.7 596.7h0M127.4 599.3h0M116.4 593.1h0M108.7 599.8h0M105.0 594.2h0M129.3 601.3h0M105.8 593.0h0M112.5 602.4h0M113.8 588.2h0M127.6 602.4h0M118.7 602.6h0M113.4 595.5h0M117.8 591.9h0M112.3 594.9h0M127.5 596.6h0M117.9 594.4h0M130.3 602.4h0M119.7 589.5h0M113.9 590.9h0M107.7 587.9h0M113.7 597.4h0M117.2 590.4h0M128.6 589.7h0M130.6 591.3h0M114.7 592.3h0M107.9 603.3h0M107.1 599.8h0M116.0 597.0h0M121.6 594.2h0M124.5 597.4h0M107.4 603.1h0M105.6 595.6h0M108.8 602.1h0M125.3 602.1h0M109.0 599.0h0M123.7 595.9h0M129.2 600.6h0M107.4 591.6h0M106.4 588.9h0M104.7 589.0h0M107.8 595.3h0M117.4 593.0h0M116.3 601.6h0M106.3 599.5h0M115.5 598.7h0M130.3 594.8h0M105.9 595.8h0M110.8 594.0h0M110.9 588.0h0M114.6 597.7h0M110.1 586.3h0M107.7 590.7h0M109.7 596.0h0M116.7 591.1h0M128.5 601.2h0M116.2 595.6h0M114.0 588.1h0M120.1 587.3h0M126.7 600.5h0M110.6 589.6h0M106.5 592.7h0M106.6 601.5h0M118.3 593.4h0M110.2 601.0h0M126.3 587.4h0M127.4 591.9h0M111.9 593.7h0M128.7 593.9h0" stroke="#ffffff" stroke-width="0.9" stroke-linecap="round" fill="none" opacity="0.7"/>
<path d="M105.9 613.8h0M129.3 611.9h0M126.6 612.6h0M116.5 630.7h0M118.4 615.2h0M123.8 622.1h0M108.9 610.2h0M109.9 619.6h0M121.7 606.5h0M126.3 647.2h0M126.5 618.4h0M105.4 609.2h0M112.0 622.2h0M111.1 619.1h0M130.5 607.9h0M128.9 622.4h0M113.2 619.4h0M127.9 615.7h0M105.0 650.1h0M120.4 628.0h0M130.5 615.8h0M129.5 605.7h0M126.4 632.7h0M120.8 620.8h0M108.2 618.7h0M119.1 616.3h0M124.2 621.6h0M110.1 603.8h0M117.3 617.6h0M118.6 611.8h0M117.7 630.5h0M127.6 610.7h0M116.7 618.2h0M130.4 646.7h0M126.6 617.2h0M124.0 619.0h0M113.6 615.9h0M131.5 614.4h0M104.7 610.5h0M110.4 641.4h0M131.5 604.1h0M116.2 616.4h0M105.7 608.3h0M112.6 608.2h0M125.8 610.3h0M122.9 609.8h0M125.8 632.0h0M120.3 614.9h0M110.7 627.9h0M118.1 617.4h0M128.4 610.2h0M114.6 656.9h0M130.8 632.4h0M128.2 628.3h0M120.5 634.5h0M120.1 623.1h0M114.1 611.2h0M114.8 607.9h0M112.6 639.1h0M121.2 612.6h0M127.0 632.7h0M119.9 633.0h0M116.2 636.6h0M119.2 611.3h0M115.5 624.0h0M129.2 637.3h0M129.9 622.0h0M127.0 662.9h0M112.7 606.9h0M119.7 645.0h0M119.3 612.0h0M127.1 603.5h0M103.8 632.1h0M120.7 610.4h0M109.8 622.2h0M115.8 613.8h0M117.6 611.8h0M127.7 625.1h0M111.8 632.3h0M109.2 622.9h0M116.2 628.6h0M122.0 640.4h0M105.4 625.5h0M127.4 619.2h0M105.6 615.3h0M116.1 623.9h0M118.5 646.3h0M114.7 615.5h0M109.6 610.5h0M128.8 628.5h0M130.5 625.3h0M112.4 654.2h0M129.7 649.3h0M115.6 612.8h0M124.2 644.5h0M115.2 643.4h0M115.9 603.8h0M111.1 609.2h0M114.2 606.7h0M112.8 628.7h0M104.6 621.5h0M108.9 616.2h0M126.1 628.0h0M117.8 615.4h0M114.8 642.0h0M125.4 610.7h0M128.9 619.6h0M112.4 624.6h0M120.8 634.9h0M123.8 639.8h0M123.1 634.0h0M122.9 624.7h0M108.2 603.7h0M111.0 619.8h0M128.3 620.8h0M114.6 607.1h0M119.3 609.5h0M122.5 609.0h0M111.7 626.4h0M121.3 651.6h0M111.1 612.3h0M130.9 612.8h0M126.9 604.5h0M122.1 607.1h0M128.5 607.3h0M119.1 613.7h0M103.9 619.6h0M109.1 609.1h0M122.6 623.7h0M105.6 609.3h0M120.2 647.4h0M118.9 641.6h0M112.6 620.4h0M120.5 640.5h0M112.0 616.2h0M111.3 622.7h0M114.9 621.5h0M117.2 625.2h0M120.4 629.7h0M108.8 625.6h0M129.1 618.8h0M116.9 613.4h0M118.9 610.4h0M114.1 614.0h0M122.3 612.5h0M111.2 622.9h0M117.1 646.3h0M119.5 646.7h0M126.0 611.0h0M105.4 613.0h0M105.2 640.1h0M118.8 648.6h0M118.6 607.3h0M131.3 608.7h0M109.9 626.2h0M130.5 620.8h0M104.6 633.7h0M126.0 632.3h0M120.5 609.7h0M107.4 617.0h0M119.9 625.6h0M125.8 608.0h0M129.0 638.6h0M120.9 655.3h0M130.1 611.7h0M107.1 613.0h0M113.8 633.2h0M112.9 656.2h0M126.7 615.9h0M109.3 664.3h0M104.8 652.5h0M128.1 626.9h0M118.0 640.4h0M128.3 643.1h0M110.2 617.9h0M123.5 628.6h0M118.9 654.2h0M116.2 662.2h0M112.9 604.8h0M107.5 624.4h0M106.3 623.9h0M112.2 637.6h0M125.1 631.6h0M125.9 608.9h0M115.3 613.5h0M112.3 667.2h0M103.9 604.7h0M131.1 640.9h0M129.1 626.6h0M127.8 621.9h0M117.6 611.4h0M116.6 626.1h0M119.3 646.6h0M127.3 612.2h0M119.2 607.9h0M126.1 618.1h0M116.0 606.0h0M104.8 607.9h0M113.0 615.9h0M108.4 620.7h0M116.0 632.0h0M110.5 629.9h0M129.2 632.5h0M113.4 630.6h0M130.4 614.6h0M110.6 654.4h0M120.5 619.0h0M112.7 649.1h0M123.6 621.4h0M112.7 640.6h0M104.6 629.4h0M123.4 648.4h0M104.8 618.2h0M131.4 654.9h0M124.9 654.5h0M109.8 612.6h0M129.6 624.1h0M112.9 649.4h0M125.0 639.0h0M107.0 629.5h0M125.2 638.4h0M121.2 610.7h0M124.5 653.3h0M120.6 655.5h0M121.3 624.1h0M116.4 620.5h0M125.6 612.6h0M129.1 627.9h0M117.4 624.2h0M129.5 627.3h0M123.1 651.1h0M121.9 623.6h0M120.1 629.6h0M114.0 613.5h0M125.2 604.2h0M130.7 614.0h0M105.3 621.0h0M130.3 627.3h0M111.5 625.3h0M122.3 620.7h0M120.7 621.4h0M114.6 632.5h0M103.8 613.8h0M112.3 607.2h0M114.2 611.0h0M115.7 610.3h0M114.5 626.8h0M113.0 621.3h0M129.4 614.2h0M115.7 638.5h0M104.0 631.9h0M105.7 625.4h0M106.5 630.0h0M116.1 604.2h0M104.2 616.3h0M104.7 604.3h0M126.8 629.5h0M111.3 624.0h0M131.2 649.4h0M106.9 628.5h0M105.1 608.1h0M116.8 612.2h0M110.4 622.8h0M119.9 619.3h0M124.7 667.1h0M115.8 648.9h0M115.4 621.7h0M128.8 618.1h0M126.5 627.0h0M131.6 633.2h0M122.4 612.8h0M106.3 629.3h0M114.6 607.9h0M128.3 609.7h0M107.8 649.5h0M128.4 609.4h0M119.6 622.1h0M121.2 610.8h0M124.1 634.3h0M109.6 624.7h0M122.5 653.7h0M109.3 610.8h0M106.6 653.0h0M112.3 609.2h0M130.1 628.8h0M112.7 621.0h0M118.5 604.3h0M117.7 619.9h0M109.1 625.1h0M124.4 611.3h0M107.3 621.6h0M111.7 640.9h0M119.7 615.0h0M114.0 628.6h0M115.4 620.3h0M106.1 625.8h0M105.0 604.6h0M128.6 626.8h0M122.5 604.5h0M125.8 632.2h0M108.4 627.5h0M128.2 604.5h0M129.4 611.0h0M124.1 621.2h0M128.2 618.1h0M113.5 620.2h0M127.1 626.7h0M115.5 617.5h0M129.6 624.0h0M130.6 654.1h0M117.8 618.9h0M129.9 647.1h0M113.8 632.3h0M121.8 611.1h0M123.3 615.8h0M119.2 611.1h0M116.7 617.5h0M114.1 643.7h0M117.6 640.3h0M129.6 640.2h0M127.5 614.4h0M115.7 617.6h0M109.3 643.2h0M116.9 611.7h0M122.3 607.9h0M131.8 618.8h0M108.8 634.6h0M105.1 632.5h0M126.3 612.0h0M120.5 620.8h0M121.2 652.1h0M121.3 606.0h0M128.1 622.3h0M119.1 612.4h0M113.9 623.7h0M114.6 607.5h0M112.3 625.7h0M111.7 621.8h0M122.6 649.1h0M118.4 624.4h0M106.3 612.4h0M121.7 606.1h0M110.8 610.3h0M109.8 630.9h0M107.3 630.2h0M105.2 614.6h0M117.8 614.3h0M129.9 639.7h0M104.2 621.4h0M112.1 622.5h0M131.3 617.7h0M127.3 621.6h0M125.3 634.8h0M115.3 646.4h0M124.1 633.7h0M115.7 624.6h0M113.7 653.5h0M116.9 608.9h0M128.7 662.5h0M112.3 628.0h0M106.9 606.9h0M109.9 630.6h0M112.5 617.7h0M116.5 605.7h0M116.1 616.2h0M125.5 617.4h0M128.8 621.0h0M129.2 608.7h0M112.7 618.1h0M114.8 624.3h0M124.9 606.8h0M107.8 618.9h0M128.5 624.5h0M114.9 621.1h0M116.2 657.6h0M114.8 609.4h0M119.3 617.2h0M109.1 610.6h0M116.6 624.8h0M122.7 617.2h0M114.2 613.8h0M105.1 605.2h0M107.5 616.1h0M128.2 614.0h0M115.8 613.8h0M122.0 605.0h0M131.6 619.4h0M120.7 634.8h0M109.0 606.0h0M107.1 638.1h0M130.1 614.6h0M125.8 657.9h0M107.7 658.4h0M115.0 617.3h0M126.4 608.5h0M114.6 610.4h0M114.4 603.6h0M112.3 622.6h0M122.6 632.1h0M127.9 606.5h0M124.5 621.7h0M112.2 610.5h0M109.7 625.8h0M121.1 612.7h0M116.5 607.1h0M128.4 643.7h0M109.8 629.8h0M117.7 625.8h0M104.6 607.8h0M118.7 626.4h0M129.6 667.0h0M130.7 606.1h0M117.7 624.8h0M123.9 632.6h0M120.7 645.5h0M117.7 651.5h0M127.5 645.5h0M121.5 622.6h0M127.1 606.5h0M120.5 636.7h0M130.2 633.4h0M131.0 610.5h0M112.9 638.7h0M104.9 636.1h0M131.5 619.8h0M120.9 611.5h0M107.3 641.8h0M117.2 624.5h0M121.2 638.0h0M123.2 604.4h0M119.5 636.7h0M115.5 606.3h0M107.2 609.6h0M105.8 607.6h0M119.4 610.9h0M122.4 608.2h0M122.6 614.1h0M129.9 612.7h0M126.1 614.2h0M129.9 637.2h0M126.9 624.3h0M115.2 623.6h0M119.0 646.9h0M104.5 612.7h0M110.8 609.7h0M110.9 624.5h0M130.2 628.4h0M119.1 624.3h0M104.4 614.9h0M123.9 617.9h0M127.3 613.0h0M131.4 608.1h0M107.9 618.5h0M110.3 631.4h0M123.6 604.3h0M116.8 613.9h0M122.8 606.4h0M123.5 650.6h0M119.7 611.1h0M114.3 609.2h0M131.9 608.4h0M124.7 605.2h0M109.7 611.4h0M118.5 615.0h0M117.3 618.0h0M118.2 627.7h0M127.9 619.8h0M105.3 630.1h0M108.2 648.3h0M110.4 616.0h0M119.9 604.4h0M110.5 622.8h0M122.7 605.2h0M125.5 628.6h0M107.7 620.2h0M129.2 631.4h0M125.3 624.6h0M128.8 618.4h0M123.4 605.3h0M105.3 610.4h0M114.4 620.3h0M113.9 649.2h0M129.5 605.0h0M109.2 615.0h0M125.7 631.8h0M128.4 605.5h0M128.9 651.4h0M108.8 641.2h0M130.3 604.0h0M128.4 613.6h0M120.3 608.3h0M120.6 625.1h0M119.6 647.4h0M124.6 607.9h0M109.2 634.3h0M105.6 615.5h0M109.3 609.8h0M118.9 614.8h0M131.2 623.3h0M106.7 612.4h0M113.4 603.9h0M120.4 614.4h0M111.6 607.1h0M113.9 606.1h0M109.5 606.8h0M125.6 607.2h0M116.3 608.8h0M104.1 645.7h0M124.7 638.2h0M119.4 607.1h0M124.1 608.1h0M105.0 621.7h0M125.4 634.7h0M116.7 644.2h0M119.6 619.0h0M122.3 621.4h0M116.8 614.7h0M122.8 614.4h0M114.2 636.1h0M117.8 607.1h0M125.3 640.1h0M108.5 612.0h0M110.9 661.9h0M104.3 618.6h0M108.5 605.7h0M118.6 621.8h0M104.7 604.8h0M126.6 639.2h0M107.1 615.2h0M118.0 636.9h0M116.8 638.6h0M104.9 610.7h0M113.0 636.7h0M111.8 633.3h0M130.6 604.1h0M123.0 644.2h0M131.2 625.0h0M106.8 620.7h0M112.3 617.9h0M116.2 613.2h0M123.5 613.8h0M114.9 613.9h0M129.4 608.9h0M121.3 603.6h0M129.3 616.2h0M109.1 649.5h0M116.7 619.8h0M113.6 620.7h0M122.7 618.2h0M108.2 638.8h0M122.3 662.4h0M124.5 615.5h0M124.2 605.5h0M122.7 615.9h0M120.9 621.6h0M131.8 610.1h0M120.5 653.7h0M110.0 621.7h0M105.7 639.8h0M104.7 631.4h0M114.0 609.2h0M117.5 614.6h0M122.2 610.8h0M109.6 603.6h0M121.9 615.8h0M107.1 603.6h0M117.2 632.3h0M126.6 619.1h0M121.8 625.6h0M109.5 610.9h0M118.8 631.4h0M109.3 627.7h0M108.3 628.3h0M106.0 626.5h0M125.7 613.3h0M130.6 614.3h0M119.1 616.2h0M123.7 655.0h0M111.4 618.9h0M116.2 630.1h0M119.9 624.9h0M119.2 603.8h0M113.7 616.9h0M124.2 612.6h0M129.8 618.7h0M125.1 638.0h0M114.0 624.9h0M124.7 643.7h0M112.4 644.3h0M131.6 625.5h0M122.0 640.7h0M128.2 622.0h0M113.7 623.5h0M114.2 638.5h0M106.2 658.8h0M111.0 615.8h0M115.3 615.3h0M108.3 613.9h0M111.9 633.0h0M120.9 604.1h0M105.1 634.1h0M130.0 614.7h0M121.7 625.4h0M109.7 619.3h0M121.3 610.7h0M114.8 615.0h0M118.3 650.3h0M114.3 607.9h0M125.3 625.4h0M115.2 626.2h0M112.7 629.1h0M116.0 622.4h0M124.8 620.8h0M106.9 603.6h0M108.8 609.1h0M127.7 626.6h0M126.1 617.1h0M111.5 628.7h0M124.4 610.8h0M109.8 610.8h0M120.2 620.2h0M120.2 624.1h0M128.7 635.9h0M103.9 616.6h0M106.6 622.0h0M109.8 639.6h0M129.8 607.5h0M109.8 625.4h0M106.8 606.2h0M107.7 609.4h0M109.0 660.6h0M112.2 604.3h0M124.1 611.0h0M123.4 603.7h0M115.0 629.7h0M110.9 606.8h0M130.3 605.7h0M118.8 621.6h0M110.8 631.1h0M120.9 634.0h0M115.5 628.9h0M128.5 618.3h0M121.5 604.8h0M123.5 631.0h0M117.8 614.4h0M126.2 628.1h0M121.5 608.5h0M110.1 610.2h0M130.8 657.6h0M108.9 632.9h0M130.4 631.0h0M113.7 627.3h0M117.8 605.5h0M128.9 617.4h0M106.8 625.7h0M129.6 613.2h0M114.5 628.2h0M109.2 657.0h0M115.3 627.9h0M105.5 621.1h0M129.8 613.0h0M128.6 606.0h0M125.5 622.8h0M106.0 625.1h0M122.9 624.7h0M108.6 620.2h0M126.9 633.3h0M107.9 617.2h0M121.6 616.7h0M120.2 618.0h0M127.9 615.4h0M114.6 639.5h0M129.7 603.7h0M118.6 614.9h0M125.0 617.3h0M113.7 629.5h0M105.0 629.1h0M106.9 610.6h0M121.0 630.4h0M121.2 626.7h0M110.2 618.8h0M118.5 610.8h0M115.5 631.0h0M126.7 606.3h0M120.8 638.4h0M117.0 641.8h0M111.8 608.8h0M123.9 663.9h0M130.9 629.7h0M116.0 624.6h0M111.6 610.6h0M124.2 603.5h0M124.3 617.0h0M105.2 655.2h0M123.7 606.9h0M125.1 613.1h0M118.1 625.0h0M128.7 616.9h0M118.3 625.2h0M120.9 632.1h0M126.7 628.6h0M116.8 629.3h0M121.5 633.1h0M117.8 614.2h0M116.0 605.0h0M121.8 616.8h0M130.6 605.6h0M107.0 620.6h0M105.9 617.3h0M112.6 619.5h0M105.8 615.9h0M114.6 613.8h0M113.5 636.8h0M108.6 603.9h0M117.4 614.8h0M104.3 604.1h0M126.0 612.8h0M115.3 618.3h0M126.7 608.4h0M120.7 636.2h0M114.1 612.0h0M120.0 611.3h0M124.0 662.0h0M120.7 624.5h0M130.0 607.4h0M116.3 645.5h0M129.3 627.8h0M115.5 617.1h0M130.2 626.3h0M125.5 615.5h0M105.3 607.2h0M124.9 606.2h0M124.7 603.9h0M107.7 608.2h0M105.9 652.5h0M118.6 613.8h0M131.8 622.1h0M109.9 617.4h0M105.4 622.6h0M116.4 630.5h0M113.7 610.5h0M131.8 617.4h0M106.1 605.3h0M121.6 611.4h0M114.8 622.6h0M119.6 612.3h0M112.7 651.9h0M104.2 649.0h0M120.3 626.8h0M109.7 639.9h0M110.4 625.9h0M109.5 615.2h0M108.8 604.4h0M107.5 637.8h0M112.2 611.4h0M120.9 628.7h0M127.0 626.6h0M129.6 603.8h0M127.9 610.6h0M123.3 627.5h0M126.8 642.8h0M114.9 621.2h0M110.1 666.5h0M120.1 608.9h0M108.0 623.4h0M119.5 614.3h0M115.6 621.9h0M111.9 622.8h0M131.9 608.7h0M113.2 638.1h0M127.5 619.9h0M121.3 618.3h0M123.8 626.0h0M115.6 662.4h0M115.6 617.6h0M115.7 604.6h0M123.2 611.9h0M114.0 616.3h0M113.5 646.2h0M114.1 620.0h0M122.5 605.7h0M130.0 623.0h0M108.4 612.8h0M104.8 621.4h0M129.0 618.1h0M119.2 635.6h0M122.0 626.4h0M104.3 607.5h0M127.4 612.1h0M107.0 617.3h0M114.8 610.0h0M107.1 612.1h0M115.4 635.2h0M127.5 616.6h0M131.3 626.3h0M117.4 631.0h0M122.2 641.3h0M110.6 606.5h0M125.4 620.8h0M116.0 623.6h0M123.1 611.2h0M122.0 649.3h0M109.5 605.9h0M130.5 609.8h0M109.2 605.5h0M112.6 634.3h0M131.1 628.5h0M125.8 604.2h0M119.9 608.3h0M130.6 604.0h0M122.2 612.1h0M106.1 605.4h0M109.6 605.5h0M107.0 622.8h0M131.3 617.3h0M112.6 626.0h0M104.9 618.0h0M120.6 641.3h0M131.6 647.8h0M106.7 603.8h0M121.2 619.5h0M115.1 612.7h0M112.9 617.5h0M131.4 613.5h0M126.9 634.6h0M115.2 622.7h0M112.6 622.2h0M125.7 608.3h0M125.6 664.2h0M107.4 610.3h0M127.5 616.0h0M116.5 612.8h0M116.1 614.7h0M127.3 650.2h0M111.0 608.1h0M105.5 647.1h0M105.8 623.6h0M121.5 619.0h0M115.8 622.3h0M129.6 609.3h0M110.8 611.5h0M122.2 605.3h0M131.1 641.1h0M122.8 648.8h0M119.6 623.5h0M112.7 606.2h0M116.6 628.2h0M110.9 626.2h0M114.2 613.4h0M116.5 630.4h0M113.4 608.4h0M104.0 614.8h0M128.6 638.8h0M122.1 608.2h0M122.4 611.1h0M106.1 604.1h0M123.0 605.3h0M104.5 653.0h0M110.8 607.2h0M127.3 618.0h0M109.7 619.2h0M105.8 614.5h0M105.3 615.0h0M116.2 621.7h0M120.5 619.8h0M116.0 619.4h0M128.1 612.9h0M117.0 627.9h0M105.2 612.6h0M131.2 642.9h0M113.2 650.1h0M115.9 605.0h0M126.0 616.5h0M123.5 613.5h0M116.8 611.8h0M123.2 623.4h0M123.8 614.0h0M107.5 636.4h0M116.9 605.8h0M122.8 613.6h0M116.8 613.4h0M120.5 626.4h0M111.4 603.5h0M113.5 608.6h0M118.6 608.5h0M105.6 631.0h0M122.7 629.7h0M130.3 623.3h0M131.9 619.3h0M107.0 616.0h0M125.5 626.4h0M114.3 629.2h0M120.7 614.3h0M110.1 604.7h0M109.2 657.6h0M111.7 656.9h0M125.4 607.6h0M111.0 642.9h0M121.2 625.5h0M129.8 611.8h0M124.8 622.7h0M112.5 619.4h0M124.1 627.8h0M123.9 609.7h0M108.3 609.8h0M120.5 650.9h0M127.2 668.6h0M124.5 610.3h0M113.7 607.1h0M110.7 606.1h0M125.4 644.1h0M126.3 620.3h0M120.5 606.7h0M110.3 605.8h0M113.4 616.0h0M111.0 604.0h0M104.1 608.3h0M119.0 611.9h0M129.9 612.4h0M107.8 631.9h0M131.2 610.9h0M125.4 609.4h0M109.6 620.5h0M117.0 647.6h0M103.8 633.5h0M124.7 655.8h0M109.8 618.3h0M121.0 618.4h0M109.4 626.0h0M105.8 616.4h0M107.9 619.3h0M124.6 605.2h0M107.0 609.1h0M109.7 647.1h0M121.9 654.4h0M114.8 607.9h0M109.8 623.8h0M126.4 620.7h0M129.3 621.0h0M116.4 625.9h0M109.6 651.1h0M129.7 607.5h0M114.4 605.6h0M119.3 628.5h0M109.7 603.6h0M104.1 623.3h0M125.4 614.7h0M103.8 627.9h0M114.3 608.9h0M121.2 604.4h0" stroke="#4a4a4a" stroke-width="1.0" stroke-linecap="round" fill="none" opacity="0.85"/>
<path d="M120.1 620.1h0M119.0 608.8h0M108.5 617.6h0M119.7 609.2h0M122.7 612.4h0M114.3 608.4h0M115.0 622.3h0M128.2 615.4h0M111.3 615.9h0M129.3 609.5h0M119.4 605.5h0M121.5 619.8h0M118.9 614.3h0M125.6 609.2h0M131.1 616.5h0M104.3 616.4h0M122.1 610.1h0M125.5 610.3h0M110.7 621.3h0M120.9 609.5h0M125.2 608.8h0M126.3 607.7h0M115.8 611.7h0M109.4 614.0h0M119.6 604.0h0M126.9 618.0h0M114.1 621.1h0M123.8 618.9h0M127.5 620.5h0M120.6 613.3h0M114.1 609.1h0M131.3 611.6h0M129.6 618.8h0M128.9 613.2h0M121.2 610.2h0M106.4 604.7h0M131.4 619.3h0M116.7 619.2h0M107.3 605.8h0M120.4 619.4h0M115.1 621.7h0M124.3 620.3h0M124.1 606.7h0M107.3 613.6h0M113.9 617.5h0M118.1 619.3h0M120.5 608.7h0M131.8 608.9h0M112.0 620.1h0M127.0 613.2h0M117.7 617.2h0M119.5 616.8h0M130.8 612.0h0M108.5 612.4h0M114.2 619.9h0M125.7 613.8h0M130.0 604.3h0M131.7 620.1h0M104.6 614.5h0M108.7 621.1h0M103.7 605.3h0M131.9 612.3h0M105.9 622.4h0M111.0 606.5h0M112.5 606.1h0M123.9 611.6h0M124.0 617.3h0M130.7 611.1h0M126.5 610.3h0M122.7 619.2h0" stroke="#ffffff" stroke-width="0.8" stroke-linecap="round" fill="none" opacity="0.6"/>
<line x1="103.7" y1="680.4" x2="131.9" y2="680.4" stroke="#333" stroke-width="1.1" />
<text font-size="8.7" text-anchor="middle" fill="#222" stroke="#222" transform="translate(119,690.8) scale(1,1.1)" >MR</text>
<defs><linearGradient id="vg11" x1="0" x2="0" y1="0" y2="1"><stop offset="0.000" stop-color="#c85a14" stop-opacity="0.00"/><stop offset="0.487" stop-color="#c85a14" stop-opacity="0.00"/><stop offset="0.573" stop-color="#c85a14" stop-opacity="0.25"/><stop offset="1.000" stop-color="#c85a14" stop-opacity="0.55"/></linearGradient></defs>
<rect x="150.9" y="564.5" width="26.9" height="41" fill="url(#vg11)"/>
<defs><linearGradient id="vg12" x1="0" x2="0" y1="0" y2="1"><stop offset="0.000" stop-color="#505050" stop-opacity="0.50"/><stop offset="0.344" stop-color="#555555" stop-opacity="0.38"/><stop offset="0.574" stop-color="#707070" stop-opacity="0.10"/><stop offset="1.000" stop-color="#808080" stop-opacity="0.00"/></linearGradient></defs>
<rect x="150.7" y="605.5" width="27.3" height="62.5" fill="url(#vg12)"/>
<path d="M175.1 603.8h0M167.6 604.8h0M175.3 603.1h0M176.7 603.6h0M169.6 603.8h0M164.5 602.0h0M160.8 604.2h0M152.8 605.4h0M174.1 604.7h0M154.2 605.2h0M167.8 605.3h0M152.0 603.0h0M157.5 604.2h0M157.9 602.7h0M158.4 602.8h0M162.2 604.2h0M164.0 605.1h0M155.2 603.3h0M161.0 605.1h0M169.4 604.4h0M162.3 603.8h0M163.7 603.1h0M166.8 602.5h0M167.8 602.5h0M163.6 605.1h0M171.2 602.8h0M158.7 603.6h0M173.7 603.6h0M153.5 605.2h0M173.6 602.8h0M151.8 604.0h0M171.4 602.6h0M173.0 605.0h0M161.4 602.1h0M168.1 602.3h0M170.6 604.9h0M163.8 603.1h0M166.1 602.6h0M156.1 602.9h0M160.1 603.9h0M168.9 602.6h0M177.6 602.2h0M153.9 603.0h0M158.5 605.1h0M164.5 602.1h0M157.7 602.3h0M172.0 604.6h0M161.0 603.9h0M169.8 605.4h0M163.8 605.5h0M160.8 602.9h0M157.2 602.2h0M151.3 604.3h0M168.6 602.2h0M162.8 605.2h0M168.2 602.3h0M160.9 603.8h0M177.4 602.1h0M176.4 601.8h0M159.6 603.2h0M177.2 604.8h0M168.5 602.1h0M165.4 603.9h0M174.5 603.9h0M163.9 604.8h0M157.9 605.1h0M162.7 601.7h0M157.6 603.1h0M154.5 605.1h0M161.8 604.4h0M152.2 601.7h0M154.2 603.2h0M159.2 604.6h0M162.8 603.0h0M166.0 603.3h0M169.3 604.0h0M166.4 604.4h0M173.6 603.0h0M167.8 604.3h0M169.9 602.6h0M158.0 603.3h0M159.1 603.6h0M166.6 603.0h0M165.5 604.8h0M170.6 605.4h0M176.9 603.0h0M155.4 602.7h0M176.1 603.6h0M153.4 602.6h0M159.3 602.2h0M166.1 602.5h0M163.0 604.6h0M161.4 605.4h0M177.0 601.8h0M151.4 603.2h0M161.3 602.1h0M155.6 605.2h0M159.5 602.2h0M161.1 605.5h0M155.8 605.1h0M154.5 604.0h0M163.1 603.2h0M155.9 602.9h0M163.7 602.0h0M163.8 602.3h0M157.0 603.7h0M152.0 604.2h0M165.8 605.2h0M158.6 602.2h0M160.5 603.6h0M166.0 602.3h0M155.6 601.7h0M158.6 605.2h0M171.7 601.9h0M167.5 603.7h0M170.8 603.5h0M176.1 603.7h0M176.8 602.6h0M154.7 604.5h0M161.9 602.3h0M156.4 601.7h0M157.4 605.1h0" stroke="#c85a14" stroke-width="1.6" stroke-linecap="round" fill="none" opacity="1.0"/>
<path d="M171.7 594.8h0M161.4 593.0h0M168.4 594.5h0M154.0 592.6h0M174.6 594.9h0M174.8 592.4h0M176.8 595.5h0M162.2 592.1h0M154.1 594.5h0M156.9 592.5h0M166.6 592.6h0M159.7 594.3h0M157.3 595.6h0M172.7 592.3h0M171.6 595.5h0M169.7 593.8h0M158.5 593.7h0M174.2 593.3h0M170.5 591.7h0M154.4 592.4h0M160.0 594.8h0M173.5 595.4h0M171.4 594.8h0M158.3 595.6h0M166.3 595.7h0M164.8 591.5h0M156.0 594.6h0M174.8 591.9h0M174.8 595.4h0M174.1 593.3h0M156.5 593.8h0M168.7 594.9h0M162.8 593.7h0M155.7 591.2h0M155.8 594.6h0M155.7 591.3h0M154.5 591.5h0M153.8 595.7h0M161.2 593.9h0M163.5 591.0h0M168.5 592.2h0M174.1 595.1h0M154.3 590.9h0M161.2 593.4h0M154.2 592.6h0M164.9 594.2h0M162.4 591.3h0M175.6 593.8h0M169.0 593.8h0M163.8 592.2h0M160.2 595.4h0M166.2 593.0h0M173.9 593.4h0M175.5 592.9h0M165.8 595.1h0M152.2 591.4h0M156.4 592.4h0M171.8 595.7h0M165.3 593.1h0M171.3 595.6h0M175.5 591.8h0M161.9 593.1h0M163.3 591.5h0M165.7 594.6h0M160.0 594.4h0M160.2 594.3h0M164.9 595.7h0M174.8 595.8h0M162.8 594.6h0M165.0 595.3h0M174.7 592.5h0M154.8 595.6h0M170.8 591.3h0M174.8 591.7h0M173.3 591.1h0M165.8 595.2h0M170.4 595.8h0M170.6 591.4h0M153.1 593.8h0M171.8 594.2h0M157.7 594.3h0M171.8 591.4h0M162.9 594.8h0M151.6 592.7h0M169.1 595.1h0M165.6 595.3h0M175.4 590.9h0M163.8 592.5h0M167.0 594.9h0M159.9 595.6h0M167.5 594.0h0M168.6 592.6h0M157.5 593.6h0M174.3 592.8h0M176.8 591.1h0M173.6 592.5h0M163.3 595.3h0M151.9 594.9h0M157.4 595.3h0M151.7 593.0h0M166.5 593.1h0M169.4 592.7h0M171.8 594.9h0M173.3 593.8h0M161.3 594.4h0M175.3 592.1h0M166.1 595.4h0M156.9 594.5h0M168.9 593.7h0" stroke="#c85a14" stroke-width="2.0" stroke-linecap="round" fill="none" opacity="1.0"/>
<path d="M168.0 601.3h0M168.0 598.5h0M161.6 601.1h0M152.5 600.7h0M165.1 597.6h0M168.4 599.0h0M169.8 599.9h0M175.4 596.4h0M159.6 601.4h0M154.8 599.3h0M166.8 596.7h0M170.9 596.7h0M151.3 601.5h0M153.1 600.5h0M168.4 598.6h0M165.8 597.0h0M166.5 601.1h0M167.4 596.0h0M158.5 597.0h0M160.8 598.9h0M155.6 596.8h0M162.2 596.0h0M173.0 599.5h0M166.4 600.5h0M176.1 601.0h0M158.4 601.6h0M177.3 600.7h0M176.4 599.8h0M164.3 601.4h0M156.2 597.8h0M155.8 596.9h0M167.6 598.9h0M155.1 600.7h0M163.1 597.1h0M164.9 597.0h0M157.5 601.0h0M158.8 599.7h0M165.8 598.1h0M165.9 597.6h0M157.5 601.5h0M164.0 597.1h0M171.2 597.1h0M151.4 596.0h0M175.9 600.0h0M154.9 596.8h0M169.1 598.8h0M164.4 598.0h0M156.9 598.3h0M152.6 600.3h0M159.5 598.7h0M156.0 601.0h0M170.2 599.7h0M161.3 598.7h0M163.2 600.6h0M172.6 600.2h0M163.6 598.6h0M156.4 599.0h0M166.8 599.4h0M158.3 600.4h0M157.0 595.9h0M155.6 597.6h0M171.5 599.5h0M176.4 598.6h0M154.4 598.5h0M151.8 596.4h0M164.8 601.1h0M166.2 601.1h0M165.8 597.4h0M161.0 601.1h0M162.2 597.6h0M164.5 601.5h0M160.5 596.2h0M161.1 598.4h0M175.5 600.6h0M171.3 599.8h0M160.1 596.1h0M157.7 597.5h0M161.9 600.0h0M161.9 600.0h0M151.5 596.0h0M171.9 596.0h0M157.1 596.5h0M166.9 598.5h0M172.8 597.8h0M163.9 600.6h0M155.5 599.3h0M169.6 599.4h0M166.8 598.7h0M167.1 599.3h0M168.1 596.9h0M177.4 598.0h0M165.2 599.7h0M163.9 599.9h0M166.3 600.5h0M151.6 596.8h0M169.4 598.7h0M161.7 595.9h0M159.1 596.6h0M161.3 600.2h0M167.2 600.6h0M166.0 600.0h0M158.7 600.1h0M171.6 600.5h0M154.4 597.8h0M160.9 600.2h0M159.4 598.9h0M161.4 599.2h0M177.4 597.7h0M158.7 596.0h0M154.4 598.8h0M164.2 600.6h0M164.9 598.4h0M159.9 597.1h0M167.0 596.8h0M158.0 597.7h0M163.5 599.1h0M160.5 597.7h0M153.1 600.6h0M154.5 596.5h0M156.3 601.5h0M154.6 599.5h0M155.9 599.5h0M170.9 597.5h0M164.2 598.4h0M161.8 600.4h0M156.6 597.2h0M164.1 601.1h0M167.9 598.9h0M155.7 600.0h0M165.2 599.9h0M173.6 601.6h0M167.8 597.9h0M161.9 598.1h0M166.4 597.6h0M170.0 596.4h0M163.9 597.0h0M153.7 599.8h0M169.8 598.8h0M166.9 596.8h0M175.8 600.5h0M164.7 597.8h0M158.0 599.0h0M156.7 596.1h0M155.2 597.9h0M165.0 601.1h0" stroke="#c85a14" stroke-width="1.8" stroke-linecap="round" fill="none" opacity="1.0"/>
<path d="M173.6 585.7h0M152.2 582.0h0M175.1 584.4h0M158.9 583.8h0M162.5 582.6h0M153.9 583.2h0M170.9 582.6h0M169.3 582.9h0M170.1 581.6h0M175.2 582.9h0M167.5 582.5h0M174.2 584.8h0M160.7 585.8h0M176.3 583.1h0M176.2 582.6h0M169.5 583.6h0M152.6 584.2h0M172.9 585.6h0M158.1 581.9h0M164.6 585.0h0M154.4 584.2h0M166.6 583.2h0M175.5 582.5h0M159.1 581.9h0M152.2 584.9h0M164.0 584.1h0M171.6 583.7h0M176.6 585.6h0M155.2 582.6h0M168.5 584.6h0M164.4 582.7h0M156.9 582.4h0M175.6 585.8h0M168.8 583.2h0M168.6 584.6h0M160.1 583.7h0M174.8 584.9h0M174.2 585.3h0M170.5 585.8h0M175.7 584.4h0M167.2 581.8h0M157.7 583.7h0M174.9 581.4h0M163.1 585.3h0M152.6 585.6h0M151.9 584.3h0M170.0 584.4h0" stroke="#c85a14" stroke-width="2.4" stroke-linecap="round" fill="none" opacity="1.0"/>
<path d="M167.3 573.3h0M153.7 575.1h0M163.8 576.9h0M155.3 575.8h0M164.5 574.8h0M167.9 574.0h0M160.0 572.9h0M167.2 573.2h0M162.0 573.5h0M167.2 573.1h0M174.9 572.8h0" stroke="#c85a14" stroke-width="2.8" stroke-linecap="round" fill="none" opacity="1.0"/>
<path d="M175.6 586.5h0M152.5 589.6h0M154.6 590.6h0M157.1 589.4h0M157.0 587.0h0M169.4 590.3h0M170.8 587.3h0M163.7 587.0h0M154.9 586.6h0M172.8 590.5h0M173.0 587.2h0M167.9 590.2h0M165.9 590.1h0M156.9 588.6h0M165.9 586.4h0M157.5 589.8h0M155.3 586.2h0M154.2 587.4h0M176.2 586.3h0M164.6 590.1h0M158.5 587.9h0M160.8 585.9h0M153.0 589.7h0M170.6 586.4h0M172.7 590.5h0M156.5 588.0h0M160.2 586.1h0M170.0 590.5h0M173.8 587.4h0M174.4 589.6h0M158.4 586.7h0M172.4 586.6h0M170.1 586.2h0M163.5 587.0h0M159.5 589.6h0M158.0 586.2h0M168.2 589.6h0M171.6 586.7h0M160.0 586.6h0M174.8 590.2h0M160.1 590.6h0M165.7 589.2h0M152.9 587.5h0M155.4 587.5h0M153.5 590.1h0M158.8 586.5h0M170.8 590.2h0M153.6 586.2h0M173.7 586.3h0M177.2 587.2h0M154.6 589.7h0M161.7 588.3h0M169.4 590.0h0M174.9 587.2h0M168.0 587.2h0M159.4 587.1h0M153.1 588.4h0M157.7 588.9h0M174.0 588.8h0M175.1 588.1h0M167.2 590.2h0M160.7 589.1h0M158.1 588.5h0M176.1 587.4h0M164.7 588.6h0M170.1 590.2h0M155.0 587.1h0M156.0 587.2h0M173.9 589.4h0" stroke="#c85a14" stroke-width="2.2" stroke-linecap="round" fill="none" opacity="1.0"/>
<path d="M160.4 580.8h0M172.3 580.0h0M166.8 579.0h0M162.4 580.3h0M160.8 577.8h0M172.3 577.1h0M158.2 580.4h0M157.9 578.1h0M174.5 577.9h0M167.2 579.6h0M159.4 577.0h0M155.5 580.8h0M174.3 579.1h0M169.3 578.7h0M153.1 579.4h0M153.4 579.5h0M158.4 578.3h0M160.8 579.4h0M171.0 579.9h0M166.6 581.1h0M174.7 579.2h0M169.5 580.0h0M152.8 579.8h0M174.6 577.9h0" stroke="#c85a14" stroke-width="2.6" stroke-linecap="round" fill="none" opacity="1.0"/>
<path d="M153.9 570.8h0M174.7 572.0h0M154.1 571.6h0M173.8 571.6h0M168.3 569.4h0M152.0 571.4h0M173.6 572.6h0M157.7 570.6h0M165.7 572.2h0M157.6 571.4h0M174.0 569.4h0" stroke="#c85a14" stroke-width="3.0" stroke-linecap="round" fill="none" opacity="1.0"/>
<path d="M165.3 565.7h0M171.6 567.9h0" stroke="#c85a14" stroke-width="3.2" stroke-linecap="round" fill="none" opacity="1.0"/>
<path d="M170.3 588.1h0M153.1 592.4h0M164.5 598.9h0M168.7 592.9h0M155.7 602.3h0M164.4 588.4h0M159.8 590.9h0M165.4 597.5h0M167.7 592.0h0M164.2 592.3h0M170.0 589.7h0M158.3 594.1h0M159.5 596.1h0M158.9 597.1h0M157.9 604.1h0M152.7 594.8h0M165.7 597.0h0M167.4 600.2h0M160.8 604.6h0M158.5 605.5h0M158.6 592.2h0M153.2 604.6h0M173.1 591.4h0M153.4 590.9h0M170.9 602.2h0M167.3 591.7h0M167.6 591.7h0M176.5 593.9h0M158.3 600.1h0M157.0 594.8h0M158.7 589.3h0M168.0 596.0h0M155.9 601.3h0M151.5 596.0h0M158.2 597.4h0M160.3 594.3h0M167.7 598.9h0M167.0 589.9h0M161.9 589.1h0M171.6 588.2h0M162.6 601.9h0M164.9 605.0h0M163.6 598.0h0M158.3 591.0h0M152.8 593.1h0M168.4 588.4h0M173.4 598.0h0M151.6 595.6h0M175.8 596.4h0M169.0 589.8h0M168.6 595.5h0M156.2 603.8h0M159.0 592.8h0M168.5 597.3h0M155.6 591.5h0M153.2 592.9h0M177.2 594.8h0M165.7 600.6h0M159.9 591.2h0M159.1 604.3h0M157.9 602.4h0M157.4 589.8h0M157.8 603.5h0M157.2 601.9h0M151.9 603.9h0M162.8 592.4h0M162.4 590.8h0M156.0 592.7h0M156.5 604.1h0M153.9 593.1h0" stroke="#ffffff" stroke-width="0.9" stroke-linecap="round" fill="none" opacity="0.7"/>
<path d="M171.3 621.7h0M156.7 640.9h0M151.3 627.0h0M170.8 618.5h0M154.1 637.2h0M154.6 613.6h0M151.8 608.3h0M172.4 659.9h0M163.3 614.5h0M164.8 626.7h0M160.6 625.1h0M154.3 616.5h0M154.5 632.4h0M163.7 614.7h0M161.0 619.4h0M166.7 608.4h0M162.6 611.9h0M159.2 634.4h0M172.5 606.8h0M174.2 650.1h0M164.2 634.6h0M173.2 622.5h0M167.6 612.4h0M169.5 624.3h0M153.6 616.8h0M153.8 639.7h0M167.5 648.3h0M171.9 615.6h0M157.4 626.8h0M175.7 612.9h0M161.8 606.6h0M156.3 608.4h0M163.8 623.3h0M153.4 657.3h0M154.7 624.7h0M167.5 619.4h0M175.2 631.5h0M155.4 651.5h0M175.7 620.5h0M156.3 627.7h0M173.0 632.1h0M174.4 615.8h0M156.8 611.5h0M165.5 618.1h0M171.0 613.6h0M174.2 640.8h0M159.0 610.3h0M155.7 609.4h0M170.4 626.9h0M173.7 648.3h0M174.7 622.3h0M174.0 649.4h0M164.9 628.7h0M160.1 629.1h0M157.5 621.2h0M164.1 625.2h0M175.0 640.1h0M173.7 606.1h0M160.7 613.6h0M161.8 618.2h0M176.3 607.9h0M174.2 616.9h0M175.9 646.1h0M167.9 612.3h0M164.2 616.6h0M173.7 612.9h0M161.5 630.8h0M168.6 623.0h0M157.0 631.4h0M154.3 619.6h0M160.3 637.2h0M174.8 648.7h0M155.7 617.1h0M162.8 623.5h0M151.9 619.8h0M161.7 625.3h0M175.0 670.3h0M167.3 629.3h0M174.4 617.5h0M172.7 636.1h0M157.7 629.1h0M164.7 615.2h0M160.3 607.6h0M170.8 619.2h0M161.0 609.5h0M166.5 628.8h0M177.6 612.4h0M159.2 627.8h0M173.1 626.4h0M175.1 608.2h0M177.9 613.7h0M153.5 631.3h0M155.1 625.8h0M153.8 642.5h0M178.0 644.7h0M164.8 611.0h0M177.9 619.8h0M152.3 614.9h0M163.9 619.3h0M159.2 620.4h0M173.0 661.7h0M164.4 615.8h0M174.7 662.6h0M173.5 626.3h0M168.8 630.7h0M174.0 623.6h0M175.2 621.3h0M156.3 619.1h0M164.2 624.6h0M174.0 629.4h0M166.6 663.7h0M171.0 607.7h0M156.4 606.6h0M162.1 644.8h0M156.8 619.3h0M164.3 612.2h0M169.0 625.4h0M152.5 622.6h0M174.2 653.5h0M165.7 618.3h0M178.0 607.3h0M172.0 659.8h0M163.2 616.1h0M150.4 612.0h0M154.8 609.6h0M173.7 623.7h0M170.2 606.6h0M176.5 609.6h0M162.7 609.3h0M175.6 605.5h0M150.7 648.3h0M151.3 606.8h0M165.5 634.3h0M166.8 633.0h0M172.5 621.6h0M176.0 626.5h0M157.2 605.7h0M161.4 659.9h0M178.3 670.4h0M171.1 636.9h0M161.3 608.5h0M173.3 613.1h0M153.4 640.6h0M178.2 606.4h0M160.7 606.2h0M173.6 624.3h0M172.4 646.0h0M155.4 610.2h0M157.8 619.3h0M167.5 622.2h0M151.4 632.1h0M162.2 623.6h0M176.1 636.2h0M157.2 612.2h0M157.0 635.9h0M175.6 629.7h0M160.0 636.7h0M172.1 636.7h0M155.3 626.1h0M169.1 617.0h0M163.4 607.2h0M170.1 614.1h0M173.6 654.5h0M160.9 610.2h0M155.8 640.5h0M167.3 607.3h0M177.3 635.0h0M175.5 608.8h0M162.5 629.5h0M164.3 629.1h0M162.3 620.6h0M177.7 612.2h0M166.7 628.4h0M175.8 642.4h0M153.2 606.2h0M151.0 617.3h0M171.7 609.5h0M178.2 620.7h0M171.5 626.8h0M178.2 645.1h0M155.1 662.7h0M155.6 632.4h0M158.2 610.1h0M160.4 638.6h0M158.1 623.4h0M172.6 629.9h0M171.5 610.7h0M163.7 612.8h0M156.0 610.6h0M157.1 630.4h0M154.7 641.0h0M157.3 606.6h0M165.9 615.8h0M166.0 646.2h0M161.1 614.3h0M171.2 648.8h0M165.5 606.5h0M155.0 641.6h0M153.6 629.4h0M176.6 637.6h0M175.4 624.6h0M158.0 612.4h0M167.9 629.2h0M168.2 617.1h0M169.5 632.1h0M154.3 610.7h0M163.7 632.7h0M172.4 607.4h0M161.1 611.1h0M170.2 625.8h0M153.5 627.6h0M159.0 625.4h0M159.6 630.3h0M168.8 617.1h0M161.4 616.4h0M177.7 627.4h0M170.2 620.6h0M164.4 620.5h0M158.5 627.9h0M163.3 627.6h0M160.7 621.5h0M170.5 619.0h0M159.6 623.9h0M152.6 637.1h0M161.6 626.8h0M175.6 628.9h0M170.0 619.5h0M174.0 662.5h0M174.1 618.4h0M164.4 610.8h0M152.6 642.0h0M160.6 620.2h0M165.3 636.5h0M174.2 618.4h0M162.5 608.5h0M155.6 643.3h0M169.1 634.2h0M154.9 622.2h0M151.5 655.5h0M151.9 624.8h0M173.4 622.2h0M154.1 630.4h0M151.6 623.5h0M156.1 626.0h0M175.0 606.2h0M165.5 621.9h0M174.0 606.2h0M154.3 625.9h0M155.9 625.4h0M166.5 610.5h0M167.0 632.7h0M168.5 612.2h0M169.7 666.1h0M156.3 646.6h0M178.3 607.0h0M176.6 647.4h0M163.0 640.1h0M160.5 616.8h0M158.3 620.2h0M155.6 629.0h0M167.4 629.6h0M151.1 608.9h0M158.6 631.7h0M154.6 619.3h0M175.0 624.3h0M176.7 610.3h0M163.9 664.3h0M158.1 611.9h0M159.0 624.1h0M169.5 607.2h0M155.1 616.8h0M164.7 639.4h0M160.0 617.2h0M170.2 621.6h0M165.3 621.4h0M172.5 624.1h0M155.7 660.4h0M169.9 628.1h0M162.6 612.3h0M150.6 644.2h0M165.9 626.1h0M162.6 607.8h0M164.9 628.9h0M162.1 612.5h0M162.6 634.8h0M178.4 630.0h0M156.3 656.6h0M174.9 610.4h0M165.3 620.3h0M170.3 605.6h0M176.0 627.1h0M152.2 624.1h0M161.9 611.9h0M174.4 618.8h0M170.0 652.8h0M174.9 618.7h0M157.5 622.8h0M173.6 629.8h0M174.9 612.7h0M163.9 637.9h0M169.7 608.7h0M153.2 613.5h0M160.0 622.9h0M153.3 652.1h0M172.5 633.7h0M154.7 607.0h0M167.2 620.0h0M157.7 612.9h0M165.8 627.3h0M170.0 616.6h0M167.0 613.4h0M173.7 629.1h0M174.4 617.4h0M156.3 615.7h0M156.0 633.4h0M168.0 623.4h0M171.4 635.4h0M172.2 628.9h0M171.5 608.8h0M177.5 611.7h0M165.7 629.6h0M171.0 612.5h0M165.5 628.4h0M167.2 653.1h0M152.0 613.9h0M161.1 612.2h0M173.2 658.9h0M152.6 658.9h0M154.7 622.1h0M161.8 631.4h0M154.7 605.8h0M156.0 609.9h0M151.7 641.6h0M151.3 605.7h0M172.6 612.2h0M155.9 607.2h0M156.8 652.1h0M171.7 618.9h0M169.0 663.1h0M151.0 634.2h0M164.1 642.3h0M177.8 637.1h0M170.8 606.4h0M171.5 625.9h0M164.7 612.9h0M164.1 620.8h0M155.9 652.8h0M165.2 610.9h0M152.9 610.9h0M175.5 610.8h0M159.5 627.9h0M167.1 620.8h0M151.9 615.9h0M163.4 636.7h0M164.1 650.3h0M176.8 616.9h0M177.3 620.7h0M175.5 611.5h0M159.9 619.3h0M157.7 646.1h0M173.0 664.0h0M151.8 626.6h0M171.0 619.7h0M172.6 610.7h0M167.4 609.7h0M170.4 624.2h0M170.8 620.8h0M160.3 639.8h0M156.7 618.3h0M173.4 611.3h0M155.0 614.3h0M156.9 620.9h0M161.3 618.8h0M154.3 652.2h0M172.1 639.1h0M176.3 623.8h0M161.8 655.4h0M159.5 631.9h0M169.8 618.9h0M158.5 621.9h0M154.9 606.7h0M151.7 652.5h0M166.2 622.7h0M166.0 612.8h0M172.8 635.4h0M157.4 625.1h0M175.1 611.5h0M170.2 648.1h0M151.5 610.7h0M152.1 649.9h0M160.3 645.9h0M176.6 656.8h0M158.0 631.1h0M167.8 614.4h0M159.4 610.1h0M170.9 625.1h0M162.6 617.8h0M176.4 616.6h0M153.3 610.2h0M151.0 610.4h0M160.7 636.0h0M163.1 626.8h0M177.3 609.9h0M151.3 613.1h0M169.1 654.0h0M151.0 610.7h0M154.7 610.5h0M155.9 646.7h0M160.2 609.0h0M151.5 622.6h0M155.4 636.6h0M158.5 617.5h0M173.0 631.4h0M158.1 627.0h0M165.4 617.1h0M155.6 611.7h0M151.2 626.5h0M166.6 618.6h0M168.1 605.8h0M176.2 623.9h0M158.2 606.8h0M172.6 631.0h0M176.1 623.1h0M153.5 615.6h0M150.4 622.6h0M154.8 634.8h0M152.0 634.4h0M164.2 640.7h0M163.1 611.0h0M152.4 636.3h0M151.1 641.1h0M150.4 631.8h0M152.0 612.9h0M151.7 611.5h0M168.0 628.7h0M157.0 626.3h0M170.4 623.4h0M161.4 618.8h0M170.8 606.0h0M158.1 607.4h0M170.1 617.0h0M171.8 631.1h0M156.2 634.1h0M158.9 613.7h0M161.9 617.5h0M162.9 623.9h0M172.8 611.6h0M153.0 641.8h0M150.6 608.9h0M170.1 633.6h0M168.4 614.7h0M165.3 632.7h0M159.3 607.4h0M159.7 617.6h0M153.8 635.2h0M156.9 622.3h0M173.3 619.9h0M157.6 633.9h0M164.7 612.5h0M175.8 647.9h0M165.0 626.8h0M162.1 620.4h0M160.0 646.3h0M169.0 621.3h0M157.1 631.3h0M150.3 620.2h0M154.1 657.8h0M162.1 631.7h0M165.2 657.2h0M176.0 618.0h0M156.0 614.5h0M157.6 623.5h0M177.5 615.1h0M168.8 626.3h0M164.4 636.7h0M159.5 623.3h0M161.5 615.1h0M156.2 617.3h0M151.2 605.9h0M154.3 661.2h0M159.0 629.8h0M163.3 612.6h0M155.2 620.7h0M173.4 631.2h0M163.5 626.5h0M153.6 608.1h0M174.2 608.5h0M173.3 642.1h0M154.7 614.4h0M157.0 640.2h0M160.9 622.7h0M174.2 610.0h0M153.8 607.6h0M161.7 612.6h0M169.2 625.5h0M159.7 618.2h0M173.3 612.3h0M175.6 647.1h0M162.6 627.8h0M171.8 608.6h0M162.8 622.0h0M166.2 618.4h0M175.1 632.7h0M168.2 607.9h0M169.2 619.4h0M156.0 625.1h0M161.0 631.9h0M153.6 613.5h0M169.0 614.4h0M175.9 647.8h0M158.7 629.5h0M160.1 625.7h0M175.0 628.7h0M172.9 622.1h0M155.8 645.4h0M174.4 607.8h0M178.1 626.1h0M169.7 626.8h0M171.8 624.9h0M170.8 620.1h0M150.6 627.1h0M159.0 607.6h0M158.1 614.1h0M172.3 605.6h0M171.8 633.1h0M155.1 610.0h0M158.4 617.6h0M171.9 625.6h0M169.8 618.0h0M154.2 633.2h0M164.9 622.4h0M170.4 624.5h0M170.8 610.5h0M153.4 656.6h0M167.1 639.2h0M166.5 631.9h0M176.8 635.6h0M166.0 655.4h0M151.0 632.7h0M163.6 629.5h0M165.9 633.8h0M155.4 637.9h0M151.7 617.4h0M169.8 620.1h0M159.3 614.8h0M160.0 617.2h0M174.7 608.5h0M164.2 658.8h0M154.4 629.6h0M169.6 609.0h0M157.7 667.5h0M157.3 614.3h0M178.4 637.4h0M176.5 630.3h0M166.3 650.9h0M154.1 641.8h0M165.7 619.4h0M157.9 616.4h0M168.6 632.9h0M174.3 618.6h0M174.9 624.8h0M161.3 635.0h0M157.7 636.4h0M166.4 626.6h0M155.6 637.7h0M152.3 619.0h0M161.5 651.0h0M168.5 615.1h0M168.5 617.4h0M173.6 633.0h0M176.6 622.9h0M156.7 621.5h0M177.1 640.2h0M153.4 606.4h0M169.7 616.1h0M166.9 634.1h0M155.6 614.9h0M152.4 613.3h0M160.8 646.0h0M150.3 626.5h0M169.0 611.8h0M152.6 619.4h0M171.7 636.2h0M164.5 613.7h0M156.5 625.0h0M176.3 614.5h0M161.0 661.9h0M157.3 623.3h0M173.5 613.7h0M177.3 611.2h0M172.9 629.8h0M164.2 610.9h0M161.9 623.8h0M177.1 648.4h0M151.4 621.3h0M170.0 618.0h0M164.7 651.4h0M155.0 615.5h0M157.3 632.6h0M172.2 655.7h0M152.3 638.5h0M166.5 612.4h0M158.9 612.5h0M160.0 637.5h0M168.7 635.3h0M174.6 619.8h0M174.3 628.3h0M172.5 633.4h0M150.3 652.4h0M154.4 652.7h0M165.4 627.2h0M173.7 629.3h0M160.0 621.0h0M161.0 619.6h0M164.3 639.7h0M173.8 644.1h0M178.0 615.6h0M153.8 623.8h0M176.7 611.3h0M168.0 616.6h0M172.8 626.4h0M171.9 609.7h0M154.9 657.0h0M174.9 635.1h0M166.4 623.5h0M175.7 608.2h0M152.1 607.2h0M160.7 627.3h0M173.7 612.7h0M158.1 625.9h0M163.9 609.5h0M175.1 606.2h0M162.5 639.9h0M159.0 608.5h0M154.0 609.3h0M165.2 610.5h0M173.3 623.0h0M165.3 614.1h0M160.9 620.4h0M158.1 616.5h0M163.9 623.3h0M169.8 628.9h0M151.1 633.8h0M152.4 625.1h0M161.0 624.8h0M161.7 636.6h0M157.8 614.8h0M159.8 611.1h0M165.2 632.0h0M166.5 611.2h0M173.4 613.7h0M163.1 608.6h0M163.5 607.6h0M170.4 637.6h0M163.1 629.8h0M153.5 617.7h0M165.2 623.0h0M159.5 644.5h0M153.7 648.6h0M152.8 613.5h0M173.8 622.6h0M154.1 620.9h0M157.2 616.4h0M164.1 616.7h0M175.2 612.3h0M160.1 643.5h0M165.0 620.9h0M177.0 655.2h0M153.3 623.2h0M174.4 612.9h0M156.2 620.6h0M176.2 611.3h0M155.6 627.4h0M160.0 633.8h0M155.8 651.8h0M171.3 619.1h0M163.9 633.6h0M161.0 623.1h0M158.1 638.2h0M163.2 616.6h0M166.5 622.1h0M159.3 613.1h0M174.8 637.3h0M178.2 611.6h0M171.6 621.4h0M152.3 636.4h0M162.9 610.4h0M164.0 610.3h0M156.0 607.1h0M158.1 617.7h0M167.7 644.7h0M155.3 629.5h0M164.4 628.7h0M167.2 631.4h0M171.4 609.8h0M171.9 644.0h0M164.3 618.2h0M164.4 612.1h0M155.4 665.7h0M167.9 626.3h0M169.5 609.9h0M155.7 613.3h0M166.8 608.8h0M154.3 651.6h0M156.6 626.6h0M168.1 631.9h0M170.7 615.9h0M160.1 613.1h0M167.8 618.5h0M176.1 631.9h0M153.7 620.8h0M168.3 617.9h0M151.9 648.7h0M169.5 628.0h0M169.3 651.9h0M165.3 633.5h0M164.6 635.6h0M173.2 635.0h0M151.8 615.9h0M152.9 637.3h0M166.2 617.9h0M170.2 633.8h0M161.5 624.6h0M162.2 631.0h0M151.6 618.4h0M173.1 609.3h0M170.2 641.0h0M166.7 611.3h0M166.4 627.4h0M172.8 627.2h0M165.2 639.6h0M166.1 614.2h0M169.6 619.3h0M163.6 615.0h0M177.8 609.2h0M162.3 613.0h0M171.3 625.6h0M154.0 615.2h0M170.9 607.4h0M166.1 614.8h0M172.8 631.3h0M164.2 622.9h0M151.1 630.5h0M160.9 611.6h0M156.5 626.4h0M163.7 648.3h0M151.8 638.3h0M161.2 608.7h0M160.7 618.2h0M157.4 648.1h0M172.2 607.6h0M154.1 609.8h0M154.4 631.4h0M175.5 611.3h0M177.4 612.5h0M174.4 619.2h0M169.2 622.8h0M157.2 613.2h0M157.4 640.0h0M175.6 605.7h0M166.2 662.2h0M159.0 631.3h0M170.7 607.2h0M161.0 616.9h0M164.4 620.7h0M152.1 630.6h0M174.2 628.6h0M173.9 628.3h0M162.5 624.3h0M170.1 617.7h0M169.5 618.7h0M178.0 629.3h0M152.2 631.5h0M173.2 648.2h0M170.0 612.6h0M165.1 612.6h0M153.9 641.4h0M173.6 634.3h0M166.4 626.6h0M156.6 605.9h0M159.4 609.7h0M178.3 615.5h0M171.2 637.8h0M163.8 618.1h0M172.7 606.4h0M159.2 627.8h0M170.3 614.2h0M155.2 642.7h0M151.0 607.5h0M155.0 613.5h0M152.9 640.4h0M161.9 636.3h0M157.3 612.2h0M176.7 628.7h0M162.3 626.3h0M176.8 607.3h0M163.2 614.1h0M177.6 620.2h0M168.2 618.8h0M161.1 625.6h0M162.1 647.9h0M155.9 649.4h0M154.6 617.2h0M151.0 628.3h0M168.8 627.2h0M157.7 608.5h0M166.6 623.6h0M178.2 626.5h0M157.5 610.8h0M159.3 618.6h0M158.3 633.2h0M170.7 623.5h0M175.0 640.7h0M169.9 630.5h0M157.3 626.8h0M174.0 630.7h0M164.5 613.7h0M170.4 611.9h0M164.8 617.3h0M167.4 616.0h0M168.9 648.2h0M164.1 610.8h0M168.6 616.3h0M166.4 647.8h0M166.1 673.1h0M170.9 648.0h0M169.9 613.4h0M161.8 625.3h0M167.0 613.7h0M167.5 629.0h0M172.0 605.7h0M168.4 659.8h0M161.8 609.4h0M158.0 654.4h0M174.1 608.5h0M171.7 612.2h0M165.9 605.8h0M158.1 629.2h0M174.2 612.7h0M177.2 610.3h0M174.7 613.1h0M173.4 664.9h0M158.3 610.1h0M169.7 618.3h0M153.2 610.3h0M172.2 605.9h0M169.4 619.9h0M153.8 647.0h0M165.9 630.5h0M168.0 617.7h0M168.6 616.2h0M168.3 613.7h0M157.5 620.4h0M156.4 650.5h0M153.9 667.3h0M153.8 613.3h0M176.9 624.1h0M157.5 614.8h0M159.6 609.4h0M171.1 646.1h0M151.4 649.0h0M169.7 606.3h0M151.2 607.4h0M166.3 609.8h0M155.8 657.5h0M165.4 615.7h0M170.9 607.0h0M170.9 652.5h0M154.1 632.4h0M165.6 607.0h0M163.1 607.0h0M165.6 638.8h0M170.5 612.2h0M150.4 629.8h0M171.8 628.4h0M156.0 607.3h0M158.5 620.2h0M166.7 636.3h0M155.7 647.1h0M163.3 616.0h0M163.2 616.6h0M152.0 655.2h0M171.2 614.8h0M160.6 625.9h0M174.0 627.7h0M172.3 605.6h0M167.6 614.5h0M151.9 624.2h0M164.7 611.0h0M174.8 615.0h0M161.3 631.8h0M168.3 657.5h0M166.4 631.5h0M165.4 616.4h0M177.6 610.6h0M157.6 620.8h0M172.6 646.3h0M160.4 623.3h0M157.0 618.7h0M165.7 626.7h0M156.8 609.6h0M170.9 628.0h0M150.4 609.1h0M166.1 625.7h0M173.0 616.9h0M176.7 639.9h0M173.3 631.6h0M158.0 615.9h0M155.9 631.3h0M164.6 612.9h0M157.0 636.5h0M168.3 641.5h0M153.2 629.2h0M174.6 648.8h0M152.5 621.7h0M170.1 606.8h0M152.4 629.0h0M178.3 614.3h0M161.0 653.2h0M171.6 608.0h0M157.1 613.6h0M170.6 610.0h0M159.1 608.2h0M156.6 613.5h0M170.7 607.5h0M168.5 616.2h0M150.6 609.0h0M172.4 615.5h0M164.3 661.2h0M157.3 613.7h0M171.1 611.4h0M162.3 632.2h0M153.8 616.2h0M164.9 608.7h0M172.2 663.1h0M154.0 631.0h0M155.7 616.8h0M159.7 629.7h0M174.8 626.5h0M174.8 609.3h0M164.2 608.6h0M169.7 627.8h0M166.0 633.2h0M173.0 623.4h0M156.4 612.9h0M166.5 607.1h0M163.6 608.3h0M175.1 653.2h0M164.5 609.0h0M153.6 627.4h0" stroke="#4a4a4a" stroke-width="1.0" stroke-linecap="round" fill="none" opacity="0.85"/>
<path d="M170.9 622.5h0M160.2 626.9h0M178.3 611.4h0M157.2 617.4h0M172.1 613.3h0M151.1 620.9h0M174.6 606.2h0M153.2 607.1h0M161.3 617.8h0M157.7 624.8h0M169.6 626.2h0M172.0 605.7h0M161.9 623.3h0M172.3 610.9h0M150.8 616.5h0M170.2 614.2h0M152.4 608.0h0M176.2 622.8h0M159.3 623.7h0M167.6 620.7h0M176.6 611.6h0M177.2 617.1h0M164.8 625.6h0M171.5 621.8h0M150.6 626.7h0M165.8 613.1h0M169.1 613.9h0M177.8 611.9h0M153.3 607.1h0M155.3 608.4h0M151.9 615.7h0M177.7 624.5h0M175.9 606.6h0M161.3 615.3h0M159.3 620.2h0M154.2 623.6h0M157.0 609.3h0M174.1 613.7h0M171.5 622.7h0M169.1 624.5h0M161.1 624.3h0M163.1 619.1h0M167.4 626.9h0M156.1 624.9h0M152.9 609.2h0M170.9 611.8h0M165.2 608.0h0M157.0 618.7h0M174.0 613.9h0M151.4 626.0h0M154.4 622.5h0M157.9 611.6h0M169.1 615.9h0M174.9 622.1h0M155.1 616.8h0M170.3 606.1h0M171.7 624.2h0M168.9 605.9h0M165.0 618.4h0M159.5 625.6h0M173.6 607.7h0M152.1 606.6h0M171.4 608.2h0M157.9 612.0h0M173.9 614.8h0M175.1 621.8h0M172.7 608.2h0M178.2 617.6h0M160.1 607.1h0M177.6 616.1h0" stroke="#ffffff" stroke-width="0.8" stroke-linecap="round" fill="none" opacity="0.6"/>
<line x1="150.3" y1="680.4" x2="178.4" y2="680.4" stroke="#333" stroke-width="1.1" />
<text font-size="8.7" text-anchor="middle" fill="#222" stroke="#222" transform="translate(165,690.8) scale(1,1.1)" >HR</text>
<rect x="233.2" y="203.5" width="33.59" height="117" fill="#8ef8ce"/>
<path d="M233.2 203.9h33.6M233.2 206.1h33.6M233.2 207.5h33.6M233.2 211.9h33.6M233.2 212.6h33.6M233.2 215.6h33.6M233.2 217.0h33.6M233.2 222.9h33.6M233.2 224.3h33.6M233.2 225.1h33.6M233.2 225.8h33.6M233.2 227.3h33.6M233.2 229.5h33.6M233.2 230.9h33.6M233.2 232.4h33.6M233.2 236.0h33.6M233.2 236.8h33.6M233.2 238.2h33.6M233.2 240.4h33.6M233.2 241.9h33.6M233.2 243.4h33.6M233.2 244.8h33.6M233.2 249.9h33.6M233.2 252.9h33.6M233.2 255.1h33.6M233.2 257.2h33.6M233.2 258.0h33.6M233.2 258.7h33.6M233.2 260.2h33.6M233.2 260.9h33.6M233.2 263.8h33.6M233.2 267.5h33.6M233.2 268.9h33.6M233.2 269.7h33.6M233.2 273.3h33.6M233.2 274.1h33.6M233.2 277.7h33.6M233.2 284.3h33.6M233.2 285.0h33.6M233.2 285.8h33.6M233.2 286.5h33.6M233.2 287.2h33.6M233.2 291.6h33.6M233.2 292.3h33.6M233.2 293.1h33.6M233.2 296.0h33.6M233.2 300.4h33.6M233.2 304.0h33.6M233.2 306.2h33.6M233.2 310.6h33.6M233.2 312.1h33.6" stroke="#9ef9d6" stroke-width="0.73"/>
<path d="M233.2 209.0h33.6M233.2 210.4h33.6M233.2 213.4h33.6M233.2 218.5h33.6M233.2 219.2h33.6M233.2 239.0h33.6M233.2 244.1h33.6M233.2 251.4h33.6M233.2 263.1h33.6M233.2 266.8h33.6M233.2 274.8h33.6M233.2 289.4h33.6M233.2 294.5h33.6M233.2 298.2h33.6M233.2 301.1h33.6M233.2 301.9h33.6M233.2 302.6h33.6M233.2 304.8h33.6M233.2 314.3h33.6M233.2 317.2h33.6" stroke="#84f7c8" stroke-width="0.73"/>
<rect x="266.5" y="203.5" width="33.59" height="117" fill="#96f9d2"/>
<path d="M266.5 205.3h33.6M266.5 208.3h33.6M266.5 209.7h33.6M266.5 214.8h33.6M266.5 217.8h33.6M266.5 218.5h33.6M266.5 222.9h33.6M266.5 225.1h33.6M266.5 228.0h33.6M266.5 236.8h33.6M266.5 244.8h33.6M266.5 248.5h33.6M266.5 252.9h33.6M266.5 267.5h33.6M266.5 274.1h33.6M266.5 277.0h33.6M266.5 282.1h33.6M266.5 282.8h33.6M266.5 287.2h33.6M266.5 290.2h33.6M266.5 297.5h33.6M266.5 300.4h33.6M266.5 304.8h33.6M266.5 316.5h33.6" stroke="#8bf8cc" stroke-width="0.73"/>
<path d="M266.5 209.0h33.6M266.5 216.3h33.6M266.5 217.0h33.6M266.5 219.2h33.6M266.5 220.7h33.6M266.5 222.1h33.6M266.5 225.8h33.6M266.5 228.7h33.6M266.5 229.5h33.6M266.5 230.2h33.6M266.5 230.9h33.6M266.5 231.7h33.6M266.5 232.4h33.6M266.5 233.8h33.6M266.5 235.3h33.6M266.5 236.0h33.6M266.5 238.2h33.6M266.5 239.7h33.6M266.5 240.4h33.6M266.5 241.2h33.6M266.5 241.9h33.6M266.5 244.1h33.6M266.5 246.3h33.6M266.5 250.7h33.6M266.5 253.6h33.6M266.5 256.5h33.6M266.5 257.2h33.6M266.5 259.4h33.6M266.5 263.1h33.6M266.5 263.8h33.6M266.5 265.3h33.6M266.5 266.0h33.6M266.5 269.7h33.6M266.5 271.1h33.6M266.5 271.9h33.6M266.5 272.6h33.6M266.5 274.8h33.6M266.5 276.3h33.6M266.5 278.5h33.6M266.5 279.9h33.6M266.5 280.6h33.6M266.5 281.4h33.6M266.5 285.0h33.6M266.5 286.5h33.6M266.5 289.4h33.6M266.5 291.6h33.6M266.5 293.1h33.6M266.5 295.3h33.6M266.5 298.2h33.6M266.5 298.9h33.6M266.5 299.7h33.6M266.5 301.1h33.6M266.5 302.6h33.6M266.5 307.0h33.6M266.5 307.7h33.6M266.5 309.9h33.6M266.5 310.6h33.6M266.5 312.1h33.6M266.5 313.6h33.6M266.5 314.3h33.6M266.5 315.7h33.6M266.5 317.9h33.6" stroke="#a5fada" stroke-width="0.73"/>
<rect x="299.8" y="203.5" width="33.59" height="117" fill="#84f7c8"/>
<path d="M299.8 206.1h33.6M299.8 214.1h33.6M299.8 216.3h33.6M299.8 221.4h33.6M299.8 233.1h33.6M299.8 236.0h33.6M299.8 243.4h33.6M299.8 244.8h33.6M299.8 249.9h33.6M299.8 252.1h33.6M299.8 252.9h33.6M299.8 255.1h33.6M299.8 260.9h33.6M299.8 261.6h33.6M299.8 262.4h33.6M299.8 263.1h33.6M299.8 266.0h33.6M299.8 269.7h33.6M299.8 277.7h33.6M299.8 279.2h33.6M299.8 283.6h33.6M299.8 284.3h33.6M299.8 287.2h33.6M299.8 289.4h33.6M299.8 290.9h33.6M299.8 293.8h33.6M299.8 302.6h33.6M299.8 307.7h33.6M299.8 309.9h33.6M299.8 315.7h33.6" stroke="#94f8d0" stroke-width="0.73"/>
<path d="M299.8 211.9h33.6M299.8 212.6h33.6M299.8 215.6h33.6M299.8 220.0h33.6M299.8 222.9h33.6M299.8 226.5h33.6M299.8 228.7h33.6M299.8 229.5h33.6M299.8 237.5h33.6M299.8 244.1h33.6M299.8 247.0h33.6M299.8 249.2h33.6M299.8 250.7h33.6M299.8 255.8h33.6M299.8 263.8h33.6M299.8 264.6h33.6M299.8 271.9h33.6M299.8 275.5h33.6M299.8 276.3h33.6M299.8 307.0h33.6M299.8 309.2h33.6M299.8 312.1h33.6M299.8 312.8h33.6M299.8 313.6h33.6" stroke="#7cf6c3" stroke-width="0.73"/>
<rect x="333.1" y="203.5" width="33.59" height="117" fill="#f2f8e8"/>
<path d="M333.1 205.3h33.6M333.1 206.1h33.6M333.1 206.8h33.6M333.1 207.5h33.6M333.1 209.7h33.6M333.1 210.4h33.6M333.1 214.1h33.6M333.1 214.8h33.6M333.1 217.8h33.6M333.1 220.0h33.6M333.1 220.7h33.6M333.1 221.4h33.6M333.1 222.1h33.6M333.1 222.9h33.6M333.1 223.6h33.6M333.1 225.8h33.6M333.1 229.5h33.6M333.1 230.9h33.6M333.1 232.4h33.6M333.1 233.1h33.6M333.1 235.3h33.6M333.1 236.0h33.6M333.1 236.8h33.6M333.1 241.2h33.6M333.1 241.9h33.6M333.1 244.1h33.6M333.1 247.7h33.6M333.1 249.2h33.6M333.1 250.7h33.6M333.1 251.4h33.6M333.1 252.9h33.6M333.1 256.5h33.6M333.1 260.2h33.6M333.1 260.9h33.6M333.1 261.6h33.6M333.1 263.1h33.6M333.1 265.3h33.6M333.1 266.8h33.6M333.1 267.5h33.6M333.1 268.2h33.6M333.1 268.9h33.6M333.1 270.4h33.6M333.1 271.9h33.6M333.1 272.6h33.6M333.1 274.1h33.6M333.1 275.5h33.6M333.1 278.5h33.6M333.1 279.2h33.6M333.1 281.4h33.6M333.1 282.8h33.6M333.1 283.6h33.6M333.1 285.0h33.6M333.1 285.8h33.6M333.1 286.5h33.6M333.1 290.9h33.6M333.1 291.6h33.6M333.1 293.1h33.6M333.1 293.8h33.6M333.1 298.9h33.6M333.1 301.1h33.6M333.1 303.3h33.6M333.1 305.5h33.6M333.1 309.9h33.6M333.1 311.4h33.6M333.1 313.6h33.6M333.1 315.7h33.6M333.1 316.5h33.6M333.1 318.7h33.6" stroke="#fce4c8" stroke-width="0.73"/>
<path d="M333.1 209.0h33.6M333.1 217.0h33.6M333.1 218.5h33.6M333.1 219.2h33.6M333.1 224.3h33.6M333.1 226.5h33.6M333.1 228.7h33.6M333.1 231.7h33.6M333.1 233.8h33.6M333.1 234.6h33.6M333.1 238.2h33.6M333.1 239.7h33.6M333.1 242.6h33.6M333.1 246.3h33.6M333.1 252.1h33.6M333.1 253.6h33.6M333.1 259.4h33.6M333.1 262.4h33.6M333.1 264.6h33.6M333.1 273.3h33.6M333.1 274.8h33.6M333.1 279.9h33.6M333.1 282.1h33.6M333.1 287.2h33.6M333.1 288.0h33.6M333.1 294.5h33.6M333.1 295.3h33.6M333.1 296.7h33.6M333.1 299.7h33.6M333.1 304.0h33.6M333.1 304.8h33.6M333.1 306.2h33.6M333.1 307.7h33.6M333.1 312.8h33.6M333.1 317.2h33.6M333.1 320.1h33.6" stroke="#e8faec" stroke-width="0.73"/>
<rect x="366.4" y="203.5" width="33.59" height="117" fill="#eefbee"/>
<path d="M366.4 204.6h33.6M366.4 207.5h33.6M366.4 209.0h33.6M366.4 209.7h33.6M366.4 214.1h33.6M366.4 221.4h33.6M366.4 224.3h33.6M366.4 225.8h33.6M366.4 227.3h33.6M366.4 229.5h33.6M366.4 231.7h33.6M366.4 233.8h33.6M366.4 234.6h33.6M366.4 236.8h33.6M366.4 238.2h33.6M366.4 240.4h33.6M366.4 241.2h33.6M366.4 241.9h33.6M366.4 244.1h33.6M366.4 245.5h33.6M366.4 249.9h33.6M366.4 252.1h33.6M366.4 253.6h33.6M366.4 255.8h33.6M366.4 260.2h33.6M366.4 261.6h33.6M366.4 266.8h33.6M366.4 267.5h33.6M366.4 268.2h33.6M366.4 270.4h33.6M366.4 273.3h33.6M366.4 275.5h33.6M366.4 277.7h33.6M366.4 279.9h33.6M366.4 280.6h33.6M366.4 282.8h33.6M366.4 285.8h33.6M366.4 291.6h33.6M366.4 292.3h33.6M366.4 293.1h33.6M366.4 295.3h33.6M366.4 297.5h33.6M366.4 301.1h33.6M366.4 305.5h33.6M366.4 306.2h33.6M366.4 307.0h33.6M366.4 310.6h33.6M366.4 311.4h33.6M366.4 312.1h33.6M366.4 317.2h33.6M366.4 318.7h33.6" stroke="#fbecd7" stroke-width="0.73"/>
<path d="M366.4 205.3h33.6M366.4 211.2h33.6M366.4 215.6h33.6M366.4 216.3h33.6M366.4 223.6h33.6M366.4 225.1h33.6M366.4 228.0h33.6M366.4 230.9h33.6M366.4 232.4h33.6M366.4 235.3h33.6M366.4 242.6h33.6M366.4 247.0h33.6M366.4 250.7h33.6M366.4 258.7h33.6M366.4 259.4h33.6M366.4 263.8h33.6M366.4 264.6h33.6M366.4 271.1h33.6M366.4 277.0h33.6M366.4 278.5h33.6M366.4 279.2h33.6M366.4 281.4h33.6M366.4 282.1h33.6M366.4 284.3h33.6M366.4 287.2h33.6M366.4 289.4h33.6M366.4 290.9h33.6M366.4 294.5h33.6M366.4 298.9h33.6M366.4 299.7h33.6M366.4 307.7h33.6M366.4 309.9h33.6M366.4 312.8h33.6M366.4 314.3h33.6M366.4 317.9h33.6M366.4 320.1h33.6" stroke="#e2faea" stroke-width="0.73"/>
<rect x="399.6" y="203.5" width="33.59" height="117" fill="#f8faee"/>
<path d="M399.6 203.9h33.6M399.6 206.8h33.6M399.6 216.3h33.6M399.6 217.0h33.6M399.6 217.8h33.6M399.6 221.4h33.6M399.6 225.1h33.6M399.6 229.5h33.6M399.6 230.2h33.6M399.6 234.6h33.6M399.6 241.2h33.6M399.6 246.3h33.6M399.6 249.2h33.6M399.6 253.6h33.6M399.6 257.2h33.6M399.6 260.2h33.6M399.6 260.9h33.6M399.6 263.8h33.6M399.6 272.6h33.6M399.6 274.1h33.6M399.6 276.3h33.6M399.6 283.6h33.6M399.6 295.3h33.6M399.6 296.0h33.6M399.6 296.7h33.6M399.6 297.5h33.6M399.6 309.9h33.6" stroke="#e8fbee" stroke-width="0.73"/>
<path d="M399.6 204.6h33.6M399.6 209.0h33.6M399.6 211.2h33.6M399.6 211.9h33.6M399.6 212.6h33.6M399.6 213.4h33.6M399.6 214.1h33.6M399.6 220.0h33.6M399.6 227.3h33.6M399.6 230.9h33.6M399.6 233.8h33.6M399.6 235.3h33.6M399.6 240.4h33.6M399.6 241.9h33.6M399.6 242.6h33.6M399.6 243.4h33.6M399.6 247.0h33.6M399.6 249.9h33.6M399.6 252.9h33.6M399.6 255.1h33.6M399.6 256.5h33.6M399.6 258.0h33.6M399.6 258.7h33.6M399.6 259.4h33.6M399.6 261.6h33.6M399.6 263.1h33.6M399.6 264.6h33.6M399.6 266.8h33.6M399.6 268.9h33.6M399.6 271.1h33.6M399.6 271.9h33.6M399.6 275.5h33.6M399.6 277.0h33.6M399.6 277.7h33.6M399.6 282.1h33.6M399.6 285.8h33.6M399.6 288.0h33.6M399.6 292.3h33.6M399.6 300.4h33.6M399.6 303.3h33.6M399.6 304.8h33.6M399.6 306.2h33.6M399.6 308.4h33.6M399.6 310.6h33.6M399.6 313.6h33.6M399.6 314.3h33.6M399.6 315.0h33.6M399.6 318.7h33.6M399.6 319.4h33.6" stroke="#fcf0de" stroke-width="0.73"/>
<rect x="432.9" y="203.5" width="33.59" height="117" fill="#fccc9e"/>
<path d="M432.9 203.9h33.6M432.9 205.3h33.6M432.9 211.9h33.6M432.9 212.6h33.6M432.9 213.4h33.6M432.9 215.6h33.6M432.9 216.3h33.6M432.9 220.7h33.6M432.9 221.4h33.6M432.9 222.1h33.6M432.9 228.0h33.6M432.9 229.5h33.6M432.9 231.7h33.6M432.9 232.4h33.6M432.9 233.8h33.6M432.9 234.6h33.6M432.9 235.3h33.6M432.9 236.0h33.6M432.9 239.7h33.6M432.9 243.4h33.6M432.9 245.5h33.6M432.9 249.9h33.6M432.9 250.7h33.6M432.9 254.3h33.6M432.9 257.2h33.6M432.9 258.7h33.6M432.9 260.2h33.6M432.9 263.1h33.6M432.9 266.0h33.6M432.9 268.9h33.6M432.9 273.3h33.6M432.9 274.8h33.6M432.9 277.0h33.6M432.9 278.5h33.6M432.9 280.6h33.6M432.9 284.3h33.6M432.9 286.5h33.6M432.9 287.2h33.6M432.9 290.9h33.6M432.9 294.5h33.6M432.9 296.0h33.6M432.9 298.9h33.6M432.9 300.4h33.6M432.9 301.1h33.6M432.9 301.9h33.6M432.9 307.0h33.6M432.9 307.7h33.6M432.9 309.9h33.6M432.9 311.4h33.6M432.9 312.1h33.6M432.9 317.2h33.6" stroke="#fdd6af" stroke-width="0.73"/>
<path d="M432.9 207.5h33.6M432.9 211.2h33.6M432.9 214.1h33.6M432.9 217.0h33.6M432.9 228.7h33.6M432.9 230.9h33.6M432.9 238.2h33.6M432.9 244.1h33.6M432.9 244.8h33.6M432.9 249.2h33.6M432.9 259.4h33.6M432.9 265.3h33.6M432.9 267.5h33.6M432.9 268.2h33.6M432.9 275.5h33.6M432.9 285.0h33.6M432.9 299.7h33.6M432.9 315.7h33.6" stroke="#fbc593" stroke-width="0.73"/>
<rect x="466.2" y="203.5" width="33.59" height="117" fill="#fdd8b4"/>
<path d="M466.2 204.6h33.6M466.2 208.3h33.6M466.2 211.2h33.6M466.2 214.1h33.6M466.2 214.8h33.6M466.2 220.0h33.6M466.2 220.7h33.6M466.2 225.8h33.6M466.2 230.2h33.6M466.2 233.8h33.6M466.2 235.3h33.6M466.2 237.5h33.6M466.2 242.6h33.6M466.2 246.3h33.6M466.2 247.0h33.6M466.2 248.5h33.6M466.2 249.2h33.6M466.2 257.2h33.6M466.2 259.4h33.6M466.2 263.1h33.6M466.2 263.8h33.6M466.2 268.2h33.6M466.2 274.1h33.6M466.2 276.3h33.6M466.2 277.0h33.6M466.2 277.7h33.6M466.2 278.5h33.6M466.2 280.6h33.6M466.2 284.3h33.6M466.2 289.4h33.6M466.2 291.6h33.6M466.2 293.1h33.6M466.2 297.5h33.6M466.2 301.1h33.6M466.2 307.7h33.6M466.2 309.9h33.6M466.2 310.6h33.6M466.2 312.1h33.6M466.2 317.9h33.6" stroke="#fde0c2" stroke-width="0.73"/>
<path d="M466.2 206.8h33.6M466.2 212.6h33.6M466.2 216.3h33.6M466.2 217.0h33.6M466.2 217.8h33.6M466.2 234.6h33.6M466.2 238.2h33.6M466.2 245.5h33.6M466.2 249.9h33.6M466.2 258.7h33.6M466.2 272.6h33.6M466.2 282.8h33.6M466.2 283.6h33.6M466.2 285.8h33.6M466.2 304.0h33.6M466.2 305.5h33.6M466.2 312.8h33.6M466.2 313.6h33.6M466.2 316.5h33.6" stroke="#fcd1a9" stroke-width="0.73"/>
<rect x="499.5" y="203.5" width="33.59" height="117" fill="#fcca9a"/>
<path d="M499.5 204.6h33.6M499.5 209.7h33.6M499.5 214.8h33.6M499.5 216.3h33.6M499.5 217.8h33.6M499.5 219.2h33.6M499.5 236.0h33.6M499.5 239.7h33.6M499.5 240.4h33.6M499.5 242.6h33.6M499.5 246.3h33.6M499.5 259.4h33.6M499.5 263.8h33.6M499.5 271.1h33.6M499.5 271.9h33.6M499.5 277.0h33.6M499.5 278.5h33.6M499.5 290.9h33.6M499.5 299.7h33.6M499.5 304.0h33.6M499.5 307.0h33.6M499.5 317.2h33.6M499.5 318.7h33.6M499.5 319.4h33.6" stroke="#fbc28f" stroke-width="0.73"/>
<path d="M499.5 206.1h33.6M499.5 207.5h33.6M499.5 210.4h33.6M499.5 214.1h33.6M499.5 215.6h33.6M499.5 223.6h33.6M499.5 228.0h33.6M499.5 229.5h33.6M499.5 232.4h33.6M499.5 233.1h33.6M499.5 233.8h33.6M499.5 234.6h33.6M499.5 236.8h33.6M499.5 237.5h33.6M499.5 249.9h33.6M499.5 251.4h33.6M499.5 252.1h33.6M499.5 257.2h33.6M499.5 258.7h33.6M499.5 261.6h33.6M499.5 269.7h33.6M499.5 270.4h33.6M499.5 272.6h33.6M499.5 275.5h33.6M499.5 277.7h33.6M499.5 279.9h33.6M499.5 284.3h33.6M499.5 285.0h33.6M499.5 286.5h33.6M499.5 292.3h33.6M499.5 293.1h33.6M499.5 295.3h33.6M499.5 296.7h33.6M499.5 298.2h33.6M499.5 301.1h33.6M499.5 301.9h33.6M499.5 302.6h33.6M499.5 304.8h33.6M499.5 306.2h33.6M499.5 307.7h33.6M499.5 308.4h33.6M499.5 309.2h33.6M499.5 310.6h33.6M499.5 311.4h33.6M499.5 320.1h33.6" stroke="#fdd5ac" stroke-width="0.73"/>
<text font-size="8.7" text-anchor="middle" fill="#222" stroke="#222" transform="translate(249.8,332) scale(1,1.1)" >LR−1</text>
<text font-size="8.7" text-anchor="middle" fill="#222" stroke="#222" transform="translate(283.1,332) scale(1,1.1)" >LR−2</text>
<text font-size="8.7" text-anchor="middle" fill="#222" stroke="#222" transform="translate(316.4,332) scale(1,1.1)" >LR−3</text>
<text font-size="8.7" text-anchor="middle" fill="#222" stroke="#222" transform="translate(349.7,332) scale(1,1.1)" >MR−1</text>
<text font-size="8.7" text-anchor="middle" fill="#222" stroke="#222" transform="translate(383,332) scale(1,1.1)" >MR−2</text>
<text font-size="8.7" text-anchor="middle" fill="#222" stroke="#222" transform="translate(416.3,332) scale(1,1.1)" >MR−3</text>
<text font-size="8.7" text-anchor="middle" fill="#222" stroke="#222" transform="translate(449.6,332) scale(1,1.1)" >HR−1</text>
<text font-size="8.7" text-anchor="middle" fill="#222" stroke="#222" transform="translate(482.9,332) scale(1,1.1)" >HR−2</text>
<text font-size="8.7" text-anchor="middle" fill="#222" stroke="#222" transform="translate(516.2,332) scale(1,1.1)" >HR−3</text>
<path d="M250.2 203.5L250.2 193.8M250.2 193.8L387.0 193.8M283.5 203.5L283.5 196.3M316.7 203.5L316.7 196.3M283.5 196.3L316.7 196.3M299.7 196.3L299.7 193.8M341.2 193.8L341.2 181.7M341.2 181.7L491.4 181.7M491.4 181.7L491.4 193.5M349.9 203.5L349.9 196.3M349.9 196.3L400.0 196.3M387.0 196.3L387.0 193.8M383.2 203.5L383.2 197.6M416.4 203.5L416.4 197.6M383.2 197.6L416.4 197.6M400.0 197.6L400.0 196.3M466.3 193.5L516.1 193.5M516.1 203.5L516.1 193.5M449.6 203.5L449.6 195.2M482.9 203.5L482.9 195.2M449.6 195.2L482.9 195.2M466.3 195.2L466.3 193.5" stroke="#8a8a8a" stroke-width="0.9" fill="none"/>
<path d="M231.5 203.5 Q229.0 203.5 229.0 207.5 L229.0 257.3 Q229.0 261.1 226.4 262.3 Q229.0 263.5 229.0 267.3 L229.0 316.5 Q229.0 320.5 231.5 320.5" stroke="#888" stroke-width="1.0" fill="none"/>
<text font-size="9.4" text-anchor="end" fill="#222" stroke="#222" transform="translate(225.2,265.1) scale(1,1.1)" >Up</text>
<defs><linearGradient id="g203" x1="0" x2="1" y1="0" y2="0"><stop offset="0" stop-color="#3aea9c"/><stop offset="0.25" stop-color="#9ef4cc"/><stop offset="0.46" stop-color="#e8fbf1"/><stop offset="0.47" stop-color="#ffffff"/><stop offset="0.515" stop-color="#ffffff"/><stop offset="0.525" stop-color="#fdf0e2"/><stop offset="0.75" stop-color="#f9c295"/><stop offset="1" stop-color="#f5821f"/></linearGradient></defs>
<rect x="233" y="336" width="300" height="6.6" fill="url(#g203)"/>
<text font-size="8.7" text-anchor="middle" fill="#222" stroke="#222" transform="translate(261,351.7) scale(1,1.1)" >−2</text>
<text font-size="8.7" text-anchor="middle" fill="#222" stroke="#222" transform="translate(322,351.7) scale(1,1.1)" >−1</text>
<text font-size="8.7" text-anchor="middle" fill="#222" stroke="#222" transform="translate(383.6,351.7) scale(1,1.1)" >0</text>
<text font-size="8.7" text-anchor="middle" fill="#222" stroke="#222" transform="translate(445,351.7) scale(1,1.1)" >1</text>
<text font-size="8.7" text-anchor="middle" fill="#222" stroke="#222" transform="translate(506,351.7) scale(1,1.1)" >2</text>
<rect x="237.3" y="551.8" width="33.27" height="115.7" fill="#fbc28c"/>
<path d="M237.3 553.6h33.3M237.3 555.1h33.3M237.3 558.7h33.3M237.3 561.6h33.3M237.3 563.0h33.3M237.3 563.7h33.3M237.3 566.6h33.3M237.3 567.3h33.3M237.3 573.1h33.3M237.3 573.9h33.3M237.3 584.7h33.3M237.3 589.8h33.3M237.3 591.2h33.3M237.3 592.7h33.3M237.3 613.6h33.3M237.3 615.8h33.3M237.3 622.3h33.3M237.3 626.6h33.3M237.3 630.3h33.3M237.3 634.6h33.3M237.3 638.9h33.3M237.3 639.7h33.3M237.3 640.4h33.3M237.3 643.3h33.3M237.3 646.2h33.3M237.3 648.3h33.3M237.3 650.5h33.3M237.3 658.5h33.3M237.3 660.6h33.3M237.3 661.4h33.3M237.3 662.8h33.3" stroke="#f9ba81" stroke-width="0.72"/>
<path d="M237.3 555.8h33.3M237.3 557.9h33.3M237.3 560.8h33.3M237.3 565.2h33.3M237.3 568.1h33.3M237.3 570.2h33.3M237.3 574.6h33.3M237.3 575.3h33.3M237.3 578.9h33.3M237.3 579.6h33.3M237.3 580.4h33.3M237.3 584.0h33.3M237.3 586.9h33.3M237.3 587.6h33.3M237.3 593.4h33.3M237.3 595.5h33.3M237.3 597.0h33.3M237.3 597.7h33.3M237.3 599.2h33.3M237.3 602.8h33.3M237.3 603.5h33.3M237.3 604.9h33.3M237.3 607.1h33.3M237.3 612.9h33.3M237.3 614.4h33.3M237.3 618.0h33.3M237.3 623.0h33.3M237.3 623.8h33.3M237.3 627.4h33.3M237.3 628.1h33.3M237.3 629.5h33.3M237.3 632.4h33.3M237.3 633.9h33.3M237.3 636.0h33.3M237.3 638.2h33.3M237.3 641.1h33.3M237.3 644.0h33.3M237.3 646.9h33.3M237.3 649.8h33.3M237.3 654.8h33.3M237.3 656.3h33.3M237.3 657.0h33.3M237.3 663.5h33.3M237.3 665.7h33.3" stroke="#fccc9c" stroke-width="0.72"/>
<rect x="270.3" y="551.8" width="33.27" height="115.7" fill="#fbc692"/>
<path d="M270.3 552.2h33.3M270.3 555.8h33.3M270.3 562.3h33.3M270.3 566.6h33.3M270.3 579.6h33.3M270.3 584.0h33.3M270.3 585.4h33.3M270.3 587.6h33.3M270.3 591.9h33.3M270.3 592.7h33.3M270.3 593.4h33.3M270.3 595.5h33.3M270.3 601.3h33.3M270.3 602.1h33.3M270.3 614.4h33.3M270.3 627.4h33.3M270.3 628.8h33.3M270.3 631.7h33.3M270.3 632.4h33.3M270.3 635.3h33.3M270.3 636.0h33.3M270.3 637.5h33.3M270.3 640.4h33.3M270.3 642.6h33.3M270.3 644.7h33.3M270.3 645.4h33.3M270.3 649.8h33.3M270.3 651.2h33.3M270.3 652.7h33.3M270.3 653.4h33.3M270.3 657.7h33.3M270.3 661.4h33.3M270.3 662.8h33.3" stroke="#fabe87" stroke-width="0.72"/>
<path d="M270.3 556.5h33.3M270.3 557.9h33.3M270.3 558.7h33.3M270.3 560.1h33.3M270.3 561.6h33.3M270.3 565.2h33.3M270.3 565.9h33.3M270.3 568.1h33.3M270.3 568.8h33.3M270.3 569.5h33.3M270.3 571.0h33.3M270.3 572.4h33.3M270.3 573.9h33.3M270.3 575.3h33.3M270.3 578.9h33.3M270.3 582.5h33.3M270.3 584.7h33.3M270.3 586.9h33.3M270.3 589.0h33.3M270.3 589.8h33.3M270.3 594.1h33.3M270.3 597.7h33.3M270.3 599.2h33.3M270.3 599.9h33.3M270.3 600.6h33.3M270.3 603.5h33.3M270.3 604.2h33.3M270.3 605.7h33.3M270.3 606.4h33.3M270.3 615.1h33.3M270.3 618.0h33.3M270.3 618.7h33.3M270.3 623.8h33.3M270.3 624.5h33.3M270.3 628.1h33.3M270.3 629.5h33.3M270.3 633.2h33.3M270.3 633.9h33.3M270.3 636.8h33.3M270.3 638.2h33.3M270.3 643.3h33.3M270.3 644.0h33.3M270.3 646.9h33.3M270.3 650.5h33.3M270.3 652.0h33.3M270.3 654.8h33.3M270.3 656.3h33.3M270.3 658.5h33.3M270.3 659.9h33.3M270.3 663.5h33.3M270.3 665.0h33.3M270.3 667.1h33.3" stroke="#fcd0a3" stroke-width="0.72"/>
<rect x="303.2" y="551.8" width="33.27" height="115.7" fill="#fbcc9b"/>
<path d="M303.2 552.2h33.3M303.2 553.6h33.3M303.2 555.1h33.3M303.2 555.8h33.3M303.2 556.5h33.3M303.2 557.2h33.3M303.2 560.8h33.3M303.2 565.2h33.3M303.2 565.9h33.3M303.2 569.5h33.3M303.2 570.2h33.3M303.2 572.4h33.3M303.2 575.3h33.3M303.2 576.0h33.3M303.2 580.4h33.3M303.2 581.1h33.3M303.2 581.8h33.3M303.2 583.3h33.3M303.2 584.7h33.3M303.2 586.1h33.3M303.2 586.9h33.3M303.2 590.5h33.3M303.2 594.8h33.3M303.2 597.7h33.3M303.2 599.9h33.3M303.2 600.6h33.3M303.2 604.2h33.3M303.2 605.7h33.3M303.2 606.4h33.3M303.2 607.8h33.3M303.2 608.6h33.3M303.2 613.6h33.3M303.2 614.4h33.3M303.2 615.1h33.3M303.2 615.8h33.3M303.2 616.5h33.3M303.2 617.2h33.3M303.2 619.4h33.3M303.2 620.1h33.3M303.2 620.9h33.3M303.2 623.8h33.3M303.2 625.2h33.3M303.2 628.1h33.3M303.2 628.8h33.3M303.2 630.3h33.3M303.2 634.6h33.3M303.2 636.0h33.3M303.2 636.8h33.3M303.2 638.9h33.3M303.2 639.7h33.3M303.2 644.7h33.3M303.2 645.4h33.3M303.2 646.2h33.3M303.2 648.3h33.3M303.2 649.8h33.3M303.2 651.2h33.3M303.2 652.0h33.3M303.2 652.7h33.3M303.2 657.0h33.3M303.2 659.2h33.3M303.2 659.9h33.3M303.2 664.2h33.3M303.2 665.7h33.3M303.2 666.4h33.3" stroke="#fcd7af" stroke-width="0.72"/>
<path d="M303.2 563.7h33.3M303.2 566.6h33.3M303.2 568.8h33.3M303.2 571.0h33.3M303.2 571.7h33.3M303.2 578.9h33.3M303.2 589.0h33.3M303.2 592.7h33.3M303.2 599.2h33.3M303.2 602.1h33.3M303.2 604.9h33.3M303.2 609.3h33.3M303.2 622.3h33.3M303.2 631.0h33.3M303.2 632.4h33.3M303.2 633.9h33.3M303.2 637.5h33.3M303.2 643.3h33.3M303.2 644.0h33.3M303.2 654.1h33.3M303.2 658.5h33.3M303.2 662.1h33.3" stroke="#fac490" stroke-width="0.72"/>
<rect x="336.2" y="551.8" width="33.27" height="115.7" fill="#d7fce9"/>
<path d="M336.2 552.2h33.3M336.2 552.9h33.3M336.2 555.1h33.3M336.2 558.7h33.3M336.2 563.7h33.3M336.2 567.3h33.3M336.2 569.5h33.3M336.2 571.7h33.3M336.2 573.1h33.3M336.2 574.6h33.3M336.2 576.0h33.3M336.2 576.7h33.3M336.2 578.2h33.3M336.2 579.6h33.3M336.2 580.4h33.3M336.2 582.5h33.3M336.2 584.0h33.3M336.2 584.7h33.3M336.2 589.8h33.3M336.2 590.5h33.3M336.2 592.7h33.3M336.2 593.4h33.3M336.2 596.3h33.3M336.2 598.4h33.3M336.2 600.6h33.3M336.2 602.8h33.3M336.2 603.5h33.3M336.2 604.9h33.3M336.2 605.7h33.3M336.2 607.1h33.3M336.2 612.2h33.3M336.2 613.6h33.3M336.2 616.5h33.3M336.2 618.0h33.3M336.2 619.4h33.3M336.2 621.6h33.3M336.2 625.2h33.3M336.2 625.9h33.3M336.2 627.4h33.3M336.2 628.8h33.3M336.2 629.5h33.3M336.2 631.7h33.3M336.2 633.2h33.3M336.2 633.9h33.3M336.2 636.8h33.3M336.2 637.5h33.3M336.2 638.2h33.3M336.2 638.9h33.3M336.2 640.4h33.3M336.2 642.6h33.3M336.2 643.3h33.3M336.2 645.4h33.3M336.2 648.3h33.3M336.2 653.4h33.3M336.2 655.6h33.3M336.2 657.7h33.3M336.2 658.5h33.3M336.2 659.2h33.3M336.2 660.6h33.3M336.2 662.1h33.3M336.2 662.8h33.3M336.2 666.4h33.3" stroke="#ecfdf3" stroke-width="0.72"/>
<path d="M336.2 555.8h33.3M336.2 557.9h33.3M336.2 560.8h33.3M336.2 564.5h33.3M336.2 565.9h33.3M336.2 572.4h33.3M336.2 573.9h33.3M336.2 575.3h33.3M336.2 581.8h33.3M336.2 597.0h33.3M336.2 599.2h33.3M336.2 601.3h33.3M336.2 602.1h33.3M336.2 604.2h33.3M336.2 606.4h33.3M336.2 609.3h33.3M336.2 611.5h33.3M336.2 615.8h33.3M336.2 620.1h33.3M336.2 622.3h33.3M336.2 626.6h33.3M336.2 628.1h33.3M336.2 639.7h33.3M336.2 641.8h33.3M336.2 649.1h33.3M336.2 651.2h33.3M336.2 657.0h33.3" stroke="#c6fae0" stroke-width="0.72"/>
<rect x="369.2" y="551.8" width="33.27" height="115.7" fill="#f0fcf0"/>
<path d="M369.2 553.6h33.3M369.2 562.3h33.3M369.2 563.7h33.3M369.2 564.5h33.3M369.2 566.6h33.3M369.2 571.7h33.3M369.2 572.4h33.3M369.2 583.3h33.3M369.2 586.1h33.3M369.2 589.0h33.3M369.2 590.5h33.3M369.2 598.4h33.3M369.2 599.2h33.3M369.2 603.5h33.3M369.2 608.6h33.3M369.2 609.3h33.3M369.2 615.1h33.3M369.2 617.2h33.3M369.2 620.9h33.3M369.2 624.5h33.3M369.2 630.3h33.3M369.2 631.7h33.3M369.2 638.9h33.3M369.2 640.4h33.3M369.2 644.0h33.3M369.2 646.9h33.3M369.2 648.3h33.3M369.2 649.1h33.3M369.2 651.2h33.3M369.2 654.8h33.3M369.2 657.0h33.3M369.2 659.2h33.3M369.2 659.9h33.3M369.2 667.1h33.3" stroke="#e2fbec" stroke-width="0.72"/>
<path d="M369.2 557.2h33.3M369.2 557.9h33.3M369.2 560.8h33.3M369.2 561.6h33.3M369.2 563.0h33.3M369.2 565.2h33.3M369.2 565.9h33.3M369.2 571.0h33.3M369.2 573.9h33.3M369.2 574.6h33.3M369.2 575.3h33.3M369.2 576.0h33.3M369.2 578.9h33.3M369.2 580.4h33.3M369.2 581.1h33.3M369.2 584.0h33.3M369.2 585.4h33.3M369.2 587.6h33.3M369.2 589.8h33.3M369.2 591.9h33.3M369.2 593.4h33.3M369.2 597.0h33.3M369.2 600.6h33.3M369.2 602.1h33.3M369.2 602.8h33.3M369.2 604.2h33.3M369.2 605.7h33.3M369.2 606.4h33.3M369.2 607.1h33.3M369.2 607.8h33.3M369.2 610.7h33.3M369.2 615.8h33.3M369.2 616.5h33.3M369.2 618.0h33.3M369.2 623.0h33.3M369.2 625.2h33.3M369.2 631.0h33.3M369.2 633.2h33.3M369.2 633.9h33.3M369.2 634.6h33.3M369.2 635.3h33.3M369.2 639.7h33.3M369.2 641.1h33.3M369.2 642.6h33.3M369.2 644.7h33.3M369.2 647.6h33.3M369.2 652.0h33.3M369.2 652.7h33.3M369.2 657.7h33.3M369.2 661.4h33.3M369.2 662.1h33.3M369.2 665.0h33.3M369.2 665.7h33.3" stroke="#faf2e2" stroke-width="0.72"/>
<rect x="402.1" y="551.8" width="33.27" height="115.7" fill="#e4fcee"/>
<path d="M402.1 553.6h33.3M402.1 556.5h33.3M402.1 567.3h33.3M402.1 568.1h33.3M402.1 571.0h33.3M402.1 578.9h33.3M402.1 579.6h33.3M402.1 582.5h33.3M402.1 584.7h33.3M402.1 585.4h33.3M402.1 593.4h33.3M402.1 598.4h33.3M402.1 599.2h33.3M402.1 599.9h33.3M402.1 603.5h33.3M402.1 613.6h33.3M402.1 618.0h33.3M402.1 625.2h33.3M402.1 625.9h33.3M402.1 633.9h33.3M402.1 641.1h33.3M402.1 642.6h33.3M402.1 645.4h33.3M402.1 647.6h33.3M402.1 648.3h33.3M402.1 652.0h33.3M402.1 654.8h33.3M402.1 659.9h33.3M402.1 662.8h33.3" stroke="#d4fbe6" stroke-width="0.72"/>
<path d="M402.1 554.3h33.3M402.1 558.7h33.3M402.1 559.4h33.3M402.1 560.1h33.3M402.1 561.6h33.3M402.1 564.5h33.3M402.1 570.2h33.3M402.1 571.7h33.3M402.1 574.6h33.3M402.1 576.0h33.3M402.1 577.5h33.3M402.1 578.2h33.3M402.1 581.8h33.3M402.1 584.0h33.3M402.1 586.1h33.3M402.1 586.9h33.3M402.1 587.6h33.3M402.1 589.0h33.3M402.1 591.9h33.3M402.1 602.8h33.3M402.1 604.2h33.3M402.1 604.9h33.3M402.1 607.1h33.3M402.1 607.8h33.3M402.1 608.6h33.3M402.1 609.3h33.3M402.1 612.9h33.3M402.1 615.8h33.3M402.1 616.5h33.3M402.1 617.2h33.3M402.1 620.1h33.3M402.1 621.6h33.3M402.1 622.3h33.3M402.1 623.0h33.3M402.1 629.5h33.3M402.1 630.3h33.3M402.1 631.7h33.3M402.1 632.4h33.3M402.1 634.6h33.3M402.1 636.0h33.3M402.1 640.4h33.3M402.1 643.3h33.3M402.1 646.2h33.3M402.1 646.9h33.3M402.1 649.8h33.3M402.1 654.1h33.3M402.1 655.6h33.3M402.1 657.0h33.3M402.1 658.5h33.3M402.1 659.2h33.3M402.1 662.1h33.3" stroke="#f4fdf6" stroke-width="0.72"/>
<rect x="435.1" y="551.8" width="33.27" height="115.7" fill="#8cf8cc"/>
<path d="M435.1 552.9h33.3M435.1 557.9h33.3M435.1 560.8h33.3M435.1 568.1h33.3M435.1 568.8h33.3M435.1 572.4h33.3M435.1 574.6h33.3M435.1 575.3h33.3M435.1 576.0h33.3M435.1 578.2h33.3M435.1 578.9h33.3M435.1 581.8h33.3M435.1 582.5h33.3M435.1 587.6h33.3M435.1 593.4h33.3M435.1 596.3h33.3M435.1 597.7h33.3M435.1 599.9h33.3M435.1 600.6h33.3M435.1 604.9h33.3M435.1 607.8h33.3M435.1 608.6h33.3M435.1 610.0h33.3M435.1 613.6h33.3M435.1 614.4h33.3M435.1 615.1h33.3M435.1 616.5h33.3M435.1 620.1h33.3M435.1 621.6h33.3M435.1 628.8h33.3M435.1 630.3h33.3M435.1 633.2h33.3M435.1 638.2h33.3M435.1 638.9h33.3M435.1 640.4h33.3M435.1 641.8h33.3M435.1 648.3h33.3M435.1 649.1h33.3M435.1 649.8h33.3M435.1 650.5h33.3M435.1 655.6h33.3M435.1 659.2h33.3M435.1 662.8h33.3M435.1 665.7h33.3M435.1 666.4h33.3" stroke="#9cf9d4" stroke-width="0.72"/>
<path d="M435.1 563.7h33.3M435.1 565.2h33.3M435.1 565.9h33.3M435.1 573.1h33.3M435.1 586.9h33.3M435.1 589.0h33.3M435.1 590.5h33.3M435.1 597.0h33.3M435.1 602.1h33.3M435.1 603.5h33.3M435.1 604.2h33.3M435.1 612.2h33.3M435.1 618.0h33.3M435.1 623.0h33.3M435.1 625.2h33.3M435.1 627.4h33.3M435.1 631.0h33.3M435.1 633.9h33.3M435.1 636.0h33.3M435.1 644.7h33.3M435.1 646.9h33.3M435.1 654.1h33.3M435.1 654.8h33.3M435.1 658.5h33.3M435.1 665.0h33.3" stroke="#81f7c7" stroke-width="0.72"/>
<rect x="468.1" y="551.8" width="33.27" height="115.7" fill="#96f8d0"/>
<path d="M468.1 552.2h33.3M468.1 552.9h33.3M468.1 553.6h33.3M468.1 555.1h33.3M468.1 556.5h33.3M468.1 557.9h33.3M468.1 560.1h33.3M468.1 560.8h33.3M468.1 563.7h33.3M468.1 567.3h33.3M468.1 571.0h33.3M468.1 571.7h33.3M468.1 573.9h33.3M468.1 576.7h33.3M468.1 577.5h33.3M468.1 579.6h33.3M468.1 580.4h33.3M468.1 581.1h33.3M468.1 587.6h33.3M468.1 589.0h33.3M468.1 598.4h33.3M468.1 600.6h33.3M468.1 602.8h33.3M468.1 604.2h33.3M468.1 606.4h33.3M468.1 612.2h33.3M468.1 618.7h33.3M468.1 622.3h33.3M468.1 623.8h33.3M468.1 627.4h33.3M468.1 628.1h33.3M468.1 630.3h33.3M468.1 631.0h33.3M468.1 634.6h33.3M468.1 644.7h33.3M468.1 646.9h33.3M468.1 650.5h33.3M468.1 651.2h33.3M468.1 653.4h33.3M468.1 655.6h33.3M468.1 657.0h33.3M468.1 660.6h33.3M468.1 662.1h33.3M468.1 665.0h33.3M468.1 665.7h33.3" stroke="#a6f9d8" stroke-width="0.72"/>
<path d="M468.1 563.0h33.3M468.1 573.1h33.3M468.1 578.2h33.3M468.1 593.4h33.3M468.1 594.1h33.3M468.1 603.5h33.3M468.1 605.7h33.3M468.1 608.6h33.3M468.1 610.0h33.3M468.1 615.1h33.3M468.1 616.5h33.3M468.1 620.9h33.3M468.1 623.0h33.3M468.1 625.2h33.3M468.1 625.9h33.3M468.1 626.6h33.3M468.1 652.0h33.3M468.1 652.7h33.3M468.1 657.7h33.3M468.1 664.2h33.3" stroke="#8bf7cb" stroke-width="0.72"/>
<rect x="501" y="551.8" width="33.27" height="115.7" fill="#a2f9d6"/>
<path d="M501.0 553.6h33.3M501.0 555.8h33.3M501.0 557.9h33.3M501.0 559.4h33.3M501.0 560.1h33.3M501.0 560.8h33.3M501.0 563.0h33.3M501.0 563.7h33.3M501.0 565.2h33.3M501.0 565.9h33.3M501.0 571.0h33.3M501.0 576.7h33.3M501.0 579.6h33.3M501.0 580.4h33.3M501.0 590.5h33.3M501.0 591.2h33.3M501.0 592.7h33.3M501.0 594.8h33.3M501.0 595.5h33.3M501.0 597.7h33.3M501.0 599.2h33.3M501.0 604.2h33.3M501.0 605.7h33.3M501.0 606.4h33.3M501.0 607.1h33.3M501.0 612.2h33.3M501.0 616.5h33.3M501.0 617.2h33.3M501.0 618.0h33.3M501.0 623.8h33.3M501.0 630.3h33.3M501.0 633.2h33.3M501.0 636.0h33.3M501.0 639.7h33.3M501.0 640.4h33.3M501.0 641.8h33.3M501.0 646.9h33.3M501.0 647.6h33.3M501.0 649.1h33.3M501.0 649.8h33.3M501.0 660.6h33.3M501.0 661.4h33.3M501.0 663.5h33.3M501.0 665.0h33.3M501.0 665.7h33.3M501.0 667.1h33.3" stroke="#b0fade" stroke-width="0.72"/>
<path d="M501.0 573.1h33.3M501.0 575.3h33.3M501.0 598.4h33.3M501.0 600.6h33.3M501.0 610.0h33.3M501.0 610.7h33.3M501.0 614.4h33.3M501.0 619.4h33.3M501.0 624.5h33.3M501.0 627.4h33.3M501.0 631.7h33.3M501.0 633.9h33.3M501.0 635.3h33.3M501.0 638.9h33.3M501.0 643.3h33.3M501.0 645.4h33.3M501.0 646.2h33.3M501.0 648.3h33.3M501.0 652.7h33.3M501.0 655.6h33.3M501.0 659.9h33.3M501.0 662.1h33.3" stroke="#97f8d1" stroke-width="0.72"/>
<text font-size="8.7" text-anchor="middle" fill="#222" stroke="#222" transform="translate(253.8,680.1) scale(1,1.1)" >LR−1</text>
<text font-size="8.7" text-anchor="middle" fill="#222" stroke="#222" transform="translate(286.8,680.1) scale(1,1.1)" >LR−2</text>
<text font-size="8.7" text-anchor="middle" fill="#222" stroke="#222" transform="translate(319.7,680.1) scale(1,1.1)" >LR−3</text>
<text font-size="8.7" text-anchor="middle" fill="#222" stroke="#222" transform="translate(352.7,680.1) scale(1,1.1)" >MR−1</text>
<text font-size="8.7" text-anchor="middle" fill="#222" stroke="#222" transform="translate(385.7,680.1) scale(1,1.1)" >MR−2</text>
<text font-size="8.7" text-anchor="middle" fill="#222" stroke="#222" transform="translate(418.6,680.1) scale(1,1.1)" >MR−3</text>
<text font-size="8.7" text-anchor="middle" fill="#222" stroke="#222" transform="translate(451.6,680.1) scale(1,1.1)" >HR−1</text>
<text font-size="8.7" text-anchor="middle" fill="#222" stroke="#222" transform="translate(484.6,680.1) scale(1,1.1)" >HR−2</text>
<text font-size="8.7" text-anchor="middle" fill="#222" stroke="#222" transform="translate(517.5,680.1) scale(1,1.1)" >HR−3</text>
<path d="M254.2 551.8L254.2 539.2M254.2 539.2L303.5 539.2M286.6 551.8L286.6 541.8M319.5 551.8L319.5 541.8M286.6 541.8L319.5 541.8M303.5 541.8L303.5 538.2M276.8 538.2L377.3 538.2M276.8 538.2L276.8 539.2M326.4 538.2L326.4 530.3M326.4 530.3L493.5 530.3M493.5 530.3L493.5 543.2M352.4 551.8L352.4 541.8M352.4 541.8L403.3 541.8M377.3 541.8L377.3 538.2M385.3 551.8L385.3 543.3M418.8 551.8L418.8 543.3M385.3 543.3L418.8 543.3M403.3 543.3L403.3 541.8M451.3 551.8L451.3 544.9M484.5 551.8L484.5 544.9M451.3 544.9L484.5 544.9M468.7 544.9L468.7 543.2M468.7 543.2L518.0 543.2M518.0 551.8L518.0 543.2" stroke="#8a8a8a" stroke-width="0.9" fill="none"/>
<path d="M235.2 551.8 Q232.7 551.8 232.7 555.8 L232.7 604.6 Q232.7 608.4 230.3 609.6 Q232.7 610.8 232.7 614.6 L232.7 663.5 Q232.7 667.5 235.2 667.5" stroke="#888" stroke-width="1.0" fill="none"/>
<text font-size="9.4" text-anchor="end" fill="#222" stroke="#222" transform="translate(229,612.4) scale(1,1.1)" >Down</text>
<defs><linearGradient id="g551" x1="0" x2="1" y1="0" y2="0"><stop offset="0" stop-color="#3aea9c"/><stop offset="0.25" stop-color="#9ef4cc"/><stop offset="0.46" stop-color="#e8fbf1"/><stop offset="0.47" stop-color="#ffffff"/><stop offset="0.515" stop-color="#ffffff"/><stop offset="0.525" stop-color="#fdf0e2"/><stop offset="0.75" stop-color="#f9c295"/><stop offset="1" stop-color="#f5821f"/></linearGradient></defs>
<rect x="237.1" y="683.8" width="297.5" height="7.2" fill="url(#g551)"/>
<text font-size="8.7" text-anchor="middle" fill="#222" stroke="#222" transform="translate(265.5,700.4) scale(1,1.1)" >−2</text>
<text font-size="8.7" text-anchor="middle" fill="#222" stroke="#222" transform="translate(326.2,700.4) scale(1,1.1)" >−1</text>
<text font-size="8.7" text-anchor="middle" fill="#222" stroke="#222" transform="translate(386.2,700.4) scale(1,1.1)" >0</text>
<text font-size="8.7" text-anchor="middle" fill="#222" stroke="#222" transform="translate(446.5,700.4) scale(1,1.1)" >1</text>
<text font-size="8.7" text-anchor="middle" fill="#222" stroke="#222" transform="translate(507.5,700.4) scale(1,1.1)" >2</text>
<rect x="4.3" y="6.5" width="540.5" height="695" fill="none" stroke="#111" stroke-width="1.4"/>
<line x1="4.3" y1="177.6" x2="544.8" y2="177.6" stroke="#111" stroke-width="1.4" stroke-dasharray="4.2 2.4"/>
<line x1="4.3" y1="355.8" x2="544.8" y2="355.8" stroke="#111" stroke-width="1.4" stroke-dasharray="4.2 2.4"/>
<line x1="4.3" y1="523.9" x2="544.8" y2="523.9" stroke="#111" stroke-width="1.4" stroke-dasharray="4.2 2.4"/>
<text x="12" y="24" font-size="12" font-weight="bold" fill="#111">A</text>
<text x="12.7" y="192.7" font-size="12" font-weight="bold" fill="#111">B</text>
<text x="11.8" y="371.4" font-size="12" font-weight="bold" fill="#111">C</text>
<text x="11.8" y="540" font-size="12" font-weight="bold" fill="#111">D</text></svg></body></html>
